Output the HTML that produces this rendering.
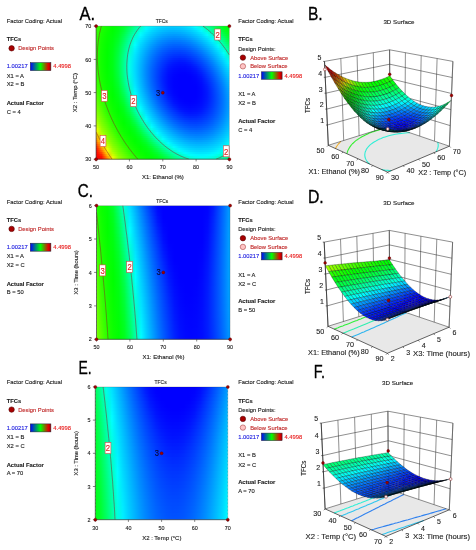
<!DOCTYPE html>
<html><head><meta charset="utf-8"><title>TFCs response surface</title>
<style>html,body{margin:0;padding:0;background:#fff}svg{display:block;font-family:"Liberation Sans", sans-serif}</style></head>
<body><svg width="476" height="550" viewBox="0 0 476 550">
<defs><linearGradient id="lg" x1="0" x2="1" y1="0" y2="0"><stop offset="0" stop-color="#0000ff"/><stop offset="0.5" stop-color="#00ff00"/><stop offset="0.88" stop-color="#e60000"/><stop offset="1" stop-color="#a80000"/></linearGradient><clipPath id="cp0"><rect x="96.1" y="26.1" width="133.3" height="133.1"/></clipPath><linearGradient id="g1"><stop offset="0" stop-color="#42ff00"/><stop offset="0.04167" stop-color="#1fff00"/><stop offset="0.08333" stop-color="#0dff00"/><stop offset="0.125" stop-color="#00ff00"/><stop offset="0.1667" stop-color="#00ff10"/><stop offset="0.2083" stop-color="#00ff2c"/><stop offset="0.25" stop-color="#00ff5b"/><stop offset="0.2917" stop-color="#00ff90"/><stop offset="0.3333" stop-color="#00ffc2"/><stop offset="0.375" stop-color="#00fff6"/><stop offset="0.4167" stop-color="#00ecff"/><stop offset="0.4583" stop-color="#00dbff"/><stop offset="0.5" stop-color="#00d0ff"/><stop offset="0.5417" stop-color="#00caff"/><stop offset="0.5833" stop-color="#00c9ff"/><stop offset="0.625" stop-color="#00cdff"/><stop offset="0.6667" stop-color="#00d6ff"/><stop offset="0.7083" stop-color="#00e5ff"/><stop offset="0.75" stop-color="#00fcff"/><stop offset="0.7917" stop-color="#00ffd7"/><stop offset="0.8333" stop-color="#00ffa2"/><stop offset="0.875" stop-color="#00ff6f"/><stop offset="0.9167" stop-color="#00ff3c"/><stop offset="0.9583" stop-color="#00ff18"/><stop offset="1" stop-color="#00ff05"/></linearGradient><linearGradient id="g2"><stop offset="0" stop-color="#3fff00"/><stop offset="0.04167" stop-color="#1dff00"/><stop offset="0.08333" stop-color="#0cff00"/><stop offset="0.125" stop-color="#00ff01"/><stop offset="0.1667" stop-color="#00ff13"/><stop offset="0.2083" stop-color="#00ff34"/><stop offset="0.25" stop-color="#00ff67"/><stop offset="0.2917" stop-color="#00ff9d"/><stop offset="0.3333" stop-color="#00ffd5"/><stop offset="0.375" stop-color="#00faff"/><stop offset="0.4167" stop-color="#00e1ff"/><stop offset="0.4583" stop-color="#00d0ff"/><stop offset="0.5" stop-color="#00c5ff"/><stop offset="0.5417" stop-color="#00bfff"/><stop offset="0.5833" stop-color="#00beff"/><stop offset="0.625" stop-color="#00c1ff"/><stop offset="0.6667" stop-color="#00caff"/><stop offset="0.7083" stop-color="#00d7ff"/><stop offset="0.75" stop-color="#00ebff"/><stop offset="0.7917" stop-color="#00fff2"/><stop offset="0.8333" stop-color="#00ffb9"/><stop offset="0.875" stop-color="#00ff84"/><stop offset="0.9167" stop-color="#00ff4e"/><stop offset="0.9583" stop-color="#00ff21"/><stop offset="1" stop-color="#00ff0a"/></linearGradient><linearGradient id="g3"><stop offset="0" stop-color="#3cff00"/><stop offset="0.04167" stop-color="#1bff00"/><stop offset="0.08333" stop-color="#0bff00"/><stop offset="0.125" stop-color="#00ff03"/><stop offset="0.1667" stop-color="#00ff17"/><stop offset="0.2083" stop-color="#00ff3c"/><stop offset="0.25" stop-color="#00ff72"/><stop offset="0.2917" stop-color="#00ffa9"/><stop offset="0.3333" stop-color="#00ffe7"/><stop offset="0.375" stop-color="#00efff"/><stop offset="0.4167" stop-color="#00d7ff"/><stop offset="0.4583" stop-color="#00c7ff"/><stop offset="0.5" stop-color="#00bbff"/><stop offset="0.5417" stop-color="#00b4ff"/><stop offset="0.5833" stop-color="#00b2ff"/><stop offset="0.625" stop-color="#00b5ff"/><stop offset="0.6667" stop-color="#00beff"/><stop offset="0.7083" stop-color="#00cbff"/><stop offset="0.75" stop-color="#00ddff"/><stop offset="0.7917" stop-color="#00f8ff"/><stop offset="0.8333" stop-color="#00ffd4"/><stop offset="0.875" stop-color="#00ff99"/><stop offset="0.9167" stop-color="#00ff61"/><stop offset="0.9583" stop-color="#00ff2e"/><stop offset="1" stop-color="#00ff10"/></linearGradient><linearGradient id="g4"><stop offset="0" stop-color="#39ff00"/><stop offset="0.04167" stop-color="#19ff00"/><stop offset="0.08333" stop-color="#09ff00"/><stop offset="0.125" stop-color="#00ff05"/><stop offset="0.1667" stop-color="#00ff1a"/><stop offset="0.2083" stop-color="#00ff44"/><stop offset="0.25" stop-color="#00ff7d"/><stop offset="0.2917" stop-color="#00ffb6"/><stop offset="0.3333" stop-color="#00fff6"/><stop offset="0.375" stop-color="#00e5ff"/><stop offset="0.4167" stop-color="#00ceff"/><stop offset="0.4583" stop-color="#00bdff"/><stop offset="0.5" stop-color="#00b0ff"/><stop offset="0.5417" stop-color="#00a8ff"/><stop offset="0.5833" stop-color="#00a6ff"/><stop offset="0.625" stop-color="#00a9ff"/><stop offset="0.6667" stop-color="#00b2ff"/><stop offset="0.7083" stop-color="#00bfff"/><stop offset="0.75" stop-color="#00d1ff"/><stop offset="0.7917" stop-color="#00e8ff"/><stop offset="0.8333" stop-color="#00ffef"/><stop offset="0.875" stop-color="#00ffae"/><stop offset="0.9167" stop-color="#00ff75"/><stop offset="0.9583" stop-color="#00ff3d"/><stop offset="1" stop-color="#00ff17"/></linearGradient><linearGradient id="g5"><stop offset="0" stop-color="#36ff00"/><stop offset="0.04167" stop-color="#18ff00"/><stop offset="0.08333" stop-color="#08ff00"/><stop offset="0.125" stop-color="#00ff07"/><stop offset="0.1667" stop-color="#00ff1e"/><stop offset="0.2083" stop-color="#00ff4c"/><stop offset="0.25" stop-color="#00ff88"/><stop offset="0.2917" stop-color="#00ffc5"/><stop offset="0.3333" stop-color="#00fcff"/><stop offset="0.375" stop-color="#00dcff"/><stop offset="0.4167" stop-color="#00c6ff"/><stop offset="0.4583" stop-color="#00b4ff"/><stop offset="0.5" stop-color="#00a5ff"/><stop offset="0.5417" stop-color="#009dff"/><stop offset="0.5833" stop-color="#009aff"/><stop offset="0.625" stop-color="#009dff"/><stop offset="0.6667" stop-color="#00a5ff"/><stop offset="0.7083" stop-color="#00b3ff"/><stop offset="0.75" stop-color="#00c5ff"/><stop offset="0.7917" stop-color="#00dbff"/><stop offset="0.8333" stop-color="#00fbff"/><stop offset="0.875" stop-color="#00ffc7"/><stop offset="0.9167" stop-color="#00ff89"/><stop offset="0.9583" stop-color="#00ff4d"/><stop offset="1" stop-color="#00ff1e"/></linearGradient><linearGradient id="g6"><stop offset="0" stop-color="#33ff00"/><stop offset="0.04167" stop-color="#16ff00"/><stop offset="0.08333" stop-color="#07ff00"/><stop offset="0.125" stop-color="#00ff09"/><stop offset="0.1667" stop-color="#00ff21"/><stop offset="0.2083" stop-color="#00ff54"/><stop offset="0.25" stop-color="#00ff91"/><stop offset="0.2917" stop-color="#00ffd3"/><stop offset="0.3333" stop-color="#00f3ff"/><stop offset="0.375" stop-color="#00d4ff"/><stop offset="0.4167" stop-color="#00bdff"/><stop offset="0.4583" stop-color="#00aaff"/><stop offset="0.5" stop-color="#009bff"/><stop offset="0.5417" stop-color="#0092ff"/><stop offset="0.5833" stop-color="#008eff"/><stop offset="0.625" stop-color="#0091ff"/><stop offset="0.6667" stop-color="#0099ff"/><stop offset="0.7083" stop-color="#00a7ff"/><stop offset="0.75" stop-color="#00b9ff"/><stop offset="0.7917" stop-color="#00cfff"/><stop offset="0.8333" stop-color="#00ebff"/><stop offset="0.875" stop-color="#00ffe1"/><stop offset="0.9167" stop-color="#00ff9d"/><stop offset="0.9583" stop-color="#00ff60"/><stop offset="1" stop-color="#00ff29"/></linearGradient><linearGradient id="g7"><stop offset="0" stop-color="#31ff00"/><stop offset="0.04167" stop-color="#15ff00"/><stop offset="0.08333" stop-color="#06ff00"/><stop offset="0.125" stop-color="#00ff0a"/><stop offset="0.1667" stop-color="#00ff26"/><stop offset="0.2083" stop-color="#00ff5b"/><stop offset="0.25" stop-color="#00ff9b"/><stop offset="0.2917" stop-color="#00ffe1"/><stop offset="0.3333" stop-color="#00eaff"/><stop offset="0.375" stop-color="#00cdff"/><stop offset="0.4167" stop-color="#00b5ff"/><stop offset="0.4583" stop-color="#00a0ff"/><stop offset="0.5" stop-color="#0091ff"/><stop offset="0.5417" stop-color="#0087ff"/><stop offset="0.5833" stop-color="#0083ff"/><stop offset="0.625" stop-color="#0085ff"/><stop offset="0.6667" stop-color="#008dff"/><stop offset="0.7083" stop-color="#009aff"/><stop offset="0.75" stop-color="#00adff"/><stop offset="0.7917" stop-color="#00c4ff"/><stop offset="0.8333" stop-color="#00deff"/><stop offset="0.875" stop-color="#00fff8"/><stop offset="0.9167" stop-color="#00ffb1"/><stop offset="0.9583" stop-color="#00ff72"/><stop offset="1" stop-color="#00ff36"/></linearGradient><linearGradient id="g8"><stop offset="0" stop-color="#30ff00"/><stop offset="0.04167" stop-color="#14ff00"/><stop offset="0.08333" stop-color="#05ff00"/><stop offset="0.125" stop-color="#00ff0c"/><stop offset="0.1667" stop-color="#00ff2a"/><stop offset="0.2083" stop-color="#00ff63"/><stop offset="0.25" stop-color="#00ffa4"/><stop offset="0.2917" stop-color="#00ffed"/><stop offset="0.3333" stop-color="#00e3ff"/><stop offset="0.375" stop-color="#00c6ff"/><stop offset="0.4167" stop-color="#00adff"/><stop offset="0.4583" stop-color="#0097ff"/><stop offset="0.5" stop-color="#0087ff"/><stop offset="0.5417" stop-color="#007dff"/><stop offset="0.5833" stop-color="#0078ff"/><stop offset="0.625" stop-color="#007aff"/><stop offset="0.6667" stop-color="#0081ff"/><stop offset="0.7083" stop-color="#008eff"/><stop offset="0.75" stop-color="#00a1ff"/><stop offset="0.7917" stop-color="#00b9ff"/><stop offset="0.8333" stop-color="#00d3ff"/><stop offset="0.875" stop-color="#00f5ff"/><stop offset="0.9167" stop-color="#00ffc9"/><stop offset="0.9583" stop-color="#00ff85"/><stop offset="1" stop-color="#00ff45"/></linearGradient><linearGradient id="g9"><stop offset="0" stop-color="#2eff00"/><stop offset="0.04167" stop-color="#13ff00"/><stop offset="0.08333" stop-color="#04ff00"/><stop offset="0.125" stop-color="#00ff0e"/><stop offset="0.1667" stop-color="#00ff2e"/><stop offset="0.2083" stop-color="#00ff6a"/><stop offset="0.25" stop-color="#00ffac"/><stop offset="0.2917" stop-color="#00fff7"/><stop offset="0.3333" stop-color="#00dcff"/><stop offset="0.375" stop-color="#00bfff"/><stop offset="0.4167" stop-color="#00a5ff"/><stop offset="0.4583" stop-color="#008fff"/><stop offset="0.5" stop-color="#007eff"/><stop offset="0.5417" stop-color="#0073ff"/><stop offset="0.5833" stop-color="#006eff"/><stop offset="0.625" stop-color="#006fff"/><stop offset="0.6667" stop-color="#0076ff"/><stop offset="0.7083" stop-color="#0082ff"/><stop offset="0.75" stop-color="#0095ff"/><stop offset="0.7917" stop-color="#00adff"/><stop offset="0.8333" stop-color="#00c8ff"/><stop offset="0.875" stop-color="#00e7ff"/><stop offset="0.9167" stop-color="#00ffe2"/><stop offset="0.9583" stop-color="#00ff98"/><stop offset="1" stop-color="#00ff56"/></linearGradient><linearGradient id="g10"><stop offset="0" stop-color="#2dff00"/><stop offset="0.04167" stop-color="#12ff00"/><stop offset="0.08333" stop-color="#03ff00"/><stop offset="0.125" stop-color="#00ff0f"/><stop offset="0.1667" stop-color="#00ff32"/><stop offset="0.2083" stop-color="#00ff70"/><stop offset="0.25" stop-color="#00ffb4"/><stop offset="0.2917" stop-color="#00ffff"/><stop offset="0.3333" stop-color="#00d6ff"/><stop offset="0.375" stop-color="#00b9ff"/><stop offset="0.4167" stop-color="#009dff"/><stop offset="0.4583" stop-color="#0087ff"/><stop offset="0.5" stop-color="#0075ff"/><stop offset="0.5417" stop-color="#0069ff"/><stop offset="0.5833" stop-color="#0063ff"/><stop offset="0.625" stop-color="#0064ff"/><stop offset="0.6667" stop-color="#006bff"/><stop offset="0.7083" stop-color="#0077ff"/><stop offset="0.75" stop-color="#0089ff"/><stop offset="0.7917" stop-color="#00a1ff"/><stop offset="0.8333" stop-color="#00bdff"/><stop offset="0.875" stop-color="#00dbff"/><stop offset="0.9167" stop-color="#00fff7"/><stop offset="0.9583" stop-color="#00ffaa"/><stop offset="1" stop-color="#00ff67"/></linearGradient><linearGradient id="g11"><stop offset="0" stop-color="#2cff00"/><stop offset="0.04167" stop-color="#12ff00"/><stop offset="0.08333" stop-color="#03ff00"/><stop offset="0.125" stop-color="#00ff10"/><stop offset="0.1667" stop-color="#00ff36"/><stop offset="0.2083" stop-color="#00ff76"/><stop offset="0.25" stop-color="#00ffbc"/><stop offset="0.2917" stop-color="#00f8ff"/><stop offset="0.3333" stop-color="#00d1ff"/><stop offset="0.375" stop-color="#00b3ff"/><stop offset="0.4167" stop-color="#0096ff"/><stop offset="0.4583" stop-color="#007fff"/><stop offset="0.5" stop-color="#006cff"/><stop offset="0.5417" stop-color="#0060ff"/><stop offset="0.5833" stop-color="#005aff"/><stop offset="0.625" stop-color="#005aff"/><stop offset="0.6667" stop-color="#0060ff"/><stop offset="0.7083" stop-color="#006cff"/><stop offset="0.75" stop-color="#007eff"/><stop offset="0.7917" stop-color="#0096ff"/><stop offset="0.8333" stop-color="#00b2ff"/><stop offset="0.875" stop-color="#00d0ff"/><stop offset="0.9167" stop-color="#00f7ff"/><stop offset="0.9583" stop-color="#00ffbe"/><stop offset="1" stop-color="#00ff78"/></linearGradient><linearGradient id="g12"><stop offset="0" stop-color="#2bff00"/><stop offset="0.04167" stop-color="#11ff00"/><stop offset="0.08333" stop-color="#02ff00"/><stop offset="0.125" stop-color="#00ff12"/><stop offset="0.1667" stop-color="#00ff39"/><stop offset="0.2083" stop-color="#00ff7b"/><stop offset="0.25" stop-color="#00ffc4"/><stop offset="0.2917" stop-color="#00f2ff"/><stop offset="0.3333" stop-color="#00ccff"/><stop offset="0.375" stop-color="#00adff"/><stop offset="0.4167" stop-color="#0090ff"/><stop offset="0.4583" stop-color="#0077ff"/><stop offset="0.5" stop-color="#0064ff"/><stop offset="0.5417" stop-color="#0057ff"/><stop offset="0.5833" stop-color="#0050ff"/><stop offset="0.625" stop-color="#0050ff"/><stop offset="0.6667" stop-color="#0055ff"/><stop offset="0.7083" stop-color="#0061ff"/><stop offset="0.75" stop-color="#0073ff"/><stop offset="0.7917" stop-color="#008bff"/><stop offset="0.8333" stop-color="#00a7ff"/><stop offset="0.875" stop-color="#00c6ff"/><stop offset="0.9167" stop-color="#00eaff"/><stop offset="0.9583" stop-color="#00ffd5"/><stop offset="1" stop-color="#00ff89"/></linearGradient><linearGradient id="g13"><stop offset="0" stop-color="#2aff00"/><stop offset="0.04167" stop-color="#11ff00"/><stop offset="0.08333" stop-color="#01ff00"/><stop offset="0.125" stop-color="#00ff13"/><stop offset="0.1667" stop-color="#00ff3c"/><stop offset="0.2083" stop-color="#00ff80"/><stop offset="0.25" stop-color="#00ffcc"/><stop offset="0.2917" stop-color="#00edff"/><stop offset="0.3333" stop-color="#00c8ff"/><stop offset="0.375" stop-color="#00a7ff"/><stop offset="0.4167" stop-color="#0089ff"/><stop offset="0.4583" stop-color="#0070ff"/><stop offset="0.5" stop-color="#005dff"/><stop offset="0.5417" stop-color="#004fff"/><stop offset="0.5833" stop-color="#0047ff"/><stop offset="0.625" stop-color="#0046ff"/><stop offset="0.6667" stop-color="#004bff"/><stop offset="0.7083" stop-color="#0057ff"/><stop offset="0.75" stop-color="#0069ff"/><stop offset="0.7917" stop-color="#0080ff"/><stop offset="0.8333" stop-color="#009cff"/><stop offset="0.875" stop-color="#00bcff"/><stop offset="0.9167" stop-color="#00deff"/><stop offset="0.9583" stop-color="#00ffeb"/><stop offset="1" stop-color="#00ff9a"/></linearGradient><linearGradient id="g14"><stop offset="0" stop-color="#2aff00"/><stop offset="0.04167" stop-color="#11ff00"/><stop offset="0.08333" stop-color="#01ff00"/><stop offset="0.125" stop-color="#00ff14"/><stop offset="0.1667" stop-color="#00ff3f"/><stop offset="0.2083" stop-color="#00ff84"/><stop offset="0.25" stop-color="#00ffd3"/><stop offset="0.2917" stop-color="#00e9ff"/><stop offset="0.3333" stop-color="#00c4ff"/><stop offset="0.375" stop-color="#00a2ff"/><stop offset="0.4167" stop-color="#0084ff"/><stop offset="0.4583" stop-color="#006aff"/><stop offset="0.5" stop-color="#0055ff"/><stop offset="0.5417" stop-color="#0047ff"/><stop offset="0.5833" stop-color="#003fff"/><stop offset="0.625" stop-color="#003dff"/><stop offset="0.6667" stop-color="#0042ff"/><stop offset="0.7083" stop-color="#004dff"/><stop offset="0.75" stop-color="#005fff"/><stop offset="0.7917" stop-color="#0076ff"/><stop offset="0.8333" stop-color="#0092ff"/><stop offset="0.875" stop-color="#00b3ff"/><stop offset="0.9167" stop-color="#00d4ff"/><stop offset="0.9583" stop-color="#00fffd"/><stop offset="1" stop-color="#00ffaa"/></linearGradient><linearGradient id="g15"><stop offset="0" stop-color="#2aff00"/><stop offset="0.04167" stop-color="#10ff00"/><stop offset="0.08333" stop-color="#01ff00"/><stop offset="0.125" stop-color="#00ff14"/><stop offset="0.1667" stop-color="#00ff41"/><stop offset="0.2083" stop-color="#00ff88"/><stop offset="0.25" stop-color="#00ffd9"/><stop offset="0.2917" stop-color="#00e5ff"/><stop offset="0.3333" stop-color="#00c0ff"/><stop offset="0.375" stop-color="#009eff"/><stop offset="0.4167" stop-color="#007eff"/><stop offset="0.4583" stop-color="#0064ff"/><stop offset="0.5" stop-color="#004fff"/><stop offset="0.5417" stop-color="#003fff"/><stop offset="0.5833" stop-color="#0036ff"/><stop offset="0.625" stop-color="#0034ff"/><stop offset="0.6667" stop-color="#0038ff"/><stop offset="0.7083" stop-color="#0044ff"/><stop offset="0.75" stop-color="#0055ff"/><stop offset="0.7917" stop-color="#006bff"/><stop offset="0.8333" stop-color="#0088ff"/><stop offset="0.875" stop-color="#00a8ff"/><stop offset="0.9167" stop-color="#00cbff"/><stop offset="0.9583" stop-color="#00f4ff"/><stop offset="1" stop-color="#00ffbc"/></linearGradient><linearGradient id="g16"><stop offset="0" stop-color="#2aff00"/><stop offset="0.04167" stop-color="#10ff00"/><stop offset="0.08333" stop-color="#01ff00"/><stop offset="0.125" stop-color="#00ff15"/><stop offset="0.1667" stop-color="#00ff43"/><stop offset="0.2083" stop-color="#00ff8b"/><stop offset="0.25" stop-color="#00ffde"/><stop offset="0.2917" stop-color="#00e2ff"/><stop offset="0.3333" stop-color="#00bdff"/><stop offset="0.375" stop-color="#0099ff"/><stop offset="0.4167" stop-color="#0079ff"/><stop offset="0.4583" stop-color="#005eff"/><stop offset="0.5" stop-color="#0048ff"/><stop offset="0.5417" stop-color="#0038ff"/><stop offset="0.5833" stop-color="#002eff"/><stop offset="0.625" stop-color="#002bff"/><stop offset="0.6667" stop-color="#002fff"/><stop offset="0.7083" stop-color="#003aff"/><stop offset="0.75" stop-color="#004bff"/><stop offset="0.7917" stop-color="#0062ff"/><stop offset="0.8333" stop-color="#007eff"/><stop offset="0.875" stop-color="#009eff"/><stop offset="0.9167" stop-color="#00c2ff"/><stop offset="0.9583" stop-color="#00e9ff"/><stop offset="1" stop-color="#00ffd0"/></linearGradient><linearGradient id="g17"><stop offset="0" stop-color="#2aff00"/><stop offset="0.04167" stop-color="#10ff00"/><stop offset="0.08333" stop-color="#01ff00"/><stop offset="0.125" stop-color="#00ff15"/><stop offset="0.1667" stop-color="#00ff44"/><stop offset="0.2083" stop-color="#00ff8d"/><stop offset="0.25" stop-color="#00ffe2"/><stop offset="0.2917" stop-color="#00e0ff"/><stop offset="0.3333" stop-color="#00baff"/><stop offset="0.375" stop-color="#0096ff"/><stop offset="0.4167" stop-color="#0075ff"/><stop offset="0.4583" stop-color="#0059ff"/><stop offset="0.5" stop-color="#0043ff"/><stop offset="0.5417" stop-color="#0031ff"/><stop offset="0.5833" stop-color="#0025ff"/><stop offset="0.625" stop-color="#0021ff"/><stop offset="0.6667" stop-color="#0025ff"/><stop offset="0.7083" stop-color="#0031ff"/><stop offset="0.75" stop-color="#0042ff"/><stop offset="0.7917" stop-color="#0059ff"/><stop offset="0.8333" stop-color="#0074ff"/><stop offset="0.875" stop-color="#0095ff"/><stop offset="0.9167" stop-color="#00baff"/><stop offset="0.9583" stop-color="#00dfff"/><stop offset="1" stop-color="#00ffe3"/></linearGradient><linearGradient id="g18"><stop offset="0" stop-color="#2aff00"/><stop offset="0.04167" stop-color="#11ff00"/><stop offset="0.08333" stop-color="#01ff00"/><stop offset="0.125" stop-color="#00ff15"/><stop offset="0.1667" stop-color="#00ff45"/><stop offset="0.2083" stop-color="#00ff8f"/><stop offset="0.25" stop-color="#00ffe5"/><stop offset="0.2917" stop-color="#00deff"/><stop offset="0.3333" stop-color="#00b8ff"/><stop offset="0.375" stop-color="#0092ff"/><stop offset="0.4167" stop-color="#0071ff"/><stop offset="0.4583" stop-color="#0055ff"/><stop offset="0.5" stop-color="#003dff"/><stop offset="0.5417" stop-color="#002aff"/><stop offset="0.5833" stop-color="#001eff"/><stop offset="0.625" stop-color="#0019ff"/><stop offset="0.6667" stop-color="#001cff"/><stop offset="0.7083" stop-color="#0027ff"/><stop offset="0.75" stop-color="#0039ff"/><stop offset="0.7917" stop-color="#0050ff"/><stop offset="0.8333" stop-color="#006bff"/><stop offset="0.875" stop-color="#008cff"/><stop offset="0.9167" stop-color="#00b1ff"/><stop offset="0.9583" stop-color="#00d6ff"/><stop offset="1" stop-color="#00fff4"/></linearGradient><linearGradient id="g19"><stop offset="0" stop-color="#2bff00"/><stop offset="0.04167" stop-color="#11ff00"/><stop offset="0.08333" stop-color="#01ff00"/><stop offset="0.125" stop-color="#00ff15"/><stop offset="0.1667" stop-color="#00ff46"/><stop offset="0.2083" stop-color="#00ff90"/><stop offset="0.25" stop-color="#00ffe7"/><stop offset="0.2917" stop-color="#00dcff"/><stop offset="0.3333" stop-color="#00b6ff"/><stop offset="0.375" stop-color="#0090ff"/><stop offset="0.4167" stop-color="#006eff"/><stop offset="0.4583" stop-color="#0050ff"/><stop offset="0.5" stop-color="#0038ff"/><stop offset="0.5417" stop-color="#0024ff"/><stop offset="0.5833" stop-color="#0017ff"/><stop offset="0.625" stop-color="#0012ff"/><stop offset="0.6667" stop-color="#0014ff"/><stop offset="0.7083" stop-color="#001eff"/><stop offset="0.75" stop-color="#0031ff"/><stop offset="0.7917" stop-color="#0047ff"/><stop offset="0.8333" stop-color="#0063ff"/><stop offset="0.875" stop-color="#0083ff"/><stop offset="0.9167" stop-color="#00a8ff"/><stop offset="0.9583" stop-color="#00ceff"/><stop offset="1" stop-color="#00fcff"/></linearGradient><linearGradient id="g20"><stop offset="0" stop-color="#2cff00"/><stop offset="0.04167" stop-color="#11ff00"/><stop offset="0.08333" stop-color="#01ff00"/><stop offset="0.125" stop-color="#00ff15"/><stop offset="0.1667" stop-color="#00ff46"/><stop offset="0.2083" stop-color="#00ff91"/><stop offset="0.25" stop-color="#00ffe8"/><stop offset="0.2917" stop-color="#00dbff"/><stop offset="0.3333" stop-color="#00b4ff"/><stop offset="0.375" stop-color="#008dff"/><stop offset="0.4167" stop-color="#006bff"/><stop offset="0.4583" stop-color="#004dff"/><stop offset="0.5" stop-color="#0034ff"/><stop offset="0.5417" stop-color="#001eff"/><stop offset="0.5833" stop-color="#0012ff"/><stop offset="0.625" stop-color="#000eff"/><stop offset="0.6667" stop-color="#000fff"/><stop offset="0.7083" stop-color="#0016ff"/><stop offset="0.75" stop-color="#0028ff"/><stop offset="0.7917" stop-color="#003fff"/><stop offset="0.8333" stop-color="#005bff"/><stop offset="0.875" stop-color="#007bff"/><stop offset="0.9167" stop-color="#00a0ff"/><stop offset="0.9583" stop-color="#00c6ff"/><stop offset="1" stop-color="#00f2ff"/></linearGradient><linearGradient id="g21"><stop offset="0" stop-color="#2dff00"/><stop offset="0.04167" stop-color="#12ff00"/><stop offset="0.08333" stop-color="#01ff00"/><stop offset="0.125" stop-color="#00ff15"/><stop offset="0.1667" stop-color="#00ff45"/><stop offset="0.2083" stop-color="#00ff91"/><stop offset="0.25" stop-color="#00ffe9"/><stop offset="0.2917" stop-color="#00daff"/><stop offset="0.3333" stop-color="#00b3ff"/><stop offset="0.375" stop-color="#008bff"/><stop offset="0.4167" stop-color="#0068ff"/><stop offset="0.4583" stop-color="#004aff"/><stop offset="0.5" stop-color="#0030ff"/><stop offset="0.5417" stop-color="#0019ff"/><stop offset="0.5833" stop-color="#000eff"/><stop offset="0.625" stop-color="#000aff"/><stop offset="0.6667" stop-color="#000aff"/><stop offset="0.7083" stop-color="#0010ff"/><stop offset="0.75" stop-color="#001fff"/><stop offset="0.7917" stop-color="#0038ff"/><stop offset="0.8333" stop-color="#0053ff"/><stop offset="0.875" stop-color="#0073ff"/><stop offset="0.9167" stop-color="#0097ff"/><stop offset="0.9583" stop-color="#00bfff"/><stop offset="1" stop-color="#00e9ff"/></linearGradient><linearGradient id="g22"><stop offset="0" stop-color="#2fff00"/><stop offset="0.04167" stop-color="#12ff00"/><stop offset="0.08333" stop-color="#02ff00"/><stop offset="0.125" stop-color="#00ff14"/><stop offset="0.1667" stop-color="#00ff44"/><stop offset="0.2083" stop-color="#00ff90"/><stop offset="0.25" stop-color="#00ffe9"/><stop offset="0.2917" stop-color="#00daff"/><stop offset="0.3333" stop-color="#00b2ff"/><stop offset="0.375" stop-color="#008aff"/><stop offset="0.4167" stop-color="#0066ff"/><stop offset="0.4583" stop-color="#0047ff"/><stop offset="0.5" stop-color="#002cff"/><stop offset="0.5417" stop-color="#0015ff"/><stop offset="0.5833" stop-color="#000bff"/><stop offset="0.625" stop-color="#0006ff"/><stop offset="0.6667" stop-color="#0007ff"/><stop offset="0.7083" stop-color="#000cff"/><stop offset="0.75" stop-color="#0018ff"/><stop offset="0.7917" stop-color="#0030ff"/><stop offset="0.8333" stop-color="#004cff"/><stop offset="0.875" stop-color="#006cff"/><stop offset="0.9167" stop-color="#0090ff"/><stop offset="0.9583" stop-color="#00b8ff"/><stop offset="1" stop-color="#00e0ff"/></linearGradient><linearGradient id="g23"><stop offset="0" stop-color="#30ff00"/><stop offset="0.04167" stop-color="#13ff00"/><stop offset="0.08333" stop-color="#02ff00"/><stop offset="0.125" stop-color="#00ff13"/><stop offset="0.1667" stop-color="#00ff42"/><stop offset="0.2083" stop-color="#00ff8e"/><stop offset="0.25" stop-color="#00ffe8"/><stop offset="0.2917" stop-color="#00daff"/><stop offset="0.3333" stop-color="#00b2ff"/><stop offset="0.375" stop-color="#0089ff"/><stop offset="0.4167" stop-color="#0065ff"/><stop offset="0.4583" stop-color="#0045ff"/><stop offset="0.5" stop-color="#0029ff"/><stop offset="0.5417" stop-color="#0012ff"/><stop offset="0.5833" stop-color="#0008ff"/><stop offset="0.625" stop-color="#0004ff"/><stop offset="0.6667" stop-color="#0004ff"/><stop offset="0.7083" stop-color="#0008ff"/><stop offset="0.75" stop-color="#0012ff"/><stop offset="0.7917" stop-color="#0028ff"/><stop offset="0.8333" stop-color="#0045ff"/><stop offset="0.875" stop-color="#0065ff"/><stop offset="0.9167" stop-color="#0089ff"/><stop offset="0.9583" stop-color="#00b1ff"/><stop offset="1" stop-color="#00d9ff"/></linearGradient><linearGradient id="g24"><stop offset="0" stop-color="#32ff00"/><stop offset="0.04167" stop-color="#14ff00"/><stop offset="0.08333" stop-color="#03ff00"/><stop offset="0.125" stop-color="#00ff12"/><stop offset="0.1667" stop-color="#00ff40"/><stop offset="0.2083" stop-color="#00ff8c"/><stop offset="0.25" stop-color="#00ffe6"/><stop offset="0.2917" stop-color="#00dbff"/><stop offset="0.3333" stop-color="#00b2ff"/><stop offset="0.375" stop-color="#0089ff"/><stop offset="0.4167" stop-color="#0064ff"/><stop offset="0.4583" stop-color="#0044ff"/><stop offset="0.5" stop-color="#0026ff"/><stop offset="0.5417" stop-color="#0010ff"/><stop offset="0.5833" stop-color="#0006ff"/><stop offset="0.625" stop-color="#0002ff"/><stop offset="0.6667" stop-color="#0001ff"/><stop offset="0.7083" stop-color="#0005ff"/><stop offset="0.75" stop-color="#000eff"/><stop offset="0.7917" stop-color="#0021ff"/><stop offset="0.8333" stop-color="#003eff"/><stop offset="0.875" stop-color="#005eff"/><stop offset="0.9167" stop-color="#0082ff"/><stop offset="0.9583" stop-color="#00aaff"/><stop offset="1" stop-color="#00d3ff"/></linearGradient><linearGradient id="g25"><stop offset="0" stop-color="#34ff00"/><stop offset="0.04167" stop-color="#15ff00"/><stop offset="0.08333" stop-color="#04ff00"/><stop offset="0.125" stop-color="#00ff11"/><stop offset="0.1667" stop-color="#00ff3e"/><stop offset="0.2083" stop-color="#00ff8a"/><stop offset="0.25" stop-color="#00ffe3"/><stop offset="0.2917" stop-color="#00dcff"/><stop offset="0.3333" stop-color="#00b2ff"/><stop offset="0.375" stop-color="#0089ff"/><stop offset="0.4167" stop-color="#0064ff"/><stop offset="0.4583" stop-color="#0043ff"/><stop offset="0.5" stop-color="#0025ff"/><stop offset="0.5417" stop-color="#000eff"/><stop offset="0.5833" stop-color="#0004ff"/><stop offset="0.625" stop-color="#0000ff"/><stop offset="0.6667" stop-color="#0000ff"/><stop offset="0.7083" stop-color="#0002ff"/><stop offset="0.75" stop-color="#000aff"/><stop offset="0.7917" stop-color="#001bff"/><stop offset="0.8333" stop-color="#0038ff"/><stop offset="0.875" stop-color="#0058ff"/><stop offset="0.9167" stop-color="#007cff"/><stop offset="0.9583" stop-color="#00a4ff"/><stop offset="1" stop-color="#00cdff"/></linearGradient><linearGradient id="g26"><stop offset="0" stop-color="#37ff00"/><stop offset="0.04167" stop-color="#16ff00"/><stop offset="0.08333" stop-color="#04ff00"/><stop offset="0.125" stop-color="#00ff10"/><stop offset="0.1667" stop-color="#00ff3b"/><stop offset="0.2083" stop-color="#00ff86"/><stop offset="0.25" stop-color="#00ffdf"/><stop offset="0.2917" stop-color="#00ddff"/><stop offset="0.3333" stop-color="#00b3ff"/><stop offset="0.375" stop-color="#008aff"/><stop offset="0.4167" stop-color="#0064ff"/><stop offset="0.4583" stop-color="#0042ff"/><stop offset="0.5" stop-color="#0023ff"/><stop offset="0.5417" stop-color="#000dff"/><stop offset="0.5833" stop-color="#0003ff"/><stop offset="0.625" stop-color="#0000ff"/><stop offset="0.6667" stop-color="#0000ff"/><stop offset="0.7083" stop-color="#0000ff"/><stop offset="0.75" stop-color="#0007ff"/><stop offset="0.7917" stop-color="#0016ff"/><stop offset="0.8333" stop-color="#0033ff"/><stop offset="0.875" stop-color="#0052ff"/><stop offset="0.9167" stop-color="#0076ff"/><stop offset="0.9583" stop-color="#009eff"/><stop offset="1" stop-color="#00c7ff"/></linearGradient><linearGradient id="g27"><stop offset="0" stop-color="#3aff00"/><stop offset="0.04167" stop-color="#17ff00"/><stop offset="0.08333" stop-color="#05ff00"/><stop offset="0.125" stop-color="#00ff0e"/><stop offset="0.1667" stop-color="#00ff37"/><stop offset="0.2083" stop-color="#00ff82"/><stop offset="0.25" stop-color="#00ffdb"/><stop offset="0.2917" stop-color="#00dfff"/><stop offset="0.3333" stop-color="#00b5ff"/><stop offset="0.375" stop-color="#008bff"/><stop offset="0.4167" stop-color="#0065ff"/><stop offset="0.4583" stop-color="#0043ff"/><stop offset="0.5" stop-color="#0023ff"/><stop offset="0.5417" stop-color="#000dff"/><stop offset="0.5833" stop-color="#0002ff"/><stop offset="0.625" stop-color="#0000ff"/><stop offset="0.6667" stop-color="#0000ff"/><stop offset="0.7083" stop-color="#0000ff"/><stop offset="0.75" stop-color="#0005ff"/><stop offset="0.7917" stop-color="#0012ff"/><stop offset="0.8333" stop-color="#002dff"/><stop offset="0.875" stop-color="#004dff"/><stop offset="0.9167" stop-color="#0071ff"/><stop offset="0.9583" stop-color="#0098ff"/><stop offset="1" stop-color="#00c2ff"/></linearGradient><linearGradient id="g28"><stop offset="0" stop-color="#3dff00"/><stop offset="0.04167" stop-color="#18ff00"/><stop offset="0.08333" stop-color="#06ff00"/><stop offset="0.125" stop-color="#00ff0d"/><stop offset="0.1667" stop-color="#00ff34"/><stop offset="0.2083" stop-color="#00ff7e"/><stop offset="0.25" stop-color="#00ffd5"/><stop offset="0.2917" stop-color="#00e1ff"/><stop offset="0.3333" stop-color="#00b7ff"/><stop offset="0.375" stop-color="#008dff"/><stop offset="0.4167" stop-color="#0066ff"/><stop offset="0.4583" stop-color="#0043ff"/><stop offset="0.5" stop-color="#0023ff"/><stop offset="0.5417" stop-color="#000cff"/><stop offset="0.5833" stop-color="#0002ff"/><stop offset="0.625" stop-color="#0000ff"/><stop offset="0.6667" stop-color="#0000ff"/><stop offset="0.7083" stop-color="#0000ff"/><stop offset="0.75" stop-color="#0003ff"/><stop offset="0.7917" stop-color="#000fff"/><stop offset="0.8333" stop-color="#0028ff"/><stop offset="0.875" stop-color="#0049ff"/><stop offset="0.9167" stop-color="#006cff"/><stop offset="0.9583" stop-color="#0093ff"/><stop offset="1" stop-color="#00bdff"/></linearGradient><linearGradient id="g29"><stop offset="0" stop-color="#40ff00"/><stop offset="0.04167" stop-color="#1aff00"/><stop offset="0.08333" stop-color="#07ff00"/><stop offset="0.125" stop-color="#00ff0b"/><stop offset="0.1667" stop-color="#00ff30"/><stop offset="0.2083" stop-color="#00ff79"/><stop offset="0.25" stop-color="#00ffcf"/><stop offset="0.2917" stop-color="#00e4ff"/><stop offset="0.3333" stop-color="#00b9ff"/><stop offset="0.375" stop-color="#008fff"/><stop offset="0.4167" stop-color="#0068ff"/><stop offset="0.4583" stop-color="#0045ff"/><stop offset="0.5" stop-color="#0024ff"/><stop offset="0.5417" stop-color="#000cff"/><stop offset="0.5833" stop-color="#0002ff"/><stop offset="0.625" stop-color="#0000ff"/><stop offset="0.6667" stop-color="#0000ff"/><stop offset="0.7083" stop-color="#0000ff"/><stop offset="0.75" stop-color="#0002ff"/><stop offset="0.7917" stop-color="#000cff"/><stop offset="0.8333" stop-color="#0024ff"/><stop offset="0.875" stop-color="#0044ff"/><stop offset="0.9167" stop-color="#0067ff"/><stop offset="0.9583" stop-color="#008eff"/><stop offset="1" stop-color="#00b9ff"/></linearGradient><linearGradient id="g30"><stop offset="0" stop-color="#44ff00"/><stop offset="0.04167" stop-color="#1cff00"/><stop offset="0.08333" stop-color="#09ff00"/><stop offset="0.125" stop-color="#00ff0a"/><stop offset="0.1667" stop-color="#00ff2c"/><stop offset="0.2083" stop-color="#00ff73"/><stop offset="0.25" stop-color="#00ffc8"/><stop offset="0.2917" stop-color="#00e7ff"/><stop offset="0.3333" stop-color="#00bcff"/><stop offset="0.375" stop-color="#0091ff"/><stop offset="0.4167" stop-color="#006aff"/><stop offset="0.4583" stop-color="#0047ff"/><stop offset="0.5" stop-color="#0026ff"/><stop offset="0.5417" stop-color="#000dff"/><stop offset="0.5833" stop-color="#0002ff"/><stop offset="0.625" stop-color="#0000ff"/><stop offset="0.6667" stop-color="#0000ff"/><stop offset="0.7083" stop-color="#0000ff"/><stop offset="0.75" stop-color="#0001ff"/><stop offset="0.7917" stop-color="#000aff"/><stop offset="0.8333" stop-color="#0020ff"/><stop offset="0.875" stop-color="#0041ff"/><stop offset="0.9167" stop-color="#0063ff"/><stop offset="0.9583" stop-color="#008aff"/><stop offset="1" stop-color="#00b5ff"/></linearGradient><linearGradient id="g31"><stop offset="0" stop-color="#48ff00"/><stop offset="0.04167" stop-color="#1eff00"/><stop offset="0.08333" stop-color="#0aff00"/><stop offset="0.125" stop-color="#00ff08"/><stop offset="0.1667" stop-color="#00ff28"/><stop offset="0.2083" stop-color="#00ff6d"/><stop offset="0.25" stop-color="#00ffc0"/><stop offset="0.2917" stop-color="#00ebff"/><stop offset="0.3333" stop-color="#00bfff"/><stop offset="0.375" stop-color="#0094ff"/><stop offset="0.4167" stop-color="#006dff"/><stop offset="0.4583" stop-color="#0049ff"/><stop offset="0.5" stop-color="#0028ff"/><stop offset="0.5417" stop-color="#000eff"/><stop offset="0.5833" stop-color="#0002ff"/><stop offset="0.625" stop-color="#0000ff"/><stop offset="0.6667" stop-color="#0000ff"/><stop offset="0.7083" stop-color="#0000ff"/><stop offset="0.75" stop-color="#0000ff"/><stop offset="0.7917" stop-color="#0009ff"/><stop offset="0.8333" stop-color="#001dff"/><stop offset="0.875" stop-color="#003eff"/><stop offset="0.9167" stop-color="#0060ff"/><stop offset="0.9583" stop-color="#0086ff"/><stop offset="1" stop-color="#00b1ff"/></linearGradient><linearGradient id="g32"><stop offset="0" stop-color="#4cff00"/><stop offset="0.04167" stop-color="#21ff00"/><stop offset="0.08333" stop-color="#0bff00"/><stop offset="0.125" stop-color="#00ff06"/><stop offset="0.1667" stop-color="#00ff23"/><stop offset="0.2083" stop-color="#00ff66"/><stop offset="0.25" stop-color="#00ffb8"/><stop offset="0.2917" stop-color="#00f0ff"/><stop offset="0.3333" stop-color="#00c3ff"/><stop offset="0.375" stop-color="#0098ff"/><stop offset="0.4167" stop-color="#0070ff"/><stop offset="0.4583" stop-color="#004cff"/><stop offset="0.5" stop-color="#002bff"/><stop offset="0.5417" stop-color="#0010ff"/><stop offset="0.5833" stop-color="#0003ff"/><stop offset="0.625" stop-color="#0000ff"/><stop offset="0.6667" stop-color="#0000ff"/><stop offset="0.7083" stop-color="#0000ff"/><stop offset="0.75" stop-color="#0000ff"/><stop offset="0.7917" stop-color="#0008ff"/><stop offset="0.8333" stop-color="#001bff"/><stop offset="0.875" stop-color="#003bff"/><stop offset="0.9167" stop-color="#005dff"/><stop offset="0.9583" stop-color="#0083ff"/><stop offset="1" stop-color="#00adff"/></linearGradient><linearGradient id="g33"><stop offset="0" stop-color="#51ff00"/><stop offset="0.04167" stop-color="#23ff00"/><stop offset="0.08333" stop-color="#0dff00"/><stop offset="0.125" stop-color="#00ff04"/><stop offset="0.1667" stop-color="#00ff1f"/><stop offset="0.2083" stop-color="#00ff5f"/><stop offset="0.25" stop-color="#00ffaf"/><stop offset="0.2917" stop-color="#00f5ff"/><stop offset="0.3333" stop-color="#00c6ff"/><stop offset="0.375" stop-color="#009cff"/><stop offset="0.4167" stop-color="#0074ff"/><stop offset="0.4583" stop-color="#004fff"/><stop offset="0.5" stop-color="#002fff"/><stop offset="0.5417" stop-color="#0012ff"/><stop offset="0.5833" stop-color="#0004ff"/><stop offset="0.625" stop-color="#0000ff"/><stop offset="0.6667" stop-color="#0000ff"/><stop offset="0.7083" stop-color="#0000ff"/><stop offset="0.75" stop-color="#0000ff"/><stop offset="0.7917" stop-color="#0007ff"/><stop offset="0.8333" stop-color="#0019ff"/><stop offset="0.875" stop-color="#0039ff"/><stop offset="0.9167" stop-color="#005bff"/><stop offset="0.9583" stop-color="#0080ff"/><stop offset="1" stop-color="#00aaff"/></linearGradient><linearGradient id="g34"><stop offset="0" stop-color="#55ff00"/><stop offset="0.04167" stop-color="#27ff00"/><stop offset="0.08333" stop-color="#0eff00"/><stop offset="0.125" stop-color="#00ff02"/><stop offset="0.1667" stop-color="#00ff1c"/><stop offset="0.2083" stop-color="#00ff57"/><stop offset="0.25" stop-color="#00ffa7"/><stop offset="0.2917" stop-color="#00fcff"/><stop offset="0.3333" stop-color="#00cbff"/><stop offset="0.375" stop-color="#00a1ff"/><stop offset="0.4167" stop-color="#0078ff"/><stop offset="0.4583" stop-color="#0053ff"/><stop offset="0.5" stop-color="#0033ff"/><stop offset="0.5417" stop-color="#0014ff"/><stop offset="0.5833" stop-color="#0005ff"/><stop offset="0.625" stop-color="#0000ff"/><stop offset="0.6667" stop-color="#0000ff"/><stop offset="0.7083" stop-color="#0000ff"/><stop offset="0.75" stop-color="#0000ff"/><stop offset="0.7917" stop-color="#0007ff"/><stop offset="0.8333" stop-color="#0018ff"/><stop offset="0.875" stop-color="#0038ff"/><stop offset="0.9167" stop-color="#0059ff"/><stop offset="0.9583" stop-color="#007eff"/><stop offset="1" stop-color="#00a7ff"/></linearGradient><linearGradient id="g35"><stop offset="0" stop-color="#5aff00"/><stop offset="0.04167" stop-color="#2aff00"/><stop offset="0.08333" stop-color="#10ff00"/><stop offset="0.125" stop-color="#00ff01"/><stop offset="0.1667" stop-color="#00ff18"/><stop offset="0.2083" stop-color="#00ff4f"/><stop offset="0.25" stop-color="#00ff9f"/><stop offset="0.2917" stop-color="#00fffb"/><stop offset="0.3333" stop-color="#00cfff"/><stop offset="0.375" stop-color="#00a6ff"/><stop offset="0.4167" stop-color="#007dff"/><stop offset="0.4583" stop-color="#0058ff"/><stop offset="0.5" stop-color="#0037ff"/><stop offset="0.5417" stop-color="#0018ff"/><stop offset="0.5833" stop-color="#0007ff"/><stop offset="0.625" stop-color="#0000ff"/><stop offset="0.6667" stop-color="#0000ff"/><stop offset="0.7083" stop-color="#0000ff"/><stop offset="0.75" stop-color="#0000ff"/><stop offset="0.7917" stop-color="#0007ff"/><stop offset="0.8333" stop-color="#0018ff"/><stop offset="0.875" stop-color="#0037ff"/><stop offset="0.9167" stop-color="#0057ff"/><stop offset="0.9583" stop-color="#007cff"/><stop offset="1" stop-color="#00a5ff"/></linearGradient><linearGradient id="g36"><stop offset="0" stop-color="#5eff00"/><stop offset="0.04167" stop-color="#2fff00"/><stop offset="0.08333" stop-color="#12ff00"/><stop offset="0.125" stop-color="#01ff00"/><stop offset="0.1667" stop-color="#00ff15"/><stop offset="0.2083" stop-color="#00ff47"/><stop offset="0.25" stop-color="#00ff96"/><stop offset="0.2917" stop-color="#00fff1"/><stop offset="0.3333" stop-color="#00d4ff"/><stop offset="0.375" stop-color="#00abff"/><stop offset="0.4167" stop-color="#0082ff"/><stop offset="0.4583" stop-color="#005dff"/><stop offset="0.5" stop-color="#003cff"/><stop offset="0.5417" stop-color="#001dff"/><stop offset="0.5833" stop-color="#000aff"/><stop offset="0.625" stop-color="#0001ff"/><stop offset="0.6667" stop-color="#0000ff"/><stop offset="0.7083" stop-color="#0000ff"/><stop offset="0.75" stop-color="#0000ff"/><stop offset="0.7917" stop-color="#0008ff"/><stop offset="0.8333" stop-color="#0018ff"/><stop offset="0.875" stop-color="#0036ff"/><stop offset="0.9167" stop-color="#0057ff"/><stop offset="0.9583" stop-color="#007bff"/><stop offset="1" stop-color="#00a4ff"/></linearGradient><linearGradient id="g37"><stop offset="0" stop-color="#63ff00"/><stop offset="0.04167" stop-color="#34ff00"/><stop offset="0.08333" stop-color="#14ff00"/><stop offset="0.125" stop-color="#03ff00"/><stop offset="0.1667" stop-color="#00ff12"/><stop offset="0.2083" stop-color="#00ff3f"/><stop offset="0.25" stop-color="#00ff8c"/><stop offset="0.2917" stop-color="#00ffe6"/><stop offset="0.3333" stop-color="#00daff"/><stop offset="0.375" stop-color="#00b1ff"/><stop offset="0.4167" stop-color="#0087ff"/><stop offset="0.4583" stop-color="#0062ff"/><stop offset="0.5" stop-color="#0041ff"/><stop offset="0.5417" stop-color="#0022ff"/><stop offset="0.5833" stop-color="#000dff"/><stop offset="0.625" stop-color="#0003ff"/><stop offset="0.6667" stop-color="#0000ff"/><stop offset="0.7083" stop-color="#0000ff"/><stop offset="0.75" stop-color="#0001ff"/><stop offset="0.7917" stop-color="#0009ff"/><stop offset="0.8333" stop-color="#0019ff"/><stop offset="0.875" stop-color="#0037ff"/><stop offset="0.9167" stop-color="#0056ff"/><stop offset="0.9583" stop-color="#007aff"/><stop offset="1" stop-color="#00a2ff"/></linearGradient><linearGradient id="g38"><stop offset="0" stop-color="#68ff00"/><stop offset="0.04167" stop-color="#39ff00"/><stop offset="0.08333" stop-color="#17ff00"/><stop offset="0.125" stop-color="#05ff00"/><stop offset="0.1667" stop-color="#00ff0f"/><stop offset="0.2083" stop-color="#00ff37"/><stop offset="0.25" stop-color="#00ff82"/><stop offset="0.2917" stop-color="#00ffd9"/><stop offset="0.3333" stop-color="#00e0ff"/><stop offset="0.375" stop-color="#00b7ff"/><stop offset="0.4167" stop-color="#008eff"/><stop offset="0.4583" stop-color="#0068ff"/><stop offset="0.5" stop-color="#0047ff"/><stop offset="0.5417" stop-color="#0029ff"/><stop offset="0.5833" stop-color="#0011ff"/><stop offset="0.625" stop-color="#0006ff"/><stop offset="0.6667" stop-color="#0001ff"/><stop offset="0.7083" stop-color="#0000ff"/><stop offset="0.75" stop-color="#0003ff"/><stop offset="0.7917" stop-color="#000aff"/><stop offset="0.8333" stop-color="#001bff"/><stop offset="0.875" stop-color="#0037ff"/><stop offset="0.9167" stop-color="#0057ff"/><stop offset="0.9583" stop-color="#007aff"/><stop offset="1" stop-color="#00a2ff"/></linearGradient><linearGradient id="g39"><stop offset="0" stop-color="#6dff00"/><stop offset="0.04167" stop-color="#3eff00"/><stop offset="0.08333" stop-color="#19ff00"/><stop offset="0.125" stop-color="#07ff00"/><stop offset="0.1667" stop-color="#00ff0b"/><stop offset="0.2083" stop-color="#00ff30"/><stop offset="0.25" stop-color="#00ff77"/><stop offset="0.2917" stop-color="#00ffcb"/><stop offset="0.3333" stop-color="#00e7ff"/><stop offset="0.375" stop-color="#00bdff"/><stop offset="0.4167" stop-color="#0094ff"/><stop offset="0.4583" stop-color="#006eff"/><stop offset="0.5" stop-color="#004dff"/><stop offset="0.5417" stop-color="#0030ff"/><stop offset="0.5833" stop-color="#0015ff"/><stop offset="0.625" stop-color="#0009ff"/><stop offset="0.6667" stop-color="#0003ff"/><stop offset="0.7083" stop-color="#0002ff"/><stop offset="0.75" stop-color="#0004ff"/><stop offset="0.7917" stop-color="#000cff"/><stop offset="0.8333" stop-color="#001dff"/><stop offset="0.875" stop-color="#0039ff"/><stop offset="0.9167" stop-color="#0057ff"/><stop offset="0.9583" stop-color="#007aff"/><stop offset="1" stop-color="#00a1ff"/></linearGradient><linearGradient id="g40"><stop offset="0" stop-color="#72ff00"/><stop offset="0.04167" stop-color="#44ff00"/><stop offset="0.08333" stop-color="#1cff00"/><stop offset="0.125" stop-color="#09ff00"/><stop offset="0.1667" stop-color="#00ff08"/><stop offset="0.2083" stop-color="#00ff28"/><stop offset="0.25" stop-color="#00ff6c"/><stop offset="0.2917" stop-color="#00ffbc"/><stop offset="0.3333" stop-color="#00efff"/><stop offset="0.375" stop-color="#00c3ff"/><stop offset="0.4167" stop-color="#009bff"/><stop offset="0.4583" stop-color="#0075ff"/><stop offset="0.5" stop-color="#0054ff"/><stop offset="0.5417" stop-color="#0036ff"/><stop offset="0.5833" stop-color="#001cff"/><stop offset="0.625" stop-color="#000dff"/><stop offset="0.6667" stop-color="#0006ff"/><stop offset="0.7083" stop-color="#0004ff"/><stop offset="0.75" stop-color="#0007ff"/><stop offset="0.7917" stop-color="#000eff"/><stop offset="0.8333" stop-color="#0020ff"/><stop offset="0.875" stop-color="#003bff"/><stop offset="0.9167" stop-color="#0059ff"/><stop offset="0.9583" stop-color="#007bff"/><stop offset="1" stop-color="#00a2ff"/></linearGradient><linearGradient id="g41"><stop offset="0" stop-color="#77ff00"/><stop offset="0.04167" stop-color="#4bff00"/><stop offset="0.08333" stop-color="#20ff00"/><stop offset="0.125" stop-color="#0bff00"/><stop offset="0.1667" stop-color="#00ff06"/><stop offset="0.2083" stop-color="#00ff21"/><stop offset="0.25" stop-color="#00ff60"/><stop offset="0.2917" stop-color="#00ffae"/><stop offset="0.3333" stop-color="#00f8ff"/><stop offset="0.375" stop-color="#00caff"/><stop offset="0.4167" stop-color="#00a2ff"/><stop offset="0.4583" stop-color="#007cff"/><stop offset="0.5" stop-color="#005bff"/><stop offset="0.5417" stop-color="#003dff"/><stop offset="0.5833" stop-color="#0023ff"/><stop offset="0.625" stop-color="#0011ff"/><stop offset="0.6667" stop-color="#000aff"/><stop offset="0.7083" stop-color="#0007ff"/><stop offset="0.75" stop-color="#000aff"/><stop offset="0.7917" stop-color="#0011ff"/><stop offset="0.8333" stop-color="#0023ff"/><stop offset="0.875" stop-color="#003dff"/><stop offset="0.9167" stop-color="#005bff"/><stop offset="0.9583" stop-color="#007cff"/><stop offset="1" stop-color="#00a2ff"/></linearGradient><linearGradient id="g42"><stop offset="0" stop-color="#7cff00"/><stop offset="0.04167" stop-color="#51ff00"/><stop offset="0.08333" stop-color="#24ff00"/><stop offset="0.125" stop-color="#0dff00"/><stop offset="0.1667" stop-color="#00ff03"/><stop offset="0.2083" stop-color="#00ff1c"/><stop offset="0.25" stop-color="#00ff55"/><stop offset="0.2917" stop-color="#00ffa2"/><stop offset="0.3333" stop-color="#00fffb"/><stop offset="0.375" stop-color="#00d1ff"/><stop offset="0.4167" stop-color="#00aaff"/><stop offset="0.4583" stop-color="#0084ff"/><stop offset="0.5" stop-color="#0062ff"/><stop offset="0.5417" stop-color="#0045ff"/><stop offset="0.5833" stop-color="#002cff"/><stop offset="0.625" stop-color="#0017ff"/><stop offset="0.6667" stop-color="#000eff"/><stop offset="0.7083" stop-color="#000bff"/><stop offset="0.75" stop-color="#000dff"/><stop offset="0.7917" stop-color="#0015ff"/><stop offset="0.8333" stop-color="#0028ff"/><stop offset="0.875" stop-color="#0041ff"/><stop offset="0.9167" stop-color="#005dff"/><stop offset="0.9583" stop-color="#007eff"/><stop offset="1" stop-color="#00a4ff"/></linearGradient><linearGradient id="g43"><stop offset="0" stop-color="#82ff00"/><stop offset="0.04167" stop-color="#58ff00"/><stop offset="0.08333" stop-color="#29ff00"/><stop offset="0.125" stop-color="#10ff00"/><stop offset="0.1667" stop-color="#00ff00"/><stop offset="0.2083" stop-color="#00ff17"/><stop offset="0.25" stop-color="#00ff4a"/><stop offset="0.2917" stop-color="#00ff95"/><stop offset="0.3333" stop-color="#00ffed"/><stop offset="0.375" stop-color="#00d9ff"/><stop offset="0.4167" stop-color="#00b2ff"/><stop offset="0.4583" stop-color="#008cff"/><stop offset="0.5" stop-color="#006aff"/><stop offset="0.5417" stop-color="#004dff"/><stop offset="0.5833" stop-color="#0034ff"/><stop offset="0.625" stop-color="#001fff"/><stop offset="0.6667" stop-color="#0013ff"/><stop offset="0.7083" stop-color="#000fff"/><stop offset="0.75" stop-color="#0011ff"/><stop offset="0.7917" stop-color="#001aff"/><stop offset="0.8333" stop-color="#002dff"/><stop offset="0.875" stop-color="#0044ff"/><stop offset="0.9167" stop-color="#0060ff"/><stop offset="0.9583" stop-color="#0080ff"/><stop offset="1" stop-color="#00a5ff"/></linearGradient><linearGradient id="g44"><stop offset="0" stop-color="#89ff00"/><stop offset="0.04167" stop-color="#5eff00"/><stop offset="0.08333" stop-color="#2fff00"/><stop offset="0.125" stop-color="#13ff00"/><stop offset="0.1667" stop-color="#02ff00"/><stop offset="0.2083" stop-color="#00ff12"/><stop offset="0.25" stop-color="#00ff3e"/><stop offset="0.2917" stop-color="#00ff87"/><stop offset="0.3333" stop-color="#00ffdc"/><stop offset="0.375" stop-color="#00e1ff"/><stop offset="0.4167" stop-color="#00bbff"/><stop offset="0.4583" stop-color="#0095ff"/><stop offset="0.5" stop-color="#0073ff"/><stop offset="0.5417" stop-color="#0055ff"/><stop offset="0.5833" stop-color="#003dff"/><stop offset="0.625" stop-color="#0029ff"/><stop offset="0.6667" stop-color="#001bff"/><stop offset="0.7083" stop-color="#0015ff"/><stop offset="0.75" stop-color="#0017ff"/><stop offset="0.7917" stop-color="#0020ff"/><stop offset="0.8333" stop-color="#0032ff"/><stop offset="0.875" stop-color="#0048ff"/><stop offset="0.9167" stop-color="#0063ff"/><stop offset="0.9583" stop-color="#0083ff"/><stop offset="1" stop-color="#00a7ff"/></linearGradient><linearGradient id="g45"><stop offset="0" stop-color="#90ff00"/><stop offset="0.04167" stop-color="#64ff00"/><stop offset="0.08333" stop-color="#36ff00"/><stop offset="0.125" stop-color="#16ff00"/><stop offset="0.1667" stop-color="#05ff00"/><stop offset="0.2083" stop-color="#00ff0e"/><stop offset="0.25" stop-color="#00ff34"/><stop offset="0.2917" stop-color="#00ff79"/><stop offset="0.3333" stop-color="#00ffc9"/><stop offset="0.375" stop-color="#00ebff"/><stop offset="0.4167" stop-color="#00c3ff"/><stop offset="0.4583" stop-color="#009eff"/><stop offset="0.5" stop-color="#007bff"/><stop offset="0.5417" stop-color="#005eff"/><stop offset="0.5833" stop-color="#0045ff"/><stop offset="0.625" stop-color="#0032ff"/><stop offset="0.6667" stop-color="#0023ff"/><stop offset="0.7083" stop-color="#001dff"/><stop offset="0.75" stop-color="#001eff"/><stop offset="0.7917" stop-color="#0028ff"/><stop offset="0.8333" stop-color="#0038ff"/><stop offset="0.875" stop-color="#004dff"/><stop offset="0.9167" stop-color="#0067ff"/><stop offset="0.9583" stop-color="#0086ff"/><stop offset="1" stop-color="#00aaff"/></linearGradient><linearGradient id="g46"><stop offset="0" stop-color="#99ff00"/><stop offset="0.04167" stop-color="#6aff00"/><stop offset="0.08333" stop-color="#3dff00"/><stop offset="0.125" stop-color="#19ff00"/><stop offset="0.1667" stop-color="#07ff00"/><stop offset="0.2083" stop-color="#00ff0a"/><stop offset="0.25" stop-color="#00ff2a"/><stop offset="0.2917" stop-color="#00ff6b"/><stop offset="0.3333" stop-color="#00ffb7"/><stop offset="0.375" stop-color="#00f6ff"/><stop offset="0.4167" stop-color="#00cbff"/><stop offset="0.4583" stop-color="#00a7ff"/><stop offset="0.5" stop-color="#0085ff"/><stop offset="0.5417" stop-color="#0067ff"/><stop offset="0.5833" stop-color="#004eff"/><stop offset="0.625" stop-color="#003bff"/><stop offset="0.6667" stop-color="#002dff"/><stop offset="0.7083" stop-color="#0026ff"/><stop offset="0.75" stop-color="#0027ff"/><stop offset="0.7917" stop-color="#002fff"/><stop offset="0.8333" stop-color="#003eff"/><stop offset="0.875" stop-color="#0052ff"/><stop offset="0.9167" stop-color="#006bff"/><stop offset="0.9583" stop-color="#008aff"/><stop offset="1" stop-color="#00adff"/></linearGradient><linearGradient id="g47"><stop offset="0" stop-color="#a2ff00"/><stop offset="0.04167" stop-color="#71ff00"/><stop offset="0.08333" stop-color="#44ff00"/><stop offset="0.125" stop-color="#1dff00"/><stop offset="0.1667" stop-color="#0aff00"/><stop offset="0.2083" stop-color="#00ff06"/><stop offset="0.25" stop-color="#00ff21"/><stop offset="0.2917" stop-color="#00ff5d"/><stop offset="0.3333" stop-color="#00ffa7"/><stop offset="0.375" stop-color="#00fffb"/><stop offset="0.4167" stop-color="#00d4ff"/><stop offset="0.4583" stop-color="#00b1ff"/><stop offset="0.5" stop-color="#008eff"/><stop offset="0.5417" stop-color="#0070ff"/><stop offset="0.5833" stop-color="#0057ff"/><stop offset="0.625" stop-color="#0044ff"/><stop offset="0.6667" stop-color="#0037ff"/><stop offset="0.7083" stop-color="#0030ff"/><stop offset="0.75" stop-color="#0030ff"/><stop offset="0.7917" stop-color="#0037ff"/><stop offset="0.8333" stop-color="#0044ff"/><stop offset="0.875" stop-color="#0058ff"/><stop offset="0.9167" stop-color="#0070ff"/><stop offset="0.9583" stop-color="#008eff"/><stop offset="1" stop-color="#00b1ff"/></linearGradient><linearGradient id="g48"><stop offset="0" stop-color="#aeff00"/><stop offset="0.04167" stop-color="#77ff00"/><stop offset="0.08333" stop-color="#4cff00"/><stop offset="0.125" stop-color="#22ff00"/><stop offset="0.1667" stop-color="#0dff00"/><stop offset="0.2083" stop-color="#00ff03"/><stop offset="0.25" stop-color="#00ff1a"/><stop offset="0.2917" stop-color="#00ff4f"/><stop offset="0.3333" stop-color="#00ff97"/><stop offset="0.375" stop-color="#00ffea"/><stop offset="0.4167" stop-color="#00ddff"/><stop offset="0.4583" stop-color="#00baff"/><stop offset="0.5" stop-color="#0098ff"/><stop offset="0.5417" stop-color="#007aff"/><stop offset="0.5833" stop-color="#0061ff"/><stop offset="0.625" stop-color="#004eff"/><stop offset="0.6667" stop-color="#0040ff"/><stop offset="0.7083" stop-color="#0039ff"/><stop offset="0.75" stop-color="#0038ff"/><stop offset="0.7917" stop-color="#003eff"/><stop offset="0.8333" stop-color="#004bff"/><stop offset="0.875" stop-color="#005eff"/><stop offset="0.9167" stop-color="#0076ff"/><stop offset="0.9583" stop-color="#0093ff"/><stop offset="1" stop-color="#00b5ff"/></linearGradient><linearGradient id="g49"><stop offset="0" stop-color="#bcff00"/><stop offset="0.04167" stop-color="#7eff00"/><stop offset="0.08333" stop-color="#54ff00"/><stop offset="0.125" stop-color="#28ff00"/><stop offset="0.1667" stop-color="#10ff00"/><stop offset="0.2083" stop-color="#00ff00"/><stop offset="0.25" stop-color="#00ff15"/><stop offset="0.2917" stop-color="#00ff42"/><stop offset="0.3333" stop-color="#00ff87"/><stop offset="0.375" stop-color="#00ffd5"/><stop offset="0.4167" stop-color="#00e8ff"/><stop offset="0.4583" stop-color="#00c4ff"/><stop offset="0.5" stop-color="#00a2ff"/><stop offset="0.5417" stop-color="#0084ff"/><stop offset="0.5833" stop-color="#006bff"/><stop offset="0.625" stop-color="#0058ff"/><stop offset="0.6667" stop-color="#004aff"/><stop offset="0.7083" stop-color="#0042ff"/><stop offset="0.75" stop-color="#0041ff"/><stop offset="0.7917" stop-color="#0046ff"/><stop offset="0.8333" stop-color="#0052ff"/><stop offset="0.875" stop-color="#0064ff"/><stop offset="0.9167" stop-color="#007cff"/><stop offset="0.9583" stop-color="#0098ff"/><stop offset="1" stop-color="#00b9ff"/></linearGradient><linearGradient id="g50"><stop offset="0" stop-color="#ccff00"/><stop offset="0.04167" stop-color="#85ff00"/><stop offset="0.08333" stop-color="#5cff00"/><stop offset="0.125" stop-color="#2fff00"/><stop offset="0.1667" stop-color="#13ff00"/><stop offset="0.2083" stop-color="#03ff00"/><stop offset="0.25" stop-color="#00ff10"/><stop offset="0.2917" stop-color="#00ff35"/><stop offset="0.3333" stop-color="#00ff77"/><stop offset="0.375" stop-color="#00ffc0"/><stop offset="0.4167" stop-color="#00f4ff"/><stop offset="0.4583" stop-color="#00cdff"/><stop offset="0.5" stop-color="#00adff"/><stop offset="0.5417" stop-color="#008fff"/><stop offset="0.5833" stop-color="#0076ff"/><stop offset="0.625" stop-color="#0062ff"/><stop offset="0.6667" stop-color="#0054ff"/><stop offset="0.7083" stop-color="#004cff"/><stop offset="0.75" stop-color="#004aff"/><stop offset="0.7917" stop-color="#004fff"/><stop offset="0.8333" stop-color="#005aff"/><stop offset="0.875" stop-color="#006bff"/><stop offset="0.9167" stop-color="#0082ff"/><stop offset="0.9583" stop-color="#009eff"/><stop offset="1" stop-color="#00bdff"/></linearGradient><linearGradient id="g51"><stop offset="0" stop-color="#deff00"/><stop offset="0.04167" stop-color="#8eff00"/><stop offset="0.08333" stop-color="#63ff00"/><stop offset="0.125" stop-color="#36ff00"/><stop offset="0.1667" stop-color="#17ff00"/><stop offset="0.2083" stop-color="#06ff00"/><stop offset="0.25" stop-color="#00ff0b"/><stop offset="0.2917" stop-color="#00ff29"/><stop offset="0.3333" stop-color="#00ff66"/><stop offset="0.375" stop-color="#00ffac"/><stop offset="0.4167" stop-color="#00fffb"/><stop offset="0.4583" stop-color="#00d7ff"/><stop offset="0.5" stop-color="#00b8ff"/><stop offset="0.5417" stop-color="#009aff"/><stop offset="0.5833" stop-color="#0080ff"/><stop offset="0.625" stop-color="#006cff"/><stop offset="0.6667" stop-color="#005eff"/><stop offset="0.7083" stop-color="#0055ff"/><stop offset="0.75" stop-color="#0053ff"/><stop offset="0.7917" stop-color="#0058ff"/><stop offset="0.8333" stop-color="#0062ff"/><stop offset="0.875" stop-color="#0073ff"/><stop offset="0.9167" stop-color="#0088ff"/><stop offset="0.9583" stop-color="#00a4ff"/><stop offset="1" stop-color="#00c2ff"/></linearGradient><linearGradient id="g52"><stop offset="0" stop-color="#f3ff00"/><stop offset="0.04167" stop-color="#97ff00"/><stop offset="0.08333" stop-color="#6bff00"/><stop offset="0.125" stop-color="#3fff00"/><stop offset="0.1667" stop-color="#1bff00"/><stop offset="0.2083" stop-color="#09ff00"/><stop offset="0.25" stop-color="#00ff07"/><stop offset="0.2917" stop-color="#00ff20"/><stop offset="0.3333" stop-color="#00ff56"/><stop offset="0.375" stop-color="#00ff9a"/><stop offset="0.4167" stop-color="#00ffe8"/><stop offset="0.4583" stop-color="#00e2ff"/><stop offset="0.5" stop-color="#00c2ff"/><stop offset="0.5417" stop-color="#00a5ff"/><stop offset="0.5833" stop-color="#008cff"/><stop offset="0.625" stop-color="#0077ff"/><stop offset="0.6667" stop-color="#0069ff"/><stop offset="0.7083" stop-color="#0060ff"/><stop offset="0.75" stop-color="#005dff"/><stop offset="0.7917" stop-color="#0061ff"/><stop offset="0.8333" stop-color="#006bff"/><stop offset="0.875" stop-color="#007aff"/><stop offset="0.9167" stop-color="#0090ff"/><stop offset="0.9583" stop-color="#00aaff"/><stop offset="1" stop-color="#00c7ff"/></linearGradient><linearGradient id="g53"><stop offset="0" stop-color="#fff600"/><stop offset="0.04167" stop-color="#a2ff00"/><stop offset="0.08333" stop-color="#72ff00"/><stop offset="0.125" stop-color="#48ff00"/><stop offset="0.1667" stop-color="#20ff00"/><stop offset="0.2083" stop-color="#0cff00"/><stop offset="0.25" stop-color="#00ff03"/><stop offset="0.2917" stop-color="#00ff18"/><stop offset="0.3333" stop-color="#00ff46"/><stop offset="0.375" stop-color="#00ff88"/><stop offset="0.4167" stop-color="#00ffd0"/><stop offset="0.4583" stop-color="#00efff"/><stop offset="0.5" stop-color="#00cdff"/><stop offset="0.5417" stop-color="#00b1ff"/><stop offset="0.5833" stop-color="#0097ff"/><stop offset="0.625" stop-color="#0083ff"/><stop offset="0.6667" stop-color="#0074ff"/><stop offset="0.7083" stop-color="#006aff"/><stop offset="0.75" stop-color="#0067ff"/><stop offset="0.7917" stop-color="#006aff"/><stop offset="0.8333" stop-color="#0074ff"/><stop offset="0.875" stop-color="#0083ff"/><stop offset="0.9167" stop-color="#0097ff"/><stop offset="0.9583" stop-color="#00b1ff"/><stop offset="1" stop-color="#00cdff"/></linearGradient><linearGradient id="g54"><stop offset="0" stop-color="#ffdf00"/><stop offset="0.04167" stop-color="#b0ff00"/><stop offset="0.08333" stop-color="#79ff00"/><stop offset="0.125" stop-color="#51ff00"/><stop offset="0.1667" stop-color="#26ff00"/><stop offset="0.2083" stop-color="#10ff00"/><stop offset="0.25" stop-color="#01ff00"/><stop offset="0.2917" stop-color="#00ff12"/><stop offset="0.3333" stop-color="#00ff38"/><stop offset="0.375" stop-color="#00ff76"/><stop offset="0.4167" stop-color="#00ffb8"/><stop offset="0.4583" stop-color="#00feff"/><stop offset="0.5" stop-color="#00d8ff"/><stop offset="0.5417" stop-color="#00bcff"/><stop offset="0.5833" stop-color="#00a3ff"/><stop offset="0.625" stop-color="#008eff"/><stop offset="0.6667" stop-color="#007fff"/><stop offset="0.7083" stop-color="#0075ff"/><stop offset="0.75" stop-color="#0072ff"/><stop offset="0.7917" stop-color="#0074ff"/><stop offset="0.8333" stop-color="#007dff"/><stop offset="0.875" stop-color="#008bff"/><stop offset="0.9167" stop-color="#009fff"/><stop offset="0.9583" stop-color="#00b8ff"/><stop offset="1" stop-color="#00d3ff"/></linearGradient><linearGradient id="g55"><stop offset="0" stop-color="#ffc500"/><stop offset="0.04167" stop-color="#c0ff00"/><stop offset="0.08333" stop-color="#81ff00"/><stop offset="0.125" stop-color="#5aff00"/><stop offset="0.1667" stop-color="#2eff00"/><stop offset="0.2083" stop-color="#13ff00"/><stop offset="0.25" stop-color="#04ff00"/><stop offset="0.2917" stop-color="#00ff0d"/><stop offset="0.3333" stop-color="#00ff2b"/><stop offset="0.375" stop-color="#00ff64"/><stop offset="0.4167" stop-color="#00ffa4"/><stop offset="0.4583" stop-color="#00ffed"/><stop offset="0.5" stop-color="#00e4ff"/><stop offset="0.5417" stop-color="#00c7ff"/><stop offset="0.5833" stop-color="#00afff"/><stop offset="0.625" stop-color="#009aff"/><stop offset="0.6667" stop-color="#008bff"/><stop offset="0.7083" stop-color="#0081ff"/><stop offset="0.75" stop-color="#007dff"/><stop offset="0.7917" stop-color="#007fff"/><stop offset="0.8333" stop-color="#0087ff"/><stop offset="0.875" stop-color="#0094ff"/><stop offset="0.9167" stop-color="#00a8ff"/><stop offset="0.9583" stop-color="#00bfff"/><stop offset="1" stop-color="#00d9ff"/></linearGradient><linearGradient id="g56"><stop offset="0" stop-color="#ffa900"/><stop offset="0.04167" stop-color="#d4ff00"/><stop offset="0.08333" stop-color="#8aff00"/><stop offset="0.125" stop-color="#62ff00"/><stop offset="0.1667" stop-color="#36ff00"/><stop offset="0.2083" stop-color="#18ff00"/><stop offset="0.25" stop-color="#08ff00"/><stop offset="0.2917" stop-color="#00ff08"/><stop offset="0.3333" stop-color="#00ff20"/><stop offset="0.375" stop-color="#00ff52"/><stop offset="0.4167" stop-color="#00ff91"/><stop offset="0.4583" stop-color="#00ffd4"/><stop offset="0.5" stop-color="#00f1ff"/><stop offset="0.5417" stop-color="#00d2ff"/><stop offset="0.5833" stop-color="#00bbff"/><stop offset="0.625" stop-color="#00a6ff"/><stop offset="0.6667" stop-color="#0096ff"/><stop offset="0.7083" stop-color="#008cff"/><stop offset="0.75" stop-color="#0088ff"/><stop offset="0.7917" stop-color="#0089ff"/><stop offset="0.8333" stop-color="#0091ff"/><stop offset="0.875" stop-color="#009eff"/><stop offset="0.9167" stop-color="#00b0ff"/><stop offset="0.9583" stop-color="#00c6ff"/><stop offset="1" stop-color="#00e1ff"/></linearGradient><linearGradient id="g57"><stop offset="0" stop-color="#ff8b00"/><stop offset="0.04167" stop-color="#e9ff00"/><stop offset="0.08333" stop-color="#94ff00"/><stop offset="0.125" stop-color="#6aff00"/><stop offset="0.1667" stop-color="#40ff00"/><stop offset="0.2083" stop-color="#1dff00"/><stop offset="0.25" stop-color="#0bff00"/><stop offset="0.2917" stop-color="#00ff03"/><stop offset="0.3333" stop-color="#00ff18"/><stop offset="0.375" stop-color="#00ff41"/><stop offset="0.4167" stop-color="#00ff7d"/><stop offset="0.4583" stop-color="#00ffba"/><stop offset="0.5" stop-color="#00fffc"/><stop offset="0.5417" stop-color="#00deff"/><stop offset="0.5833" stop-color="#00c6ff"/><stop offset="0.625" stop-color="#00b3ff"/><stop offset="0.6667" stop-color="#00a3ff"/><stop offset="0.7083" stop-color="#0098ff"/><stop offset="0.75" stop-color="#0093ff"/><stop offset="0.7917" stop-color="#0094ff"/><stop offset="0.8333" stop-color="#009bff"/><stop offset="0.875" stop-color="#00a8ff"/><stop offset="0.9167" stop-color="#00b9ff"/><stop offset="0.9583" stop-color="#00ceff"/><stop offset="1" stop-color="#00e9ff"/></linearGradient><linearGradient id="g58"><stop offset="0" stop-color="#ff6e00"/><stop offset="0.04167" stop-color="#fffd00"/><stop offset="0.08333" stop-color="#a0ff00"/><stop offset="0.125" stop-color="#72ff00"/><stop offset="0.1667" stop-color="#4aff00"/><stop offset="0.2083" stop-color="#23ff00"/><stop offset="0.25" stop-color="#0fff00"/><stop offset="0.2917" stop-color="#01ff00"/><stop offset="0.3333" stop-color="#00ff11"/><stop offset="0.375" stop-color="#00ff32"/><stop offset="0.4167" stop-color="#00ff69"/><stop offset="0.4583" stop-color="#00ffa4"/><stop offset="0.5" stop-color="#00ffe5"/><stop offset="0.5417" stop-color="#00ecff"/><stop offset="0.5833" stop-color="#00d2ff"/><stop offset="0.625" stop-color="#00bfff"/><stop offset="0.6667" stop-color="#00afff"/><stop offset="0.7083" stop-color="#00a5ff"/><stop offset="0.75" stop-color="#009fff"/><stop offset="0.7917" stop-color="#00a0ff"/><stop offset="0.8333" stop-color="#00a6ff"/><stop offset="0.875" stop-color="#00b2ff"/><stop offset="0.9167" stop-color="#00c2ff"/><stop offset="0.9583" stop-color="#00d6ff"/><stop offset="1" stop-color="#00f2ff"/></linearGradient><linearGradient id="g59"><stop offset="0" stop-color="#ff4e00"/><stop offset="0.04167" stop-color="#ffe500"/><stop offset="0.08333" stop-color="#afff00"/><stop offset="0.125" stop-color="#7aff00"/><stop offset="0.1667" stop-color="#54ff00"/><stop offset="0.2083" stop-color="#2aff00"/><stop offset="0.25" stop-color="#13ff00"/><stop offset="0.2917" stop-color="#04ff00"/><stop offset="0.3333" stop-color="#00ff0b"/><stop offset="0.375" stop-color="#00ff25"/><stop offset="0.4167" stop-color="#00ff56"/><stop offset="0.4583" stop-color="#00ff8f"/><stop offset="0.5" stop-color="#00ffca"/><stop offset="0.5417" stop-color="#00fcff"/><stop offset="0.5833" stop-color="#00deff"/><stop offset="0.625" stop-color="#00cbff"/><stop offset="0.6667" stop-color="#00bcff"/><stop offset="0.7083" stop-color="#00b1ff"/><stop offset="0.75" stop-color="#00acff"/><stop offset="0.7917" stop-color="#00acff"/><stop offset="0.8333" stop-color="#00b1ff"/><stop offset="0.875" stop-color="#00bcff"/><stop offset="0.9167" stop-color="#00cbff"/><stop offset="0.9583" stop-color="#00dfff"/><stop offset="1" stop-color="#00fdff"/></linearGradient><linearGradient id="g60"><stop offset="0" stop-color="#ff3000"/><stop offset="0.04167" stop-color="#ffc800"/><stop offset="0.08333" stop-color="#c2ff00"/><stop offset="0.125" stop-color="#83ff00"/><stop offset="0.1667" stop-color="#5dff00"/><stop offset="0.2083" stop-color="#33ff00"/><stop offset="0.25" stop-color="#17ff00"/><stop offset="0.2917" stop-color="#08ff00"/><stop offset="0.3333" stop-color="#00ff06"/><stop offset="0.375" stop-color="#00ff1b"/><stop offset="0.4167" stop-color="#00ff44"/><stop offset="0.4583" stop-color="#00ff7b"/><stop offset="0.5" stop-color="#00ffb0"/><stop offset="0.5417" stop-color="#00ffec"/><stop offset="0.5833" stop-color="#00edff"/><stop offset="0.625" stop-color="#00d7ff"/><stop offset="0.6667" stop-color="#00c8ff"/><stop offset="0.7083" stop-color="#00bdff"/><stop offset="0.75" stop-color="#00b8ff"/><stop offset="0.7917" stop-color="#00b7ff"/><stop offset="0.8333" stop-color="#00bcff"/><stop offset="0.875" stop-color="#00c6ff"/><stop offset="0.9167" stop-color="#00d4ff"/><stop offset="0.9583" stop-color="#00e9ff"/><stop offset="1" stop-color="#00fff4"/></linearGradient><linearGradient id="g61"><stop offset="0" stop-color="#ff1800"/><stop offset="0.04167" stop-color="#ffa900"/><stop offset="0.08333" stop-color="#d7ff00"/><stop offset="0.125" stop-color="#8eff00"/><stop offset="0.1667" stop-color="#66ff00"/><stop offset="0.2083" stop-color="#3dff00"/><stop offset="0.25" stop-color="#1cff00"/><stop offset="0.2917" stop-color="#0cff00"/><stop offset="0.3333" stop-color="#00ff02"/><stop offset="0.375" stop-color="#00ff13"/><stop offset="0.4167" stop-color="#00ff33"/><stop offset="0.4583" stop-color="#00ff66"/><stop offset="0.5" stop-color="#00ff9b"/><stop offset="0.5417" stop-color="#00ffd1"/><stop offset="0.5833" stop-color="#00fdff"/><stop offset="0.625" stop-color="#00e4ff"/><stop offset="0.6667" stop-color="#00d4ff"/><stop offset="0.7083" stop-color="#00c9ff"/><stop offset="0.75" stop-color="#00c3ff"/><stop offset="0.7917" stop-color="#00c3ff"/><stop offset="0.8333" stop-color="#00c7ff"/><stop offset="0.875" stop-color="#00d0ff"/><stop offset="0.9167" stop-color="#00deff"/><stop offset="0.9583" stop-color="#00f4ff"/><stop offset="1" stop-color="#00ffe3"/></linearGradient><linearGradient id="g62"><stop offset="0" stop-color="#ff0700"/><stop offset="0.04167" stop-color="#ff8800"/><stop offset="0.08333" stop-color="#efff00"/><stop offset="0.125" stop-color="#9aff00"/><stop offset="0.1667" stop-color="#6fff00"/><stop offset="0.2083" stop-color="#48ff00"/><stop offset="0.25" stop-color="#23ff00"/><stop offset="0.2917" stop-color="#10ff00"/><stop offset="0.3333" stop-color="#03ff00"/><stop offset="0.375" stop-color="#00ff0d"/><stop offset="0.4167" stop-color="#00ff25"/><stop offset="0.4583" stop-color="#00ff52"/><stop offset="0.5" stop-color="#00ff85"/><stop offset="0.5417" stop-color="#00ffb5"/><stop offset="0.5833" stop-color="#00ffea"/><stop offset="0.625" stop-color="#00f3ff"/><stop offset="0.6667" stop-color="#00e1ff"/><stop offset="0.7083" stop-color="#00d5ff"/><stop offset="0.75" stop-color="#00cfff"/><stop offset="0.7917" stop-color="#00ceff"/><stop offset="0.8333" stop-color="#00d2ff"/><stop offset="0.875" stop-color="#00daff"/><stop offset="0.9167" stop-color="#00e9ff"/><stop offset="0.9583" stop-color="#00fffd"/><stop offset="1" stop-color="#00ffd0"/></linearGradient><linearGradient id="g63"><stop offset="0" stop-color="#ff0000"/><stop offset="0.04167" stop-color="#ff6800"/><stop offset="0.08333" stop-color="#fff500"/><stop offset="0.125" stop-color="#a8ff00"/><stop offset="0.1667" stop-color="#78ff00"/><stop offset="0.2083" stop-color="#53ff00"/><stop offset="0.25" stop-color="#2bff00"/><stop offset="0.2917" stop-color="#14ff00"/><stop offset="0.3333" stop-color="#06ff00"/><stop offset="0.375" stop-color="#00ff07"/><stop offset="0.4167" stop-color="#00ff1b"/><stop offset="0.4583" stop-color="#00ff3f"/><stop offset="0.5" stop-color="#00ff6f"/><stop offset="0.5417" stop-color="#00ff9e"/><stop offset="0.5833" stop-color="#00ffcd"/><stop offset="0.625" stop-color="#00fff8"/><stop offset="0.6667" stop-color="#00f0ff"/><stop offset="0.7083" stop-color="#00e2ff"/><stop offset="0.75" stop-color="#00dbff"/><stop offset="0.7917" stop-color="#00daff"/><stop offset="0.8333" stop-color="#00ddff"/><stop offset="0.875" stop-color="#00e6ff"/><stop offset="0.9167" stop-color="#00f6ff"/><stop offset="0.9583" stop-color="#00ffeb"/><stop offset="1" stop-color="#00ffbc"/></linearGradient><linearGradient id="g64"><stop offset="0" stop-color="#ff0000"/><stop offset="0.04167" stop-color="#ff4500"/><stop offset="0.08333" stop-color="#ffd900"/><stop offset="0.125" stop-color="#baff00"/><stop offset="0.1667" stop-color="#82ff00"/><stop offset="0.2083" stop-color="#5dff00"/><stop offset="0.25" stop-color="#35ff00"/><stop offset="0.2917" stop-color="#19ff00"/><stop offset="0.3333" stop-color="#0aff00"/><stop offset="0.375" stop-color="#00ff02"/><stop offset="0.4167" stop-color="#00ff13"/><stop offset="0.4583" stop-color="#00ff2e"/><stop offset="0.5" stop-color="#00ff5a"/><stop offset="0.5417" stop-color="#00ff88"/><stop offset="0.5833" stop-color="#00ffb1"/><stop offset="0.625" stop-color="#00ffdd"/><stop offset="0.6667" stop-color="#00fffc"/><stop offset="0.7083" stop-color="#00f2ff"/><stop offset="0.75" stop-color="#00e9ff"/><stop offset="0.7917" stop-color="#00e7ff"/><stop offset="0.8333" stop-color="#00eaff"/><stop offset="0.875" stop-color="#00f4ff"/><stop offset="0.9167" stop-color="#00fff8"/><stop offset="0.9583" stop-color="#00ffd5"/><stop offset="1" stop-color="#00ffaa"/></linearGradient><linearGradient id="g65"><stop offset="0" stop-color="#ff0000"/><stop offset="0.04167" stop-color="#ff2600"/><stop offset="0.08333" stop-color="#ffb800"/><stop offset="0.125" stop-color="#d0ff00"/><stop offset="0.1667" stop-color="#8cff00"/><stop offset="0.2083" stop-color="#67ff00"/><stop offset="0.25" stop-color="#40ff00"/><stop offset="0.2917" stop-color="#1fff00"/><stop offset="0.3333" stop-color="#0eff00"/><stop offset="0.375" stop-color="#02ff00"/><stop offset="0.4167" stop-color="#00ff0c"/><stop offset="0.4583" stop-color="#00ff21"/><stop offset="0.5" stop-color="#00ff46"/><stop offset="0.5417" stop-color="#00ff71"/><stop offset="0.5833" stop-color="#00ff9a"/><stop offset="0.625" stop-color="#00ffbf"/><stop offset="0.6667" stop-color="#00ffe3"/><stop offset="0.7083" stop-color="#00fffa"/><stop offset="0.75" stop-color="#00f9ff"/><stop offset="0.7917" stop-color="#00f6ff"/><stop offset="0.8333" stop-color="#00faff"/><stop offset="0.875" stop-color="#00fffa"/><stop offset="0.9167" stop-color="#00ffe3"/><stop offset="0.9583" stop-color="#00ffbf"/><stop offset="1" stop-color="#00ff9a"/></linearGradient><linearGradient id="g66"><stop offset="0" stop-color="#ff0000"/><stop offset="0.04167" stop-color="#ff1000"/><stop offset="0.08333" stop-color="#ff9500"/><stop offset="0.125" stop-color="#eaff00"/><stop offset="0.1667" stop-color="#99ff00"/><stop offset="0.2083" stop-color="#70ff00"/><stop offset="0.25" stop-color="#4cff00"/><stop offset="0.2917" stop-color="#27ff00"/><stop offset="0.3333" stop-color="#13ff00"/><stop offset="0.375" stop-color="#06ff00"/><stop offset="0.4167" stop-color="#00ff06"/><stop offset="0.4583" stop-color="#00ff17"/><stop offset="0.5" stop-color="#00ff34"/><stop offset="0.5417" stop-color="#00ff5b"/><stop offset="0.5833" stop-color="#00ff83"/><stop offset="0.625" stop-color="#00ffa6"/><stop offset="0.6667" stop-color="#00ffc5"/><stop offset="0.7083" stop-color="#00ffe0"/><stop offset="0.75" stop-color="#00ffef"/><stop offset="0.7917" stop-color="#00fff4"/><stop offset="0.8333" stop-color="#00fff1"/><stop offset="0.875" stop-color="#00ffe3"/><stop offset="0.9167" stop-color="#00ffca"/><stop offset="0.9583" stop-color="#00ffaa"/><stop offset="1" stop-color="#00ff89"/></linearGradient><linearGradient id="g67"><stop offset="0" stop-color="#ff0000"/><stop offset="0.04167" stop-color="#ff0100"/><stop offset="0.08333" stop-color="#ff7300"/><stop offset="0.125" stop-color="#fff900"/><stop offset="0.1667" stop-color="#a8ff00"/><stop offset="0.2083" stop-color="#7aff00"/><stop offset="0.25" stop-color="#57ff00"/><stop offset="0.2917" stop-color="#31ff00"/><stop offset="0.3333" stop-color="#18ff00"/><stop offset="0.375" stop-color="#0aff00"/><stop offset="0.4167" stop-color="#00ff01"/><stop offset="0.4583" stop-color="#00ff10"/><stop offset="0.5" stop-color="#00ff25"/><stop offset="0.5417" stop-color="#00ff46"/><stop offset="0.5833" stop-color="#00ff6c"/><stop offset="0.625" stop-color="#00ff8f"/><stop offset="0.6667" stop-color="#00ffaa"/><stop offset="0.7083" stop-color="#00ffc2"/><stop offset="0.75" stop-color="#00ffd3"/><stop offset="0.7917" stop-color="#00ffda"/><stop offset="0.8333" stop-color="#00ffd6"/><stop offset="0.875" stop-color="#00ffc9"/><stop offset="0.9167" stop-color="#00ffb2"/><stop offset="0.9583" stop-color="#00ff98"/><stop offset="1" stop-color="#00ff78"/></linearGradient><clipPath id="cp1"><rect x="96.5" y="205.6" width="133.6" height="133.70000000000002"/></clipPath><linearGradient id="g68"><stop offset="0" stop-color="#1fff00"/><stop offset="0.04167" stop-color="#0aff00"/><stop offset="0.08333" stop-color="#00ff09"/><stop offset="0.125" stop-color="#00ff2c"/><stop offset="0.1667" stop-color="#00ff77"/><stop offset="0.2083" stop-color="#00ffd4"/><stop offset="0.25" stop-color="#00deff"/><stop offset="0.2917" stop-color="#00b0ff"/><stop offset="0.3333" stop-color="#0080ff"/><stop offset="0.375" stop-color="#0054ff"/><stop offset="0.4167" stop-color="#002bff"/><stop offset="0.4583" stop-color="#0008ff"/><stop offset="0.5" stop-color="#0000ff"/><stop offset="0.5417" stop-color="#0000ff"/><stop offset="0.5833" stop-color="#0000ff"/><stop offset="0.625" stop-color="#0000ff"/><stop offset="0.6667" stop-color="#0000ff"/><stop offset="0.7083" stop-color="#0000ff"/><stop offset="0.75" stop-color="#0000ff"/><stop offset="0.7917" stop-color="#0000ff"/><stop offset="0.8333" stop-color="#0003ff"/><stop offset="0.875" stop-color="#001dff"/><stop offset="0.9167" stop-color="#0048ff"/><stop offset="0.9583" stop-color="#0073ff"/><stop offset="1" stop-color="#00a1ff"/></linearGradient><linearGradient id="g69"><stop offset="0" stop-color="#21ff00"/><stop offset="0.04167" stop-color="#0bff00"/><stop offset="0.08333" stop-color="#00ff07"/><stop offset="0.125" stop-color="#00ff28"/><stop offset="0.1667" stop-color="#00ff70"/><stop offset="0.2083" stop-color="#00ffca"/><stop offset="0.25" stop-color="#00e3ff"/><stop offset="0.2917" stop-color="#00b4ff"/><stop offset="0.3333" stop-color="#0085ff"/><stop offset="0.375" stop-color="#0059ff"/><stop offset="0.4167" stop-color="#0030ff"/><stop offset="0.4583" stop-color="#000cff"/><stop offset="0.5" stop-color="#0000ff"/><stop offset="0.5417" stop-color="#0000ff"/><stop offset="0.5833" stop-color="#0000ff"/><stop offset="0.625" stop-color="#0000ff"/><stop offset="0.6667" stop-color="#0000ff"/><stop offset="0.7083" stop-color="#0000ff"/><stop offset="0.75" stop-color="#0000ff"/><stop offset="0.7917" stop-color="#0000ff"/><stop offset="0.8333" stop-color="#0004ff"/><stop offset="0.875" stop-color="#001fff"/><stop offset="0.9167" stop-color="#0049ff"/><stop offset="0.9583" stop-color="#0074ff"/><stop offset="1" stop-color="#00a2ff"/></linearGradient><linearGradient id="g70"><stop offset="0" stop-color="#23ff00"/><stop offset="0.04167" stop-color="#0cff00"/><stop offset="0.08333" stop-color="#00ff05"/><stop offset="0.125" stop-color="#00ff23"/><stop offset="0.1667" stop-color="#00ff69"/><stop offset="0.2083" stop-color="#00ffc1"/><stop offset="0.25" stop-color="#00e8ff"/><stop offset="0.2917" stop-color="#00b9ff"/><stop offset="0.3333" stop-color="#008aff"/><stop offset="0.375" stop-color="#005eff"/><stop offset="0.4167" stop-color="#0035ff"/><stop offset="0.4583" stop-color="#000fff"/><stop offset="0.5" stop-color="#0000ff"/><stop offset="0.5417" stop-color="#0000ff"/><stop offset="0.5833" stop-color="#0000ff"/><stop offset="0.625" stop-color="#0000ff"/><stop offset="0.6667" stop-color="#0000ff"/><stop offset="0.7083" stop-color="#0000ff"/><stop offset="0.75" stop-color="#0000ff"/><stop offset="0.7917" stop-color="#0000ff"/><stop offset="0.8333" stop-color="#0005ff"/><stop offset="0.875" stop-color="#0021ff"/><stop offset="0.9167" stop-color="#004bff"/><stop offset="0.9583" stop-color="#0075ff"/><stop offset="1" stop-color="#00a3ff"/></linearGradient><linearGradient id="g71"><stop offset="0" stop-color="#26ff00"/><stop offset="0.04167" stop-color="#0eff00"/><stop offset="0.08333" stop-color="#00ff04"/><stop offset="0.125" stop-color="#00ff20"/><stop offset="0.1667" stop-color="#00ff63"/><stop offset="0.2083" stop-color="#00ffb8"/><stop offset="0.25" stop-color="#00edff"/><stop offset="0.2917" stop-color="#00bdff"/><stop offset="0.3333" stop-color="#008eff"/><stop offset="0.375" stop-color="#0063ff"/><stop offset="0.4167" stop-color="#003aff"/><stop offset="0.4583" stop-color="#0013ff"/><stop offset="0.5" stop-color="#0000ff"/><stop offset="0.5417" stop-color="#0000ff"/><stop offset="0.5833" stop-color="#0000ff"/><stop offset="0.625" stop-color="#0000ff"/><stop offset="0.6667" stop-color="#0000ff"/><stop offset="0.7083" stop-color="#0000ff"/><stop offset="0.75" stop-color="#0000ff"/><stop offset="0.7917" stop-color="#0000ff"/><stop offset="0.8333" stop-color="#0006ff"/><stop offset="0.875" stop-color="#0024ff"/><stop offset="0.9167" stop-color="#004cff"/><stop offset="0.9583" stop-color="#0076ff"/><stop offset="1" stop-color="#00a4ff"/></linearGradient><linearGradient id="g72"><stop offset="0" stop-color="#29ff00"/><stop offset="0.04167" stop-color="#0fff00"/><stop offset="0.08333" stop-color="#00ff02"/><stop offset="0.125" stop-color="#00ff1d"/><stop offset="0.1667" stop-color="#00ff5c"/><stop offset="0.2083" stop-color="#00ffb0"/><stop offset="0.25" stop-color="#00f2ff"/><stop offset="0.2917" stop-color="#00c1ff"/><stop offset="0.3333" stop-color="#0093ff"/><stop offset="0.375" stop-color="#0067ff"/><stop offset="0.4167" stop-color="#003fff"/><stop offset="0.4583" stop-color="#0017ff"/><stop offset="0.5" stop-color="#0002ff"/><stop offset="0.5417" stop-color="#0000ff"/><stop offset="0.5833" stop-color="#0000ff"/><stop offset="0.625" stop-color="#0000ff"/><stop offset="0.6667" stop-color="#0000ff"/><stop offset="0.7083" stop-color="#0000ff"/><stop offset="0.75" stop-color="#0000ff"/><stop offset="0.7917" stop-color="#0000ff"/><stop offset="0.8333" stop-color="#0008ff"/><stop offset="0.875" stop-color="#0026ff"/><stop offset="0.9167" stop-color="#004eff"/><stop offset="0.9583" stop-color="#0077ff"/><stop offset="1" stop-color="#00a4ff"/></linearGradient><linearGradient id="g73"><stop offset="0" stop-color="#2bff00"/><stop offset="0.04167" stop-color="#10ff00"/><stop offset="0.08333" stop-color="#00ff01"/><stop offset="0.125" stop-color="#00ff1a"/><stop offset="0.1667" stop-color="#00ff56"/><stop offset="0.2083" stop-color="#00ffa9"/><stop offset="0.25" stop-color="#00f7ff"/><stop offset="0.2917" stop-color="#00c5ff"/><stop offset="0.3333" stop-color="#0097ff"/><stop offset="0.375" stop-color="#006cff"/><stop offset="0.4167" stop-color="#0043ff"/><stop offset="0.4583" stop-color="#001cff"/><stop offset="0.5" stop-color="#0004ff"/><stop offset="0.5417" stop-color="#0000ff"/><stop offset="0.5833" stop-color="#0000ff"/><stop offset="0.625" stop-color="#0000ff"/><stop offset="0.6667" stop-color="#0000ff"/><stop offset="0.7083" stop-color="#0000ff"/><stop offset="0.75" stop-color="#0000ff"/><stop offset="0.7917" stop-color="#0000ff"/><stop offset="0.8333" stop-color="#0009ff"/><stop offset="0.875" stop-color="#0028ff"/><stop offset="0.9167" stop-color="#004fff"/><stop offset="0.9583" stop-color="#0078ff"/><stop offset="1" stop-color="#00a5ff"/></linearGradient><linearGradient id="g74"><stop offset="0" stop-color="#2eff00"/><stop offset="0.04167" stop-color="#11ff00"/><stop offset="0.08333" stop-color="#00ff00"/><stop offset="0.125" stop-color="#00ff18"/><stop offset="0.1667" stop-color="#00ff50"/><stop offset="0.2083" stop-color="#00ffa3"/><stop offset="0.25" stop-color="#00fdff"/><stop offset="0.2917" stop-color="#00c9ff"/><stop offset="0.3333" stop-color="#009cff"/><stop offset="0.375" stop-color="#0070ff"/><stop offset="0.4167" stop-color="#0048ff"/><stop offset="0.4583" stop-color="#0021ff"/><stop offset="0.5" stop-color="#0006ff"/><stop offset="0.5417" stop-color="#0000ff"/><stop offset="0.5833" stop-color="#0000ff"/><stop offset="0.625" stop-color="#0000ff"/><stop offset="0.6667" stop-color="#0000ff"/><stop offset="0.7083" stop-color="#0000ff"/><stop offset="0.75" stop-color="#0000ff"/><stop offset="0.7917" stop-color="#0000ff"/><stop offset="0.8333" stop-color="#000aff"/><stop offset="0.875" stop-color="#0029ff"/><stop offset="0.9167" stop-color="#0050ff"/><stop offset="0.9583" stop-color="#0079ff"/><stop offset="1" stop-color="#00a6ff"/></linearGradient><linearGradient id="g75"><stop offset="0" stop-color="#31ff00"/><stop offset="0.04167" stop-color="#13ff00"/><stop offset="0.08333" stop-color="#02ff00"/><stop offset="0.125" stop-color="#00ff15"/><stop offset="0.1667" stop-color="#00ff4b"/><stop offset="0.2083" stop-color="#00ff9c"/><stop offset="0.25" stop-color="#00fffc"/><stop offset="0.2917" stop-color="#00cdff"/><stop offset="0.3333" stop-color="#00a0ff"/><stop offset="0.375" stop-color="#0074ff"/><stop offset="0.4167" stop-color="#004cff"/><stop offset="0.4583" stop-color="#0026ff"/><stop offset="0.5" stop-color="#0009ff"/><stop offset="0.5417" stop-color="#0000ff"/><stop offset="0.5833" stop-color="#0000ff"/><stop offset="0.625" stop-color="#0000ff"/><stop offset="0.6667" stop-color="#0000ff"/><stop offset="0.7083" stop-color="#0000ff"/><stop offset="0.75" stop-color="#0000ff"/><stop offset="0.7917" stop-color="#0000ff"/><stop offset="0.8333" stop-color="#000bff"/><stop offset="0.875" stop-color="#002bff"/><stop offset="0.9167" stop-color="#0051ff"/><stop offset="0.9583" stop-color="#007aff"/><stop offset="1" stop-color="#00a6ff"/></linearGradient><linearGradient id="g76"><stop offset="0" stop-color="#34ff00"/><stop offset="0.04167" stop-color="#14ff00"/><stop offset="0.08333" stop-color="#03ff00"/><stop offset="0.125" stop-color="#00ff13"/><stop offset="0.1667" stop-color="#00ff45"/><stop offset="0.2083" stop-color="#00ff96"/><stop offset="0.25" stop-color="#00fff5"/><stop offset="0.2917" stop-color="#00d0ff"/><stop offset="0.3333" stop-color="#00a4ff"/><stop offset="0.375" stop-color="#0078ff"/><stop offset="0.4167" stop-color="#0050ff"/><stop offset="0.4583" stop-color="#002bff"/><stop offset="0.5" stop-color="#000cff"/><stop offset="0.5417" stop-color="#0000ff"/><stop offset="0.5833" stop-color="#0000ff"/><stop offset="0.625" stop-color="#0000ff"/><stop offset="0.6667" stop-color="#0000ff"/><stop offset="0.7083" stop-color="#0000ff"/><stop offset="0.75" stop-color="#0000ff"/><stop offset="0.7917" stop-color="#0000ff"/><stop offset="0.8333" stop-color="#000dff"/><stop offset="0.875" stop-color="#002dff"/><stop offset="0.9167" stop-color="#0052ff"/><stop offset="0.9583" stop-color="#007bff"/><stop offset="1" stop-color="#00a7ff"/></linearGradient><linearGradient id="g77"><stop offset="0" stop-color="#37ff00"/><stop offset="0.04167" stop-color="#15ff00"/><stop offset="0.08333" stop-color="#04ff00"/><stop offset="0.125" stop-color="#00ff11"/><stop offset="0.1667" stop-color="#00ff40"/><stop offset="0.2083" stop-color="#00ff8f"/><stop offset="0.25" stop-color="#00ffee"/><stop offset="0.2917" stop-color="#00d4ff"/><stop offset="0.3333" stop-color="#00a8ff"/><stop offset="0.375" stop-color="#007cff"/><stop offset="0.4167" stop-color="#0054ff"/><stop offset="0.4583" stop-color="#002fff"/><stop offset="0.5" stop-color="#000eff"/><stop offset="0.5417" stop-color="#0000ff"/><stop offset="0.5833" stop-color="#0000ff"/><stop offset="0.625" stop-color="#0000ff"/><stop offset="0.6667" stop-color="#0000ff"/><stop offset="0.7083" stop-color="#0000ff"/><stop offset="0.75" stop-color="#0000ff"/><stop offset="0.7917" stop-color="#0000ff"/><stop offset="0.8333" stop-color="#000eff"/><stop offset="0.875" stop-color="#002eff"/><stop offset="0.9167" stop-color="#0053ff"/><stop offset="0.9583" stop-color="#007bff"/><stop offset="1" stop-color="#00a7ff"/></linearGradient><linearGradient id="g78"><stop offset="0" stop-color="#3aff00"/><stop offset="0.04167" stop-color="#17ff00"/><stop offset="0.08333" stop-color="#05ff00"/><stop offset="0.125" stop-color="#00ff0f"/><stop offset="0.1667" stop-color="#00ff3b"/><stop offset="0.2083" stop-color="#00ff89"/><stop offset="0.25" stop-color="#00ffe6"/><stop offset="0.2917" stop-color="#00d8ff"/><stop offset="0.3333" stop-color="#00acff"/><stop offset="0.375" stop-color="#0080ff"/><stop offset="0.4167" stop-color="#0058ff"/><stop offset="0.4583" stop-color="#0034ff"/><stop offset="0.5" stop-color="#0011ff"/><stop offset="0.5417" stop-color="#0001ff"/><stop offset="0.5833" stop-color="#0000ff"/><stop offset="0.625" stop-color="#0000ff"/><stop offset="0.6667" stop-color="#0000ff"/><stop offset="0.7083" stop-color="#0000ff"/><stop offset="0.75" stop-color="#0000ff"/><stop offset="0.7917" stop-color="#0000ff"/><stop offset="0.8333" stop-color="#000fff"/><stop offset="0.875" stop-color="#0030ff"/><stop offset="0.9167" stop-color="#0054ff"/><stop offset="0.9583" stop-color="#007cff"/><stop offset="1" stop-color="#00a7ff"/></linearGradient><linearGradient id="g79"><stop offset="0" stop-color="#3dff00"/><stop offset="0.04167" stop-color="#18ff00"/><stop offset="0.08333" stop-color="#06ff00"/><stop offset="0.125" stop-color="#00ff0e"/><stop offset="0.1667" stop-color="#00ff36"/><stop offset="0.2083" stop-color="#00ff83"/><stop offset="0.25" stop-color="#00ffde"/><stop offset="0.2917" stop-color="#00dcff"/><stop offset="0.3333" stop-color="#00b0ff"/><stop offset="0.375" stop-color="#0084ff"/><stop offset="0.4167" stop-color="#005cff"/><stop offset="0.4583" stop-color="#0038ff"/><stop offset="0.5" stop-color="#0015ff"/><stop offset="0.5417" stop-color="#0003ff"/><stop offset="0.5833" stop-color="#0000ff"/><stop offset="0.625" stop-color="#0000ff"/><stop offset="0.6667" stop-color="#0000ff"/><stop offset="0.7083" stop-color="#0000ff"/><stop offset="0.75" stop-color="#0000ff"/><stop offset="0.7917" stop-color="#0001ff"/><stop offset="0.8333" stop-color="#0010ff"/><stop offset="0.875" stop-color="#0031ff"/><stop offset="0.9167" stop-color="#0055ff"/><stop offset="0.9583" stop-color="#007cff"/><stop offset="1" stop-color="#00a8ff"/></linearGradient><linearGradient id="g80"><stop offset="0" stop-color="#41ff00"/><stop offset="0.04167" stop-color="#1aff00"/><stop offset="0.08333" stop-color="#07ff00"/><stop offset="0.125" stop-color="#00ff0c"/><stop offset="0.1667" stop-color="#00ff32"/><stop offset="0.2083" stop-color="#00ff7d"/><stop offset="0.25" stop-color="#00ffd6"/><stop offset="0.2917" stop-color="#00dfff"/><stop offset="0.3333" stop-color="#00b4ff"/><stop offset="0.375" stop-color="#0088ff"/><stop offset="0.4167" stop-color="#0060ff"/><stop offset="0.4583" stop-color="#003cff"/><stop offset="0.5" stop-color="#0018ff"/><stop offset="0.5417" stop-color="#0005ff"/><stop offset="0.5833" stop-color="#0000ff"/><stop offset="0.625" stop-color="#0000ff"/><stop offset="0.6667" stop-color="#0000ff"/><stop offset="0.7083" stop-color="#0000ff"/><stop offset="0.75" stop-color="#0000ff"/><stop offset="0.7917" stop-color="#0002ff"/><stop offset="0.8333" stop-color="#0011ff"/><stop offset="0.875" stop-color="#0032ff"/><stop offset="0.9167" stop-color="#0056ff"/><stop offset="0.9583" stop-color="#007dff"/><stop offset="1" stop-color="#00a8ff"/></linearGradient><linearGradient id="g81"><stop offset="0" stop-color="#44ff00"/><stop offset="0.04167" stop-color="#1cff00"/><stop offset="0.08333" stop-color="#08ff00"/><stop offset="0.125" stop-color="#00ff0a"/><stop offset="0.1667" stop-color="#00ff2e"/><stop offset="0.2083" stop-color="#00ff77"/><stop offset="0.25" stop-color="#00ffcf"/><stop offset="0.2917" stop-color="#00e3ff"/><stop offset="0.3333" stop-color="#00b8ff"/><stop offset="0.375" stop-color="#008cff"/><stop offset="0.4167" stop-color="#0064ff"/><stop offset="0.4583" stop-color="#003fff"/><stop offset="0.5" stop-color="#001cff"/><stop offset="0.5417" stop-color="#0007ff"/><stop offset="0.5833" stop-color="#0000ff"/><stop offset="0.625" stop-color="#0000ff"/><stop offset="0.6667" stop-color="#0000ff"/><stop offset="0.7083" stop-color="#0000ff"/><stop offset="0.75" stop-color="#0000ff"/><stop offset="0.7917" stop-color="#0003ff"/><stop offset="0.8333" stop-color="#0012ff"/><stop offset="0.875" stop-color="#0033ff"/><stop offset="0.9167" stop-color="#0056ff"/><stop offset="0.9583" stop-color="#007dff"/><stop offset="1" stop-color="#00a8ff"/></linearGradient><linearGradient id="g82"><stop offset="0" stop-color="#47ff00"/><stop offset="0.04167" stop-color="#1dff00"/><stop offset="0.08333" stop-color="#09ff00"/><stop offset="0.125" stop-color="#00ff09"/><stop offset="0.1667" stop-color="#00ff2a"/><stop offset="0.2083" stop-color="#00ff71"/><stop offset="0.25" stop-color="#00ffc7"/><stop offset="0.2917" stop-color="#00e7ff"/><stop offset="0.3333" stop-color="#00bbff"/><stop offset="0.375" stop-color="#0090ff"/><stop offset="0.4167" stop-color="#0067ff"/><stop offset="0.4583" stop-color="#0043ff"/><stop offset="0.5" stop-color="#0020ff"/><stop offset="0.5417" stop-color="#0009ff"/><stop offset="0.5833" stop-color="#0000ff"/><stop offset="0.625" stop-color="#0000ff"/><stop offset="0.6667" stop-color="#0000ff"/><stop offset="0.7083" stop-color="#0000ff"/><stop offset="0.75" stop-color="#0000ff"/><stop offset="0.7917" stop-color="#0003ff"/><stop offset="0.8333" stop-color="#0014ff"/><stop offset="0.875" stop-color="#0034ff"/><stop offset="0.9167" stop-color="#0057ff"/><stop offset="0.9583" stop-color="#007eff"/><stop offset="1" stop-color="#00a8ff"/></linearGradient><linearGradient id="g83"><stop offset="0" stop-color="#4aff00"/><stop offset="0.04167" stop-color="#1fff00"/><stop offset="0.08333" stop-color="#0aff00"/><stop offset="0.125" stop-color="#00ff07"/><stop offset="0.1667" stop-color="#00ff27"/><stop offset="0.2083" stop-color="#00ff6c"/><stop offset="0.25" stop-color="#00ffbf"/><stop offset="0.2917" stop-color="#00ebff"/><stop offset="0.3333" stop-color="#00beff"/><stop offset="0.375" stop-color="#0093ff"/><stop offset="0.4167" stop-color="#006bff"/><stop offset="0.4583" stop-color="#0046ff"/><stop offset="0.5" stop-color="#0024ff"/><stop offset="0.5417" stop-color="#000bff"/><stop offset="0.5833" stop-color="#0000ff"/><stop offset="0.625" stop-color="#0000ff"/><stop offset="0.6667" stop-color="#0000ff"/><stop offset="0.7083" stop-color="#0000ff"/><stop offset="0.75" stop-color="#0000ff"/><stop offset="0.7917" stop-color="#0004ff"/><stop offset="0.8333" stop-color="#0015ff"/><stop offset="0.875" stop-color="#0035ff"/><stop offset="0.9167" stop-color="#0058ff"/><stop offset="0.9583" stop-color="#007eff"/><stop offset="1" stop-color="#00a8ff"/></linearGradient><linearGradient id="g84"><stop offset="0" stop-color="#4dff00"/><stop offset="0.04167" stop-color="#21ff00"/><stop offset="0.08333" stop-color="#0bff00"/><stop offset="0.125" stop-color="#00ff06"/><stop offset="0.1667" stop-color="#00ff23"/><stop offset="0.2083" stop-color="#00ff66"/><stop offset="0.25" stop-color="#00ffb9"/><stop offset="0.2917" stop-color="#00efff"/><stop offset="0.3333" stop-color="#00c2ff"/><stop offset="0.375" stop-color="#0097ff"/><stop offset="0.4167" stop-color="#006eff"/><stop offset="0.4583" stop-color="#004aff"/><stop offset="0.5" stop-color="#0028ff"/><stop offset="0.5417" stop-color="#000dff"/><stop offset="0.5833" stop-color="#0001ff"/><stop offset="0.625" stop-color="#0000ff"/><stop offset="0.6667" stop-color="#0000ff"/><stop offset="0.7083" stop-color="#0000ff"/><stop offset="0.75" stop-color="#0000ff"/><stop offset="0.7917" stop-color="#0005ff"/><stop offset="0.8333" stop-color="#0016ff"/><stop offset="0.875" stop-color="#0036ff"/><stop offset="0.9167" stop-color="#0058ff"/><stop offset="0.9583" stop-color="#007eff"/><stop offset="1" stop-color="#00a8ff"/></linearGradient><linearGradient id="g85"><stop offset="0" stop-color="#50ff00"/><stop offset="0.04167" stop-color="#23ff00"/><stop offset="0.08333" stop-color="#0cff00"/><stop offset="0.125" stop-color="#00ff05"/><stop offset="0.1667" stop-color="#00ff21"/><stop offset="0.2083" stop-color="#00ff61"/><stop offset="0.25" stop-color="#00ffb2"/><stop offset="0.2917" stop-color="#00f3ff"/><stop offset="0.3333" stop-color="#00c5ff"/><stop offset="0.375" stop-color="#009aff"/><stop offset="0.4167" stop-color="#0072ff"/><stop offset="0.4583" stop-color="#004dff"/><stop offset="0.5" stop-color="#002cff"/><stop offset="0.5417" stop-color="#0010ff"/><stop offset="0.5833" stop-color="#0003ff"/><stop offset="0.625" stop-color="#0000ff"/><stop offset="0.6667" stop-color="#0000ff"/><stop offset="0.7083" stop-color="#0000ff"/><stop offset="0.75" stop-color="#0000ff"/><stop offset="0.7917" stop-color="#0006ff"/><stop offset="0.8333" stop-color="#0017ff"/><stop offset="0.875" stop-color="#0037ff"/><stop offset="0.9167" stop-color="#0059ff"/><stop offset="0.9583" stop-color="#007eff"/><stop offset="1" stop-color="#00a8ff"/></linearGradient><linearGradient id="g86"><stop offset="0" stop-color="#52ff00"/><stop offset="0.04167" stop-color="#25ff00"/><stop offset="0.08333" stop-color="#0dff00"/><stop offset="0.125" stop-color="#00ff03"/><stop offset="0.1667" stop-color="#00ff1e"/><stop offset="0.2083" stop-color="#00ff5c"/><stop offset="0.25" stop-color="#00ffac"/><stop offset="0.2917" stop-color="#00f8ff"/><stop offset="0.3333" stop-color="#00c8ff"/><stop offset="0.375" stop-color="#009eff"/><stop offset="0.4167" stop-color="#0075ff"/><stop offset="0.4583" stop-color="#0050ff"/><stop offset="0.5" stop-color="#0030ff"/><stop offset="0.5417" stop-color="#0012ff"/><stop offset="0.5833" stop-color="#0004ff"/><stop offset="0.625" stop-color="#0000ff"/><stop offset="0.6667" stop-color="#0000ff"/><stop offset="0.7083" stop-color="#0000ff"/><stop offset="0.75" stop-color="#0000ff"/><stop offset="0.7917" stop-color="#0007ff"/><stop offset="0.8333" stop-color="#0018ff"/><stop offset="0.875" stop-color="#0037ff"/><stop offset="0.9167" stop-color="#0059ff"/><stop offset="0.9583" stop-color="#007fff"/><stop offset="1" stop-color="#00a8ff"/></linearGradient><linearGradient id="g87"><stop offset="0" stop-color="#55ff00"/><stop offset="0.04167" stop-color="#27ff00"/><stop offset="0.08333" stop-color="#0eff00"/><stop offset="0.125" stop-color="#00ff02"/><stop offset="0.1667" stop-color="#00ff1c"/><stop offset="0.2083" stop-color="#00ff57"/><stop offset="0.25" stop-color="#00ffa7"/><stop offset="0.2917" stop-color="#00fcff"/><stop offset="0.3333" stop-color="#00cbff"/><stop offset="0.375" stop-color="#00a1ff"/><stop offset="0.4167" stop-color="#0078ff"/><stop offset="0.4583" stop-color="#0054ff"/><stop offset="0.5" stop-color="#0033ff"/><stop offset="0.5417" stop-color="#0015ff"/><stop offset="0.5833" stop-color="#0006ff"/><stop offset="0.625" stop-color="#0000ff"/><stop offset="0.6667" stop-color="#0000ff"/><stop offset="0.7083" stop-color="#0000ff"/><stop offset="0.75" stop-color="#0000ff"/><stop offset="0.7917" stop-color="#0007ff"/><stop offset="0.8333" stop-color="#0019ff"/><stop offset="0.875" stop-color="#0038ff"/><stop offset="0.9167" stop-color="#0059ff"/><stop offset="0.9583" stop-color="#007fff"/><stop offset="1" stop-color="#00a8ff"/></linearGradient><linearGradient id="g88"><stop offset="0" stop-color="#58ff00"/><stop offset="0.04167" stop-color="#29ff00"/><stop offset="0.08333" stop-color="#0fff00"/><stop offset="0.125" stop-color="#00ff01"/><stop offset="0.1667" stop-color="#00ff19"/><stop offset="0.2083" stop-color="#00ff52"/><stop offset="0.25" stop-color="#00ffa2"/><stop offset="0.2917" stop-color="#00fffd"/><stop offset="0.3333" stop-color="#00ceff"/><stop offset="0.375" stop-color="#00a4ff"/><stop offset="0.4167" stop-color="#007bff"/><stop offset="0.4583" stop-color="#0057ff"/><stop offset="0.5" stop-color="#0036ff"/><stop offset="0.5417" stop-color="#0017ff"/><stop offset="0.5833" stop-color="#0007ff"/><stop offset="0.625" stop-color="#0000ff"/><stop offset="0.6667" stop-color="#0000ff"/><stop offset="0.7083" stop-color="#0000ff"/><stop offset="0.75" stop-color="#0000ff"/><stop offset="0.7917" stop-color="#0008ff"/><stop offset="0.8333" stop-color="#001aff"/><stop offset="0.875" stop-color="#0039ff"/><stop offset="0.9167" stop-color="#005aff"/><stop offset="0.9583" stop-color="#007fff"/><stop offset="1" stop-color="#00a8ff"/></linearGradient><linearGradient id="g89"><stop offset="0" stop-color="#5aff00"/><stop offset="0.04167" stop-color="#2bff00"/><stop offset="0.08333" stop-color="#10ff00"/><stop offset="0.125" stop-color="#00ff00"/><stop offset="0.1667" stop-color="#00ff18"/><stop offset="0.2083" stop-color="#00ff4e"/><stop offset="0.25" stop-color="#00ff9d"/><stop offset="0.2917" stop-color="#00fff9"/><stop offset="0.3333" stop-color="#00d1ff"/><stop offset="0.375" stop-color="#00a7ff"/><stop offset="0.4167" stop-color="#007eff"/><stop offset="0.4583" stop-color="#005aff"/><stop offset="0.5" stop-color="#0039ff"/><stop offset="0.5417" stop-color="#001aff"/><stop offset="0.5833" stop-color="#0009ff"/><stop offset="0.625" stop-color="#0001ff"/><stop offset="0.6667" stop-color="#0000ff"/><stop offset="0.7083" stop-color="#0000ff"/><stop offset="0.75" stop-color="#0001ff"/><stop offset="0.7917" stop-color="#0009ff"/><stop offset="0.8333" stop-color="#001aff"/><stop offset="0.875" stop-color="#0039ff"/><stop offset="0.9167" stop-color="#005aff"/><stop offset="0.9583" stop-color="#007eff"/><stop offset="1" stop-color="#00a7ff"/></linearGradient><linearGradient id="g90"><stop offset="0" stop-color="#5dff00"/><stop offset="0.04167" stop-color="#2dff00"/><stop offset="0.08333" stop-color="#11ff00"/><stop offset="0.125" stop-color="#01ff00"/><stop offset="0.1667" stop-color="#00ff16"/><stop offset="0.2083" stop-color="#00ff49"/><stop offset="0.25" stop-color="#00ff98"/><stop offset="0.2917" stop-color="#00fff3"/><stop offset="0.3333" stop-color="#00d4ff"/><stop offset="0.375" stop-color="#00aaff"/><stop offset="0.4167" stop-color="#0081ff"/><stop offset="0.4583" stop-color="#005cff"/><stop offset="0.5" stop-color="#003cff"/><stop offset="0.5417" stop-color="#001dff"/><stop offset="0.5833" stop-color="#000aff"/><stop offset="0.625" stop-color="#0002ff"/><stop offset="0.6667" stop-color="#0000ff"/><stop offset="0.7083" stop-color="#0000ff"/><stop offset="0.75" stop-color="#0001ff"/><stop offset="0.7917" stop-color="#000aff"/><stop offset="0.8333" stop-color="#001bff"/><stop offset="0.875" stop-color="#0039ff"/><stop offset="0.9167" stop-color="#005aff"/><stop offset="0.9583" stop-color="#007eff"/><stop offset="1" stop-color="#00a7ff"/></linearGradient><linearGradient id="g91"><stop offset="0" stop-color="#5fff00"/><stop offset="0.04167" stop-color="#30ff00"/><stop offset="0.08333" stop-color="#12ff00"/><stop offset="0.125" stop-color="#02ff00"/><stop offset="0.1667" stop-color="#00ff14"/><stop offset="0.2083" stop-color="#00ff45"/><stop offset="0.25" stop-color="#00ff93"/><stop offset="0.2917" stop-color="#00ffee"/><stop offset="0.3333" stop-color="#00d6ff"/><stop offset="0.375" stop-color="#00adff"/><stop offset="0.4167" stop-color="#0084ff"/><stop offset="0.4583" stop-color="#005fff"/><stop offset="0.5" stop-color="#003fff"/><stop offset="0.5417" stop-color="#0020ff"/><stop offset="0.5833" stop-color="#000cff"/><stop offset="0.625" stop-color="#0003ff"/><stop offset="0.6667" stop-color="#0000ff"/><stop offset="0.7083" stop-color="#0000ff"/><stop offset="0.75" stop-color="#0002ff"/><stop offset="0.7917" stop-color="#000aff"/><stop offset="0.8333" stop-color="#001cff"/><stop offset="0.875" stop-color="#003aff"/><stop offset="0.9167" stop-color="#005aff"/><stop offset="0.9583" stop-color="#007eff"/><stop offset="1" stop-color="#00a7ff"/></linearGradient><linearGradient id="g92"><stop offset="0" stop-color="#62ff00"/><stop offset="0.04167" stop-color="#32ff00"/><stop offset="0.08333" stop-color="#13ff00"/><stop offset="0.125" stop-color="#03ff00"/><stop offset="0.1667" stop-color="#00ff12"/><stop offset="0.2083" stop-color="#00ff41"/><stop offset="0.25" stop-color="#00ff8e"/><stop offset="0.2917" stop-color="#00ffe8"/><stop offset="0.3333" stop-color="#00d9ff"/><stop offset="0.375" stop-color="#00b0ff"/><stop offset="0.4167" stop-color="#0087ff"/><stop offset="0.4583" stop-color="#0062ff"/><stop offset="0.5" stop-color="#0041ff"/><stop offset="0.5417" stop-color="#0023ff"/><stop offset="0.5833" stop-color="#000eff"/><stop offset="0.625" stop-color="#0004ff"/><stop offset="0.6667" stop-color="#0000ff"/><stop offset="0.7083" stop-color="#0000ff"/><stop offset="0.75" stop-color="#0003ff"/><stop offset="0.7917" stop-color="#000bff"/><stop offset="0.8333" stop-color="#001cff"/><stop offset="0.875" stop-color="#003aff"/><stop offset="0.9167" stop-color="#005aff"/><stop offset="0.9583" stop-color="#007eff"/><stop offset="1" stop-color="#00a6ff"/></linearGradient><linearGradient id="g93"><stop offset="0" stop-color="#64ff00"/><stop offset="0.04167" stop-color="#34ff00"/><stop offset="0.08333" stop-color="#15ff00"/><stop offset="0.125" stop-color="#04ff00"/><stop offset="0.1667" stop-color="#00ff11"/><stop offset="0.2083" stop-color="#00ff3d"/><stop offset="0.25" stop-color="#00ff89"/><stop offset="0.2917" stop-color="#00ffe2"/><stop offset="0.3333" stop-color="#00dcff"/><stop offset="0.375" stop-color="#00b3ff"/><stop offset="0.4167" stop-color="#008aff"/><stop offset="0.4583" stop-color="#0065ff"/><stop offset="0.5" stop-color="#0044ff"/><stop offset="0.5417" stop-color="#0026ff"/><stop offset="0.5833" stop-color="#000fff"/><stop offset="0.625" stop-color="#0005ff"/><stop offset="0.6667" stop-color="#0001ff"/><stop offset="0.7083" stop-color="#0000ff"/><stop offset="0.75" stop-color="#0003ff"/><stop offset="0.7917" stop-color="#000bff"/><stop offset="0.8333" stop-color="#001dff"/><stop offset="0.875" stop-color="#003aff"/><stop offset="0.9167" stop-color="#005aff"/><stop offset="0.9583" stop-color="#007eff"/><stop offset="1" stop-color="#00a5ff"/></linearGradient><linearGradient id="g94"><stop offset="0" stop-color="#66ff00"/><stop offset="0.04167" stop-color="#37ff00"/><stop offset="0.08333" stop-color="#16ff00"/><stop offset="0.125" stop-color="#05ff00"/><stop offset="0.1667" stop-color="#00ff0f"/><stop offset="0.2083" stop-color="#00ff3a"/><stop offset="0.25" stop-color="#00ff84"/><stop offset="0.2917" stop-color="#00ffdc"/><stop offset="0.3333" stop-color="#00dfff"/><stop offset="0.375" stop-color="#00b6ff"/><stop offset="0.4167" stop-color="#008dff"/><stop offset="0.4583" stop-color="#0067ff"/><stop offset="0.5" stop-color="#0046ff"/><stop offset="0.5417" stop-color="#0029ff"/><stop offset="0.5833" stop-color="#0011ff"/><stop offset="0.625" stop-color="#0006ff"/><stop offset="0.6667" stop-color="#0001ff"/><stop offset="0.7083" stop-color="#0001ff"/><stop offset="0.75" stop-color="#0004ff"/><stop offset="0.7917" stop-color="#000cff"/><stop offset="0.8333" stop-color="#001dff"/><stop offset="0.875" stop-color="#003aff"/><stop offset="0.9167" stop-color="#005aff"/><stop offset="0.9583" stop-color="#007dff"/><stop offset="1" stop-color="#00a5ff"/></linearGradient><linearGradient id="g95"><stop offset="0" stop-color="#68ff00"/><stop offset="0.04167" stop-color="#39ff00"/><stop offset="0.08333" stop-color="#17ff00"/><stop offset="0.125" stop-color="#05ff00"/><stop offset="0.1667" stop-color="#00ff0e"/><stop offset="0.2083" stop-color="#00ff36"/><stop offset="0.25" stop-color="#00ff80"/><stop offset="0.2917" stop-color="#00ffd7"/><stop offset="0.3333" stop-color="#00e2ff"/><stop offset="0.375" stop-color="#00b8ff"/><stop offset="0.4167" stop-color="#008fff"/><stop offset="0.4583" stop-color="#006aff"/><stop offset="0.5" stop-color="#0049ff"/><stop offset="0.5417" stop-color="#002bff"/><stop offset="0.5833" stop-color="#0013ff"/><stop offset="0.625" stop-color="#0007ff"/><stop offset="0.6667" stop-color="#0002ff"/><stop offset="0.7083" stop-color="#0001ff"/><stop offset="0.75" stop-color="#0004ff"/><stop offset="0.7917" stop-color="#000cff"/><stop offset="0.8333" stop-color="#001eff"/><stop offset="0.875" stop-color="#003aff"/><stop offset="0.9167" stop-color="#0059ff"/><stop offset="0.9583" stop-color="#007dff"/><stop offset="1" stop-color="#00a4ff"/></linearGradient><linearGradient id="g96"><stop offset="0" stop-color="#6aff00"/><stop offset="0.04167" stop-color="#3cff00"/><stop offset="0.08333" stop-color="#18ff00"/><stop offset="0.125" stop-color="#06ff00"/><stop offset="0.1667" stop-color="#00ff0d"/><stop offset="0.2083" stop-color="#00ff33"/><stop offset="0.25" stop-color="#00ff7b"/><stop offset="0.2917" stop-color="#00ffd1"/><stop offset="0.3333" stop-color="#00e4ff"/><stop offset="0.375" stop-color="#00bbff"/><stop offset="0.4167" stop-color="#0092ff"/><stop offset="0.4583" stop-color="#006cff"/><stop offset="0.5" stop-color="#004bff"/><stop offset="0.5417" stop-color="#002eff"/><stop offset="0.5833" stop-color="#0014ff"/><stop offset="0.625" stop-color="#0008ff"/><stop offset="0.6667" stop-color="#0003ff"/><stop offset="0.7083" stop-color="#0002ff"/><stop offset="0.75" stop-color="#0005ff"/><stop offset="0.7917" stop-color="#000cff"/><stop offset="0.8333" stop-color="#001eff"/><stop offset="0.875" stop-color="#003aff"/><stop offset="0.9167" stop-color="#0059ff"/><stop offset="0.9583" stop-color="#007cff"/><stop offset="1" stop-color="#00a3ff"/></linearGradient><linearGradient id="g97"><stop offset="0" stop-color="#6cff00"/><stop offset="0.04167" stop-color="#3eff00"/><stop offset="0.08333" stop-color="#19ff00"/><stop offset="0.125" stop-color="#07ff00"/><stop offset="0.1667" stop-color="#00ff0c"/><stop offset="0.2083" stop-color="#00ff30"/><stop offset="0.25" stop-color="#00ff77"/><stop offset="0.2917" stop-color="#00ffcb"/><stop offset="0.3333" stop-color="#00e7ff"/><stop offset="0.375" stop-color="#00bdff"/><stop offset="0.4167" stop-color="#0094ff"/><stop offset="0.4583" stop-color="#006eff"/><stop offset="0.5" stop-color="#004dff"/><stop offset="0.5417" stop-color="#0030ff"/><stop offset="0.5833" stop-color="#0016ff"/><stop offset="0.625" stop-color="#0009ff"/><stop offset="0.6667" stop-color="#0004ff"/><stop offset="0.7083" stop-color="#0002ff"/><stop offset="0.75" stop-color="#0005ff"/><stop offset="0.7917" stop-color="#000dff"/><stop offset="0.8333" stop-color="#001eff"/><stop offset="0.875" stop-color="#003aff"/><stop offset="0.9167" stop-color="#0059ff"/><stop offset="0.9583" stop-color="#007cff"/><stop offset="1" stop-color="#00a3ff"/></linearGradient><linearGradient id="g98"><stop offset="0" stop-color="#6eff00"/><stop offset="0.04167" stop-color="#40ff00"/><stop offset="0.08333" stop-color="#1aff00"/><stop offset="0.125" stop-color="#08ff00"/><stop offset="0.1667" stop-color="#00ff0a"/><stop offset="0.2083" stop-color="#00ff2d"/><stop offset="0.25" stop-color="#00ff73"/><stop offset="0.2917" stop-color="#00ffc6"/><stop offset="0.3333" stop-color="#00eaff"/><stop offset="0.375" stop-color="#00bfff"/><stop offset="0.4167" stop-color="#0097ff"/><stop offset="0.4583" stop-color="#0071ff"/><stop offset="0.5" stop-color="#004fff"/><stop offset="0.5417" stop-color="#0032ff"/><stop offset="0.5833" stop-color="#0018ff"/><stop offset="0.625" stop-color="#000aff"/><stop offset="0.6667" stop-color="#0004ff"/><stop offset="0.7083" stop-color="#0003ff"/><stop offset="0.75" stop-color="#0005ff"/><stop offset="0.7917" stop-color="#000dff"/><stop offset="0.8333" stop-color="#001eff"/><stop offset="0.875" stop-color="#003aff"/><stop offset="0.9167" stop-color="#0058ff"/><stop offset="0.9583" stop-color="#007bff"/><stop offset="1" stop-color="#00a2ff"/></linearGradient><linearGradient id="g99"><stop offset="0" stop-color="#70ff00"/><stop offset="0.04167" stop-color="#43ff00"/><stop offset="0.08333" stop-color="#1cff00"/><stop offset="0.125" stop-color="#09ff00"/><stop offset="0.1667" stop-color="#00ff09"/><stop offset="0.2083" stop-color="#00ff2a"/><stop offset="0.25" stop-color="#00ff6f"/><stop offset="0.2917" stop-color="#00ffc0"/><stop offset="0.3333" stop-color="#00edff"/><stop offset="0.375" stop-color="#00c2ff"/><stop offset="0.4167" stop-color="#0099ff"/><stop offset="0.4583" stop-color="#0073ff"/><stop offset="0.5" stop-color="#0051ff"/><stop offset="0.5417" stop-color="#0034ff"/><stop offset="0.5833" stop-color="#001aff"/><stop offset="0.625" stop-color="#000bff"/><stop offset="0.6667" stop-color="#0005ff"/><stop offset="0.7083" stop-color="#0003ff"/><stop offset="0.75" stop-color="#0006ff"/><stop offset="0.7917" stop-color="#000dff"/><stop offset="0.8333" stop-color="#001eff"/><stop offset="0.875" stop-color="#003aff"/><stop offset="0.9167" stop-color="#0058ff"/><stop offset="0.9583" stop-color="#007aff"/><stop offset="1" stop-color="#00a1ff"/></linearGradient><linearGradient id="g100"><stop offset="0" stop-color="#72ff00"/><stop offset="0.04167" stop-color="#45ff00"/><stop offset="0.08333" stop-color="#1dff00"/><stop offset="0.125" stop-color="#09ff00"/><stop offset="0.1667" stop-color="#00ff08"/><stop offset="0.2083" stop-color="#00ff28"/><stop offset="0.25" stop-color="#00ff6b"/><stop offset="0.2917" stop-color="#00ffbb"/><stop offset="0.3333" stop-color="#00f0ff"/><stop offset="0.375" stop-color="#00c4ff"/><stop offset="0.4167" stop-color="#009bff"/><stop offset="0.4583" stop-color="#0075ff"/><stop offset="0.5" stop-color="#0053ff"/><stop offset="0.5417" stop-color="#0036ff"/><stop offset="0.5833" stop-color="#001bff"/><stop offset="0.625" stop-color="#000cff"/><stop offset="0.6667" stop-color="#0006ff"/><stop offset="0.7083" stop-color="#0004ff"/><stop offset="0.75" stop-color="#0006ff"/><stop offset="0.7917" stop-color="#000dff"/><stop offset="0.8333" stop-color="#001eff"/><stop offset="0.875" stop-color="#0039ff"/><stop offset="0.9167" stop-color="#0057ff"/><stop offset="0.9583" stop-color="#0079ff"/><stop offset="1" stop-color="#00a0ff"/></linearGradient><linearGradient id="g101"><stop offset="0" stop-color="#74ff00"/><stop offset="0.04167" stop-color="#47ff00"/><stop offset="0.08333" stop-color="#1eff00"/><stop offset="0.125" stop-color="#0aff00"/><stop offset="0.1667" stop-color="#00ff07"/><stop offset="0.2083" stop-color="#00ff25"/><stop offset="0.25" stop-color="#00ff67"/><stop offset="0.2917" stop-color="#00ffb7"/><stop offset="0.3333" stop-color="#00f2ff"/><stop offset="0.375" stop-color="#00c6ff"/><stop offset="0.4167" stop-color="#009dff"/><stop offset="0.4583" stop-color="#0077ff"/><stop offset="0.5" stop-color="#0055ff"/><stop offset="0.5417" stop-color="#0038ff"/><stop offset="0.5833" stop-color="#001dff"/><stop offset="0.625" stop-color="#000dff"/><stop offset="0.6667" stop-color="#0006ff"/><stop offset="0.7083" stop-color="#0004ff"/><stop offset="0.75" stop-color="#0006ff"/><stop offset="0.7917" stop-color="#000eff"/><stop offset="0.8333" stop-color="#001eff"/><stop offset="0.875" stop-color="#0039ff"/><stop offset="0.9167" stop-color="#0056ff"/><stop offset="0.9583" stop-color="#0079ff"/><stop offset="1" stop-color="#009fff"/></linearGradient><linearGradient id="g102"><stop offset="0" stop-color="#76ff00"/><stop offset="0.04167" stop-color="#4aff00"/><stop offset="0.08333" stop-color="#1fff00"/><stop offset="0.125" stop-color="#0bff00"/><stop offset="0.1667" stop-color="#00ff06"/><stop offset="0.2083" stop-color="#00ff23"/><stop offset="0.25" stop-color="#00ff63"/><stop offset="0.2917" stop-color="#00ffb2"/><stop offset="0.3333" stop-color="#00f5ff"/><stop offset="0.375" stop-color="#00c8ff"/><stop offset="0.4167" stop-color="#00a0ff"/><stop offset="0.4583" stop-color="#0079ff"/><stop offset="0.5" stop-color="#0057ff"/><stop offset="0.5417" stop-color="#003aff"/><stop offset="0.5833" stop-color="#001fff"/><stop offset="0.625" stop-color="#000eff"/><stop offset="0.6667" stop-color="#0007ff"/><stop offset="0.7083" stop-color="#0004ff"/><stop offset="0.75" stop-color="#0006ff"/><stop offset="0.7917" stop-color="#000eff"/><stop offset="0.8333" stop-color="#001eff"/><stop offset="0.875" stop-color="#0038ff"/><stop offset="0.9167" stop-color="#0056ff"/><stop offset="0.9583" stop-color="#0078ff"/><stop offset="1" stop-color="#009eff"/></linearGradient><linearGradient id="g103"><stop offset="0" stop-color="#78ff00"/><stop offset="0.04167" stop-color="#4cff00"/><stop offset="0.08333" stop-color="#21ff00"/><stop offset="0.125" stop-color="#0cff00"/><stop offset="0.1667" stop-color="#00ff05"/><stop offset="0.2083" stop-color="#00ff21"/><stop offset="0.25" stop-color="#00ff60"/><stop offset="0.2917" stop-color="#00ffae"/><stop offset="0.3333" stop-color="#00f8ff"/><stop offset="0.375" stop-color="#00caff"/><stop offset="0.4167" stop-color="#00a2ff"/><stop offset="0.4583" stop-color="#007bff"/><stop offset="0.5" stop-color="#0059ff"/><stop offset="0.5417" stop-color="#003bff"/><stop offset="0.5833" stop-color="#0020ff"/><stop offset="0.625" stop-color="#000fff"/><stop offset="0.6667" stop-color="#0007ff"/><stop offset="0.7083" stop-color="#0005ff"/><stop offset="0.75" stop-color="#0007ff"/><stop offset="0.7917" stop-color="#000eff"/><stop offset="0.8333" stop-color="#001dff"/><stop offset="0.875" stop-color="#0038ff"/><stop offset="0.9167" stop-color="#0055ff"/><stop offset="0.9583" stop-color="#0077ff"/><stop offset="1" stop-color="#009dff"/></linearGradient><linearGradient id="g104"><stop offset="0" stop-color="#7aff00"/><stop offset="0.04167" stop-color="#4eff00"/><stop offset="0.08333" stop-color="#22ff00"/><stop offset="0.125" stop-color="#0cff00"/><stop offset="0.1667" stop-color="#00ff04"/><stop offset="0.2083" stop-color="#00ff1f"/><stop offset="0.25" stop-color="#00ff5c"/><stop offset="0.2917" stop-color="#00ffaa"/><stop offset="0.3333" stop-color="#00fbff"/><stop offset="0.375" stop-color="#00ccff"/><stop offset="0.4167" stop-color="#00a4ff"/><stop offset="0.4583" stop-color="#007dff"/><stop offset="0.5" stop-color="#005bff"/><stop offset="0.5417" stop-color="#003dff"/><stop offset="0.5833" stop-color="#0022ff"/><stop offset="0.625" stop-color="#0010ff"/><stop offset="0.6667" stop-color="#0008ff"/><stop offset="0.7083" stop-color="#0005ff"/><stop offset="0.75" stop-color="#0007ff"/><stop offset="0.7917" stop-color="#000dff"/><stop offset="0.8333" stop-color="#001dff"/><stop offset="0.875" stop-color="#0037ff"/><stop offset="0.9167" stop-color="#0054ff"/><stop offset="0.9583" stop-color="#0076ff"/><stop offset="1" stop-color="#009bff"/></linearGradient><linearGradient id="g105"><stop offset="0" stop-color="#7cff00"/><stop offset="0.04167" stop-color="#50ff00"/><stop offset="0.08333" stop-color="#24ff00"/><stop offset="0.125" stop-color="#0dff00"/><stop offset="0.1667" stop-color="#00ff03"/><stop offset="0.2083" stop-color="#00ff1d"/><stop offset="0.25" stop-color="#00ff59"/><stop offset="0.2917" stop-color="#00ffa7"/><stop offset="0.3333" stop-color="#00feff"/><stop offset="0.375" stop-color="#00ceff"/><stop offset="0.4167" stop-color="#00a6ff"/><stop offset="0.4583" stop-color="#007fff"/><stop offset="0.5" stop-color="#005cff"/><stop offset="0.5417" stop-color="#003eff"/><stop offset="0.5833" stop-color="#0023ff"/><stop offset="0.625" stop-color="#0010ff"/><stop offset="0.6667" stop-color="#0008ff"/><stop offset="0.7083" stop-color="#0005ff"/><stop offset="0.75" stop-color="#0007ff"/><stop offset="0.7917" stop-color="#000dff"/><stop offset="0.8333" stop-color="#001cff"/><stop offset="0.875" stop-color="#0036ff"/><stop offset="0.9167" stop-color="#0053ff"/><stop offset="0.9583" stop-color="#0074ff"/><stop offset="1" stop-color="#009aff"/></linearGradient><linearGradient id="g106"><stop offset="0" stop-color="#7dff00"/><stop offset="0.04167" stop-color="#52ff00"/><stop offset="0.08333" stop-color="#25ff00"/><stop offset="0.125" stop-color="#0eff00"/><stop offset="0.1667" stop-color="#00ff03"/><stop offset="0.2083" stop-color="#00ff1c"/><stop offset="0.25" stop-color="#00ff56"/><stop offset="0.2917" stop-color="#00ffa3"/><stop offset="0.3333" stop-color="#00fffd"/><stop offset="0.375" stop-color="#00cfff"/><stop offset="0.4167" stop-color="#00a7ff"/><stop offset="0.4583" stop-color="#0081ff"/><stop offset="0.5" stop-color="#005eff"/><stop offset="0.5417" stop-color="#0040ff"/><stop offset="0.5833" stop-color="#0025ff"/><stop offset="0.625" stop-color="#0011ff"/><stop offset="0.6667" stop-color="#0009ff"/><stop offset="0.7083" stop-color="#0006ff"/><stop offset="0.75" stop-color="#0007ff"/><stop offset="0.7917" stop-color="#000dff"/><stop offset="0.8333" stop-color="#001cff"/><stop offset="0.875" stop-color="#0036ff"/><stop offset="0.9167" stop-color="#0052ff"/><stop offset="0.9583" stop-color="#0073ff"/><stop offset="1" stop-color="#0099ff"/></linearGradient><clipPath id="cp2"><rect x="95.3" y="386.9" width="132.5" height="132.80000000000007"/></clipPath><linearGradient id="g107"><stop offset="0" stop-color="#00ff5a"/><stop offset="0.04167" stop-color="#00ff9b"/><stop offset="0.08333" stop-color="#00ffe8"/><stop offset="0.125" stop-color="#00e0ff"/><stop offset="0.1667" stop-color="#00bdff"/><stop offset="0.2083" stop-color="#0099ff"/><stop offset="0.25" stop-color="#0077ff"/><stop offset="0.2917" stop-color="#0058ff"/><stop offset="0.3333" stop-color="#003aff"/><stop offset="0.375" stop-color="#001dff"/><stop offset="0.4167" stop-color="#000aff"/><stop offset="0.4583" stop-color="#0000ff"/><stop offset="0.5" stop-color="#0000ff"/><stop offset="0.5417" stop-color="#0000ff"/><stop offset="0.5833" stop-color="#0000ff"/><stop offset="0.625" stop-color="#0000ff"/><stop offset="0.6667" stop-color="#0000ff"/><stop offset="0.7083" stop-color="#0000ff"/><stop offset="0.75" stop-color="#0001ff"/><stop offset="0.7917" stop-color="#000bff"/><stop offset="0.8333" stop-color="#0020ff"/><stop offset="0.875" stop-color="#003eff"/><stop offset="0.9167" stop-color="#005bff"/><stop offset="0.9583" stop-color="#007bff"/><stop offset="1" stop-color="#009dff"/></linearGradient><linearGradient id="g108"><stop offset="0" stop-color="#00ff55"/><stop offset="0.04167" stop-color="#00ff97"/><stop offset="0.08333" stop-color="#00ffe2"/><stop offset="0.125" stop-color="#00e4ff"/><stop offset="0.1667" stop-color="#00c0ff"/><stop offset="0.2083" stop-color="#009dff"/><stop offset="0.25" stop-color="#007bff"/><stop offset="0.2917" stop-color="#005cff"/><stop offset="0.3333" stop-color="#003fff"/><stop offset="0.375" stop-color="#0022ff"/><stop offset="0.4167" stop-color="#000dff"/><stop offset="0.4583" stop-color="#0002ff"/><stop offset="0.5" stop-color="#0000ff"/><stop offset="0.5417" stop-color="#0000ff"/><stop offset="0.5833" stop-color="#0000ff"/><stop offset="0.625" stop-color="#0000ff"/><stop offset="0.6667" stop-color="#0000ff"/><stop offset="0.7083" stop-color="#0000ff"/><stop offset="0.75" stop-color="#0003ff"/><stop offset="0.7917" stop-color="#000fff"/><stop offset="0.8333" stop-color="#0026ff"/><stop offset="0.875" stop-color="#0042ff"/><stop offset="0.9167" stop-color="#005fff"/><stop offset="0.9583" stop-color="#007fff"/><stop offset="1" stop-color="#00a1ff"/></linearGradient><linearGradient id="g109"><stop offset="0" stop-color="#00ff51"/><stop offset="0.04167" stop-color="#00ff92"/><stop offset="0.08333" stop-color="#00ffdc"/><stop offset="0.125" stop-color="#00e7ff"/><stop offset="0.1667" stop-color="#00c3ff"/><stop offset="0.2083" stop-color="#00a1ff"/><stop offset="0.25" stop-color="#007fff"/><stop offset="0.2917" stop-color="#0060ff"/><stop offset="0.3333" stop-color="#0043ff"/><stop offset="0.375" stop-color="#0027ff"/><stop offset="0.4167" stop-color="#0010ff"/><stop offset="0.4583" stop-color="#0004ff"/><stop offset="0.5" stop-color="#0000ff"/><stop offset="0.5417" stop-color="#0000ff"/><stop offset="0.5833" stop-color="#0000ff"/><stop offset="0.625" stop-color="#0000ff"/><stop offset="0.6667" stop-color="#0000ff"/><stop offset="0.7083" stop-color="#0000ff"/><stop offset="0.75" stop-color="#0005ff"/><stop offset="0.7917" stop-color="#0012ff"/><stop offset="0.8333" stop-color="#002bff"/><stop offset="0.875" stop-color="#0046ff"/><stop offset="0.9167" stop-color="#0063ff"/><stop offset="0.9583" stop-color="#0083ff"/><stop offset="1" stop-color="#00a5ff"/></linearGradient><linearGradient id="g110"><stop offset="0" stop-color="#00ff4e"/><stop offset="0.04167" stop-color="#00ff8d"/><stop offset="0.08333" stop-color="#00ffd5"/><stop offset="0.125" stop-color="#00ebff"/><stop offset="0.1667" stop-color="#00c6ff"/><stop offset="0.2083" stop-color="#00a4ff"/><stop offset="0.25" stop-color="#0083ff"/><stop offset="0.2917" stop-color="#0063ff"/><stop offset="0.3333" stop-color="#0047ff"/><stop offset="0.375" stop-color="#002cff"/><stop offset="0.4167" stop-color="#0014ff"/><stop offset="0.4583" stop-color="#0007ff"/><stop offset="0.5" stop-color="#0000ff"/><stop offset="0.5417" stop-color="#0000ff"/><stop offset="0.5833" stop-color="#0000ff"/><stop offset="0.625" stop-color="#0000ff"/><stop offset="0.6667" stop-color="#0000ff"/><stop offset="0.7083" stop-color="#0000ff"/><stop offset="0.75" stop-color="#0008ff"/><stop offset="0.7917" stop-color="#0016ff"/><stop offset="0.8333" stop-color="#0030ff"/><stop offset="0.875" stop-color="#004bff"/><stop offset="0.9167" stop-color="#0067ff"/><stop offset="0.9583" stop-color="#0087ff"/><stop offset="1" stop-color="#00a9ff"/></linearGradient><linearGradient id="g111"><stop offset="0" stop-color="#00ff4a"/><stop offset="0.04167" stop-color="#00ff89"/><stop offset="0.08333" stop-color="#00ffcf"/><stop offset="0.125" stop-color="#00eeff"/><stop offset="0.1667" stop-color="#00c9ff"/><stop offset="0.2083" stop-color="#00a8ff"/><stop offset="0.25" stop-color="#0086ff"/><stop offset="0.2917" stop-color="#0067ff"/><stop offset="0.3333" stop-color="#004bff"/><stop offset="0.375" stop-color="#0031ff"/><stop offset="0.4167" stop-color="#0018ff"/><stop offset="0.4583" stop-color="#000aff"/><stop offset="0.5" stop-color="#0002ff"/><stop offset="0.5417" stop-color="#0000ff"/><stop offset="0.5833" stop-color="#0000ff"/><stop offset="0.625" stop-color="#0000ff"/><stop offset="0.6667" stop-color="#0000ff"/><stop offset="0.7083" stop-color="#0002ff"/><stop offset="0.75" stop-color="#000bff"/><stop offset="0.7917" stop-color="#001bff"/><stop offset="0.8333" stop-color="#0035ff"/><stop offset="0.875" stop-color="#004fff"/><stop offset="0.9167" stop-color="#006bff"/><stop offset="0.9583" stop-color="#008bff"/><stop offset="1" stop-color="#00acff"/></linearGradient><linearGradient id="g112"><stop offset="0" stop-color="#00ff46"/><stop offset="0.04167" stop-color="#00ff84"/><stop offset="0.08333" stop-color="#00ffc9"/><stop offset="0.125" stop-color="#00f2ff"/><stop offset="0.1667" stop-color="#00ccff"/><stop offset="0.2083" stop-color="#00abff"/><stop offset="0.25" stop-color="#008aff"/><stop offset="0.2917" stop-color="#006bff"/><stop offset="0.3333" stop-color="#004fff"/><stop offset="0.375" stop-color="#0035ff"/><stop offset="0.4167" stop-color="#001cff"/><stop offset="0.4583" stop-color="#000dff"/><stop offset="0.5" stop-color="#0004ff"/><stop offset="0.5417" stop-color="#0000ff"/><stop offset="0.5833" stop-color="#0000ff"/><stop offset="0.625" stop-color="#0000ff"/><stop offset="0.6667" stop-color="#0000ff"/><stop offset="0.7083" stop-color="#0005ff"/><stop offset="0.75" stop-color="#000eff"/><stop offset="0.7917" stop-color="#0020ff"/><stop offset="0.8333" stop-color="#0039ff"/><stop offset="0.875" stop-color="#0053ff"/><stop offset="0.9167" stop-color="#006fff"/><stop offset="0.9583" stop-color="#008eff"/><stop offset="1" stop-color="#00b0ff"/></linearGradient><linearGradient id="g113"><stop offset="0" stop-color="#00ff43"/><stop offset="0.04167" stop-color="#00ff80"/><stop offset="0.08333" stop-color="#00ffc3"/><stop offset="0.125" stop-color="#00f5ff"/><stop offset="0.1667" stop-color="#00cfff"/><stop offset="0.2083" stop-color="#00aeff"/><stop offset="0.25" stop-color="#008dff"/><stop offset="0.2917" stop-color="#006eff"/><stop offset="0.3333" stop-color="#0053ff"/><stop offset="0.375" stop-color="#0039ff"/><stop offset="0.4167" stop-color="#0021ff"/><stop offset="0.4583" stop-color="#0010ff"/><stop offset="0.5" stop-color="#0006ff"/><stop offset="0.5417" stop-color="#0002ff"/><stop offset="0.5833" stop-color="#0000ff"/><stop offset="0.625" stop-color="#0000ff"/><stop offset="0.6667" stop-color="#0002ff"/><stop offset="0.7083" stop-color="#0007ff"/><stop offset="0.75" stop-color="#0011ff"/><stop offset="0.7917" stop-color="#0025ff"/><stop offset="0.8333" stop-color="#003dff"/><stop offset="0.875" stop-color="#0056ff"/><stop offset="0.9167" stop-color="#0073ff"/><stop offset="0.9583" stop-color="#0092ff"/><stop offset="1" stop-color="#00b3ff"/></linearGradient><linearGradient id="g114"><stop offset="0" stop-color="#00ff40"/><stop offset="0.04167" stop-color="#00ff7c"/><stop offset="0.08333" stop-color="#00ffbe"/><stop offset="0.125" stop-color="#00f9ff"/><stop offset="0.1667" stop-color="#00d2ff"/><stop offset="0.2083" stop-color="#00b1ff"/><stop offset="0.25" stop-color="#0090ff"/><stop offset="0.2917" stop-color="#0072ff"/><stop offset="0.3333" stop-color="#0056ff"/><stop offset="0.375" stop-color="#003dff"/><stop offset="0.4167" stop-color="#0026ff"/><stop offset="0.4583" stop-color="#0013ff"/><stop offset="0.5" stop-color="#0009ff"/><stop offset="0.5417" stop-color="#0004ff"/><stop offset="0.5833" stop-color="#0002ff"/><stop offset="0.625" stop-color="#0002ff"/><stop offset="0.6667" stop-color="#0004ff"/><stop offset="0.7083" stop-color="#000aff"/><stop offset="0.75" stop-color="#0015ff"/><stop offset="0.7917" stop-color="#002aff"/><stop offset="0.8333" stop-color="#0041ff"/><stop offset="0.875" stop-color="#005aff"/><stop offset="0.9167" stop-color="#0076ff"/><stop offset="0.9583" stop-color="#0095ff"/><stop offset="1" stop-color="#00b7ff"/></linearGradient><linearGradient id="g115"><stop offset="0" stop-color="#00ff3c"/><stop offset="0.04167" stop-color="#00ff78"/><stop offset="0.08333" stop-color="#00ffb8"/><stop offset="0.125" stop-color="#00fdff"/><stop offset="0.1667" stop-color="#00d5ff"/><stop offset="0.2083" stop-color="#00b5ff"/><stop offset="0.25" stop-color="#0094ff"/><stop offset="0.2917" stop-color="#0075ff"/><stop offset="0.3333" stop-color="#005aff"/><stop offset="0.375" stop-color="#0041ff"/><stop offset="0.4167" stop-color="#002bff"/><stop offset="0.4583" stop-color="#0017ff"/><stop offset="0.5" stop-color="#000cff"/><stop offset="0.5417" stop-color="#0006ff"/><stop offset="0.5833" stop-color="#0004ff"/><stop offset="0.625" stop-color="#0004ff"/><stop offset="0.6667" stop-color="#0007ff"/><stop offset="0.7083" stop-color="#000dff"/><stop offset="0.75" stop-color="#0019ff"/><stop offset="0.7917" stop-color="#002eff"/><stop offset="0.8333" stop-color="#0045ff"/><stop offset="0.875" stop-color="#005eff"/><stop offset="0.9167" stop-color="#007aff"/><stop offset="0.9583" stop-color="#0099ff"/><stop offset="1" stop-color="#00baff"/></linearGradient><linearGradient id="g116"><stop offset="0" stop-color="#00ff3a"/><stop offset="0.04167" stop-color="#00ff74"/><stop offset="0.08333" stop-color="#00ffb3"/><stop offset="0.125" stop-color="#00fffd"/><stop offset="0.1667" stop-color="#00d7ff"/><stop offset="0.2083" stop-color="#00b7ff"/><stop offset="0.25" stop-color="#0097ff"/><stop offset="0.2917" stop-color="#0079ff"/><stop offset="0.3333" stop-color="#005dff"/><stop offset="0.375" stop-color="#0045ff"/><stop offset="0.4167" stop-color="#002fff"/><stop offset="0.4583" stop-color="#001bff"/><stop offset="0.5" stop-color="#000fff"/><stop offset="0.5417" stop-color="#0008ff"/><stop offset="0.5833" stop-color="#0006ff"/><stop offset="0.625" stop-color="#0006ff"/><stop offset="0.6667" stop-color="#0009ff"/><stop offset="0.7083" stop-color="#0010ff"/><stop offset="0.75" stop-color="#001eff"/><stop offset="0.7917" stop-color="#0032ff"/><stop offset="0.8333" stop-color="#0049ff"/><stop offset="0.875" stop-color="#0062ff"/><stop offset="0.9167" stop-color="#007dff"/><stop offset="0.9583" stop-color="#009cff"/><stop offset="1" stop-color="#00bdff"/></linearGradient><linearGradient id="g117"><stop offset="0" stop-color="#00ff37"/><stop offset="0.04167" stop-color="#00ff70"/><stop offset="0.08333" stop-color="#00ffaf"/><stop offset="0.125" stop-color="#00fff9"/><stop offset="0.1667" stop-color="#00daff"/><stop offset="0.2083" stop-color="#00baff"/><stop offset="0.25" stop-color="#009aff"/><stop offset="0.2917" stop-color="#007cff"/><stop offset="0.3333" stop-color="#0061ff"/><stop offset="0.375" stop-color="#0048ff"/><stop offset="0.4167" stop-color="#0033ff"/><stop offset="0.4583" stop-color="#001fff"/><stop offset="0.5" stop-color="#0012ff"/><stop offset="0.5417" stop-color="#000bff"/><stop offset="0.5833" stop-color="#0008ff"/><stop offset="0.625" stop-color="#0009ff"/><stop offset="0.6667" stop-color="#000cff"/><stop offset="0.7083" stop-color="#0013ff"/><stop offset="0.75" stop-color="#0022ff"/><stop offset="0.7917" stop-color="#0036ff"/><stop offset="0.8333" stop-color="#004cff"/><stop offset="0.875" stop-color="#0065ff"/><stop offset="0.9167" stop-color="#0081ff"/><stop offset="0.9583" stop-color="#009fff"/><stop offset="1" stop-color="#00c0ff"/></linearGradient><linearGradient id="g118"><stop offset="0" stop-color="#00ff34"/><stop offset="0.04167" stop-color="#00ff6c"/><stop offset="0.08333" stop-color="#00ffab"/><stop offset="0.125" stop-color="#00fff5"/><stop offset="0.1667" stop-color="#00ddff"/><stop offset="0.2083" stop-color="#00bdff"/><stop offset="0.25" stop-color="#009dff"/><stop offset="0.2917" stop-color="#007fff"/><stop offset="0.3333" stop-color="#0064ff"/><stop offset="0.375" stop-color="#004cff"/><stop offset="0.4167" stop-color="#0037ff"/><stop offset="0.4583" stop-color="#0023ff"/><stop offset="0.5" stop-color="#0015ff"/><stop offset="0.5417" stop-color="#000eff"/><stop offset="0.5833" stop-color="#000bff"/><stop offset="0.625" stop-color="#000bff"/><stop offset="0.6667" stop-color="#000fff"/><stop offset="0.7083" stop-color="#0017ff"/><stop offset="0.75" stop-color="#0027ff"/><stop offset="0.7917" stop-color="#003aff"/><stop offset="0.8333" stop-color="#0050ff"/><stop offset="0.875" stop-color="#0068ff"/><stop offset="0.9167" stop-color="#0084ff"/><stop offset="0.9583" stop-color="#00a3ff"/><stop offset="1" stop-color="#00c2ff"/></linearGradient><linearGradient id="g119"><stop offset="0" stop-color="#00ff31"/><stop offset="0.04167" stop-color="#00ff69"/><stop offset="0.08333" stop-color="#00ffa7"/><stop offset="0.125" stop-color="#00fff0"/><stop offset="0.1667" stop-color="#00dfff"/><stop offset="0.2083" stop-color="#00c0ff"/><stop offset="0.25" stop-color="#00a0ff"/><stop offset="0.2917" stop-color="#0082ff"/><stop offset="0.3333" stop-color="#0067ff"/><stop offset="0.375" stop-color="#004fff"/><stop offset="0.4167" stop-color="#003aff"/><stop offset="0.4583" stop-color="#0028ff"/><stop offset="0.5" stop-color="#0019ff"/><stop offset="0.5417" stop-color="#0011ff"/><stop offset="0.5833" stop-color="#000eff"/><stop offset="0.625" stop-color="#000eff"/><stop offset="0.6667" stop-color="#0012ff"/><stop offset="0.7083" stop-color="#001bff"/><stop offset="0.75" stop-color="#002bff"/><stop offset="0.7917" stop-color="#003eff"/><stop offset="0.8333" stop-color="#0053ff"/><stop offset="0.875" stop-color="#006cff"/><stop offset="0.9167" stop-color="#0087ff"/><stop offset="0.9583" stop-color="#00a6ff"/><stop offset="1" stop-color="#00c5ff"/></linearGradient><linearGradient id="g120"><stop offset="0" stop-color="#00ff2f"/><stop offset="0.04167" stop-color="#00ff65"/><stop offset="0.08333" stop-color="#00ffa3"/><stop offset="0.125" stop-color="#00ffec"/><stop offset="0.1667" stop-color="#00e2ff"/><stop offset="0.2083" stop-color="#00c2ff"/><stop offset="0.25" stop-color="#00a3ff"/><stop offset="0.2917" stop-color="#0085ff"/><stop offset="0.3333" stop-color="#006aff"/><stop offset="0.375" stop-color="#0052ff"/><stop offset="0.4167" stop-color="#003eff"/><stop offset="0.4583" stop-color="#002cff"/><stop offset="0.5" stop-color="#001dff"/><stop offset="0.5417" stop-color="#0014ff"/><stop offset="0.5833" stop-color="#0010ff"/><stop offset="0.625" stop-color="#0011ff"/><stop offset="0.6667" stop-color="#0015ff"/><stop offset="0.7083" stop-color="#001fff"/><stop offset="0.75" stop-color="#002fff"/><stop offset="0.7917" stop-color="#0041ff"/><stop offset="0.8333" stop-color="#0057ff"/><stop offset="0.875" stop-color="#006fff"/><stop offset="0.9167" stop-color="#008bff"/><stop offset="0.9583" stop-color="#00a9ff"/><stop offset="1" stop-color="#00c8ff"/></linearGradient><linearGradient id="g121"><stop offset="0" stop-color="#00ff2d"/><stop offset="0.04167" stop-color="#00ff62"/><stop offset="0.08333" stop-color="#00ff9f"/><stop offset="0.125" stop-color="#00ffe7"/><stop offset="0.1667" stop-color="#00e5ff"/><stop offset="0.2083" stop-color="#00c5ff"/><stop offset="0.25" stop-color="#00a6ff"/><stop offset="0.2917" stop-color="#0088ff"/><stop offset="0.3333" stop-color="#006dff"/><stop offset="0.375" stop-color="#0056ff"/><stop offset="0.4167" stop-color="#0041ff"/><stop offset="0.4583" stop-color="#0030ff"/><stop offset="0.5" stop-color="#0021ff"/><stop offset="0.5417" stop-color="#0017ff"/><stop offset="0.5833" stop-color="#0013ff"/><stop offset="0.625" stop-color="#0014ff"/><stop offset="0.6667" stop-color="#0019ff"/><stop offset="0.7083" stop-color="#0023ff"/><stop offset="0.75" stop-color="#0033ff"/><stop offset="0.7917" stop-color="#0045ff"/><stop offset="0.8333" stop-color="#005aff"/><stop offset="0.875" stop-color="#0072ff"/><stop offset="0.9167" stop-color="#008eff"/><stop offset="0.9583" stop-color="#00acff"/><stop offset="1" stop-color="#00caff"/></linearGradient><linearGradient id="g122"><stop offset="0" stop-color="#00ff2b"/><stop offset="0.04167" stop-color="#00ff5f"/><stop offset="0.08333" stop-color="#00ff9c"/><stop offset="0.125" stop-color="#00ffe2"/><stop offset="0.1667" stop-color="#00e7ff"/><stop offset="0.2083" stop-color="#00c7ff"/><stop offset="0.25" stop-color="#00a9ff"/><stop offset="0.2917" stop-color="#008bff"/><stop offset="0.3333" stop-color="#0070ff"/><stop offset="0.375" stop-color="#0059ff"/><stop offset="0.4167" stop-color="#0044ff"/><stop offset="0.4583" stop-color="#0033ff"/><stop offset="0.5" stop-color="#0025ff"/><stop offset="0.5417" stop-color="#001bff"/><stop offset="0.5833" stop-color="#0017ff"/><stop offset="0.625" stop-color="#0017ff"/><stop offset="0.6667" stop-color="#001cff"/><stop offset="0.7083" stop-color="#0027ff"/><stop offset="0.75" stop-color="#0036ff"/><stop offset="0.7917" stop-color="#0048ff"/><stop offset="0.8333" stop-color="#005dff"/><stop offset="0.875" stop-color="#0075ff"/><stop offset="0.9167" stop-color="#0091ff"/><stop offset="0.9583" stop-color="#00afff"/><stop offset="1" stop-color="#00cdff"/></linearGradient><linearGradient id="g123"><stop offset="0" stop-color="#00ff28"/><stop offset="0.04167" stop-color="#00ff5b"/><stop offset="0.08333" stop-color="#00ff98"/><stop offset="0.125" stop-color="#00ffdd"/><stop offset="0.1667" stop-color="#00eaff"/><stop offset="0.2083" stop-color="#00c9ff"/><stop offset="0.25" stop-color="#00abff"/><stop offset="0.2917" stop-color="#008eff"/><stop offset="0.3333" stop-color="#0073ff"/><stop offset="0.375" stop-color="#005cff"/><stop offset="0.4167" stop-color="#0048ff"/><stop offset="0.4583" stop-color="#0037ff"/><stop offset="0.5" stop-color="#0029ff"/><stop offset="0.5417" stop-color="#001fff"/><stop offset="0.5833" stop-color="#001aff"/><stop offset="0.625" stop-color="#001bff"/><stop offset="0.6667" stop-color="#0020ff"/><stop offset="0.7083" stop-color="#002bff"/><stop offset="0.75" stop-color="#003aff"/><stop offset="0.7917" stop-color="#004bff"/><stop offset="0.8333" stop-color="#0060ff"/><stop offset="0.875" stop-color="#0078ff"/><stop offset="0.9167" stop-color="#0094ff"/><stop offset="0.9583" stop-color="#00b2ff"/><stop offset="1" stop-color="#00cfff"/></linearGradient><linearGradient id="g124"><stop offset="0" stop-color="#00ff27"/><stop offset="0.04167" stop-color="#00ff58"/><stop offset="0.08333" stop-color="#00ff95"/><stop offset="0.125" stop-color="#00ffd9"/><stop offset="0.1667" stop-color="#00edff"/><stop offset="0.2083" stop-color="#00cbff"/><stop offset="0.25" stop-color="#00aeff"/><stop offset="0.2917" stop-color="#0091ff"/><stop offset="0.3333" stop-color="#0076ff"/><stop offset="0.375" stop-color="#005fff"/><stop offset="0.4167" stop-color="#004bff"/><stop offset="0.4583" stop-color="#003aff"/><stop offset="0.5" stop-color="#002cff"/><stop offset="0.5417" stop-color="#0023ff"/><stop offset="0.5833" stop-color="#001eff"/><stop offset="0.625" stop-color="#001eff"/><stop offset="0.6667" stop-color="#0024ff"/><stop offset="0.7083" stop-color="#002fff"/><stop offset="0.75" stop-color="#003dff"/><stop offset="0.7917" stop-color="#004fff"/><stop offset="0.8333" stop-color="#0063ff"/><stop offset="0.875" stop-color="#007bff"/><stop offset="0.9167" stop-color="#0096ff"/><stop offset="0.9583" stop-color="#00b4ff"/><stop offset="1" stop-color="#00d2ff"/></linearGradient><linearGradient id="g125"><stop offset="0" stop-color="#00ff25"/><stop offset="0.04167" stop-color="#00ff55"/><stop offset="0.08333" stop-color="#00ff91"/><stop offset="0.125" stop-color="#00ffd4"/><stop offset="0.1667" stop-color="#00efff"/><stop offset="0.2083" stop-color="#00ceff"/><stop offset="0.25" stop-color="#00b0ff"/><stop offset="0.2917" stop-color="#0093ff"/><stop offset="0.3333" stop-color="#0079ff"/><stop offset="0.375" stop-color="#0062ff"/><stop offset="0.4167" stop-color="#004eff"/><stop offset="0.4583" stop-color="#003dff"/><stop offset="0.5" stop-color="#0030ff"/><stop offset="0.5417" stop-color="#0026ff"/><stop offset="0.5833" stop-color="#0022ff"/><stop offset="0.625" stop-color="#0022ff"/><stop offset="0.6667" stop-color="#0028ff"/><stop offset="0.7083" stop-color="#0033ff"/><stop offset="0.75" stop-color="#0040ff"/><stop offset="0.7917" stop-color="#0052ff"/><stop offset="0.8333" stop-color="#0066ff"/><stop offset="0.875" stop-color="#007eff"/><stop offset="0.9167" stop-color="#0099ff"/><stop offset="0.9583" stop-color="#00b7ff"/><stop offset="1" stop-color="#00d4ff"/></linearGradient><linearGradient id="g126"><stop offset="0" stop-color="#00ff23"/><stop offset="0.04167" stop-color="#00ff53"/><stop offset="0.08333" stop-color="#00ff8e"/><stop offset="0.125" stop-color="#00ffcf"/><stop offset="0.1667" stop-color="#00f2ff"/><stop offset="0.2083" stop-color="#00d0ff"/><stop offset="0.25" stop-color="#00b3ff"/><stop offset="0.2917" stop-color="#0096ff"/><stop offset="0.3333" stop-color="#007cff"/><stop offset="0.375" stop-color="#0064ff"/><stop offset="0.4167" stop-color="#0050ff"/><stop offset="0.4583" stop-color="#0040ff"/><stop offset="0.5" stop-color="#0033ff"/><stop offset="0.5417" stop-color="#002aff"/><stop offset="0.5833" stop-color="#0025ff"/><stop offset="0.625" stop-color="#0026ff"/><stop offset="0.6667" stop-color="#002cff"/><stop offset="0.7083" stop-color="#0036ff"/><stop offset="0.75" stop-color="#0043ff"/><stop offset="0.7917" stop-color="#0055ff"/><stop offset="0.8333" stop-color="#0069ff"/><stop offset="0.875" stop-color="#0081ff"/><stop offset="0.9167" stop-color="#009cff"/><stop offset="0.9583" stop-color="#00b9ff"/><stop offset="1" stop-color="#00d6ff"/></linearGradient><linearGradient id="g127"><stop offset="0" stop-color="#00ff22"/><stop offset="0.04167" stop-color="#00ff50"/><stop offset="0.08333" stop-color="#00ff8b"/><stop offset="0.125" stop-color="#00ffcb"/><stop offset="0.1667" stop-color="#00f5ff"/><stop offset="0.2083" stop-color="#00d2ff"/><stop offset="0.25" stop-color="#00b5ff"/><stop offset="0.2917" stop-color="#0098ff"/><stop offset="0.3333" stop-color="#007eff"/><stop offset="0.375" stop-color="#0067ff"/><stop offset="0.4167" stop-color="#0053ff"/><stop offset="0.4583" stop-color="#0043ff"/><stop offset="0.5" stop-color="#0036ff"/><stop offset="0.5417" stop-color="#002eff"/><stop offset="0.5833" stop-color="#0029ff"/><stop offset="0.625" stop-color="#002aff"/><stop offset="0.6667" stop-color="#002fff"/><stop offset="0.7083" stop-color="#0039ff"/><stop offset="0.75" stop-color="#0046ff"/><stop offset="0.7917" stop-color="#0057ff"/><stop offset="0.8333" stop-color="#006cff"/><stop offset="0.875" stop-color="#0084ff"/><stop offset="0.9167" stop-color="#009fff"/><stop offset="0.9583" stop-color="#00bcff"/><stop offset="1" stop-color="#00d9ff"/></linearGradient><linearGradient id="g128"><stop offset="0" stop-color="#00ff20"/><stop offset="0.04167" stop-color="#00ff4d"/><stop offset="0.08333" stop-color="#00ff88"/><stop offset="0.125" stop-color="#00ffc7"/><stop offset="0.1667" stop-color="#00f8ff"/><stop offset="0.2083" stop-color="#00d4ff"/><stop offset="0.25" stop-color="#00b7ff"/><stop offset="0.2917" stop-color="#009bff"/><stop offset="0.3333" stop-color="#0081ff"/><stop offset="0.375" stop-color="#006aff"/><stop offset="0.4167" stop-color="#0056ff"/><stop offset="0.4583" stop-color="#0046ff"/><stop offset="0.5" stop-color="#0039ff"/><stop offset="0.5417" stop-color="#0031ff"/><stop offset="0.5833" stop-color="#002cff"/><stop offset="0.625" stop-color="#002dff"/><stop offset="0.6667" stop-color="#0032ff"/><stop offset="0.7083" stop-color="#003cff"/><stop offset="0.75" stop-color="#0049ff"/><stop offset="0.7917" stop-color="#005aff"/><stop offset="0.8333" stop-color="#006fff"/><stop offset="0.875" stop-color="#0086ff"/><stop offset="0.9167" stop-color="#00a1ff"/><stop offset="0.9583" stop-color="#00beff"/><stop offset="1" stop-color="#00dbff"/></linearGradient><linearGradient id="g129"><stop offset="0" stop-color="#00ff1f"/><stop offset="0.04167" stop-color="#00ff4b"/><stop offset="0.08333" stop-color="#00ff85"/><stop offset="0.125" stop-color="#00ffc3"/><stop offset="0.1667" stop-color="#00faff"/><stop offset="0.2083" stop-color="#00d6ff"/><stop offset="0.25" stop-color="#00baff"/><stop offset="0.2917" stop-color="#009dff"/><stop offset="0.3333" stop-color="#0083ff"/><stop offset="0.375" stop-color="#006cff"/><stop offset="0.4167" stop-color="#0059ff"/><stop offset="0.4583" stop-color="#0049ff"/><stop offset="0.5" stop-color="#003cff"/><stop offset="0.5417" stop-color="#0034ff"/><stop offset="0.5833" stop-color="#0030ff"/><stop offset="0.625" stop-color="#0030ff"/><stop offset="0.6667" stop-color="#0035ff"/><stop offset="0.7083" stop-color="#003fff"/><stop offset="0.75" stop-color="#004cff"/><stop offset="0.7917" stop-color="#005dff"/><stop offset="0.8333" stop-color="#0071ff"/><stop offset="0.875" stop-color="#0089ff"/><stop offset="0.9167" stop-color="#00a4ff"/><stop offset="0.9583" stop-color="#00c0ff"/><stop offset="1" stop-color="#00ddff"/></linearGradient><linearGradient id="g130"><stop offset="0" stop-color="#00ff1d"/><stop offset="0.04167" stop-color="#00ff48"/><stop offset="0.08333" stop-color="#00ff82"/><stop offset="0.125" stop-color="#00ffbf"/><stop offset="0.1667" stop-color="#00fdff"/><stop offset="0.2083" stop-color="#00d8ff"/><stop offset="0.25" stop-color="#00bcff"/><stop offset="0.2917" stop-color="#009fff"/><stop offset="0.3333" stop-color="#0086ff"/><stop offset="0.375" stop-color="#006fff"/><stop offset="0.4167" stop-color="#005bff"/><stop offset="0.4583" stop-color="#004bff"/><stop offset="0.5" stop-color="#003fff"/><stop offset="0.5417" stop-color="#0037ff"/><stop offset="0.5833" stop-color="#0033ff"/><stop offset="0.625" stop-color="#0033ff"/><stop offset="0.6667" stop-color="#0038ff"/><stop offset="0.7083" stop-color="#0042ff"/><stop offset="0.75" stop-color="#004fff"/><stop offset="0.7917" stop-color="#0060ff"/><stop offset="0.8333" stop-color="#0074ff"/><stop offset="0.875" stop-color="#008bff"/><stop offset="0.9167" stop-color="#00a6ff"/><stop offset="0.9583" stop-color="#00c2ff"/><stop offset="1" stop-color="#00e0ff"/></linearGradient><linearGradient id="g131"><stop offset="0" stop-color="#00ff1c"/><stop offset="0.04167" stop-color="#00ff46"/><stop offset="0.08333" stop-color="#00ff7f"/><stop offset="0.125" stop-color="#00ffbb"/><stop offset="0.1667" stop-color="#00fffe"/><stop offset="0.2083" stop-color="#00daff"/><stop offset="0.25" stop-color="#00beff"/><stop offset="0.2917" stop-color="#00a2ff"/><stop offset="0.3333" stop-color="#0088ff"/><stop offset="0.375" stop-color="#0071ff"/><stop offset="0.4167" stop-color="#005eff"/><stop offset="0.4583" stop-color="#004eff"/><stop offset="0.5" stop-color="#0042ff"/><stop offset="0.5417" stop-color="#0039ff"/><stop offset="0.5833" stop-color="#0036ff"/><stop offset="0.625" stop-color="#0036ff"/><stop offset="0.6667" stop-color="#003bff"/><stop offset="0.7083" stop-color="#0044ff"/><stop offset="0.75" stop-color="#0051ff"/><stop offset="0.7917" stop-color="#0062ff"/><stop offset="0.8333" stop-color="#0076ff"/><stop offset="0.875" stop-color="#008eff"/><stop offset="0.9167" stop-color="#00a9ff"/><stop offset="0.9583" stop-color="#00c4ff"/><stop offset="1" stop-color="#00e2ff"/></linearGradient><linearGradient id="g132"><stop offset="0" stop-color="#00ff1b"/><stop offset="0.04167" stop-color="#00ff44"/><stop offset="0.08333" stop-color="#00ff7c"/><stop offset="0.125" stop-color="#00ffb8"/><stop offset="0.1667" stop-color="#00fffc"/><stop offset="0.2083" stop-color="#00dcff"/><stop offset="0.25" stop-color="#00c0ff"/><stop offset="0.2917" stop-color="#00a4ff"/><stop offset="0.3333" stop-color="#008aff"/><stop offset="0.375" stop-color="#0073ff"/><stop offset="0.4167" stop-color="#0060ff"/><stop offset="0.4583" stop-color="#0050ff"/><stop offset="0.5" stop-color="#0044ff"/><stop offset="0.5417" stop-color="#003cff"/><stop offset="0.5833" stop-color="#0038ff"/><stop offset="0.625" stop-color="#0039ff"/><stop offset="0.6667" stop-color="#003eff"/><stop offset="0.7083" stop-color="#0047ff"/><stop offset="0.75" stop-color="#0054ff"/><stop offset="0.7917" stop-color="#0065ff"/><stop offset="0.8333" stop-color="#0079ff"/><stop offset="0.875" stop-color="#0090ff"/><stop offset="0.9167" stop-color="#00abff"/><stop offset="0.9583" stop-color="#00c6ff"/><stop offset="1" stop-color="#00e4ff"/></linearGradient><linearGradient id="g133"><stop offset="0" stop-color="#00ff1a"/><stop offset="0.04167" stop-color="#00ff42"/><stop offset="0.08333" stop-color="#00ff79"/><stop offset="0.125" stop-color="#00ffb4"/><stop offset="0.1667" stop-color="#00fff9"/><stop offset="0.2083" stop-color="#00deff"/><stop offset="0.25" stop-color="#00c1ff"/><stop offset="0.2917" stop-color="#00a6ff"/><stop offset="0.3333" stop-color="#008cff"/><stop offset="0.375" stop-color="#0076ff"/><stop offset="0.4167" stop-color="#0062ff"/><stop offset="0.4583" stop-color="#0053ff"/><stop offset="0.5" stop-color="#0047ff"/><stop offset="0.5417" stop-color="#003fff"/><stop offset="0.5833" stop-color="#003bff"/><stop offset="0.625" stop-color="#003bff"/><stop offset="0.6667" stop-color="#0040ff"/><stop offset="0.7083" stop-color="#0049ff"/><stop offset="0.75" stop-color="#0056ff"/><stop offset="0.7917" stop-color="#0067ff"/><stop offset="0.8333" stop-color="#007bff"/><stop offset="0.875" stop-color="#0093ff"/><stop offset="0.9167" stop-color="#00adff"/><stop offset="0.9583" stop-color="#00c8ff"/><stop offset="1" stop-color="#00e6ff"/></linearGradient><linearGradient id="g134"><stop offset="0" stop-color="#00ff19"/><stop offset="0.04167" stop-color="#00ff40"/><stop offset="0.08333" stop-color="#00ff77"/><stop offset="0.125" stop-color="#00ffb1"/><stop offset="0.1667" stop-color="#00fff6"/><stop offset="0.2083" stop-color="#00e0ff"/><stop offset="0.25" stop-color="#00c3ff"/><stop offset="0.2917" stop-color="#00a8ff"/><stop offset="0.3333" stop-color="#008eff"/><stop offset="0.375" stop-color="#0078ff"/><stop offset="0.4167" stop-color="#0065ff"/><stop offset="0.4583" stop-color="#0055ff"/><stop offset="0.5" stop-color="#0049ff"/><stop offset="0.5417" stop-color="#0041ff"/><stop offset="0.5833" stop-color="#003dff"/><stop offset="0.625" stop-color="#003eff"/><stop offset="0.6667" stop-color="#0043ff"/><stop offset="0.7083" stop-color="#004cff"/><stop offset="0.75" stop-color="#0059ff"/><stop offset="0.7917" stop-color="#0069ff"/><stop offset="0.8333" stop-color="#007dff"/><stop offset="0.875" stop-color="#0095ff"/><stop offset="0.9167" stop-color="#00afff"/><stop offset="0.9583" stop-color="#00caff"/><stop offset="1" stop-color="#00e8ff"/></linearGradient><linearGradient id="g135"><stop offset="0" stop-color="#00ff18"/><stop offset="0.04167" stop-color="#00ff3e"/><stop offset="0.08333" stop-color="#00ff74"/><stop offset="0.125" stop-color="#00ffae"/><stop offset="0.1667" stop-color="#00fff3"/><stop offset="0.2083" stop-color="#00e1ff"/><stop offset="0.25" stop-color="#00c5ff"/><stop offset="0.2917" stop-color="#00aaff"/><stop offset="0.3333" stop-color="#0090ff"/><stop offset="0.375" stop-color="#007aff"/><stop offset="0.4167" stop-color="#0067ff"/><stop offset="0.4583" stop-color="#0057ff"/><stop offset="0.5" stop-color="#004bff"/><stop offset="0.5417" stop-color="#0044ff"/><stop offset="0.5833" stop-color="#0040ff"/><stop offset="0.625" stop-color="#0040ff"/><stop offset="0.6667" stop-color="#0045ff"/><stop offset="0.7083" stop-color="#004eff"/><stop offset="0.75" stop-color="#005bff"/><stop offset="0.7917" stop-color="#006cff"/><stop offset="0.8333" stop-color="#0080ff"/><stop offset="0.875" stop-color="#0097ff"/><stop offset="0.9167" stop-color="#00b1ff"/><stop offset="0.9583" stop-color="#00ccff"/><stop offset="1" stop-color="#00ebff"/></linearGradient><linearGradient id="g136"><stop offset="0" stop-color="#00ff18"/><stop offset="0.04167" stop-color="#00ff3c"/><stop offset="0.08333" stop-color="#00ff72"/><stop offset="0.125" stop-color="#00ffac"/><stop offset="0.1667" stop-color="#00fff0"/><stop offset="0.2083" stop-color="#00e3ff"/><stop offset="0.25" stop-color="#00c6ff"/><stop offset="0.2917" stop-color="#00acff"/><stop offset="0.3333" stop-color="#0092ff"/><stop offset="0.375" stop-color="#007cff"/><stop offset="0.4167" stop-color="#0069ff"/><stop offset="0.4583" stop-color="#0059ff"/><stop offset="0.5" stop-color="#004eff"/><stop offset="0.5417" stop-color="#0046ff"/><stop offset="0.5833" stop-color="#0042ff"/><stop offset="0.625" stop-color="#0043ff"/><stop offset="0.6667" stop-color="#0048ff"/><stop offset="0.7083" stop-color="#0050ff"/><stop offset="0.75" stop-color="#005dff"/><stop offset="0.7917" stop-color="#006eff"/><stop offset="0.8333" stop-color="#0082ff"/><stop offset="0.875" stop-color="#0099ff"/><stop offset="0.9167" stop-color="#00b3ff"/><stop offset="0.9583" stop-color="#00ceff"/><stop offset="1" stop-color="#00edff"/></linearGradient><linearGradient id="g137"><stop offset="0" stop-color="#00ff17"/><stop offset="0.04167" stop-color="#00ff3a"/><stop offset="0.08333" stop-color="#00ff70"/><stop offset="0.125" stop-color="#00ffa9"/><stop offset="0.1667" stop-color="#00ffed"/><stop offset="0.2083" stop-color="#00e5ff"/><stop offset="0.25" stop-color="#00c8ff"/><stop offset="0.2917" stop-color="#00aeff"/><stop offset="0.3333" stop-color="#0094ff"/><stop offset="0.375" stop-color="#007eff"/><stop offset="0.4167" stop-color="#006bff"/><stop offset="0.4583" stop-color="#005bff"/><stop offset="0.5" stop-color="#0050ff"/><stop offset="0.5417" stop-color="#0048ff"/><stop offset="0.5833" stop-color="#0044ff"/><stop offset="0.625" stop-color="#0045ff"/><stop offset="0.6667" stop-color="#004aff"/><stop offset="0.7083" stop-color="#0053ff"/><stop offset="0.75" stop-color="#005fff"/><stop offset="0.7917" stop-color="#0070ff"/><stop offset="0.8333" stop-color="#0084ff"/><stop offset="0.875" stop-color="#009bff"/><stop offset="0.9167" stop-color="#00b5ff"/><stop offset="0.9583" stop-color="#00cfff"/><stop offset="1" stop-color="#00efff"/></linearGradient><linearGradient id="g138"><stop offset="0" stop-color="#00ff16"/><stop offset="0.04167" stop-color="#00ff38"/><stop offset="0.08333" stop-color="#00ff6e"/><stop offset="0.125" stop-color="#00ffa7"/><stop offset="0.1667" stop-color="#00ffea"/><stop offset="0.2083" stop-color="#00e7ff"/><stop offset="0.25" stop-color="#00caff"/><stop offset="0.2917" stop-color="#00b0ff"/><stop offset="0.3333" stop-color="#0096ff"/><stop offset="0.375" stop-color="#0080ff"/><stop offset="0.4167" stop-color="#006dff"/><stop offset="0.4583" stop-color="#005dff"/><stop offset="0.5" stop-color="#0052ff"/><stop offset="0.5417" stop-color="#004aff"/><stop offset="0.5833" stop-color="#0047ff"/><stop offset="0.625" stop-color="#0047ff"/><stop offset="0.6667" stop-color="#004cff"/><stop offset="0.7083" stop-color="#0055ff"/><stop offset="0.75" stop-color="#0061ff"/><stop offset="0.7917" stop-color="#0072ff"/><stop offset="0.8333" stop-color="#0086ff"/><stop offset="0.875" stop-color="#009dff"/><stop offset="0.9167" stop-color="#00b7ff"/><stop offset="0.9583" stop-color="#00d1ff"/><stop offset="1" stop-color="#00f1ff"/></linearGradient><linearGradient id="g139"><stop offset="0" stop-color="#00ff15"/><stop offset="0.04167" stop-color="#00ff37"/><stop offset="0.08333" stop-color="#00ff6b"/><stop offset="0.125" stop-color="#00ffa5"/><stop offset="0.1667" stop-color="#00ffe7"/><stop offset="0.2083" stop-color="#00e8ff"/><stop offset="0.25" stop-color="#00cbff"/><stop offset="0.2917" stop-color="#00b1ff"/><stop offset="0.3333" stop-color="#0098ff"/><stop offset="0.375" stop-color="#0082ff"/><stop offset="0.4167" stop-color="#006fff"/><stop offset="0.4583" stop-color="#005fff"/><stop offset="0.5" stop-color="#0054ff"/><stop offset="0.5417" stop-color="#004cff"/><stop offset="0.5833" stop-color="#0049ff"/><stop offset="0.625" stop-color="#0049ff"/><stop offset="0.6667" stop-color="#004eff"/><stop offset="0.7083" stop-color="#0057ff"/><stop offset="0.75" stop-color="#0063ff"/><stop offset="0.7917" stop-color="#0074ff"/><stop offset="0.8333" stop-color="#0088ff"/><stop offset="0.875" stop-color="#009fff"/><stop offset="0.9167" stop-color="#00b9ff"/><stop offset="0.9583" stop-color="#00d3ff"/><stop offset="1" stop-color="#00f3ff"/></linearGradient><linearGradient id="g140"><stop offset="0" stop-color="#00ff15"/><stop offset="0.04167" stop-color="#00ff35"/><stop offset="0.08333" stop-color="#00ff69"/><stop offset="0.125" stop-color="#00ffa2"/><stop offset="0.1667" stop-color="#00ffe4"/><stop offset="0.2083" stop-color="#00eaff"/><stop offset="0.25" stop-color="#00ccff"/><stop offset="0.2917" stop-color="#00b3ff"/><stop offset="0.3333" stop-color="#009aff"/><stop offset="0.375" stop-color="#0083ff"/><stop offset="0.4167" stop-color="#0071ff"/><stop offset="0.4583" stop-color="#0061ff"/><stop offset="0.5" stop-color="#0056ff"/><stop offset="0.5417" stop-color="#004eff"/><stop offset="0.5833" stop-color="#004bff"/><stop offset="0.625" stop-color="#004bff"/><stop offset="0.6667" stop-color="#0050ff"/><stop offset="0.7083" stop-color="#0059ff"/><stop offset="0.75" stop-color="#0065ff"/><stop offset="0.7917" stop-color="#0076ff"/><stop offset="0.8333" stop-color="#008aff"/><stop offset="0.875" stop-color="#00a1ff"/><stop offset="0.9167" stop-color="#00baff"/><stop offset="0.9583" stop-color="#00d4ff"/><stop offset="1" stop-color="#00f5ff"/></linearGradient><linearGradient id="g141"><stop offset="0" stop-color="#00ff14"/><stop offset="0.04167" stop-color="#00ff34"/><stop offset="0.08333" stop-color="#00ff68"/><stop offset="0.125" stop-color="#00ffa0"/><stop offset="0.1667" stop-color="#00ffe1"/><stop offset="0.2083" stop-color="#00ecff"/><stop offset="0.25" stop-color="#00ceff"/><stop offset="0.2917" stop-color="#00b4ff"/><stop offset="0.3333" stop-color="#009bff"/><stop offset="0.375" stop-color="#0085ff"/><stop offset="0.4167" stop-color="#0072ff"/><stop offset="0.4583" stop-color="#0063ff"/><stop offset="0.5" stop-color="#0058ff"/><stop offset="0.5417" stop-color="#0050ff"/><stop offset="0.5833" stop-color="#004cff"/><stop offset="0.625" stop-color="#004dff"/><stop offset="0.6667" stop-color="#0052ff"/><stop offset="0.7083" stop-color="#005bff"/><stop offset="0.75" stop-color="#0067ff"/><stop offset="0.7917" stop-color="#0078ff"/><stop offset="0.8333" stop-color="#008bff"/><stop offset="0.875" stop-color="#00a3ff"/><stop offset="0.9167" stop-color="#00bcff"/><stop offset="0.9583" stop-color="#00d6ff"/><stop offset="1" stop-color="#00f7ff"/></linearGradient><linearGradient id="g142"><stop offset="0" stop-color="#00ff14"/><stop offset="0.04167" stop-color="#00ff33"/><stop offset="0.08333" stop-color="#00ff66"/><stop offset="0.125" stop-color="#00ff9e"/><stop offset="0.1667" stop-color="#00ffdf"/><stop offset="0.2083" stop-color="#00edff"/><stop offset="0.25" stop-color="#00cfff"/><stop offset="0.2917" stop-color="#00b6ff"/><stop offset="0.3333" stop-color="#009dff"/><stop offset="0.375" stop-color="#0087ff"/><stop offset="0.4167" stop-color="#0074ff"/><stop offset="0.4583" stop-color="#0065ff"/><stop offset="0.5" stop-color="#0059ff"/><stop offset="0.5417" stop-color="#0052ff"/><stop offset="0.5833" stop-color="#004eff"/><stop offset="0.625" stop-color="#004fff"/><stop offset="0.6667" stop-color="#0054ff"/><stop offset="0.7083" stop-color="#005cff"/><stop offset="0.75" stop-color="#0069ff"/><stop offset="0.7917" stop-color="#0079ff"/><stop offset="0.8333" stop-color="#008dff"/><stop offset="0.875" stop-color="#00a4ff"/><stop offset="0.9167" stop-color="#00bdff"/><stop offset="0.9583" stop-color="#00d7ff"/><stop offset="1" stop-color="#00f9ff"/></linearGradient><linearGradient id="g143"><stop offset="0" stop-color="#00ff13"/><stop offset="0.04167" stop-color="#00ff31"/><stop offset="0.08333" stop-color="#00ff64"/><stop offset="0.125" stop-color="#00ff9c"/><stop offset="0.1667" stop-color="#00ffdc"/><stop offset="0.2083" stop-color="#00efff"/><stop offset="0.25" stop-color="#00d0ff"/><stop offset="0.2917" stop-color="#00b7ff"/><stop offset="0.3333" stop-color="#009eff"/><stop offset="0.375" stop-color="#0088ff"/><stop offset="0.4167" stop-color="#0076ff"/><stop offset="0.4583" stop-color="#0066ff"/><stop offset="0.5" stop-color="#005bff"/><stop offset="0.5417" stop-color="#0053ff"/><stop offset="0.5833" stop-color="#0050ff"/><stop offset="0.625" stop-color="#0051ff"/><stop offset="0.6667" stop-color="#0055ff"/><stop offset="0.7083" stop-color="#005eff"/><stop offset="0.75" stop-color="#006bff"/><stop offset="0.7917" stop-color="#007bff"/><stop offset="0.8333" stop-color="#008fff"/><stop offset="0.875" stop-color="#00a6ff"/><stop offset="0.9167" stop-color="#00bfff"/><stop offset="0.9583" stop-color="#00d9ff"/><stop offset="1" stop-color="#00fbff"/></linearGradient><linearGradient id="g144"><stop offset="0" stop-color="#00ff13"/><stop offset="0.04167" stop-color="#00ff30"/><stop offset="0.08333" stop-color="#00ff62"/><stop offset="0.125" stop-color="#00ff9b"/><stop offset="0.1667" stop-color="#00ffda"/><stop offset="0.2083" stop-color="#00f0ff"/><stop offset="0.25" stop-color="#00d2ff"/><stop offset="0.2917" stop-color="#00b8ff"/><stop offset="0.3333" stop-color="#00a0ff"/><stop offset="0.375" stop-color="#008aff"/><stop offset="0.4167" stop-color="#0077ff"/><stop offset="0.4583" stop-color="#0068ff"/><stop offset="0.5" stop-color="#005dff"/><stop offset="0.5417" stop-color="#0055ff"/><stop offset="0.5833" stop-color="#0052ff"/><stop offset="0.625" stop-color="#0052ff"/><stop offset="0.6667" stop-color="#0057ff"/><stop offset="0.7083" stop-color="#0060ff"/><stop offset="0.75" stop-color="#006cff"/><stop offset="0.7917" stop-color="#007dff"/><stop offset="0.8333" stop-color="#0090ff"/><stop offset="0.875" stop-color="#00a7ff"/><stop offset="0.9167" stop-color="#00c0ff"/><stop offset="0.9583" stop-color="#00daff"/><stop offset="1" stop-color="#00fdff"/></linearGradient></defs>
<rect width="476" height="550" fill="#fff"/>
<text x="6.7" y="22.9" font-size="5.8" fill="#1c1c1c" stroke="#1c1c1c" stroke-width="0.12" text-anchor="start" font-weight="normal" >Factor Coding: Actual</text>
<text x="6.7" y="41.4" font-size="5.8" fill="#1c1c1c" stroke="#1c1c1c" stroke-width="0.12" text-anchor="start" font-weight="bold" >TFCs</text>
<circle cx="11.6" cy="48.3" r="2.7" fill="#a80000" stroke="#500" stroke-width="0.6"/>
<text x="18.2" y="50.3" font-size="5.8" fill="#c02828" stroke="#c02828" stroke-width="0.12" text-anchor="start" font-weight="normal" >Design Points</text>
<text x="6.7" y="68.4" font-size="5.8" fill="#2020e0" stroke="#2020e0" stroke-width="0.12" text-anchor="start" font-weight="normal" >1.00217</text>
<rect x="30.3" y="62.6" width="20.6" height="8" fill="url(#lg)" stroke="#223" stroke-width="0.5"/>
<text x="53.3" y="68.4" font-size="5.8" fill="#e82020" stroke="#e82020" stroke-width="0.12" text-anchor="start" font-weight="normal" >4.4998</text>
<text x="6.7" y="77.5" font-size="5.8" fill="#1c1c1c" stroke="#1c1c1c" stroke-width="0.12" text-anchor="start" font-weight="normal" >X1 = A</text>
<text x="6.7" y="86.4" font-size="5.8" fill="#1c1c1c" stroke="#1c1c1c" stroke-width="0.12" text-anchor="start" font-weight="normal" >X2 = B</text>
<text x="6.7" y="105.2" font-size="5.8" fill="#1c1c1c" stroke="#1c1c1c" stroke-width="0.12" text-anchor="start" font-weight="bold" >Actual Factor</text>
<text x="6.7" y="113.8" font-size="5.8" fill="#1c1c1c" stroke="#1c1c1c" stroke-width="0.12" text-anchor="start" font-weight="normal" >C = 4</text>
<g clip-path="url(#cp0)">
<rect x="96.1" y="26.10" width="133.3" height="3.6" fill="url(#g1)"/>
<rect x="96.1" y="28.10" width="133.3" height="3.6" fill="url(#g2)"/>
<rect x="96.1" y="30.10" width="133.3" height="3.6" fill="url(#g3)"/>
<rect x="96.1" y="32.10" width="133.3" height="3.6" fill="url(#g4)"/>
<rect x="96.1" y="34.10" width="133.3" height="3.6" fill="url(#g5)"/>
<rect x="96.1" y="36.10" width="133.3" height="3.6" fill="url(#g6)"/>
<rect x="96.1" y="38.10" width="133.3" height="3.6" fill="url(#g7)"/>
<rect x="96.1" y="40.10" width="133.3" height="3.6" fill="url(#g8)"/>
<rect x="96.1" y="42.10" width="133.3" height="3.6" fill="url(#g9)"/>
<rect x="96.1" y="44.10" width="133.3" height="3.6" fill="url(#g10)"/>
<rect x="96.1" y="46.10" width="133.3" height="3.6" fill="url(#g11)"/>
<rect x="96.1" y="48.10" width="133.3" height="3.6" fill="url(#g12)"/>
<rect x="96.1" y="50.10" width="133.3" height="3.6" fill="url(#g13)"/>
<rect x="96.1" y="52.10" width="133.3" height="3.6" fill="url(#g14)"/>
<rect x="96.1" y="54.10" width="133.3" height="3.6" fill="url(#g15)"/>
<rect x="96.1" y="56.10" width="133.3" height="3.6" fill="url(#g16)"/>
<rect x="96.1" y="58.10" width="133.3" height="3.6" fill="url(#g17)"/>
<rect x="96.1" y="60.10" width="133.3" height="3.6" fill="url(#g18)"/>
<rect x="96.1" y="62.10" width="133.3" height="3.6" fill="url(#g19)"/>
<rect x="96.1" y="64.10" width="133.3" height="3.6" fill="url(#g20)"/>
<rect x="96.1" y="66.10" width="133.3" height="3.6" fill="url(#g21)"/>
<rect x="96.1" y="68.10" width="133.3" height="3.6" fill="url(#g22)"/>
<rect x="96.1" y="70.10" width="133.3" height="3.6" fill="url(#g23)"/>
<rect x="96.1" y="72.10" width="133.3" height="3.6" fill="url(#g24)"/>
<rect x="96.1" y="74.10" width="133.3" height="3.6" fill="url(#g25)"/>
<rect x="96.1" y="76.10" width="133.3" height="3.6" fill="url(#g26)"/>
<rect x="96.1" y="78.10" width="133.3" height="3.6" fill="url(#g27)"/>
<rect x="96.1" y="80.10" width="133.3" height="3.6" fill="url(#g28)"/>
<rect x="96.1" y="82.10" width="133.3" height="3.6" fill="url(#g29)"/>
<rect x="96.1" y="84.10" width="133.3" height="3.6" fill="url(#g30)"/>
<rect x="96.1" y="86.10" width="133.3" height="3.6" fill="url(#g31)"/>
<rect x="96.1" y="88.10" width="133.3" height="3.6" fill="url(#g32)"/>
<rect x="96.1" y="90.10" width="133.3" height="3.6" fill="url(#g33)"/>
<rect x="96.1" y="92.10" width="133.3" height="3.6" fill="url(#g34)"/>
<rect x="96.1" y="94.10" width="133.3" height="3.6" fill="url(#g35)"/>
<rect x="96.1" y="96.10" width="133.3" height="3.6" fill="url(#g36)"/>
<rect x="96.1" y="98.10" width="133.3" height="3.6" fill="url(#g37)"/>
<rect x="96.1" y="100.10" width="133.3" height="3.6" fill="url(#g38)"/>
<rect x="96.1" y="102.10" width="133.3" height="3.6" fill="url(#g39)"/>
<rect x="96.1" y="104.10" width="133.3" height="3.6" fill="url(#g40)"/>
<rect x="96.1" y="106.10" width="133.3" height="3.6" fill="url(#g41)"/>
<rect x="96.1" y="108.10" width="133.3" height="3.6" fill="url(#g42)"/>
<rect x="96.1" y="110.10" width="133.3" height="3.6" fill="url(#g43)"/>
<rect x="96.1" y="112.10" width="133.3" height="3.6" fill="url(#g44)"/>
<rect x="96.1" y="114.10" width="133.3" height="3.6" fill="url(#g45)"/>
<rect x="96.1" y="116.10" width="133.3" height="3.6" fill="url(#g46)"/>
<rect x="96.1" y="118.10" width="133.3" height="3.6" fill="url(#g47)"/>
<rect x="96.1" y="120.10" width="133.3" height="3.6" fill="url(#g48)"/>
<rect x="96.1" y="122.10" width="133.3" height="3.6" fill="url(#g49)"/>
<rect x="96.1" y="124.10" width="133.3" height="3.6" fill="url(#g50)"/>
<rect x="96.1" y="126.10" width="133.3" height="3.6" fill="url(#g51)"/>
<rect x="96.1" y="128.10" width="133.3" height="3.6" fill="url(#g52)"/>
<rect x="96.1" y="130.10" width="133.3" height="3.6" fill="url(#g53)"/>
<rect x="96.1" y="132.10" width="133.3" height="3.6" fill="url(#g54)"/>
<rect x="96.1" y="134.10" width="133.3" height="3.6" fill="url(#g55)"/>
<rect x="96.1" y="136.10" width="133.3" height="3.6" fill="url(#g56)"/>
<rect x="96.1" y="138.10" width="133.3" height="3.6" fill="url(#g57)"/>
<rect x="96.1" y="140.10" width="133.3" height="3.6" fill="url(#g58)"/>
<rect x="96.1" y="142.10" width="133.3" height="3.6" fill="url(#g59)"/>
<rect x="96.1" y="144.10" width="133.3" height="3.6" fill="url(#g60)"/>
<rect x="96.1" y="146.10" width="133.3" height="3.6" fill="url(#g61)"/>
<rect x="96.1" y="148.10" width="133.3" height="3.6" fill="url(#g62)"/>
<rect x="96.1" y="150.10" width="133.3" height="3.6" fill="url(#g63)"/>
<rect x="96.1" y="152.10" width="133.3" height="3.6" fill="url(#g64)"/>
<rect x="96.1" y="154.10" width="133.3" height="3.6" fill="url(#g65)"/>
<rect x="96.1" y="156.10" width="133.3" height="3.6" fill="url(#g66)"/>
<rect x="96.1" y="158.10" width="133.3" height="3.6" fill="url(#g67)"/>
</g>
<g clip-path="url(#cp0)" fill="none" stroke="#8a2626" stroke-opacity="0.72" stroke-width="0.7">
<polyline points="189.1,159.2 186.1,158.2 184.2,157.5 181.1,156.2 179.4,155.4 177.1,154.2 174.4,152.7 172.7,151.7 171.1,150.6 169.1,149.2 166.8,147.6 164.7,145.9 162.8,144.3 161.1,142.8 159.4,141.2 157.8,139.6 156.1,137.9 154.4,136.1 152.8,134.2 151.4,132.6 150.1,130.9 148.8,129.3 147.5,127.6 146.1,125.5 144.4,123.1 143.1,120.9 142.1,119.3 141.1,117.6 139.4,114.6 138.4,112.6 137.5,111.0 136.1,107.8 135.3,106.0 134.4,103.9 133.3,101.0 132.7,99.3 131.6,96.0 131.0,94.3 130.1,91.0 129.4,88.3 128.9,86.0 128.3,82.7 127.8,79.6 127.5,77.7 127.1,74.3 126.9,71.0 126.8,67.7 126.8,64.4 127.0,61.0 127.3,57.7 127.7,54.4 128.0,52.7 128.7,49.4 129.4,46.7 130.1,44.4 131.1,41.7 132.1,39.4 132.8,37.7 134.4,34.7 135.6,32.8 136.7,31.1 137.9,29.4 139.4,27.5 140.7,26.1"/>
<polyline points="229.4,151.2 227.7,152.6 225.7,154.2 223.1,155.9 221.1,157.0 219.4,157.8 216.1,159.2 216.0,159.2"/>
<polyline points="203.0,26.1 205.3,27.8 207.4,29.4 209.4,31.1 211.1,32.6 212.7,34.2 214.4,35.8 216.1,37.5 217.7,39.3 219.3,41.1 220.7,42.7 222.0,44.4 223.3,46.1 224.5,47.7 226.1,49.9 227.7,52.4 229.0,54.4 229.4,55.0"/>
<polyline points="137.9,159.2 136.4,157.5 135.0,155.9 133.6,154.2 132.3,152.5 131.0,150.9 129.4,148.8 127.8,146.5 126.1,144.2 125.0,142.6 123.9,140.9 122.8,139.1 121.1,136.5 119.8,134.2 118.8,132.6 117.8,130.8 116.1,127.7 115.2,125.9 114.3,124.3 112.8,121.1 111.9,119.3 111.1,117.5 109.7,114.3 109.0,112.6 107.8,109.5 107.1,107.6 106.1,105.0 105.3,102.6 104.4,100.0 103.7,97.6 102.8,94.4 102.3,92.7 101.5,89.3 101.1,87.7 100.3,84.3 99.7,81.0 99.4,79.3 98.9,76.0 98.4,72.7 98.0,69.4 97.8,66.5 97.6,64.4 97.4,61.0 97.4,57.7 97.4,54.4 97.5,51.1 97.6,47.7 97.8,46.0 98.1,42.7 98.5,39.4 99.1,36.1 99.4,34.1 100.1,31.1 100.9,27.8 101.4,26.1 101.4,26.1"/>
<polyline points="112.1,159.2 110.9,157.5 109.4,155.3 107.8,152.8 106.6,150.9 105.5,149.2 104.4,147.4 102.8,144.6 101.6,142.6 100.7,140.9 99.4,138.7 98.0,135.9 97.1,134.2 96.1,132.2 96.1,132.2"/>
</g>
<rect x="101.4" y="90.4" width="5.8" height="11" fill="#fff" stroke="#e03a3a" stroke-width="0.55"/>
<text x="104.3" y="99.3" font-size="9.6" fill="#e02020" stroke="#e02020" stroke-width="0.12" text-anchor="middle" font-weight="normal" textLength="4.3" lengthAdjust="spacingAndGlyphs">3</text>
<rect x="130.5" y="95.5" width="5.8" height="11" fill="#fff" stroke="#e03a3a" stroke-width="0.55"/>
<text x="133.4" y="104.4" font-size="9.6" fill="#e02020" stroke="#e02020" stroke-width="0.12" text-anchor="middle" font-weight="normal" textLength="4.3" lengthAdjust="spacingAndGlyphs">2</text>
<rect x="100.1" y="135.5" width="5.8" height="11" fill="#fff" stroke="#e03a3a" stroke-width="0.55"/>
<text x="103.0" y="144.4" font-size="9.6" fill="#e02020" stroke="#e02020" stroke-width="0.12" text-anchor="middle" font-weight="normal" textLength="4.3" lengthAdjust="spacingAndGlyphs">4</text>
<rect x="214.8" y="29.0" width="5.8" height="11" fill="#fff" stroke="#e03a3a" stroke-width="0.55"/>
<text x="217.7" y="37.9" font-size="9.6" fill="#e02020" stroke="#e02020" stroke-width="0.12" text-anchor="middle" font-weight="normal" textLength="4.3" lengthAdjust="spacingAndGlyphs">2</text>
<rect x="223.3" y="145.8" width="5.8" height="11" fill="#fff" stroke="#e03a3a" stroke-width="0.55"/>
<text x="226.2" y="154.7" font-size="9.6" fill="#e02020" stroke="#e02020" stroke-width="0.12" text-anchor="middle" font-weight="normal" textLength="4.3" lengthAdjust="spacingAndGlyphs">2</text>
<path d="M96.1,26.1H229.4V159.2" fill="none" stroke="#000" stroke-opacity="0.35" stroke-width="0.5"/>
<path d="M96.1,26.1V159.2H229.4" fill="none" stroke="#333" stroke-width="0.7"/>
<path d="M96.1,159.2v2.2" stroke="#333" stroke-width="0.6"/>
<text x="96.1" y="169.2" font-size="6.1" fill="#1c1c1c" stroke="#1c1c1c" stroke-width="0.12" text-anchor="middle" font-weight="normal" textLength="6.0" lengthAdjust="spacingAndGlyphs">50</text>
<path d="M129.4,159.2v2.2" stroke="#333" stroke-width="0.6"/>
<text x="129.4" y="169.2" font-size="6.1" fill="#1c1c1c" stroke="#1c1c1c" stroke-width="0.12" text-anchor="middle" font-weight="normal" textLength="6.0" lengthAdjust="spacingAndGlyphs">60</text>
<path d="M162.8,159.2v2.2" stroke="#333" stroke-width="0.6"/>
<text x="162.8" y="169.2" font-size="6.1" fill="#1c1c1c" stroke="#1c1c1c" stroke-width="0.12" text-anchor="middle" font-weight="normal" textLength="6.0" lengthAdjust="spacingAndGlyphs">70</text>
<path d="M196.1,159.2v2.2" stroke="#333" stroke-width="0.6"/>
<text x="196.1" y="169.2" font-size="6.1" fill="#1c1c1c" stroke="#1c1c1c" stroke-width="0.12" text-anchor="middle" font-weight="normal" textLength="6.0" lengthAdjust="spacingAndGlyphs">80</text>
<path d="M229.4,159.2v2.2" stroke="#333" stroke-width="0.6"/>
<text x="229.4" y="169.2" font-size="6.1" fill="#1c1c1c" stroke="#1c1c1c" stroke-width="0.12" text-anchor="middle" font-weight="normal" textLength="6.0" lengthAdjust="spacingAndGlyphs">90</text>
<path d="M96.1,159.2h-2.4" stroke="#333" stroke-width="0.6"/>
<text x="91.3" y="161.3" font-size="6.1" fill="#1c1c1c" stroke="#1c1c1c" stroke-width="0.12" text-anchor="end" font-weight="normal" textLength="6.0" lengthAdjust="spacingAndGlyphs">30</text>
<path d="M96.1,125.9h-2.4" stroke="#333" stroke-width="0.6"/>
<text x="91.3" y="128.1" font-size="6.1" fill="#1c1c1c" stroke="#1c1c1c" stroke-width="0.12" text-anchor="end" font-weight="normal" textLength="6.0" lengthAdjust="spacingAndGlyphs">40</text>
<path d="M96.1,92.6h-2.4" stroke="#333" stroke-width="0.6"/>
<text x="91.3" y="94.8" font-size="6.1" fill="#1c1c1c" stroke="#1c1c1c" stroke-width="0.12" text-anchor="end" font-weight="normal" textLength="6.0" lengthAdjust="spacingAndGlyphs">50</text>
<path d="M96.1,59.4h-2.4" stroke="#333" stroke-width="0.6"/>
<text x="91.3" y="61.5" font-size="6.1" fill="#1c1c1c" stroke="#1c1c1c" stroke-width="0.12" text-anchor="end" font-weight="normal" textLength="6.0" lengthAdjust="spacingAndGlyphs">60</text>
<path d="M96.1,26.1h-2.4" stroke="#333" stroke-width="0.6"/>
<text x="91.3" y="28.2" font-size="6.1" fill="#1c1c1c" stroke="#1c1c1c" stroke-width="0.12" text-anchor="end" font-weight="normal" textLength="6.0" lengthAdjust="spacingAndGlyphs">70</text>
<text x="161.8" y="23.3" font-size="5.7" fill="#1c1c1c" stroke="#1c1c1c" stroke-width="0.12" text-anchor="middle" font-weight="normal" textLength="12.1" lengthAdjust="spacingAndGlyphs">TFCs</text>
<text x="162.9" y="179.0" font-size="5.7" fill="#1c1c1c" stroke="#1c1c1c" stroke-width="0.12" text-anchor="middle" font-weight="normal" textLength="41.9" lengthAdjust="spacingAndGlyphs">X1: Ethanol (%)</text>
<text transform="translate(77.3,92.7) rotate(-90)" font-size="5.7" fill="#222" stroke="#222" stroke-width="0.12" text-anchor="middle" textLength="39.3" lengthAdjust="spacingAndGlyphs">X2 : Temp (°C)</text>
<circle cx="96.1" cy="26.1" r="1.5" fill="#a00000" stroke="#500" stroke-width="0.4"/>
<circle cx="229.4" cy="26.1" r="1.5" fill="#a00000" stroke="#500" stroke-width="0.4"/>
<circle cx="96.1" cy="159.2" r="1.5" fill="#a00000" stroke="#500" stroke-width="0.4"/>
<circle cx="229.4" cy="159.2" r="1.5" fill="#a00000" stroke="#500" stroke-width="0.4"/>
<circle cx="162.8" cy="92.7" r="1.5" fill="#a00000" stroke="#500" stroke-width="0.4"/>
<text x="160.2" y="95.7" font-size="8.8" fill="#0a0a30" stroke="#0a0a30" stroke-width="0.12" text-anchor="end" font-weight="normal" textLength="4.2" lengthAdjust="spacingAndGlyphs">3</text>
<text x="238.2" y="22.9" font-size="5.8" fill="#1c1c1c" stroke="#1c1c1c" stroke-width="0.12" text-anchor="start" font-weight="normal" >Factor Coding: Actual</text>
<text x="238.2" y="41.4" font-size="5.8" fill="#1c1c1c" stroke="#1c1c1c" stroke-width="0.12" text-anchor="start" font-weight="bold" >TFCs</text>
<text x="238.2" y="50.7" font-size="5.8" fill="#1c1c1c" stroke="#1c1c1c" stroke-width="0.12" text-anchor="start" font-weight="normal" >Design Points:</text>
<circle cx="242.9" cy="57.6" r="2.7" fill="#a80000" stroke="#500" stroke-width="0.6"/>
<text x="250.2" y="59.6" font-size="5.8" fill="#c02828" stroke="#c02828" stroke-width="0.12" text-anchor="start" font-weight="normal" >Above Surface</text>
<circle cx="242.9" cy="66.3" r="2.7" fill="#ffc4c4" stroke="#a44" stroke-width="0.6"/>
<text x="250.2" y="68.3" font-size="5.8" fill="#c02828" stroke="#c02828" stroke-width="0.12" text-anchor="start" font-weight="normal" >Below Surface</text>
<text x="238.2" y="77.6" font-size="5.8" fill="#2020e0" stroke="#2020e0" stroke-width="0.12" text-anchor="start" font-weight="normal" >1.00217</text>
<rect x="261.4" y="71.8" width="20.7" height="7.5" fill="url(#lg)" stroke="#223" stroke-width="0.5"/>
<text x="284.4" y="77.6" font-size="5.8" fill="#e82020" stroke="#e82020" stroke-width="0.12" text-anchor="start" font-weight="normal" >4.4998</text>
<text x="238.2" y="96.1" font-size="5.8" fill="#1c1c1c" stroke="#1c1c1c" stroke-width="0.12" text-anchor="start" font-weight="normal" >X1 = A</text>
<text x="238.2" y="105.2" font-size="5.8" fill="#1c1c1c" stroke="#1c1c1c" stroke-width="0.12" text-anchor="start" font-weight="normal" >X2 = B</text>
<text x="238.2" y="122.8" font-size="5.8" fill="#1c1c1c" stroke="#1c1c1c" stroke-width="0.12" text-anchor="start" font-weight="bold" >Actual Factor</text>
<text x="238.2" y="131.6" font-size="5.8" fill="#1c1c1c" stroke="#1c1c1c" stroke-width="0.12" text-anchor="start" font-weight="normal" >C = 4</text>
<polygon points="328.3,145.3 387.6,172.2 449.4,146.2 390.0,126.0" fill="#e8e8e8"/>
<polyline points="369.7,164.1 368.5,163.0 367.9,162.4 366.9,161.1 366.5,160.5 366.1,159.8 365.6,158.8 365.2,157.8 365.0,157.0 364.9,156.2 364.8,155.4 364.8,154.6 364.9,153.8 365.0,153.0 365.2,152.1 365.5,151.3 365.8,150.7 366.1,150.0 366.4,149.3 367.0,148.4 367.7,147.5 368.2,146.9 368.7,146.3 369.8,145.2 370.4,144.7 371.4,143.9 372.3,143.2 373.3,142.5 374.5,141.7 376.0,140.9 376.8,140.4 378.5,139.6 380.3,138.7 381.2,138.4 383.1,137.6 385.2,136.9 387.3,136.2 388.8,135.8 390.7,135.3 393.1,134.7 395.3,134.3 397.0,134.0 399.2,133.6 401.3,133.4 402.9,133.2 405.1,133.0 407.5,132.8 409.7,132.8 409.9,132.8" fill="none" stroke="#2fefd6" stroke-width="1.1"/>
<polyline points="391.3,170.6 389.5,170.6 387.7,170.4 385.0,170.1 383.1,169.8 381.6,169.5 381.6,169.5" fill="none" stroke="#2fefd6" stroke-width="1.1"/>
<polyline points="437.6,142.2 437.9,143.1 438.1,143.9 438.2,144.7 438.2,145.5 438.2,146.2 438.1,147.0 437.9,147.7 437.7,148.4 437.4,149.1 437.1,149.8 436.6,150.8 436.0,151.8 436.0,151.8" fill="none" stroke="#2fefd6" stroke-width="1.1"/>
<polyline points="346.9,153.7 347.1,153.0 347.3,152.2 347.6,151.3 347.9,150.4 348.4,149.5 348.7,148.9 349.1,148.2 349.5,147.6 350.1,146.6 350.7,145.8 351.2,145.2 351.8,144.5 352.7,143.5 353.3,143.0 354.0,142.3 355.0,141.4 355.6,140.9 356.9,139.9 357.6,139.5 358.9,138.6 359.7,138.1 361.1,137.2 361.9,136.7 363.5,135.9 364.5,135.4 365.9,134.7 367.7,133.9 369.4,133.1 370.3,132.8 372.2,132.1 374.2,131.4 376.2,130.7 378.2,130.1 380.4,129.5 382.6,128.9 384.1,128.5 386.1,128.0 388.5,127.5 390.6,127.1 392.4,126.8 392.4,126.8" fill="none" stroke="#33ef2f" stroke-width="1.1"/>
<polyline points="335.4,148.5 335.8,147.9 336.1,147.3 336.6,146.5 337.3,145.5 337.8,144.8 338.2,144.2 338.9,143.5 339.7,142.6 340.2,142.0 340.8,141.4 340.8,141.4" fill="none" stroke="#efaf2f" stroke-width="1.1"/>
<path d="M328.3,145.3L324.5,61.4 M390.0,126.0L389.6,49.8 M343.7,140.5L340.8,58.5 M404.9,131.1L405.4,52.7 M359.1,135.7L357.1,55.6 M419.7,136.1L421.2,55.6 M374.6,130.8L373.3,52.7 M434.5,141.1L437.1,58.5 M390.0,126.0L389.6,49.8 M449.4,146.2L452.9,61.4 M327.4,125.0L389.9,107.5L450.2,125.6 M326.7,109.1L389.8,93.1L450.9,109.6 M325.9,93.2L389.8,78.6L451.6,93.5 M325.2,77.3L389.7,64.2L452.2,77.5 M324.5,61.4L389.6,49.8L452.9,61.4 M328.3,145.3L390.0,126.0L449.4,146.2" fill="none" stroke="#333" stroke-width="0.55"/>
<g stroke="#000" stroke-opacity="0.6" stroke-width="0.45" stroke-linejoin="round">
<polygon points="386.5,77.4 389.7,81.7 392.8,80.1 389.7,75.8" fill="#24ff00"/>
<polygon points="389.7,81.7 392.8,85.8 395.9,84.0 392.8,80.1" fill="#00ff10"/>
<polygon points="383.4,78.7 386.5,83.2 389.7,81.7 386.5,77.4" fill="#15ff00"/>
<polygon points="392.8,85.8 395.8,89.6 399.0,87.7 395.9,84.0" fill="#00ff35"/>
<polygon points="386.5,83.2 389.6,87.3 392.8,85.8 389.7,81.7" fill="#00ff1a"/>
<polygon points="380.2,79.8 383.3,84.4 386.5,83.2 383.4,78.7" fill="#0bff00"/>
<polygon points="395.8,89.6 398.9,93.0 402.1,91.1 399.0,87.7" fill="#00ff61"/>
<polygon points="389.6,87.3 392.7,91.2 395.8,89.6 392.8,85.8" fill="#00ff40"/>
<polygon points="383.3,84.4 386.4,88.7 389.6,87.3 386.5,83.2" fill="#00ff22"/>
<polygon points="398.9,93.0 401.9,96.2 405.1,94.1 402.1,91.1" fill="#00ff8e"/>
<polygon points="377.0,80.8 380.1,85.4 383.3,84.4 380.2,79.8" fill="#04ff00"/>
<polygon points="392.7,91.2 395.7,94.8 398.9,93.0 395.8,89.6" fill="#00ff73"/>
<polygon points="386.4,88.7 389.5,92.7 392.7,91.2 389.6,87.3" fill="#00ff4d"/>
<polygon points="380.1,85.4 383.2,89.8 386.4,88.7 383.3,84.4" fill="#00ff27"/>
<polygon points="401.9,96.2 405.0,99.1 408.2,96.9 405.1,94.1" fill="#00ffb5"/>
<polygon points="395.7,94.8 398.8,98.1 401.9,96.2 398.9,93.0" fill="#00ffa1"/>
<polygon points="373.8,81.5 376.9,86.3 380.1,85.4 377.0,80.8" fill="#02ff00"/>
<polygon points="389.5,92.7 392.6,96.4 395.7,94.8 392.7,91.2" fill="#00ff82"/>
<polygon points="383.2,89.8 386.3,93.9 389.5,92.7 386.4,88.7" fill="#00ff56"/>
<polygon points="376.9,86.3 380.1,90.7 383.2,89.8 380.1,85.4" fill="#00ff2a"/>
<polygon points="405.0,99.1 408.0,101.6 411.2,99.3 408.2,96.9" fill="#00ffd6"/>
<polygon points="398.8,98.1 401.8,101.0 405.0,99.1 401.9,96.2" fill="#00ffca"/>
<polygon points="392.6,96.4 395.6,99.7 398.8,98.1 395.7,94.8" fill="#00ffb1"/>
<polygon points="386.3,93.9 389.4,97.7 392.6,96.4 389.5,92.7" fill="#00ff8d"/>
<polygon points="370.6,82.0 373.7,86.9 376.9,86.3 373.8,81.5" fill="#04ff00"/>
<polygon points="380.1,90.7 383.2,94.9 386.3,93.9 383.2,89.8" fill="#00ff5c"/>
<polygon points="401.8,101.0 404.9,103.7 408.0,101.6 405.0,99.1" fill="#00fff2"/>
<polygon points="408.0,101.6 411.1,103.8 414.2,101.4 411.2,99.3" fill="#00fff8"/>
<polygon points="395.6,99.7 398.7,102.8 401.8,101.0 398.8,98.1" fill="#00ffdb"/>
<polygon points="373.7,86.9 376.9,91.5 380.1,90.7 376.9,86.3" fill="#00ff29"/>
<polygon points="389.4,97.7 392.5,101.2 395.6,99.7 392.6,96.4" fill="#00ffbd"/>
<polygon points="383.2,94.9 386.2,98.9 389.4,97.7 386.3,93.9" fill="#00ff93"/>
<polygon points="367.4,82.3 370.6,87.3 373.7,86.9 370.6,82.0" fill="#0aff00"/>
<polygon points="376.9,91.5 380.0,95.8 383.2,94.9 380.1,90.7" fill="#00ff5d"/>
<polygon points="404.9,103.7 407.9,106.0 411.1,103.8 408.0,101.6" fill="#00e5ff"/>
<polygon points="398.7,102.8 401.7,105.6 404.9,103.7 401.8,101.0" fill="#00f3ff"/>
<polygon points="411.1,103.8 414.1,105.7 417.3,103.2 414.2,101.4" fill="#00e8ff"/>
<polygon points="392.5,101.2 395.5,104.4 398.7,102.8 395.6,99.7" fill="#00ffec"/>
<polygon points="370.6,87.3 373.7,92.0 376.9,91.5 373.7,86.9" fill="#00ff26"/>
<polygon points="386.2,98.9 389.3,102.4 392.5,101.2 389.4,97.7" fill="#00ffc6"/>
<polygon points="380.0,95.8 383.1,99.8 386.2,98.9 383.2,94.9" fill="#00ff97"/>
<polygon points="364.2,82.3 367.4,87.4 370.6,87.3 367.4,82.3" fill="#15ff00"/>
<polygon points="401.7,105.6 404.7,108.0 407.9,106.0 404.9,103.7" fill="#00caff"/>
<polygon points="407.9,106.0 410.9,108.0 414.1,105.7 411.1,103.8" fill="#00c6ff"/>
<polygon points="373.7,92.0 376.8,96.4 380.0,95.8 376.9,91.5" fill="#00ff59"/>
<polygon points="395.5,104.4 398.6,107.3 401.7,105.6 398.7,102.8" fill="#00dfff"/>
<polygon points="414.1,105.7 417.1,107.3 420.3,104.7 417.3,103.2" fill="#00d3ff"/>
<polygon points="389.3,102.4 392.4,105.7 395.5,104.4 392.5,101.2" fill="#00fffa"/>
<polygon points="383.1,99.8 386.1,103.5 389.3,102.4 386.2,98.9" fill="#00ffca"/>
<polygon points="367.4,87.4 370.5,92.2 373.7,92.0 370.6,87.3" fill="#00ff20"/>
<polygon points="376.8,96.4 379.9,100.5 383.1,99.8 380.0,95.8" fill="#00ff94"/>
<polygon points="404.7,108.0 407.8,110.1 410.9,108.0 407.9,106.0" fill="#00a9ff"/>
<polygon points="398.6,107.3 401.6,109.8 404.7,108.0 401.7,105.6" fill="#00b4ff"/>
<polygon points="361.0,82.2 364.2,87.4 367.4,87.4 364.2,82.3" fill="#23ff00"/>
<polygon points="410.9,108.0 414.0,109.7 417.1,107.3 414.1,105.7" fill="#00aeff"/>
<polygon points="392.4,105.7 395.4,108.7 398.6,107.3 395.5,104.4" fill="#00cfff"/>
<polygon points="370.5,92.2 373.6,96.7 376.8,96.4 373.7,92.0" fill="#00ff52"/>
<polygon points="417.1,107.3 420.2,108.6 423.3,105.8 420.3,104.7" fill="#00c5ff"/>
<polygon points="386.1,103.5 389.2,106.9 392.4,105.7 389.3,102.4" fill="#00fcff"/>
<polygon points="379.9,100.5 383.0,104.3 386.1,103.5 383.1,99.8" fill="#00ffca"/>
<polygon points="364.2,87.4 367.3,92.3 370.5,92.2 367.4,87.4" fill="#00ff18"/>
<polygon points="373.6,96.7 376.7,101.0 379.9,100.5 376.8,96.4" fill="#00ff8e"/>
<polygon points="401.6,109.8 404.6,112.0 407.8,110.1 404.7,108.0" fill="#0091ff"/>
<polygon points="407.8,110.1 410.8,111.9 414.0,109.7 410.9,108.0" fill="#008fff"/>
<polygon points="395.4,108.7 398.4,111.4 401.6,109.8 398.6,107.3" fill="#00a3ff"/>
<polygon points="414.0,109.7 417.0,111.1 420.2,108.6 417.1,107.3" fill="#009fff"/>
<polygon points="389.2,106.9 392.3,110.0 395.4,108.7 392.4,105.7" fill="#00c6ff"/>
<polygon points="357.7,81.8 360.9,87.1 364.2,87.4 361.0,82.2" fill="#35ff00"/>
<polygon points="420.2,108.6 423.2,109.5 426.4,106.6 423.3,105.8" fill="#00c0ff"/>
<polygon points="367.3,92.3 370.5,96.9 373.6,96.7 370.5,92.2" fill="#00ff46"/>
<polygon points="383.0,104.3 386.1,107.8 389.2,106.9 386.1,103.5" fill="#00faff"/>
<polygon points="376.7,101.0 379.8,104.9 383.0,104.3 379.9,100.5" fill="#00ffc5"/>
<polygon points="360.9,87.1 364.1,92.1 367.3,92.3 364.2,87.4" fill="#00ff0d"/>
<polygon points="404.6,112.0 407.6,113.9 410.8,111.9 407.8,110.1" fill="#0076ff"/>
<polygon points="398.4,111.4 401.5,113.7 404.6,112.0 401.6,109.8" fill="#007eff"/>
<polygon points="410.8,111.9 413.8,113.4 417.0,111.1 414.0,109.7" fill="#007eff"/>
<polygon points="392.3,110.0 395.3,112.7 398.4,111.4 395.4,108.7" fill="#0097ff"/>
<polygon points="370.5,96.9 373.6,101.2 376.7,101.0 373.6,96.7" fill="#00ff84"/>
<polygon points="417.0,111.1 420.0,112.1 423.2,109.5 420.2,108.6" fill="#0098ff"/>
<polygon points="386.1,107.8 389.1,111.0 392.3,110.0 389.2,106.9" fill="#00c1ff"/>
<polygon points="423.2,109.5 426.2,110.0 429.4,107.1 426.4,106.6" fill="#00c7ff"/>
<polygon points="354.5,81.2 357.7,86.6 360.9,87.1 357.7,81.8" fill="#4afb00"/>
<polygon points="379.8,104.9 382.9,108.5 386.1,107.8 383.0,104.3" fill="#00ffff"/>
<polygon points="364.1,92.1 367.3,96.8 370.5,96.9 367.3,92.3" fill="#00ff3a"/>
<polygon points="373.6,101.2 376.7,105.3 379.8,104.9 376.7,101.0" fill="#00ffbc"/>
<polygon points="401.5,113.7 404.5,115.7 407.6,113.9 404.6,112.0" fill="#0061ff"/>
<polygon points="395.3,112.7 398.3,115.1 401.5,113.7 398.4,111.4" fill="#0070ff"/>
<polygon points="407.6,113.9 410.7,115.5 413.8,113.4 410.8,111.9" fill="#0063ff"/>
<polygon points="357.7,86.6 360.9,91.7 364.1,92.1 360.9,87.1" fill="#00fe00"/>
<polygon points="389.1,111.0 392.1,113.8 395.3,112.7 392.3,110.0" fill="#0090ff"/>
<polygon points="413.8,113.4 416.8,114.5 420.0,112.1 417.0,111.1" fill="#0075ff"/>
<polygon points="367.3,96.8 370.4,101.3 373.6,101.2 370.5,96.9" fill="#00ff76"/>
<polygon points="382.9,108.5 386.0,111.8 389.1,111.0 386.1,107.8" fill="#00c4ff"/>
<polygon points="420.0,112.1 423.1,112.7 426.2,110.0 423.2,109.5" fill="#009cff"/>
<polygon points="376.7,105.3 379.7,109.0 382.9,108.5 379.8,104.9" fill="#00fff5"/>
<polygon points="426.2,110.0 429.3,110.2 432.5,107.2 429.4,107.1" fill="#00d6ff"/>
<polygon points="351.3,80.3 354.5,85.8 357.7,86.6 354.5,81.2" fill="#6ef100"/>
<polygon points="360.9,91.7 364.1,96.5 367.3,96.8 364.1,92.1" fill="#00ff2e"/>
<polygon points="398.3,115.1 401.3,117.2 404.5,115.7 401.5,113.7" fill="#0051ff"/>
<polygon points="404.5,115.7 407.5,117.3 410.7,115.5 407.6,113.9" fill="#004cff"/>
<polygon points="370.4,101.3 373.5,105.4 376.7,105.3 373.6,101.2" fill="#00ffb0"/>
<polygon points="392.1,113.8 395.2,116.4 398.3,115.1 395.3,112.7" fill="#0068ff"/>
<polygon points="410.7,115.5 413.7,116.7 416.8,114.5 413.8,113.4" fill="#0058ff"/>
<polygon points="386.0,111.8 389.0,114.7 392.1,113.8 389.1,111.0" fill="#0090ff"/>
<polygon points="416.8,114.5 419.9,115.2 423.1,112.7 420.0,112.1" fill="#0077ff"/>
<polygon points="354.5,85.8 357.7,91.1 360.9,91.7 357.7,86.6" fill="#15f400"/>
<polygon points="364.1,96.5 367.2,101.1 370.4,101.3 367.3,96.8" fill="#00ff65"/>
<polygon points="379.7,109.0 382.8,112.4 386.0,111.8 382.9,108.5" fill="#00ccff"/>
<polygon points="423.1,112.7 426.1,113.0 429.3,110.2 426.2,110.0" fill="#00a9ff"/>
<polygon points="373.5,105.4 376.6,109.2 379.7,109.0 376.7,105.3" fill="#00ffe6"/>
<polygon points="429.3,110.2 432.4,110.1 435.6,107.0 432.5,107.2" fill="#00ecff"/>
<polygon points="357.7,91.1 360.9,96.0 364.1,96.5 360.9,91.7" fill="#00f71e"/>
<polygon points="401.3,117.2 404.4,119.0 407.5,117.3 404.5,115.7" fill="#003bff"/>
<polygon points="348.0,79.2 351.2,84.8 354.5,85.8 351.3,80.3" fill="#a0e700"/>
<polygon points="395.2,116.4 398.2,118.6 401.3,117.2 398.3,115.1" fill="#0047ff"/>
<polygon points="407.5,117.3 410.5,118.6 413.7,116.7 410.7,115.5" fill="#003fff"/>
<polygon points="389.0,114.7 392.0,117.4 395.2,116.4 392.1,113.8" fill="#0065ff"/>
<polygon points="367.2,101.1 370.3,105.3 373.5,105.4 370.4,101.3" fill="#00ffa0"/>
<polygon points="413.7,116.7 416.7,117.5 419.9,115.2 416.8,114.5" fill="#0056ff"/>
<polygon points="382.8,112.4 385.9,115.4 389.0,114.7 386.0,111.8" fill="#0097ff"/>
<polygon points="419.9,115.2 422.9,115.6 426.1,113.0 423.1,112.7" fill="#0082ff"/>
<polygon points="376.6,109.2 379.7,112.7 382.8,112.4 379.7,109.0" fill="#00d9ff"/>
<polygon points="351.2,84.8 354.5,90.2 357.7,91.1 354.5,85.8" fill="#2ee900"/>
<polygon points="360.9,96.0 364.0,100.6 367.2,101.1 364.1,96.5" fill="#00f94e"/>
<polygon points="426.1,113.0 429.2,113.0 432.4,110.1 429.3,110.2" fill="#00beff"/>
<polygon points="370.3,105.3 373.4,109.2 376.6,109.2 373.5,105.4" fill="#00ffd5"/>
<polygon points="398.2,118.6 401.2,120.4 404.4,119.0 401.3,117.2" fill="#002fff"/>
<polygon points="404.4,119.0 407.4,120.4 410.5,118.6 407.5,117.3" fill="#002cff"/>
<polygon points="392.0,117.4 395.1,119.7 398.2,118.6 395.2,116.4" fill="#0042ff"/>
<polygon points="432.4,110.1 435.5,109.6 438.7,106.3 435.6,107.0" fill="#00fff3"/>
<polygon points="410.5,118.6 413.6,119.6 416.7,117.5 413.7,116.7" fill="#003bff"/>
<polygon points="385.9,115.4 388.9,118.2 392.0,117.4 389.0,114.7" fill="#0069ff"/>
<polygon points="354.5,90.2 357.7,95.2 360.9,96.0 357.7,91.1" fill="#00eb0d"/>
<polygon points="344.7,77.9 348.0,83.6 351.2,84.8 348.0,79.2" fill="#d3dd00"/>
<polygon points="416.7,117.5 419.8,118.0 422.9,115.6 419.9,115.2" fill="#0060ff"/>
<polygon points="364.0,100.6 367.1,105.0 370.3,105.3 367.2,101.1" fill="#00fc8a"/>
<polygon points="379.7,112.7 382.7,115.9 385.9,115.4 382.8,112.4" fill="#00a2ff"/>
<polygon points="422.9,115.6 426.0,115.7 429.2,113.0 426.1,113.0" fill="#0095ff"/>
<polygon points="373.4,109.2 376.5,112.8 379.7,112.7 376.6,109.2" fill="#00ecff"/>
<polygon points="348.0,83.6 351.2,89.1 354.5,90.2 351.2,84.8" fill="#48df00"/>
<polygon points="357.7,95.2 360.8,99.9 364.0,100.6 360.9,96.0" fill="#00ee36"/>
<polygon points="429.2,113.0 432.3,112.6 435.5,109.6 432.4,110.1" fill="#00dbff"/>
<polygon points="401.2,120.4 404.2,122.0 407.4,120.4 404.4,119.0" fill="#001eff"/>
<polygon points="395.1,119.7 398.1,121.7 401.2,120.4 398.2,118.6" fill="#0028ff"/>
<polygon points="407.4,120.4 410.4,121.5 413.6,119.6 410.5,118.6" fill="#0025ff"/>
<polygon points="367.1,105.0 370.2,109.0 373.4,109.2 370.3,105.3" fill="#00fec1"/>
<polygon points="388.9,118.2 391.9,120.6 395.1,119.7 392.0,117.4" fill="#0044ff"/>
<polygon points="413.6,119.6 416.6,120.2 419.8,118.0 416.7,117.5" fill="#0043ff"/>
<polygon points="382.7,115.9 385.8,118.7 388.9,118.2 385.9,115.4" fill="#0073ff"/>
<polygon points="435.5,109.6 438.6,108.7 441.8,105.4 438.7,106.3" fill="#00ffd1"/>
<polygon points="351.2,89.1 354.4,94.2 357.7,95.2 354.5,90.2" fill="#05e100"/>
<polygon points="419.8,118.0 422.8,118.2 426.0,115.7 422.9,115.6" fill="#0071ff"/>
<polygon points="376.5,112.8 379.6,116.1 382.7,115.9 379.7,112.7" fill="#00b3ff"/>
<polygon points="360.8,99.9 364.0,104.4 367.1,105.0 364.0,100.6" fill="#00f06d"/>
<polygon points="341.4,76.3 344.7,82.2 348.0,83.6 344.7,77.9" fill="#d3b200"/>
<polygon points="426.0,115.7 429.1,115.4 432.3,112.6 429.2,113.0" fill="#00b0ff"/>
<polygon points="370.2,109.0 373.3,112.7 376.5,112.8 373.4,109.2" fill="#00fffb"/>
<polygon points="398.1,121.7 401.1,123.3 404.2,122.0 401.2,120.4" fill="#0015ff"/>
<polygon points="404.2,122.0 407.3,123.1 410.4,121.5 407.4,120.4" fill="#0016ff"/>
<polygon points="391.9,120.6 395.0,122.6 398.1,121.7 395.1,119.7" fill="#0027ff"/>
<polygon points="354.4,94.2 357.6,99.0 360.8,99.9 357.7,95.2" fill="#00e223"/>
<polygon points="344.7,82.2 348.0,87.7 351.2,89.1 348.0,83.6" fill="#7fd400"/>
<polygon points="432.3,112.6 435.3,111.8 438.6,108.7 435.5,109.6" fill="#00fffe"/>
<polygon points="410.4,121.5 413.4,122.2 416.6,120.2 413.6,119.6" fill="#002bff"/>
<polygon points="385.8,118.7 388.8,121.2 391.9,120.6 388.9,118.2" fill="#004cff"/>
<polygon points="364.0,104.4 367.1,108.5 370.2,109.0 367.1,105.0" fill="#00f1a3"/>
<polygon points="416.6,120.2 419.6,120.5 422.8,118.2 419.8,118.0" fill="#0052ff"/>
<polygon points="379.6,116.1 382.6,119.0 385.8,118.7 382.7,115.9" fill="#0082ff"/>
<polygon points="438.6,108.7 441.7,107.4 444.9,104.0 441.8,105.4" fill="#00fcad"/>
<polygon points="422.8,118.2 425.9,118.0 429.1,115.4 426.0,115.7" fill="#008aff"/>
<polygon points="373.3,112.7 376.4,116.1 379.6,116.1 376.5,112.8" fill="#00c9ff"/>
<polygon points="348.0,87.7 351.2,92.9 354.4,94.2 351.2,89.1" fill="#22d600"/>
<polygon points="357.6,99.0 360.7,103.6 364.0,104.4 360.8,99.9" fill="#00e450"/>
<polygon points="338.1,74.5 341.4,80.4 344.7,82.2 341.4,76.3" fill="#c97d00"/>
<polygon points="429.1,115.4 432.1,114.7 435.3,111.8 432.3,112.6" fill="#00d3ff"/>
<polygon points="367.1,108.5 370.2,112.3 373.3,112.7 370.2,109.0" fill="#00f3d3"/>
<polygon points="395.0,122.6 398.0,124.4 401.1,123.3 398.1,121.7" fill="#0012ff"/>
<polygon points="401.1,123.3 404.1,124.5 407.3,123.1 404.2,122.0" fill="#000bff"/>
<polygon points="388.8,121.2 391.8,123.4 395.0,122.6 391.9,120.6" fill="#002dff"/>
<polygon points="407.3,123.1 410.3,123.9 413.4,122.2 410.4,121.5" fill="#0018ff"/>
<polygon points="382.6,119.0 385.6,121.6 388.8,121.2 385.8,118.7" fill="#0059ff"/>
<polygon points="413.4,122.2 416.5,122.5 419.6,120.5 416.6,120.2" fill="#0038ff"/>
<polygon points="351.2,92.9 354.4,97.9 357.6,99.0 354.4,94.2" fill="#00d70f"/>
<polygon points="341.4,80.4 344.7,86.1 348.0,87.7 344.7,82.2" fill="#b8ca00"/>
<polygon points="435.3,111.8 438.5,110.6 441.7,107.4 438.6,108.7" fill="#00fad1"/>
<polygon points="360.7,103.6 363.9,107.8 367.1,108.5 364.0,104.4" fill="#00e583"/>
<polygon points="376.4,116.1 379.5,119.1 382.6,119.0 379.6,116.1" fill="#0096ff"/>
<polygon points="419.6,120.5 422.7,120.3 425.9,118.0 422.8,118.2" fill="#0069ff"/>
<polygon points="370.2,112.3 373.2,115.8 376.4,116.1 373.3,112.7" fill="#00d9f3"/>
<polygon points="425.9,118.0 428.9,117.4 432.1,114.7 429.1,115.4" fill="#00abff"/>
<polygon points="441.7,107.4 444.8,105.8 448.1,102.3 444.9,104.0" fill="#00ed7d"/>
<polygon points="344.7,86.1 347.9,91.4 351.2,92.9 348.0,87.7" fill="#3fcb00"/>
<polygon points="354.4,97.9 357.5,102.5 360.7,103.6 357.6,99.0" fill="#00d933"/>
<polygon points="398.0,124.4 401.0,125.7 404.1,124.5 401.1,123.3" fill="#0005ff"/>
<polygon points="391.8,123.4 394.8,125.2 398.0,124.4 395.0,122.6" fill="#0016ff"/>
<polygon points="404.1,124.5 407.2,125.4 410.3,123.9 407.3,123.1" fill="#000bff"/>
<polygon points="334.8,72.5 338.1,78.5 341.4,80.4 338.1,74.5" fill="#c04e00"/>
<polygon points="385.6,121.6 388.7,123.9 391.8,123.4 388.8,121.2" fill="#0038ff"/>
<polygon points="363.9,107.8 367.0,111.7 370.2,112.3 367.1,108.5" fill="#00e6b2"/>
<polygon points="410.3,123.9 413.3,124.4 416.5,122.5 413.4,122.2" fill="#0024ff"/>
<polygon points="432.1,114.7 435.2,113.6 438.5,110.6 435.3,111.8" fill="#00f6f7"/>
<polygon points="379.5,119.1 382.5,121.8 385.6,121.6 382.6,119.0" fill="#006bfe"/>
<polygon points="416.5,122.5 419.5,122.5 422.7,120.3 419.6,120.5" fill="#004eff"/>
<polygon points="347.9,91.4 351.1,96.5 354.4,97.9 351.2,92.9" fill="#05cc00"/>
<polygon points="373.2,115.8 376.3,118.9 379.5,119.1 376.4,116.1" fill="#00a7f3"/>
<polygon points="357.5,102.5 360.7,106.8 363.9,107.8 360.7,103.6" fill="#00d963"/>
<polygon points="338.1,78.5 341.4,84.2 344.7,86.1 341.4,80.4" fill="#c1a200"/>
<polygon points="438.5,110.6 441.6,109.1 444.8,105.8 441.7,107.4" fill="#00eaa0"/>
<polygon points="422.7,120.3 425.8,119.8 428.9,117.4 425.9,118.0" fill="#0089fe"/>
<polygon points="367.0,111.7 370.1,115.3 373.2,115.8 370.2,112.3" fill="#00e6e2"/>
<polygon points="394.8,125.2 397.9,126.7 401.0,125.7 398.0,124.4" fill="#0007ff"/>
<polygon points="428.9,117.4 432.0,116.4 435.2,113.6 432.1,114.7" fill="#00caf3"/>
<polygon points="401.0,125.7 404.0,126.7 407.2,125.4 404.1,124.5" fill="#0002ff"/>
<polygon points="388.7,123.9 391.7,125.8 394.8,125.2 391.8,123.4" fill="#001fff"/>
<polygon points="407.2,125.4 410.2,126.0 413.3,124.4 410.3,123.9" fill="#0014ff"/>
<polygon points="351.1,96.5 354.3,101.2 357.5,102.5 354.4,97.9" fill="#00cd1e"/>
<polygon points="341.4,84.2 344.6,89.7 347.9,91.4 344.7,86.1" fill="#78c100"/>
<polygon points="444.8,105.8 448.0,103.8 451.3,100.2 448.1,102.3" fill="#00de4e"/>
<polygon points="382.5,121.8 385.5,124.2 388.7,123.9 385.6,121.6" fill="#0048fc"/>
<polygon points="413.3,124.4 416.4,124.4 419.5,122.5 416.5,122.5" fill="#0037ff"/>
<polygon points="360.7,106.8 363.8,110.8 367.0,111.7 363.9,107.8" fill="#00da90"/>
<polygon points="331.4,70.2 334.8,76.3 338.1,78.5 334.8,72.5" fill="#b62800"/>
<polygon points="376.3,118.9 379.4,121.7 382.5,121.8 379.5,119.1" fill="#007cf1"/>
<polygon points="435.2,113.6 438.4,112.2 441.6,109.1 438.5,110.6" fill="#00e7be"/>
<polygon points="419.5,122.5 422.6,122.1 425.8,119.8 422.7,120.3" fill="#0069f9"/>
<polygon points="370.1,115.3 373.1,118.5 376.3,118.9 373.2,115.8" fill="#00bae6"/>
<polygon points="344.6,89.7 347.9,94.8 351.1,96.5 347.9,91.4" fill="#24c200"/>
<polygon points="354.3,101.2 357.5,105.6 360.7,106.8 357.5,102.5" fill="#00ce42"/>
<polygon points="425.8,119.8 428.8,119.0 432.0,116.4 428.9,117.4" fill="#00a5ef"/>
<polygon points="334.8,76.3 338.1,82.1 341.4,84.2 338.1,78.5" fill="#b76c00"/>
<polygon points="441.6,109.1 444.8,107.1 448.0,103.8 444.8,105.8" fill="#00db70"/>
<polygon points="397.9,126.7 400.9,127.8 404.0,126.7 401.0,125.7" fill="#0000ff"/>
<polygon points="391.7,125.8 394.7,127.4 397.9,126.7 394.8,125.2" fill="#000ffe"/>
<polygon points="404.0,126.7 407.0,127.3 410.2,126.0 407.2,125.4" fill="#000aff"/>
<polygon points="363.8,110.8 366.9,114.5 370.1,115.3 367.0,111.7" fill="#00dab8"/>
<polygon points="385.5,124.2 388.6,126.2 391.7,125.8 388.7,123.9" fill="#002df7"/>
<polygon points="410.2,126.0 413.2,126.1 416.4,124.4 413.3,124.4" fill="#0025fb"/>
<polygon points="432.0,116.4 435.2,115.0 438.4,112.2 435.2,113.6" fill="#00e3de"/>
<polygon points="379.4,121.7 382.4,124.2 385.5,124.2 382.5,121.8" fill="#0058ef"/>
<polygon points="347.9,94.8 351.1,99.6 354.3,101.2 351.1,96.5" fill="#00c209"/>
<polygon points="416.4,124.4 419.4,124.1 422.6,122.1 419.5,122.5" fill="#004ff3"/>
<polygon points="338.1,82.1 341.4,87.6 344.6,89.7 341.4,84.2" fill="#b4b700"/>
<polygon points="357.5,105.6 360.6,109.7 363.8,110.8 360.7,106.8" fill="#00ce6e"/>
<polygon points="373.1,118.5 376.2,121.4 379.4,121.7 376.3,118.9" fill="#008ee4"/>
<polygon points="328.1,67.6 331.4,73.8 334.8,76.3 331.4,70.2" fill="#ae0300"/>
<polygon points="422.6,122.1 425.7,121.3 428.8,119.0 425.8,119.8" fill="#0085ea"/>
<polygon points="438.4,112.2 441.5,110.3 444.8,107.1 441.6,109.1" fill="#00d88d"/>
<polygon points="366.9,114.5 370.0,117.9 373.1,118.5 370.1,115.3" fill="#00cdd9"/>
<polygon points="341.4,87.6 344.6,92.9 347.9,94.8 344.6,89.7" fill="#47b800"/>
<polygon points="394.7,127.4 397.7,128.6 400.9,127.8 397.9,126.7" fill="#0006f5"/>
<polygon points="351.1,99.6 354.2,104.1 357.5,105.6 354.3,101.2" fill="#00c227"/>
<polygon points="400.9,127.8 403.9,128.5 407.0,127.3 404.0,126.7" fill="#0005f6"/>
<polygon points="388.6,126.2 391.6,127.8 394.7,127.4 391.7,125.8" fill="#001af2"/>
<polygon points="428.8,119.0 431.9,117.7 435.2,115.0 432.0,116.4" fill="#00c3df"/>
<polygon points="407.0,127.3 410.1,127.6 413.2,126.1 410.2,126.0" fill="#0019f3"/>
<polygon points="382.4,124.2 385.4,126.3 388.6,126.2 385.5,124.2" fill="#003deb"/>
<polygon points="331.4,73.8 334.7,79.7 338.1,82.1 334.8,76.3" fill="#ae3e00"/>
<polygon points="360.6,109.7 363.7,113.5 366.9,114.5 363.8,110.8" fill="#00cd94"/>
<polygon points="413.2,126.1 416.3,125.9 419.4,124.1 416.4,124.4" fill="#003bed"/>
<polygon points="376.2,121.4 379.2,124.0 382.4,124.2 379.4,121.7" fill="#006be2"/>
<polygon points="435.2,115.0 438.3,113.3 441.5,110.3 438.4,112.2" fill="#00d4a6"/>
<polygon points="419.4,124.1 422.5,123.4 425.7,121.3 422.6,122.1" fill="#006be4"/>
<polygon points="344.6,92.9 347.8,97.8 351.1,99.6 347.9,94.8" fill="#10b800"/>
<polygon points="370.0,117.9 373.0,120.9 376.2,121.4 373.1,118.5" fill="#00a3d7"/>
<polygon points="354.2,104.1 357.4,108.3 360.6,109.7 357.5,105.6" fill="#00c24c"/>
<polygon points="334.7,79.7 338.0,85.4 341.4,87.6 338.1,82.1" fill="#ae8400"/>
<polygon points="425.7,121.3 428.8,120.1 431.9,117.7 428.8,119.0" fill="#00a3da"/>
<polygon points="363.7,113.5 366.8,116.9 370.0,117.9 366.9,114.5" fill="#00ccb7"/>
<polygon points="324.7,64.8 328.0,71.1 331.4,73.8 328.1,67.6" fill="#a50000"/>
<polygon points="397.7,128.6 400.8,129.4 403.9,128.5 400.9,127.8" fill="#0007ec"/>
<polygon points="391.6,127.8 394.6,129.1 397.7,128.6 394.7,127.4" fill="#0010ea"/>
<polygon points="403.9,128.5 406.9,128.9 410.1,127.6 407.0,127.3" fill="#0012ea"/>
<polygon points="385.4,126.3 388.5,128.1 391.6,127.8 388.6,126.2" fill="#0028e5"/>
<polygon points="347.8,97.8 351.0,102.4 354.2,104.1 351.1,99.6" fill="#00b712"/>
<polygon points="410.1,127.6 413.1,127.5 416.3,125.9 413.2,126.1" fill="#002de5"/>
<polygon points="379.2,124.0 382.3,126.2 385.4,126.3 382.4,124.2" fill="#004ede"/>
<polygon points="338.0,85.4 341.3,90.7 344.6,92.9 341.4,87.6" fill="#86ae00"/>
<polygon points="431.9,117.7 435.1,116.0 438.3,113.3 435.2,115.0" fill="#00d0bc"/>
<polygon points="357.4,108.3 360.5,112.2 363.7,113.5 360.6,109.7" fill="#00c171"/>
<polygon points="416.3,125.9 419.3,125.3 422.5,123.4 419.4,124.1" fill="#0055de"/>
<polygon points="328.0,71.1 331.4,77.1 334.7,79.7 331.4,73.8" fill="#a51800"/>
<polygon points="373.0,120.9 376.1,123.5 379.2,124.0 376.2,121.4" fill="#0080d5"/>
<polygon points="422.5,123.4 425.6,122.4 428.8,120.1 425.7,121.3" fill="#0087d5"/>
<polygon points="366.8,116.9 369.9,120.0 373.0,120.9 370.0,117.9" fill="#00b8ca"/>
<polygon points="341.3,90.7 344.5,95.7 347.8,97.8 344.6,92.9" fill="#30ad00"/>
<polygon points="351.0,102.4 354.1,106.7 357.4,108.3 354.2,104.1" fill="#00b72c"/>
<polygon points="331.4,77.1 334.7,82.8 338.0,85.4 334.7,79.7" fill="#a54d00"/>
<polygon points="394.6,129.1 397.6,130.1 400.8,129.4 397.7,128.6" fill="#000ee1"/>
<polygon points="388.5,128.1 391.5,129.5 394.6,129.1 391.6,127.8" fill="#001dde"/>
<polygon points="400.8,129.4 403.8,129.9 406.9,128.9 403.9,128.5" fill="#0011e0"/>
<polygon points="428.8,120.1 431.9,118.6 435.1,116.0 431.9,117.7" fill="#00c3cb"/>
<polygon points="360.5,112.2 363.6,115.8 366.8,116.9 363.7,113.5" fill="#00c091"/>
<polygon points="382.3,126.2 385.3,128.1 388.5,128.1 385.4,126.3" fill="#003ad9"/>
<polygon points="406.9,128.9 410.0,128.8 413.1,127.5 410.1,127.6" fill="#0024dd"/>
<polygon points="376.1,123.5 379.1,125.8 382.3,126.2 379.2,124.0" fill="#0063d1"/>
<polygon points="413.1,127.5 416.2,127.0 419.3,125.3 416.3,125.9" fill="#0045d7"/>
<polygon points="344.5,95.7 347.7,100.4 351.0,102.4 347.8,97.8" fill="#03ad00"/>
<polygon points="334.7,82.8 338.0,88.3 341.3,90.7 338.0,85.4" fill="#a49100"/>
<polygon points="354.1,106.7 357.3,110.7 360.5,112.2 357.4,108.3" fill="#00b64f"/>
<polygon points="369.9,120.0 372.9,122.8 376.1,123.5 373.0,120.9" fill="#0095c8"/>
<polygon points="419.3,125.3 422.4,124.3 425.6,122.4 422.5,123.4" fill="#0072cf"/>
<polygon points="363.6,115.8 366.7,119.0 369.9,120.0 366.8,116.9" fill="#00beae"/>
<polygon points="425.6,122.4 428.7,120.9 431.9,118.6 428.8,120.1" fill="#00a6c6"/>
<polygon points="391.5,129.5 394.5,130.5 397.6,130.1 394.6,129.1" fill="#0018d6"/>
<polygon points="397.6,130.1 400.7,130.6 403.8,129.9 400.8,129.4" fill="#0015d6"/>
<polygon points="338.0,88.3 341.2,93.4 344.5,95.7 341.3,90.7" fill="#65a300"/>
<polygon points="385.3,128.1 388.3,129.5 391.5,129.5 388.5,128.1" fill="#002cd2"/>
<polygon points="347.7,100.4 350.9,104.8 354.1,106.7 351.0,102.4" fill="#00ac16"/>
<polygon points="403.8,129.9 406.8,129.9 410.0,128.8 406.9,128.9" fill="#0020d4"/>
<polygon points="379.1,125.8 382.2,127.8 385.3,128.1 382.3,126.2" fill="#004dcc"/>
<polygon points="410.0,128.8 413.0,128.4 416.2,127.0 413.1,127.5" fill="#003bcf"/>
<polygon points="357.3,110.7 360.4,114.3 363.6,115.8 360.5,112.2" fill="#00b46e"/>
<polygon points="372.9,122.8 376.0,125.2 379.1,125.8 376.1,123.5" fill="#0078c4"/>
<polygon points="416.2,127.0 419.2,126.1 422.4,124.3 419.3,125.3" fill="#0060c8"/>
<polygon points="341.2,93.4 344.4,98.2 347.7,100.4 344.5,95.7" fill="#22a200"/>
<polygon points="366.7,119.0 369.7,121.8 372.9,122.8 369.9,120.0" fill="#00aabb"/>
<polygon points="350.9,104.8 354.0,108.9 357.3,110.7 354.1,106.7" fill="#00aa2e"/>
<polygon points="422.4,124.3 425.5,123.0 428.7,120.9 425.6,122.4" fill="#008fc0"/>
<polygon points="394.5,130.5 397.5,131.1 400.7,130.6 397.6,130.1" fill="#001dcc"/>
<polygon points="388.3,129.5 391.4,130.7 394.5,130.5 391.5,129.5" fill="#0026ca"/>
<polygon points="360.4,114.3 363.5,117.6 366.7,119.0 363.6,115.8" fill="#00b288"/>
<polygon points="400.7,130.6 403.7,130.8 406.8,129.9 403.8,129.9" fill="#0022cb"/>
<polygon points="382.2,127.8 385.2,129.4 388.3,129.5 385.3,128.1" fill="#003ec5"/>
<polygon points="406.8,129.9 409.9,129.6 413.0,128.4 410.0,128.8" fill="#0034c7"/>
<polygon points="376.0,125.2 379.0,127.2 382.2,127.8 379.1,125.8" fill="#0061bf"/>
<polygon points="344.4,98.2 347.6,102.7 350.9,104.8 347.7,100.4" fill="#00a102"/>
<polygon points="413.0,128.4 416.1,127.6 419.2,126.1 416.2,127.0" fill="#0053c1"/>
<polygon points="354.0,108.9 357.2,112.6 360.4,114.3 357.3,110.7" fill="#00a84c"/>
<polygon points="369.7,121.8 372.8,124.3 376.0,125.2 372.9,122.8" fill="#008db7"/>
<polygon points="419.2,126.1 422.3,124.8 425.5,123.0 422.4,124.3" fill="#007cba"/>
<polygon points="363.5,117.6 366.6,120.6 369.7,121.8 366.7,119.0" fill="#00af9e"/>
<polygon points="347.6,102.7 350.8,106.8 354.0,108.9 350.9,104.8" fill="#009f17"/>
<polygon points="391.4,130.7 394.4,131.4 397.5,131.1 394.5,130.5" fill="#0028c0"/>
<polygon points="397.5,131.1 400.6,131.4 403.7,130.8 400.7,130.6" fill="#0027c0"/>
<polygon points="385.2,129.4 388.2,130.6 391.4,130.7 388.3,129.5" fill="#0036be"/>
<polygon points="403.7,130.8 406.7,130.6 409.9,129.6 406.8,129.9" fill="#0033be"/>
<polygon points="379.0,127.2 382.1,128.9 385.2,129.4 382.2,127.8" fill="#0051b9"/>
<polygon points="357.2,112.6 360.3,116.0 363.5,117.6 360.4,114.3" fill="#00a665"/>
<polygon points="409.9,129.6 412.9,128.9 416.1,127.6 413.0,128.4" fill="#004bb9"/>
<polygon points="372.8,124.3 375.9,126.5 379.0,127.2 376.0,125.2" fill="#0075b2"/>
<polygon points="416.1,127.6 419.2,126.4 422.3,124.8 419.2,126.1" fill="#006eb3"/>
<polygon points="366.6,120.6 369.6,123.2 372.8,124.3 369.7,121.8" fill="#00a2ab"/>
<polygon points="350.8,106.8 353.9,110.7 357.2,112.6 354.0,108.9" fill="#009d2b"/>
<polygon points="360.3,116.0 363.4,119.1 366.6,120.6 363.5,117.6" fill="#00a279"/>
<polygon points="394.4,131.4 397.4,131.7 400.6,131.4 397.5,131.1" fill="#0030b6"/>
<polygon points="388.2,130.6 391.3,131.4 394.4,131.4 391.4,130.7" fill="#0035b5"/>
<polygon points="400.6,131.4 403.6,131.3 406.7,130.6 403.7,130.8" fill="#0036b4"/>
<polygon points="382.1,128.9 385.1,130.2 388.2,130.6 385.2,129.4" fill="#0047b2"/>
<polygon points="406.7,130.6 409.8,129.9 412.9,128.9 409.9,129.6" fill="#0047b1"/>
<polygon points="375.9,126.5 378.9,128.2 382.1,128.9 379.0,127.2" fill="#0064ac"/>
<polygon points="353.9,110.7 357.1,114.1 360.3,116.0 357.2,112.6" fill="#009a44"/>
<polygon points="412.9,128.9 416.0,127.8 419.2,126.4 416.1,127.6" fill="#0063ac"/>
<polygon points="369.6,123.2 372.7,125.4 375.9,126.5 372.8,124.3" fill="#008aa6"/>
<polygon points="363.4,119.1 366.4,121.7 369.6,123.2 366.6,120.6" fill="#009e87"/>
<polygon points="391.3,131.4 394.3,131.8 397.4,131.7 394.4,131.4" fill="#003aab"/>
<polygon points="397.4,131.7 400.5,131.7 403.6,131.3 400.6,131.4" fill="#003baa"/>
<polygon points="385.1,130.2 388.1,131.2 391.3,131.4 388.2,130.6" fill="#0044a9"/>
<polygon points="357.1,114.1 360.2,117.3 363.4,119.1 360.3,116.0" fill="#009758"/>
<polygon points="403.6,131.3 406.7,130.7 409.8,129.9 406.7,130.6" fill="#0046a8"/>
<polygon points="378.9,128.2 381.9,129.6 385.1,130.2 382.1,128.9" fill="#0059a5"/>
<polygon points="409.8,129.9 412.9,128.9 416.0,127.8 412.9,128.9" fill="#005ca4"/>
<polygon points="372.7,125.4 375.7,127.3 378.9,128.2 375.9,126.5" fill="#0077a0"/>
<polygon points="366.4,121.7 369.5,124.1 372.7,125.4 369.6,123.2" fill="#009a96"/>
<polygon points="360.2,117.3 363.2,120.1 366.4,121.7 363.4,119.1" fill="#009366"/>
<polygon points="388.1,131.2 391.2,131.7 394.3,131.8 391.3,131.4" fill="#0046a0"/>
<polygon points="394.3,131.8 397.3,131.9 400.5,131.7 397.4,131.7" fill="#0043a0"/>
<polygon points="381.9,129.6 385.0,130.6 388.1,131.2 385.1,130.2" fill="#00539d"/>
<polygon points="400.5,131.7 403.5,131.3 406.7,130.7 403.6,131.3" fill="#00499e"/>
<polygon points="375.7,127.3 378.8,128.8 381.9,129.6 378.9,128.2" fill="#006a99"/>
<polygon points="406.7,130.7 409.7,129.8 412.9,128.9 409.8,129.9" fill="#00599b"/>
<polygon points="369.5,124.1 372.6,126.0 375.7,127.3 372.7,125.4" fill="#008994"/>
<polygon points="363.2,120.1 366.3,122.5 369.5,124.1 366.4,121.7" fill="#008e70"/>
<polygon points="391.2,131.7 394.2,131.8 397.3,131.9 394.3,131.8" fill="#004c95"/>
<polygon points="385.0,130.6 388.0,131.3 391.2,131.7 388.1,131.2" fill="#005394"/>
<polygon points="397.3,131.9 400.4,131.6 403.5,131.3 400.5,131.7" fill="#004f94"/>
<polygon points="378.8,128.8 381.8,129.9 385.0,130.6 381.9,129.6" fill="#006291"/>
<polygon points="403.5,131.3 406.6,130.4 409.7,129.8 406.7,130.7" fill="#005992"/>
<polygon points="372.6,126.0 375.6,127.6 378.8,128.8 375.7,127.3" fill="#007b8d"/>
<polygon points="366.3,122.5 369.4,124.5 372.6,126.0 369.5,124.1" fill="#008875"/>
<polygon points="388.0,131.3 391.0,131.5 394.2,131.8 391.2,131.7" fill="#00568a"/>
<polygon points="394.2,131.8 397.2,131.6 400.4,131.6 397.3,131.9" fill="#00558a"/>
<polygon points="381.8,129.9 384.9,130.6 388.0,131.3 385.0,130.6" fill="#005f89"/>
<polygon points="400.4,131.6 403.4,130.8 406.6,130.4 403.5,131.3" fill="#005c89"/>
<polygon points="375.6,127.6 378.7,128.8 381.8,129.9 378.8,128.8" fill="#007186"/>
<polygon points="369.4,124.5 372.4,126.2 375.6,127.6 372.6,126.0" fill="#008279"/>
<polygon points="391.0,131.5 394.1,131.3 397.2,131.6 394.2,131.8" fill="#005c80"/>
<polygon points="384.9,130.6 387.9,130.9 391.0,131.5 388.0,131.3" fill="#00607f"/>
<polygon points="397.2,131.6 400.3,130.9 403.4,130.8 400.4,131.6" fill="#005f7f"/>
<polygon points="378.7,128.8 381.7,129.6 384.9,130.6 381.8,129.9" fill="#006b7e"/>
<polygon points="372.4,126.2 375.5,127.5 378.7,128.8 375.6,127.6" fill="#007a77"/>
<polygon points="387.9,130.9 390.9,130.8 394.1,131.3 391.0,131.5" fill="#006376"/>
<polygon points="394.1,131.3 397.1,130.8 400.3,130.9 397.2,131.6" fill="#006375"/>
<polygon points="381.7,129.6 384.7,130.0 387.9,130.9 384.9,130.6" fill="#006a75"/>
<polygon points="375.5,127.5 378.5,128.4 381.7,129.6 378.7,128.8" fill="#00726e"/>
<polygon points="390.9,130.8 394.0,130.3 397.1,130.8 394.1,131.3" fill="#00676b"/>
<polygon points="384.7,130.0 387.8,130.0 390.9,130.8 387.9,130.9" fill="#00696b"/>
<polygon points="378.5,128.4 381.6,128.9 384.7,130.0 381.7,129.6" fill="#006a62"/>
<polygon points="387.8,130.0 390.8,129.6 394.0,130.3 390.9,130.8" fill="#00665c"/>
<polygon points="381.6,128.9 384.6,129.0 387.8,130.0 384.7,130.0" fill="#006657"/>
<polygon points="384.6,129.0 387.7,128.7 390.8,129.6 387.8,130.0" fill="#00664f"/>
</g>
<path d="M324.5,61.4L328.3,145.3L387.6,172.2L449.4,146.2" fill="none" stroke="#222" stroke-width="0.7"/>
<path d="M449.4,146.2L452.9,61.4" fill="none" stroke="#555" stroke-width="0.6"/>
<path d="M328.3,145.3l-1.3,1.3" stroke="#222" stroke-width="0.6"/>
<text x="320.5" y="152.6" font-size="7.6" fill="#1c1c1c" stroke="#1c1c1c" stroke-width="0.12" text-anchor="middle" font-weight="normal" textLength="8" lengthAdjust="spacingAndGlyphs">50</text>
<path d="M387.6,172.2l1.3,1.3" stroke="#222" stroke-width="0.6"/>
<text x="395.0" y="179.9" font-size="7.6" fill="#1c1c1c" stroke="#1c1c1c" stroke-width="0.12" text-anchor="middle" font-weight="normal" textLength="8" lengthAdjust="spacingAndGlyphs">30</text>
<path d="M343.1,152.0l-1.3,1.3" stroke="#222" stroke-width="0.6"/>
<text x="335.3" y="159.3" font-size="7.6" fill="#1c1c1c" stroke="#1c1c1c" stroke-width="0.12" text-anchor="middle" font-weight="normal" textLength="8" lengthAdjust="spacingAndGlyphs">60</text>
<path d="M403.1,165.7l1.3,1.3" stroke="#222" stroke-width="0.6"/>
<text x="410.5" y="173.4" font-size="7.6" fill="#1c1c1c" stroke="#1c1c1c" stroke-width="0.12" text-anchor="middle" font-weight="normal" textLength="8" lengthAdjust="spacingAndGlyphs">40</text>
<path d="M358.0,158.8l-1.3,1.3" stroke="#222" stroke-width="0.6"/>
<text x="350.2" y="166.0" font-size="7.6" fill="#1c1c1c" stroke="#1c1c1c" stroke-width="0.12" text-anchor="middle" font-weight="normal" textLength="8" lengthAdjust="spacingAndGlyphs">70</text>
<path d="M418.5,159.2l1.3,1.3" stroke="#222" stroke-width="0.6"/>
<text x="425.9" y="166.9" font-size="7.6" fill="#1c1c1c" stroke="#1c1c1c" stroke-width="0.12" text-anchor="middle" font-weight="normal" textLength="8" lengthAdjust="spacingAndGlyphs">50</text>
<path d="M372.8,165.5l-1.3,1.3" stroke="#222" stroke-width="0.6"/>
<text x="365.0" y="172.8" font-size="7.6" fill="#1c1c1c" stroke="#1c1c1c" stroke-width="0.12" text-anchor="middle" font-weight="normal" textLength="8" lengthAdjust="spacingAndGlyphs">80</text>
<path d="M433.9,152.7l1.3,1.3" stroke="#222" stroke-width="0.6"/>
<text x="441.3" y="160.4" font-size="7.6" fill="#1c1c1c" stroke="#1c1c1c" stroke-width="0.12" text-anchor="middle" font-weight="normal" textLength="8" lengthAdjust="spacingAndGlyphs">60</text>
<path d="M387.6,172.2l-1.3,1.3" stroke="#222" stroke-width="0.6"/>
<text x="379.8" y="179.5" font-size="7.6" fill="#1c1c1c" stroke="#1c1c1c" stroke-width="0.12" text-anchor="middle" font-weight="normal" textLength="8" lengthAdjust="spacingAndGlyphs">90</text>
<path d="M449.4,146.2l1.3,1.3" stroke="#222" stroke-width="0.6"/>
<text x="456.8" y="153.9" font-size="7.6" fill="#1c1c1c" stroke="#1c1c1c" stroke-width="0.12" text-anchor="middle" font-weight="normal" textLength="8" lengthAdjust="spacingAndGlyphs">70</text>
<path d="M327.4,125.0h-1.4" stroke="#222" stroke-width="0.6"/>
<text x="322.3" y="123.3" font-size="7.6" fill="#1c1c1c" stroke="#1c1c1c" stroke-width="0.12" text-anchor="middle" font-weight="normal" textLength="3.9" lengthAdjust="spacingAndGlyphs">1</text>
<path d="M326.7,109.1h-1.4" stroke="#222" stroke-width="0.6"/>
<text x="321.6" y="107.4" font-size="7.6" fill="#1c1c1c" stroke="#1c1c1c" stroke-width="0.12" text-anchor="middle" font-weight="normal" textLength="3.9" lengthAdjust="spacingAndGlyphs">2</text>
<path d="M325.9,93.2h-1.4" stroke="#222" stroke-width="0.6"/>
<text x="320.8" y="91.5" font-size="7.6" fill="#1c1c1c" stroke="#1c1c1c" stroke-width="0.12" text-anchor="middle" font-weight="normal" textLength="3.9" lengthAdjust="spacingAndGlyphs">3</text>
<path d="M325.2,77.3h-1.4" stroke="#222" stroke-width="0.6"/>
<text x="320.1" y="75.6" font-size="7.6" fill="#1c1c1c" stroke="#1c1c1c" stroke-width="0.12" text-anchor="middle" font-weight="normal" textLength="3.9" lengthAdjust="spacingAndGlyphs">4</text>
<path d="M324.5,61.4h-1.4" stroke="#222" stroke-width="0.6"/>
<text x="319.4" y="59.7" font-size="7.6" fill="#1c1c1c" stroke="#1c1c1c" stroke-width="0.12" text-anchor="middle" font-weight="normal" textLength="3.9" lengthAdjust="spacingAndGlyphs">5</text>
<text x="399.0" y="24.2" font-size="6.1" fill="#1c1c1c" stroke="#1c1c1c" stroke-width="0.12" text-anchor="middle" font-weight="normal" textLength="31.2" lengthAdjust="spacingAndGlyphs">3D Surface</text>
<text transform="translate(309.8,105.5) rotate(-90)" font-size="8.1" fill="#1a1a1a" stroke="#1a1a1a" stroke-width="0.12" text-anchor="middle" textLength="15.2" lengthAdjust="spacingAndGlyphs">TFCs</text>
<text x="308.4" y="174.1" font-size="7.6" fill="#1c1c1c" stroke="#1c1c1c" stroke-width="0.12" text-anchor="start" font-weight="normal" textLength="51.5" lengthAdjust="spacingAndGlyphs">X1: Ethanol (%)</text>
<text x="418.3" y="174.9" font-size="7.6" fill="#1c1c1c" stroke="#1c1c1c" stroke-width="0.12" text-anchor="start" font-weight="normal" textLength="48" lengthAdjust="spacingAndGlyphs">X2 : Temp (°C)</text>
<circle cx="324.9" cy="69.4" r="1.45" fill="#fff2f2" stroke="#903030" stroke-width="0.55"/>
<circle cx="389.7" cy="74.3" r="1.4" fill="#a00000" stroke="#500" stroke-width="0.4"/>
<circle cx="451.5" cy="95.5" r="1.4" fill="#a00000" stroke="#500" stroke-width="0.4"/>
<circle cx="387.7" cy="129.0" r="1.45" fill="#fff2f2" stroke="#903030" stroke-width="0.55"/>
<circle cx="388.8" cy="119.6" r="1.4" fill="#a00000" stroke="#500" stroke-width="0.4"/>
<text x="79.4" y="19.9" font-size="18.4" fill="#000" stroke="#000" stroke-width="0.3" text-anchor="start" font-weight="normal" textLength="15.6" lengthAdjust="spacingAndGlyphs">A.</text>
<text x="307.9" y="19.9" font-size="18.4" fill="#000" stroke="#000" stroke-width="0.3" text-anchor="start" font-weight="normal" textLength="14.8" lengthAdjust="spacingAndGlyphs">B.</text>
<text x="6.7" y="203.5" font-size="5.8" fill="#1c1c1c" stroke="#1c1c1c" stroke-width="0.12" text-anchor="start" font-weight="normal" >Factor Coding: Actual</text>
<text x="6.7" y="222.0" font-size="5.8" fill="#1c1c1c" stroke="#1c1c1c" stroke-width="0.12" text-anchor="start" font-weight="bold" >TFCs</text>
<circle cx="11.6" cy="228.9" r="2.7" fill="#a80000" stroke="#500" stroke-width="0.6"/>
<text x="18.2" y="230.9" font-size="5.8" fill="#c02828" stroke="#c02828" stroke-width="0.12" text-anchor="start" font-weight="normal" >Design Points</text>
<text x="6.7" y="249.0" font-size="5.8" fill="#2020e0" stroke="#2020e0" stroke-width="0.12" text-anchor="start" font-weight="normal" >1.00217</text>
<rect x="30.3" y="243.2" width="20.6" height="8" fill="url(#lg)" stroke="#223" stroke-width="0.5"/>
<text x="53.3" y="249.0" font-size="5.8" fill="#e82020" stroke="#e82020" stroke-width="0.12" text-anchor="start" font-weight="normal" >4.4998</text>
<text x="6.7" y="258.1" font-size="5.8" fill="#1c1c1c" stroke="#1c1c1c" stroke-width="0.12" text-anchor="start" font-weight="normal" >X1 = A</text>
<text x="6.7" y="267.0" font-size="5.8" fill="#1c1c1c" stroke="#1c1c1c" stroke-width="0.12" text-anchor="start" font-weight="normal" >X2 = C</text>
<text x="6.7" y="285.8" font-size="5.8" fill="#1c1c1c" stroke="#1c1c1c" stroke-width="0.12" text-anchor="start" font-weight="bold" >Actual Factor</text>
<text x="6.7" y="294.4" font-size="5.8" fill="#1c1c1c" stroke="#1c1c1c" stroke-width="0.12" text-anchor="start" font-weight="normal" >B = 50</text>
<g clip-path="url(#cp1)">
<rect x="96.5" y="205.60" width="133.6" height="5.1" fill="url(#g68)"/>
<rect x="96.5" y="209.10" width="133.6" height="5.1" fill="url(#g69)"/>
<rect x="96.5" y="212.60" width="133.6" height="5.1" fill="url(#g70)"/>
<rect x="96.5" y="216.10" width="133.6" height="5.1" fill="url(#g71)"/>
<rect x="96.5" y="219.60" width="133.6" height="5.1" fill="url(#g72)"/>
<rect x="96.5" y="223.10" width="133.6" height="5.1" fill="url(#g73)"/>
<rect x="96.5" y="226.60" width="133.6" height="5.1" fill="url(#g74)"/>
<rect x="96.5" y="230.10" width="133.6" height="5.1" fill="url(#g75)"/>
<rect x="96.5" y="233.60" width="133.6" height="5.1" fill="url(#g76)"/>
<rect x="96.5" y="237.10" width="133.6" height="5.1" fill="url(#g77)"/>
<rect x="96.5" y="240.60" width="133.6" height="5.1" fill="url(#g78)"/>
<rect x="96.5" y="244.10" width="133.6" height="5.1" fill="url(#g79)"/>
<rect x="96.5" y="247.60" width="133.6" height="5.1" fill="url(#g80)"/>
<rect x="96.5" y="251.10" width="133.6" height="5.1" fill="url(#g81)"/>
<rect x="96.5" y="254.60" width="133.6" height="5.1" fill="url(#g82)"/>
<rect x="96.5" y="258.10" width="133.6" height="5.1" fill="url(#g83)"/>
<rect x="96.5" y="261.60" width="133.6" height="5.1" fill="url(#g84)"/>
<rect x="96.5" y="265.10" width="133.6" height="5.1" fill="url(#g85)"/>
<rect x="96.5" y="268.60" width="133.6" height="5.1" fill="url(#g86)"/>
<rect x="96.5" y="272.10" width="133.6" height="5.1" fill="url(#g87)"/>
<rect x="96.5" y="275.60" width="133.6" height="5.1" fill="url(#g88)"/>
<rect x="96.5" y="279.10" width="133.6" height="5.1" fill="url(#g89)"/>
<rect x="96.5" y="282.60" width="133.6" height="5.1" fill="url(#g90)"/>
<rect x="96.5" y="286.10" width="133.6" height="5.1" fill="url(#g91)"/>
<rect x="96.5" y="289.60" width="133.6" height="5.1" fill="url(#g92)"/>
<rect x="96.5" y="293.10" width="133.6" height="5.1" fill="url(#g93)"/>
<rect x="96.5" y="296.60" width="133.6" height="5.1" fill="url(#g94)"/>
<rect x="96.5" y="300.10" width="133.6" height="5.1" fill="url(#g95)"/>
<rect x="96.5" y="303.60" width="133.6" height="5.1" fill="url(#g96)"/>
<rect x="96.5" y="307.10" width="133.6" height="5.1" fill="url(#g97)"/>
<rect x="96.5" y="310.60" width="133.6" height="5.1" fill="url(#g98)"/>
<rect x="96.5" y="314.10" width="133.6" height="5.1" fill="url(#g99)"/>
<rect x="96.5" y="317.60" width="133.6" height="5.1" fill="url(#g100)"/>
<rect x="96.5" y="321.10" width="133.6" height="5.1" fill="url(#g101)"/>
<rect x="96.5" y="324.60" width="133.6" height="5.1" fill="url(#g102)"/>
<rect x="96.5" y="328.10" width="133.6" height="5.1" fill="url(#g103)"/>
<rect x="96.5" y="331.60" width="133.6" height="5.1" fill="url(#g104)"/>
<rect x="96.5" y="335.10" width="133.6" height="5.1" fill="url(#g105)"/>
<rect x="96.5" y="338.60" width="133.6" height="5.1" fill="url(#g106)"/>
</g>
<g clip-path="url(#cp1)" fill="none" stroke="#8a2626" stroke-opacity="0.72" stroke-width="0.7">
<polyline points="137.0,339.3 136.7,336.0 136.6,334.1 136.3,330.9 136.1,327.6 135.8,324.3 135.6,320.9 135.3,317.6 135.0,314.2 134.9,312.6 134.6,309.2 134.3,305.9 134.0,302.5 133.7,299.2 133.4,295.8 133.2,294.2 132.9,290.8 132.6,287.5 132.2,284.1 131.9,280.8 131.6,277.6 131.4,275.8 131.0,272.4 130.7,269.1 130.3,265.8 129.9,262.4 129.7,260.8 129.4,257.4 129.0,254.1 128.6,250.7 128.2,247.7 128.0,245.7 127.6,242.4 127.2,239.0 126.8,235.7 126.6,234.0 126.1,230.7 125.7,227.3 125.3,224.0 124.9,221.0 124.6,219.0 124.2,215.6 123.7,212.3 123.3,208.9 123.0,207.3 122.8,205.6"/>
<polyline points="108.1,339.3 107.8,336.0 107.6,332.6 107.4,329.3 107.1,325.9 106.9,322.6 106.6,319.2 106.5,317.6 106.3,314.2 106.0,310.9 105.7,307.5 105.5,304.2 105.2,300.9 104.9,297.5 104.8,295.8 104.5,292.5 104.2,289.2 103.9,285.8 103.6,282.5 103.3,279.1 103.2,277.5 102.9,274.1 102.6,270.8 102.2,267.4 101.9,264.1 101.6,260.8 101.4,259.1 101.1,255.7 100.8,252.4 100.5,249.1 100.1,245.7 99.8,243.1 99.6,240.7 99.2,237.4 98.9,234.0 98.5,230.7 98.2,227.3 98.0,225.7 97.6,222.3 97.3,219.0 96.9,215.6 96.5,212.3 96.5,212.1"/>
</g>
<rect x="99.7" y="264.9" width="5.8" height="11" fill="#fff" stroke="#e03a3a" stroke-width="0.55"/>
<text x="102.6" y="273.8" font-size="9.6" fill="#e02020" stroke="#e02020" stroke-width="0.12" text-anchor="middle" font-weight="normal" textLength="4.3" lengthAdjust="spacingAndGlyphs">3</text>
<rect x="126.7" y="261.4" width="5.8" height="11" fill="#fff" stroke="#e03a3a" stroke-width="0.55"/>
<text x="129.6" y="270.3" font-size="9.6" fill="#e02020" stroke="#e02020" stroke-width="0.12" text-anchor="middle" font-weight="normal" textLength="4.3" lengthAdjust="spacingAndGlyphs">2</text>
<path d="M96.5,205.6H230.1V339.3" fill="none" stroke="#000" stroke-opacity="0.35" stroke-width="0.5"/>
<path d="M96.5,205.6V339.3H230.1" fill="none" stroke="#333" stroke-width="0.7"/>
<path d="M96.5,339.3v2.2" stroke="#333" stroke-width="0.6"/>
<text x="96.5" y="349.3" font-size="6.1" fill="#1c1c1c" stroke="#1c1c1c" stroke-width="0.12" text-anchor="middle" font-weight="normal" textLength="6.0" lengthAdjust="spacingAndGlyphs">50</text>
<path d="M129.9,339.3v2.2" stroke="#333" stroke-width="0.6"/>
<text x="129.9" y="349.3" font-size="6.1" fill="#1c1c1c" stroke="#1c1c1c" stroke-width="0.12" text-anchor="middle" font-weight="normal" textLength="6.0" lengthAdjust="spacingAndGlyphs">60</text>
<path d="M163.3,339.3v2.2" stroke="#333" stroke-width="0.6"/>
<text x="163.3" y="349.3" font-size="6.1" fill="#1c1c1c" stroke="#1c1c1c" stroke-width="0.12" text-anchor="middle" font-weight="normal" textLength="6.0" lengthAdjust="spacingAndGlyphs">70</text>
<path d="M196.7,339.3v2.2" stroke="#333" stroke-width="0.6"/>
<text x="196.7" y="349.3" font-size="6.1" fill="#1c1c1c" stroke="#1c1c1c" stroke-width="0.12" text-anchor="middle" font-weight="normal" textLength="6.0" lengthAdjust="spacingAndGlyphs">80</text>
<path d="M230.1,339.3v2.2" stroke="#333" stroke-width="0.6"/>
<text x="230.1" y="349.3" font-size="6.1" fill="#1c1c1c" stroke="#1c1c1c" stroke-width="0.12" text-anchor="middle" font-weight="normal" textLength="6.0" lengthAdjust="spacingAndGlyphs">90</text>
<path d="M96.5,339.3h-2.4" stroke="#333" stroke-width="0.6"/>
<text x="91.7" y="341.4" font-size="6.1" fill="#1c1c1c" stroke="#1c1c1c" stroke-width="0.12" text-anchor="end" font-weight="normal" textLength="3.0" lengthAdjust="spacingAndGlyphs">2</text>
<path d="M96.5,305.9h-2.4" stroke="#333" stroke-width="0.6"/>
<text x="91.7" y="308.0" font-size="6.1" fill="#1c1c1c" stroke="#1c1c1c" stroke-width="0.12" text-anchor="end" font-weight="normal" textLength="3.0" lengthAdjust="spacingAndGlyphs">3</text>
<path d="M96.5,272.4h-2.4" stroke="#333" stroke-width="0.6"/>
<text x="91.7" y="274.6" font-size="6.1" fill="#1c1c1c" stroke="#1c1c1c" stroke-width="0.12" text-anchor="end" font-weight="normal" textLength="3.0" lengthAdjust="spacingAndGlyphs">4</text>
<path d="M96.5,239.0h-2.4" stroke="#333" stroke-width="0.6"/>
<text x="91.7" y="241.2" font-size="6.1" fill="#1c1c1c" stroke="#1c1c1c" stroke-width="0.12" text-anchor="end" font-weight="normal" textLength="3.0" lengthAdjust="spacingAndGlyphs">5</text>
<path d="M96.5,205.6h-2.4" stroke="#333" stroke-width="0.6"/>
<text x="91.7" y="207.8" font-size="6.1" fill="#1c1c1c" stroke="#1c1c1c" stroke-width="0.12" text-anchor="end" font-weight="normal" textLength="3.0" lengthAdjust="spacingAndGlyphs">6</text>
<text x="162.3" y="202.8" font-size="5.7" fill="#1c1c1c" stroke="#1c1c1c" stroke-width="0.12" text-anchor="middle" font-weight="normal" textLength="12.1" lengthAdjust="spacingAndGlyphs">TFCs</text>
<text x="163.5" y="359.1" font-size="5.7" fill="#1c1c1c" stroke="#1c1c1c" stroke-width="0.12" text-anchor="middle" font-weight="normal" textLength="41.9" lengthAdjust="spacingAndGlyphs">X1: Ethanol (%)</text>
<text transform="translate(77.6,272.4) rotate(-90)" font-size="5.7" fill="#222" stroke="#222" stroke-width="0.12" text-anchor="middle" textLength="44.2" lengthAdjust="spacingAndGlyphs">X3 : Time (hours)</text>
<circle cx="96.5" cy="205.6" r="1.5" fill="#a00000" stroke="#500" stroke-width="0.4"/>
<circle cx="230.1" cy="205.6" r="1.5" fill="#a00000" stroke="#500" stroke-width="0.4"/>
<circle cx="96.5" cy="339.3" r="1.5" fill="#a00000" stroke="#500" stroke-width="0.4"/>
<circle cx="230.1" cy="339.3" r="1.5" fill="#a00000" stroke="#500" stroke-width="0.4"/>
<circle cx="163.3" cy="272.4" r="1.5" fill="#a00000" stroke="#500" stroke-width="0.4"/>
<text x="160.7" y="275.4" font-size="8.8" fill="#0a0a30" stroke="#0a0a30" stroke-width="0.12" text-anchor="end" font-weight="normal" textLength="4.2" lengthAdjust="spacingAndGlyphs">3</text>
<text x="238.2" y="203.5" font-size="5.8" fill="#1c1c1c" stroke="#1c1c1c" stroke-width="0.12" text-anchor="start" font-weight="normal" >Factor Coding: Actual</text>
<text x="238.2" y="222.0" font-size="5.8" fill="#1c1c1c" stroke="#1c1c1c" stroke-width="0.12" text-anchor="start" font-weight="bold" >TFCs</text>
<text x="238.2" y="231.3" font-size="5.8" fill="#1c1c1c" stroke="#1c1c1c" stroke-width="0.12" text-anchor="start" font-weight="normal" >Design Points:</text>
<circle cx="242.9" cy="238.2" r="2.7" fill="#a80000" stroke="#500" stroke-width="0.6"/>
<text x="250.2" y="240.2" font-size="5.8" fill="#c02828" stroke="#c02828" stroke-width="0.12" text-anchor="start" font-weight="normal" >Above Surface</text>
<circle cx="242.9" cy="246.9" r="2.7" fill="#ffc4c4" stroke="#a44" stroke-width="0.6"/>
<text x="250.2" y="248.9" font-size="5.8" fill="#c02828" stroke="#c02828" stroke-width="0.12" text-anchor="start" font-weight="normal" >Below Surface</text>
<text x="238.2" y="258.2" font-size="5.8" fill="#2020e0" stroke="#2020e0" stroke-width="0.12" text-anchor="start" font-weight="normal" >1.00217</text>
<rect x="261.4" y="252.4" width="20.7" height="7.5" fill="url(#lg)" stroke="#223" stroke-width="0.5"/>
<text x="284.4" y="258.2" font-size="5.8" fill="#e82020" stroke="#e82020" stroke-width="0.12" text-anchor="start" font-weight="normal" >4.4998</text>
<text x="238.2" y="276.7" font-size="5.8" fill="#1c1c1c" stroke="#1c1c1c" stroke-width="0.12" text-anchor="start" font-weight="normal" >X1 = A</text>
<text x="238.2" y="285.8" font-size="5.8" fill="#1c1c1c" stroke="#1c1c1c" stroke-width="0.12" text-anchor="start" font-weight="normal" >X2 = C</text>
<text x="238.2" y="303.4" font-size="5.8" fill="#1c1c1c" stroke="#1c1c1c" stroke-width="0.12" text-anchor="start" font-weight="bold" >Actual Factor</text>
<text x="238.2" y="312.2" font-size="5.8" fill="#1c1c1c" stroke="#1c1c1c" stroke-width="0.12" text-anchor="start" font-weight="normal" >B = 50</text>
<polygon points="328.0,326.3 387.3,353.3 449.1,327.2 389.7,307.0" fill="#e8e8e8"/>
<polyline points="351.6,337.1 353.5,336.3 355.4,335.5 357.3,334.7 359.2,333.9 361.1,333.1 362.2,332.6 363.9,331.9 365.8,331.0 367.7,330.2 369.5,329.4 371.4,328.6 372.3,328.2 374.2,327.4 376.0,326.6 377.8,325.7 379.7,324.9 380.6,324.5 382.4,323.7 384.2,322.9 386.0,322.1 387.2,321.5 388.7,320.8 390.5,320.0 392.3,319.2 393.8,318.5 395.0,318.0 396.7,317.2 398.5,316.3 400.0,315.6 401.2,315.1 402.9,314.3 404.7,313.5 405.8,312.9 406.4,312.7" fill="none" stroke="#2fb5ef" stroke-width="1.1"/>
<polyline points="343.1,333.2 345.0,332.4 346.2,331.9 347.8,331.3 349.7,330.5 351.7,329.7 353.6,329.0 355.4,328.2 357.3,327.4 358.3,327.0 360.2,326.3 362.0,325.5 363.9,324.7 365.8,323.9 367.6,323.2 368.6,322.8 370.4,322.0 372.3,321.2 374.1,320.5 376.0,319.7 377.0,319.3 378.7,318.5 380.6,317.8 382.4,317.0 384.2,316.2 385.2,315.8 387.0,315.1 388.8,314.3 390.6,313.5 392.4,312.7 393.3,312.3 395.1,311.6 396.9,310.8 398.7,310.0 398.7,310.0" fill="none" stroke="#2fefb0" stroke-width="1.1"/>
<polyline points="334.2,329.2 336.1,328.4 338.1,327.7 339.0,327.3 340.9,326.6 342.8,325.9 344.7,325.1 346.6,324.4 348.5,323.7 350.4,322.9 351.4,322.6 353.3,321.8 355.2,321.1 357.0,320.4 358.9,319.6 360.8,318.9 361.7,318.5 363.6,317.8 365.5,317.1 367.3,316.3 369.2,315.6 371.0,314.9 372.0,314.5 373.8,313.8 375.7,313.0 377.5,312.3 379.4,311.6 380.3,311.2 382.2,310.5 384.0,309.7 385.8,309.0 387.7,308.3 388.6,307.9 390.4,307.2 390.4,307.2" fill="none" stroke="#2fef39" stroke-width="1.1"/>
<path d="M328.0,326.3L324.2,242.1 M389.7,307.0L389.3,230.4 M343.4,321.5L340.5,239.2 M404.6,312.0L405.1,233.3 M358.8,316.6L356.8,236.2 M419.4,317.1L420.9,236.2 M374.3,311.8L373.0,233.3 M434.2,322.2L436.8,239.2 M389.7,307.0L389.3,230.4 M449.1,327.2L452.6,242.1 M327.1,305.9L389.6,288.4L449.9,306.6 M326.4,290.0L389.5,273.9L450.6,290.5 M325.6,274.0L389.5,259.4L451.3,274.3 M324.9,258.0L389.4,244.9L451.9,258.2 M324.2,242.1L389.3,230.4L452.6,242.1 M328.0,326.3L389.7,307.0L449.1,327.2" fill="none" stroke="#333" stroke-width="0.55"/>
<g stroke="#000" stroke-opacity="0.6" stroke-width="0.45" stroke-linejoin="round">
<polygon points="386.3,260.1 389.4,265.0 392.6,264.7 389.5,259.9" fill="#00ff09"/>
<polygon points="389.4,265.0 392.5,269.6 395.6,269.2 392.6,264.7" fill="#00ff37"/>
<polygon points="383.1,260.4 386.2,265.3 389.4,265.0 386.3,260.1" fill="#00ff03"/>
<polygon points="392.5,269.6 395.5,273.8 398.7,273.4 395.6,269.2" fill="#00ff75"/>
<polygon points="386.2,265.3 389.3,269.9 392.5,269.6 389.4,265.0" fill="#00ff32"/>
<polygon points="395.5,273.8 398.6,277.8 401.7,277.4 398.7,273.4" fill="#00ffb1"/>
<polygon points="379.9,260.6 383.0,265.6 386.2,265.3 383.1,260.4" fill="#02ff00"/>
<polygon points="389.3,269.9 392.4,274.2 395.5,273.8 392.5,269.6" fill="#00ff6d"/>
<polygon points="398.6,277.8 401.6,281.5 404.8,281.0 401.7,277.4" fill="#00ffeb"/>
<polygon points="383.0,265.6 386.1,270.3 389.3,269.9 386.2,265.3" fill="#00ff2d"/>
<polygon points="392.4,274.2 395.4,278.3 398.6,277.8 395.5,273.8" fill="#00ffaa"/>
<polygon points="376.7,260.9 379.8,265.9 383.0,265.6 379.9,260.6" fill="#09ff00"/>
<polygon points="386.1,270.3 389.2,274.7 392.4,274.2 389.3,269.9" fill="#00ff66"/>
<polygon points="401.6,281.5 404.7,284.9 407.8,284.4 404.8,281.0" fill="#00d0ff"/>
<polygon points="395.4,278.3 398.5,282.0 401.6,281.5 398.6,277.8" fill="#00ffe2"/>
<polygon points="379.8,265.9 382.9,270.6 386.1,270.3 383.0,265.6" fill="#00ff28"/>
<polygon points="389.2,274.7 392.3,278.8 395.4,278.3 392.4,274.2" fill="#00ffa2"/>
<polygon points="404.7,284.9 407.7,288.0 410.8,287.4 407.8,284.4" fill="#0095ff"/>
<polygon points="373.5,261.2 376.6,266.2 379.8,265.9 376.7,260.9" fill="#11ff00"/>
<polygon points="398.5,282.0 401.5,285.5 404.7,284.9 401.6,281.5" fill="#00d9ff"/>
<polygon points="382.9,270.6 386.0,275.1 389.2,274.7 386.1,270.3" fill="#00ff5e"/>
<polygon points="392.3,278.8 395.3,282.6 398.5,282.0 395.4,278.3" fill="#00ffd9"/>
<polygon points="376.6,266.2 379.7,271.0 382.9,270.6 379.8,265.9" fill="#00ff23"/>
<polygon points="407.7,288.0 410.7,290.8 413.8,290.2 410.8,287.4" fill="#0062ff"/>
<polygon points="386.0,275.1 389.1,279.2 392.3,278.8 389.2,274.7" fill="#00ff9b"/>
<polygon points="401.5,285.5 404.5,288.6 407.7,288.0 404.7,284.9" fill="#009eff"/>
<polygon points="370.3,261.4 373.4,266.5 376.6,266.2 373.5,261.2" fill="#19ff00"/>
<polygon points="395.3,282.6 398.4,286.0 401.5,285.5 398.5,282.0" fill="#00e2ff"/>
<polygon points="379.7,271.0 382.9,275.5 386.0,275.1 382.9,270.6" fill="#00ff57"/>
<polygon points="389.1,279.2 392.2,283.1 395.3,282.6 392.3,278.8" fill="#00ffd3"/>
<polygon points="410.7,290.8 413.7,293.3 416.8,292.6 413.8,290.2" fill="#0038ff"/>
<polygon points="373.4,266.5 376.6,271.4 379.7,271.0 376.6,266.2" fill="#00ff1e"/>
<polygon points="404.5,288.6 407.5,291.4 410.7,290.8 407.7,288.0" fill="#006bff"/>
<polygon points="382.9,275.5 385.9,279.7 389.1,279.2 386.0,275.1" fill="#00ff94"/>
<polygon points="398.4,286.0 401.4,289.2 404.5,288.6 401.5,285.5" fill="#00a6ff"/>
<polygon points="367.1,261.7 370.2,266.9 373.4,266.5 370.3,261.4" fill="#21ff00"/>
<polygon points="392.2,283.1 395.2,286.6 398.4,286.0 395.3,282.6" fill="#00ebff"/>
<polygon points="376.6,271.4 379.7,275.9 382.9,275.5 379.7,271.0" fill="#00ff50"/>
<polygon points="413.7,293.3 416.7,295.4 419.8,294.7 416.8,292.6" fill="#0015ff"/>
<polygon points="385.9,279.7 389.0,283.6 392.2,283.1 389.1,279.2" fill="#00ffcc"/>
<polygon points="407.5,291.4 410.6,293.9 413.7,293.3 410.7,290.8" fill="#003fff"/>
<polygon points="370.2,266.9 373.4,271.8 376.6,271.4 373.4,266.5" fill="#00ff19"/>
<polygon points="401.4,289.2 404.4,292.1 407.5,291.4 404.5,288.6" fill="#0072ff"/>
<polygon points="379.7,275.9 382.8,280.2 385.9,279.7 382.9,275.5" fill="#00ff8e"/>
<polygon points="395.2,286.6 398.2,289.8 401.4,289.2 398.4,286.0" fill="#00aeff"/>
<polygon points="363.9,262.0 367.0,267.2 370.2,266.9 367.1,261.7" fill="#29ff00"/>
<polygon points="389.0,283.6 392.1,287.2 395.2,286.6 392.2,283.1" fill="#00f3ff"/>
<polygon points="373.4,271.8 376.5,276.3 379.7,275.9 376.6,271.4" fill="#00ff49"/>
<polygon points="416.7,295.4 419.7,297.2 422.8,296.4 419.8,294.7" fill="#0000ff"/>
<polygon points="410.6,293.9 413.6,296.1 416.7,295.4 413.7,293.3" fill="#001cff"/>
<polygon points="382.8,280.2 385.8,284.1 389.0,283.6 385.9,279.7" fill="#00ffc6"/>
<polygon points="404.4,292.1 407.4,294.6 410.6,293.9 407.5,291.4" fill="#0047ff"/>
<polygon points="367.0,267.2 370.2,272.1 373.4,271.8 370.2,266.9" fill="#00ff15"/>
<polygon points="398.2,289.8 401.3,292.7 404.4,292.1 401.4,289.2" fill="#007aff"/>
<polygon points="376.5,276.3 379.6,280.6 382.8,280.2 379.7,275.9" fill="#00ff87"/>
<polygon points="392.1,287.2 395.1,290.4 398.2,289.8 395.2,286.6" fill="#00b6ff"/>
<polygon points="360.6,262.3 363.8,267.5 367.0,267.2 363.9,262.0" fill="#31ff00"/>
<polygon points="419.7,297.2 422.7,298.7 425.8,297.9 422.8,296.4" fill="#0000ff"/>
<polygon points="385.8,284.1 388.9,287.7 392.1,287.2 389.0,283.6" fill="#00fcff"/>
<polygon points="370.2,272.1 373.3,276.8 376.5,276.3 373.4,271.8" fill="#00ff42"/>
<polygon points="413.6,296.1 416.6,298.0 419.7,297.2 416.7,295.4" fill="#0001ff"/>
<polygon points="407.4,294.6 410.4,296.8 413.6,296.1 410.6,293.9" fill="#0023ff"/>
<polygon points="379.6,280.6 382.7,284.6 385.8,284.1 382.8,280.2" fill="#00ffc0"/>
<polygon points="401.3,292.7 404.3,295.3 407.4,294.6 404.4,292.1" fill="#004eff"/>
<polygon points="363.8,267.5 367.0,272.5 370.2,272.1 367.0,267.2" fill="#00ff10"/>
<polygon points="395.1,290.4 398.1,293.4 401.3,292.7 398.2,289.8" fill="#0082ff"/>
<polygon points="373.3,276.8 376.4,281.1 379.6,280.6 376.5,276.3" fill="#00ff81"/>
<polygon points="388.9,287.7 392.0,291.1 395.1,290.4 392.1,287.2" fill="#00beff"/>
<polygon points="357.4,262.6 360.6,267.9 363.8,267.5 360.6,262.3" fill="#38ff00"/>
<polygon points="422.7,298.7 425.7,299.8 428.9,298.9 425.8,297.9" fill="#0000fc"/>
<polygon points="416.6,298.0 419.6,299.5 422.7,298.7 419.7,297.2" fill="#0000ff"/>
<polygon points="382.7,284.6 385.8,288.3 388.9,287.7 385.8,284.1" fill="#00fffa"/>
<polygon points="367.0,272.5 370.1,277.2 373.3,276.8 370.2,272.1" fill="#00ff3d"/>
<polygon points="410.4,296.8 413.5,298.7 416.6,298.0 413.6,296.1" fill="#0007ff"/>
<polygon points="404.3,295.3 407.3,297.6 410.4,296.8 407.4,294.6" fill="#002aff"/>
<polygon points="376.4,281.1 379.5,285.2 382.7,284.6 379.6,280.6" fill="#00ffba"/>
<polygon points="398.1,293.4 401.2,296.0 404.3,295.3 401.3,292.7" fill="#0055ff"/>
<polygon points="360.6,267.9 363.8,272.9 367.0,272.5 363.8,267.5" fill="#00ff0c"/>
<polygon points="392.0,291.1 395.0,294.1 398.1,293.4 395.1,290.4" fill="#0089ff"/>
<polygon points="370.1,277.2 373.3,281.6 376.4,281.1 373.3,276.8" fill="#00ff7a"/>
<polygon points="385.8,288.3 388.8,291.7 392.0,291.1 388.9,287.7" fill="#00c6ff"/>
<polygon points="354.2,262.8 357.4,268.2 360.6,267.9 357.4,262.6" fill="#3fff00"/>
<polygon points="419.6,299.5 422.6,300.6 425.7,299.8 422.7,298.7" fill="#0000fd"/>
<polygon points="425.7,299.8 428.8,300.5 431.9,299.7 428.9,298.9" fill="#0000ef"/>
<polygon points="413.5,298.7 416.5,300.3 419.6,299.5 416.6,298.0" fill="#0000ff"/>
<polygon points="379.5,285.2 382.6,288.9 385.8,288.3 382.7,284.6" fill="#00fff3"/>
<polygon points="363.8,272.9 367.0,277.7 370.1,277.2 367.0,272.5" fill="#00ff39"/>
<polygon points="407.3,297.6 410.3,299.5 413.5,298.7 410.4,296.8" fill="#000dff"/>
<polygon points="401.2,296.0 404.2,298.3 407.3,297.6 404.3,295.3" fill="#0030ff"/>
<polygon points="373.3,281.6 376.4,285.7 379.5,285.2 376.4,281.1" fill="#00ffb4"/>
<polygon points="395.0,294.1 398.0,296.7 401.2,296.0 398.1,293.4" fill="#005cff"/>
<polygon points="357.4,268.2 360.6,273.3 363.8,272.9 360.6,267.9" fill="#00ff07"/>
<polygon points="388.8,291.7 391.8,294.7 395.0,294.1 392.0,291.1" fill="#0090ff"/>
<polygon points="367.0,277.7 370.1,282.1 373.3,281.6 370.1,277.2" fill="#00ff74"/>
<polygon points="382.6,288.9 385.7,292.3 388.8,291.7 385.8,288.3" fill="#00cdff"/>
<polygon points="351.0,263.1 354.2,268.6 357.4,268.2 354.2,262.8" fill="#46ff00"/>
<polygon points="416.5,300.3 419.5,301.5 422.6,300.6 419.6,299.5" fill="#0000ff"/>
<polygon points="422.6,300.6 425.6,301.4 428.8,300.5 425.7,299.8" fill="#0000f0"/>
<polygon points="410.3,299.5 413.3,301.1 416.5,300.3 413.5,298.7" fill="#0000ff"/>
<polygon points="428.8,300.5 431.8,301.0 434.9,300.1 431.9,299.7" fill="#0000e0"/>
<polygon points="376.4,285.7 379.4,289.5 382.6,288.9 379.5,285.2" fill="#00ffeb"/>
<polygon points="360.6,273.3 363.8,278.1 367.0,277.7 363.8,272.9" fill="#00ff35"/>
<polygon points="404.2,298.3 407.2,300.3 410.3,299.5 407.3,297.6" fill="#0013ff"/>
<polygon points="398.0,296.7 401.0,299.1 404.2,298.3 401.2,296.0" fill="#0036ff"/>
<polygon points="391.8,294.7 394.9,297.5 398.0,296.7 395.0,294.1" fill="#0062ff"/>
<polygon points="370.1,282.1 373.2,286.3 376.4,285.7 373.3,281.6" fill="#00ffae"/>
<polygon points="354.2,268.6 357.4,273.7 360.6,273.3 357.4,268.2" fill="#00ff03"/>
<polygon points="385.7,292.3 388.7,295.4 391.8,294.7 388.8,291.7" fill="#0097ff"/>
<polygon points="363.8,278.1 366.9,282.6 370.1,282.1 367.0,277.7" fill="#00ff6e"/>
<polygon points="379.4,289.5 382.5,293.0 385.7,292.3 382.6,288.9" fill="#00d4ff"/>
<polygon points="413.3,301.1 416.4,302.3 419.5,301.5 416.5,300.3" fill="#0000ff"/>
<polygon points="419.5,301.5 422.5,302.3 425.6,301.4 422.6,300.6" fill="#0000f2"/>
<polygon points="347.8,263.4 351.0,268.9 354.2,268.6 351.0,263.1" fill="#4dff00"/>
<polygon points="407.2,300.3 410.2,301.9 413.3,301.1 410.3,299.5" fill="#0000ff"/>
<polygon points="425.6,301.4 428.7,301.9 431.8,301.0 428.8,300.5" fill="#0000e2"/>
<polygon points="373.2,286.3 376.3,290.1 379.4,289.5 376.4,285.7" fill="#00ffe4"/>
<polygon points="401.0,299.1 404.1,301.1 407.2,300.3 404.2,298.3" fill="#0019ff"/>
<polygon points="431.8,301.0 434.8,301.0 438.0,300.1 434.9,300.1" fill="#0000d1"/>
<polygon points="357.4,273.7 360.6,278.6 363.8,278.1 360.6,273.3" fill="#00ff31"/>
<polygon points="394.9,297.5 397.9,299.8 401.0,299.1 398.0,296.7" fill="#003cff"/>
<polygon points="388.7,295.4 391.7,298.2 394.9,297.5 391.8,294.7" fill="#0068ff"/>
<polygon points="366.9,282.6 370.0,286.8 373.2,286.3 370.1,282.1" fill="#00ffa8"/>
<polygon points="351.0,268.9 354.2,274.1 357.4,273.7 354.2,268.6" fill="#01ff00"/>
<polygon points="382.5,293.0 385.6,296.1 388.7,295.4 385.7,292.3" fill="#009dff"/>
<polygon points="360.6,278.6 363.7,283.1 366.9,282.6 363.8,278.1" fill="#00ff69"/>
<polygon points="376.3,290.1 379.4,293.6 382.5,293.0 379.4,289.5" fill="#00dbff"/>
<polygon points="416.4,302.3 419.4,303.2 422.5,302.3 419.5,301.5" fill="#0000f3"/>
<polygon points="410.2,301.9 413.2,303.2 416.4,302.3 413.3,301.1" fill="#0000ff"/>
<polygon points="344.6,263.8 347.8,269.3 351.0,268.9 347.8,263.4" fill="#54ff00"/>
<polygon points="422.5,302.3 425.5,302.8 428.7,301.9 425.6,301.4" fill="#0000e4"/>
<polygon points="404.1,301.1 407.1,302.7 410.2,301.9 407.2,300.3" fill="#0004ff"/>
<polygon points="370.0,286.8 373.1,290.7 376.3,290.1 373.2,286.3" fill="#00ffdd"/>
<polygon points="428.7,301.9 431.7,302.0 434.8,301.0 431.8,301.0" fill="#0000d3"/>
<polygon points="397.9,299.8 400.9,301.9 404.1,301.1 401.0,299.1" fill="#001eff"/>
<polygon points="354.2,274.1 357.4,279.0 360.6,278.6 357.4,273.7" fill="#00ff2d"/>
<polygon points="434.8,301.0 437.9,300.7 441.0,299.8 438.0,300.1" fill="#000cc1"/>
<polygon points="391.7,298.2 394.8,300.6 397.9,299.8 394.9,297.5" fill="#0042ff"/>
<polygon points="385.6,296.1 388.6,298.9 391.7,298.2 388.7,295.4" fill="#006eff"/>
<polygon points="363.7,283.1 366.9,287.4 370.0,286.8 366.9,282.6" fill="#00ffa3"/>
<polygon points="347.8,269.3 351.1,274.6 354.2,274.1 351.0,268.9" fill="#06ff00"/>
<polygon points="379.4,293.6 382.4,296.8 385.6,296.1 382.5,293.0" fill="#00a4ff"/>
<polygon points="357.4,279.0 360.6,283.6 363.7,283.1 360.6,278.6" fill="#00ff63"/>
<polygon points="373.1,290.7 376.2,294.2 379.4,293.6 376.3,290.1" fill="#00e2ff"/>
<polygon points="413.2,303.2 416.2,304.1 419.4,303.2 416.4,302.3" fill="#0000f5"/>
<polygon points="407.1,302.7 410.1,304.1 413.2,303.2 410.2,301.9" fill="#0000ff"/>
<polygon points="419.4,303.2 422.4,303.7 425.5,302.8 422.5,302.3" fill="#0000e5"/>
<polygon points="341.4,264.1 344.6,269.7 347.8,269.3 344.6,263.8" fill="#61ff00"/>
<polygon points="400.9,301.9 403.9,303.6 407.1,302.7 404.1,301.1" fill="#0009ff"/>
<polygon points="366.9,287.4 370.0,291.3 373.1,290.7 370.0,286.8" fill="#00ffd8"/>
<polygon points="425.5,302.8 428.6,302.9 431.7,302.0 428.7,301.9" fill="#0000d4"/>
<polygon points="394.8,300.6 397.8,302.7 400.9,301.9 397.9,299.8" fill="#0024ff"/>
<polygon points="351.1,274.6 354.2,279.5 357.4,279.0 354.2,274.1" fill="#00ff29"/>
<polygon points="431.7,302.0 434.8,301.7 437.9,300.7 434.8,301.0" fill="#000fc2"/>
<polygon points="388.6,298.9 391.6,301.4 394.8,300.6 391.7,298.2" fill="#0048ff"/>
<polygon points="437.9,300.7 441.0,300.1 444.1,299.1 441.0,299.8" fill="#0023b0"/>
<polygon points="382.4,296.8 385.5,299.6 388.6,298.9 385.6,296.1" fill="#0074ff"/>
<polygon points="360.6,283.6 363.7,287.9 366.9,287.4 363.7,283.1" fill="#00ff9e"/>
<polygon points="344.6,269.7 347.9,275.0 351.1,274.6 347.8,269.3" fill="#0cff00"/>
<polygon points="376.2,294.2 379.3,297.5 382.4,296.8 379.4,293.6" fill="#00aaff"/>
<polygon points="354.2,279.5 357.4,284.2 360.6,283.6 357.4,279.0" fill="#00ff5d"/>
<polygon points="370.0,291.3 373.0,294.9 376.2,294.2 373.1,290.7" fill="#00e8ff"/>
<polygon points="410.1,304.1 413.1,305.0 416.2,304.1 413.2,303.2" fill="#0000f7"/>
<polygon points="403.9,303.6 407.0,304.9 410.1,304.1 407.1,302.7" fill="#0000ff"/>
<polygon points="416.2,304.1 419.3,304.7 422.4,303.7 419.4,303.2" fill="#0000e7"/>
<polygon points="397.8,302.7 400.8,304.4 403.9,303.6 400.9,301.9" fill="#000dff"/>
<polygon points="338.1,264.4 341.4,270.0 344.6,269.7 341.4,264.1" fill="#6eff00"/>
<polygon points="422.4,303.7 425.4,303.9 428.6,302.9 425.5,302.8" fill="#0002d6"/>
<polygon points="363.7,287.9 366.8,291.9 370.0,291.3 366.9,287.4" fill="#00ffd3"/>
<polygon points="391.6,301.4 394.7,303.5 397.8,302.7 394.8,300.6" fill="#0029ff"/>
<polygon points="347.9,275.0 351.1,280.0 354.2,279.5 351.1,274.6" fill="#00ff25"/>
<polygon points="428.6,302.9 431.6,302.7 434.8,301.7 431.7,302.0" fill="#0012c4"/>
<polygon points="385.5,299.6 388.5,302.2 391.6,301.4 388.6,298.9" fill="#004dff"/>
<polygon points="434.8,301.7 437.9,301.1 441.0,300.1 437.9,300.7" fill="#0025b2"/>
<polygon points="379.3,297.5 382.3,300.4 385.5,299.6 382.4,296.8" fill="#007aff"/>
<polygon points="357.4,284.2 360.5,288.5 363.7,287.9 360.6,283.6" fill="#00ff99"/>
<polygon points="441.0,300.1 444.1,299.0 447.2,298.0 444.1,299.1" fill="#003aa0"/>
<polygon points="341.4,270.0 344.7,275.4 347.9,275.0 344.6,269.7" fill="#12ff00"/>
<polygon points="373.0,294.9 376.1,298.2 379.3,297.5 376.2,294.2" fill="#00b0ff"/>
<polygon points="351.1,280.0 354.2,284.7 357.4,284.2 354.2,279.5" fill="#00ff58"/>
<polygon points="366.8,291.9 369.9,295.6 373.0,294.9 370.0,291.3" fill="#00eeff"/>
<polygon points="407.0,304.9 410.0,305.9 413.1,305.0 410.1,304.1" fill="#0000f8"/>
<polygon points="400.8,304.4 403.8,305.8 407.0,304.9 403.9,303.6" fill="#0000ff"/>
<polygon points="413.1,305.0 416.1,305.6 419.3,304.7 416.2,304.1" fill="#0000e8"/>
<polygon points="394.7,303.5 397.7,305.3 400.8,304.4 397.8,302.7" fill="#0012ff"/>
<polygon points="334.9,264.7 338.2,270.4 341.4,270.0 338.1,264.4" fill="#7aff00"/>
<polygon points="419.3,304.7 422.3,304.9 425.4,303.9 422.4,303.7" fill="#0004d8"/>
<polygon points="360.5,288.5 363.6,292.5 366.8,291.9 363.7,287.9" fill="#00ffce"/>
<polygon points="388.5,302.2 391.5,304.3 394.7,303.5 391.6,301.4" fill="#002eff"/>
<polygon points="344.7,275.4 347.9,280.5 351.1,280.0 347.9,275.0" fill="#00ff22"/>
<polygon points="425.4,303.9 428.5,303.7 431.6,302.7 428.6,302.9" fill="#0013c6"/>
<polygon points="382.3,300.4 385.3,302.9 388.5,302.2 385.5,299.6" fill="#0052ff"/>
<polygon points="431.6,302.7 434.7,302.1 437.9,301.1 434.8,301.7" fill="#0027b4"/>
<polygon points="376.1,298.2 379.2,301.1 382.3,300.4 379.3,297.5" fill="#007fff"/>
<polygon points="354.2,284.7 357.4,289.1 360.5,288.5 357.4,284.2" fill="#00ff94"/>
<polygon points="437.9,301.1 440.9,300.0 444.1,299.0 441.0,300.1" fill="#003ca1"/>
<polygon points="369.9,295.6 373.0,298.9 376.1,298.2 373.0,294.9" fill="#00b5ff"/>
<polygon points="338.2,270.4 341.5,275.8 344.7,275.4 341.4,270.0" fill="#18ff00"/>
<polygon points="444.1,299.0 447.2,297.6 450.4,296.6 447.2,298.0" fill="#004f90"/>
<polygon points="347.9,280.5 351.0,285.2 354.2,284.7 351.1,280.0" fill="#00ff53"/>
<polygon points="363.6,292.5 366.7,296.2 369.9,295.6 366.8,291.9" fill="#00f4ff"/>
<polygon points="403.8,305.8 406.8,306.9 410.0,305.9 407.0,304.9" fill="#0000fa"/>
<polygon points="397.7,305.3 400.7,306.7 403.8,305.8 400.8,304.4" fill="#0003ff"/>
<polygon points="410.0,305.9 413.0,306.6 416.1,305.6 413.1,305.0" fill="#0000ea"/>
<polygon points="391.5,304.3 394.5,306.2 397.7,305.3 394.7,303.5" fill="#0016ff"/>
<polygon points="331.7,265.1 335.0,270.8 338.2,270.4 334.9,264.7" fill="#86ff00"/>
<polygon points="416.1,305.6 419.2,305.8 422.3,304.9 419.3,304.7" fill="#0006d9"/>
<polygon points="385.3,302.9 388.4,305.2 391.5,304.3 388.5,302.2" fill="#0032ff"/>
<polygon points="357.4,289.1 360.5,293.2 363.6,292.5 360.5,288.5" fill="#00ffc9"/>
<polygon points="341.5,275.8 344.7,281.0 347.9,280.5 344.7,275.4" fill="#00ff1e"/>
<polygon points="422.3,304.9 425.4,304.7 428.5,303.7 425.4,303.9" fill="#0016c7"/>
<polygon points="379.2,301.1 382.2,303.7 385.3,302.9 382.3,300.4" fill="#0057ff"/>
<polygon points="428.5,303.7 431.6,303.1 434.7,302.1 431.6,302.7" fill="#0029b5"/>
<polygon points="373.0,298.9 376.0,301.9 379.2,301.1 376.1,298.2" fill="#0084ff"/>
<polygon points="351.0,285.2 354.2,289.7 357.4,289.1 354.2,284.7" fill="#00ff8f"/>
<polygon points="434.7,302.1 437.8,301.1 440.9,300.0 437.9,301.1" fill="#003da3"/>
<polygon points="366.7,296.2 369.8,299.6 373.0,298.9 369.9,295.6" fill="#00bbff"/>
<polygon points="335.0,270.8 338.3,276.3 341.5,275.8 338.2,270.4" fill="#1dff00"/>
<polygon points="440.9,300.0 444.1,298.6 447.2,297.6 444.1,299.0" fill="#005191"/>
<polygon points="344.7,281.0 347.9,285.8 351.0,285.2 347.9,280.5" fill="#00ff4e"/>
<polygon points="360.5,293.2 363.6,296.9 366.7,296.2 363.6,292.5" fill="#00faff"/>
<polygon points="400.7,306.7 403.7,307.8 406.8,306.9 403.8,305.8" fill="#0000fb"/>
<polygon points="394.5,306.2 397.6,307.6 400.7,306.7 397.7,305.3" fill="#0007ff"/>
<polygon points="406.8,306.9 409.9,307.5 413.0,306.6 410.0,305.9" fill="#0000ec"/>
<polygon points="388.4,305.2 391.4,307.0 394.5,306.2 391.5,304.3" fill="#001aff"/>
<polygon points="413.0,306.6 416.0,306.8 419.2,305.8 416.1,305.6" fill="#0009db"/>
<polygon points="328.5,265.4 331.8,271.2 335.0,270.8 331.7,265.1" fill="#92ff00"/>
<polygon points="382.2,303.7 385.2,306.0 388.4,305.2 385.3,302.9" fill="#0037ff"/>
<polygon points="354.2,289.7 357.3,293.8 360.5,293.2 357.4,289.1" fill="#00ffc5"/>
<polygon points="419.2,305.8 422.2,305.7 425.4,304.7 422.3,304.9" fill="#0018c9"/>
<polygon points="338.3,276.3 341.5,281.5 344.7,281.0 341.5,275.8" fill="#00ff1b"/>
<polygon points="376.0,301.9 379.1,304.5 382.2,303.7 379.2,301.1" fill="#005cff"/>
<polygon points="425.4,304.7 428.4,304.1 431.6,303.1 428.5,303.7" fill="#002ab7"/>
<polygon points="369.8,299.6 372.9,302.7 376.0,301.9 373.0,298.9" fill="#0089ff"/>
<polygon points="347.9,285.8 351.0,290.3 354.2,289.7 351.0,285.2" fill="#00ff8a"/>
<polygon points="431.6,303.1 434.7,302.1 437.8,301.1 434.7,302.1" fill="#003fa5"/>
<polygon points="363.6,296.9 366.7,300.3 369.8,299.6 366.7,296.2" fill="#00c0ff"/>
<polygon points="331.8,271.2 335.1,276.7 338.3,276.3 335.0,270.8" fill="#23ff00"/>
<polygon points="437.8,301.1 440.9,299.7 444.1,298.6 440.9,300.0" fill="#005393"/>
<polygon points="341.5,281.5 344.7,286.3 347.9,285.8 344.7,281.0" fill="#00ff49"/>
<polygon points="357.3,293.8 360.4,297.6 363.6,296.9 360.5,293.2" fill="#00fffe"/>
<polygon points="397.6,307.6 400.6,308.7 403.7,307.8 400.7,306.7" fill="#0000fd"/>
<polygon points="391.4,307.0 394.4,308.5 397.6,307.6 394.5,306.2" fill="#000bff"/>
<polygon points="403.7,307.8 406.7,308.5 409.9,307.5 406.8,306.9" fill="#0001ed"/>
<polygon points="385.2,306.0 388.3,307.9 391.4,307.0 388.4,305.2" fill="#001eff"/>
<polygon points="409.9,307.5 412.9,307.8 416.0,306.8 413.0,306.6" fill="#000bdd"/>
<polygon points="325.3,265.7 328.6,271.6 331.8,271.2 328.5,265.4" fill="#9eff00"/>
<polygon points="379.1,304.5 382.1,306.8 385.2,306.0 382.2,303.7" fill="#003bff"/>
<polygon points="351.0,290.3 354.2,294.4 357.3,293.8 354.2,289.7" fill="#00ffc1"/>
<polygon points="416.0,306.8 419.1,306.7 422.2,305.7 419.2,305.8" fill="#001acb"/>
<polygon points="335.1,276.7 338.3,282.0 341.5,281.5 338.3,276.3" fill="#00ff17"/>
<polygon points="372.9,302.7 375.9,305.3 379.1,304.5 376.0,301.9" fill="#0060ff"/>
<polygon points="422.2,305.7 425.3,305.2 428.4,304.1 425.4,304.7" fill="#002cb9"/>
<polygon points="366.7,300.3 369.7,303.4 372.9,302.7 369.8,299.6" fill="#008eff"/>
<polygon points="344.7,286.3 347.9,290.9 351.0,290.3 347.9,285.8" fill="#00ff86"/>
<polygon points="428.4,304.1 431.5,303.2 434.7,302.1 431.6,303.1" fill="#0041a6"/>
<polygon points="360.4,297.6 363.5,301.1 366.7,300.3 363.6,296.9" fill="#00c5ff"/>
<polygon points="328.6,271.6 331.9,277.2 335.1,276.7 331.8,271.2" fill="#29ff00"/>
<polygon points="434.7,302.1 437.8,300.8 440.9,299.7 437.8,301.1" fill="#005495"/>
<polygon points="338.3,282.0 341.5,286.9 344.7,286.3 341.5,281.5" fill="#00ff44"/>
<polygon points="354.2,294.4 357.3,298.3 360.4,297.6 357.3,293.8" fill="#00fff9"/>
<polygon points="394.4,308.5 397.4,309.7 400.6,308.7 397.6,307.6" fill="#0003fe"/>
<polygon points="388.3,307.9 391.3,309.4 394.4,308.5 391.4,307.0" fill="#000eff"/>
<polygon points="400.6,308.7 403.6,309.5 406.7,308.5 403.7,307.8" fill="#0004ef"/>
<polygon points="382.1,306.8 385.1,308.8 388.3,307.9 385.2,306.0" fill="#0022ff"/>
<polygon points="406.7,308.5 409.8,308.8 412.9,307.8 409.9,307.5" fill="#000dde"/>
<polygon points="375.9,305.3 379.0,307.7 382.1,306.8 379.1,304.5" fill="#003fff"/>
<polygon points="347.9,290.9 351.0,295.1 354.2,294.4 351.0,290.3" fill="#00ffbd"/>
<polygon points="412.9,307.8 416.0,307.7 419.1,306.7 416.0,306.8" fill="#001bcc"/>
<polygon points="331.9,277.2 335.1,282.5 338.3,282.0 335.1,276.7" fill="#00ff14"/>
<polygon points="369.7,303.4 372.8,306.2 375.9,305.3 372.9,302.7" fill="#0064ff"/>
<polygon points="419.1,306.7 422.2,306.2 425.3,305.2 422.2,305.7" fill="#002eba"/>
<polygon points="363.5,301.1 366.6,304.2 369.7,303.4 366.7,300.3" fill="#0093ff"/>
<polygon points="341.5,286.9 344.7,291.5 347.9,290.9 344.7,286.3" fill="#00ff81"/>
<polygon points="425.3,305.2 428.4,304.2 431.5,303.2 428.4,304.1" fill="#0042a8"/>
<polygon points="357.3,298.3 360.4,301.8 363.5,301.1 360.4,297.6" fill="#00caff"/>
<polygon points="431.5,303.2 434.6,301.8 437.8,300.8 434.7,302.1" fill="#005696"/>
<polygon points="335.1,282.5 338.3,287.4 341.5,286.9 338.3,282.0" fill="#00ff40"/>
<polygon points="351.0,295.1 354.1,299.0 357.3,298.3 354.2,294.4" fill="#00fff4"/>
<polygon points="391.3,309.4 394.3,310.6 397.4,309.7 394.4,308.5" fill="#0006ff"/>
<polygon points="385.1,308.8 388.2,310.4 391.3,309.4 388.3,307.9" fill="#0011ff"/>
<polygon points="397.4,309.7 400.5,310.4 403.6,309.5 400.6,308.7" fill="#0006f0"/>
<polygon points="379.0,307.7 382.0,309.7 385.1,308.8 382.1,306.8" fill="#0025ff"/>
<polygon points="403.6,309.5 406.6,309.8 409.8,308.8 406.7,308.5" fill="#000fe0"/>
<polygon points="372.8,306.2 375.8,308.6 379.0,307.7 375.9,305.3" fill="#0042ff"/>
<polygon points="344.7,291.5 347.8,295.8 351.0,295.1 347.9,290.9" fill="#00ffb9"/>
<polygon points="409.8,308.8 412.8,308.8 416.0,307.7 412.9,307.8" fill="#001dce"/>
<polygon points="366.6,304.2 369.6,307.0 372.8,306.2 369.7,303.4" fill="#0068ff"/>
<polygon points="416.0,307.7 419.0,307.3 422.2,306.2 419.1,306.7" fill="#002fbc"/>
<polygon points="360.4,301.8 363.4,305.0 366.6,304.2 363.5,301.1" fill="#0097ff"/>
<polygon points="338.3,287.4 341.5,292.1 344.7,291.5 341.5,286.9" fill="#00ff7d"/>
<polygon points="422.2,306.2 425.2,305.3 428.4,304.2 425.3,305.2" fill="#0043aa"/>
<polygon points="354.1,299.0 357.2,302.6 360.4,301.8 357.3,298.3" fill="#00cfff"/>
<polygon points="428.4,304.2 431.5,302.9 434.6,301.8 431.5,303.2" fill="#005798"/>
<polygon points="347.8,295.8 351.0,299.7 354.1,299.0 351.0,295.1" fill="#00ffef"/>
<polygon points="388.2,310.4 391.2,311.6 394.3,310.6 391.3,309.4" fill="#0008ff"/>
<polygon points="382.0,309.7 385.0,311.3 388.2,310.4 385.1,308.8" fill="#0014ff"/>
<polygon points="394.3,310.6 397.3,311.4 400.5,310.4 397.4,309.7" fill="#0008f2"/>
<polygon points="375.8,308.6 378.9,310.6 382.0,309.7 379.0,307.7" fill="#0029ff"/>
<polygon points="400.5,310.4 403.5,310.8 406.6,309.8 403.6,309.5" fill="#0011e1"/>
<polygon points="369.6,307.0 372.7,309.4 375.8,308.6 372.8,306.2" fill="#0046ff"/>
<polygon points="406.6,309.8 409.7,309.8 412.8,308.8 409.8,308.8" fill="#001fd0"/>
<polygon points="341.5,292.1 344.7,296.4 347.8,295.8 344.7,291.5" fill="#00ffb5"/>
<polygon points="363.4,305.0 366.5,307.8 369.6,307.0 366.6,304.2" fill="#006cff"/>
<polygon points="412.8,308.8 415.9,308.3 419.0,307.3 416.0,307.7" fill="#0031be"/>
<polygon points="357.2,302.6 360.3,305.8 363.4,305.0 360.4,301.8" fill="#009bff"/>
<polygon points="419.0,307.3 422.1,306.4 425.2,305.3 422.2,306.2" fill="#0045ab"/>
<polygon points="351.0,299.7 354.1,303.3 357.2,302.6 354.1,299.0" fill="#00d3ff"/>
<polygon points="425.2,305.3 428.3,304.0 431.5,302.9 428.4,304.2" fill="#005999"/>
<polygon points="344.7,296.4 347.8,300.4 351.0,299.7 347.8,295.8" fill="#00ffea"/>
<polygon points="385.0,311.3 388.0,312.6 391.2,311.6 388.2,310.4" fill="#000bff"/>
<polygon points="378.9,310.6 381.9,312.3 385.0,311.3 382.0,309.7" fill="#0017ff"/>
<polygon points="391.2,311.6 394.2,312.4 397.3,311.4 394.3,310.6" fill="#000af4"/>
<polygon points="372.7,309.4 375.7,311.5 378.9,310.6 375.8,308.6" fill="#002cff"/>
<polygon points="397.3,311.4 400.4,311.9 403.5,310.8 400.5,310.4" fill="#0012e3"/>
<polygon points="366.5,307.8 369.5,310.3 372.7,309.4 369.6,307.0" fill="#0049ff"/>
<polygon points="403.5,310.8 406.5,310.8 409.7,309.8 406.6,309.8" fill="#0020d2"/>
<polygon points="360.3,305.8 363.3,308.7 366.5,307.8 363.4,305.0" fill="#0070ff"/>
<polygon points="409.7,309.8 412.7,309.4 415.9,308.3 412.8,308.8" fill="#0032bf"/>
<polygon points="354.1,303.3 357.1,306.6 360.3,305.8 357.2,302.6" fill="#009fff"/>
<polygon points="415.9,308.3 418.9,307.5 422.1,306.4 419.0,307.3" fill="#0046ad"/>
<polygon points="347.8,300.4 350.9,304.1 354.1,303.3 351.0,299.7" fill="#00d7ff"/>
<polygon points="422.1,306.4 425.2,305.1 428.3,304.0 425.2,305.3" fill="#005a9b"/>
<polygon points="381.9,312.3 384.9,313.6 388.0,312.6 385.0,311.3" fill="#000dff"/>
<polygon points="375.7,311.5 378.7,313.2 381.9,312.3 378.9,310.6" fill="#0019ff"/>
<polygon points="388.0,312.6 391.1,313.5 394.2,312.4 391.2,311.6" fill="#000cf5"/>
<polygon points="369.5,310.3 372.6,312.4 375.7,311.5 372.7,309.4" fill="#002eff"/>
<polygon points="394.2,312.4 397.2,312.9 400.4,311.9 397.3,311.4" fill="#0013e5"/>
<polygon points="363.3,308.7 366.4,311.2 369.5,310.3 366.5,307.8" fill="#004cff"/>
<polygon points="400.4,311.9 403.4,311.9 406.5,310.8 403.5,310.8" fill="#0021d3"/>
<polygon points="357.1,306.6 360.2,309.5 363.3,308.7 360.3,305.8" fill="#0073ff"/>
<polygon points="406.5,310.8 409.6,310.5 412.7,309.4 409.7,309.8" fill="#0033c1"/>
<polygon points="350.9,304.1 354.0,307.4 357.1,306.6 354.1,303.3" fill="#00a3ff"/>
<polygon points="412.7,309.4 415.8,308.6 418.9,307.5 415.9,308.3" fill="#0047af"/>
<polygon points="418.9,307.5 422.0,306.3 425.2,305.1 422.1,306.4" fill="#005b9d"/>
<polygon points="378.7,313.2 381.8,314.6 384.9,313.6 381.9,312.3" fill="#000fff"/>
<polygon points="372.6,312.4 375.6,314.2 378.7,313.2 375.7,311.5" fill="#001cff"/>
<polygon points="384.9,313.6 387.9,314.5 391.1,313.5 388.0,312.6" fill="#000df7"/>
<polygon points="366.4,311.2 369.4,313.4 372.6,312.4 369.5,310.3" fill="#0031ff"/>
<polygon points="391.1,313.5 394.1,314.0 397.2,312.9 394.2,312.4" fill="#0015e6"/>
<polygon points="360.2,309.5 363.3,312.1 366.4,311.2 363.3,308.7" fill="#004fff"/>
<polygon points="397.2,312.9 400.3,313.0 403.4,311.9 400.4,311.9" fill="#0022d5"/>
<polygon points="354.0,307.4 357.1,310.4 360.2,309.5 357.1,306.6" fill="#0076ff"/>
<polygon points="403.4,311.9 406.4,311.6 409.6,310.5 406.5,310.8" fill="#0034c3"/>
<polygon points="409.6,310.5 412.6,309.7 415.8,308.6 412.7,309.4" fill="#0048b0"/>
<polygon points="415.8,308.6 418.9,307.4 422.0,306.3 418.9,307.5" fill="#005c9e"/>
<polygon points="375.6,314.2 378.6,315.6 381.8,314.6 378.7,313.2" fill="#0011ff"/>
<polygon points="369.4,313.4 372.5,315.1 375.6,314.2 372.6,312.4" fill="#001eff"/>
<polygon points="381.8,314.6 384.8,315.5 387.9,314.5 384.9,313.6" fill="#000ef8"/>
<polygon points="363.3,312.1 366.3,314.3 369.4,313.4 366.4,311.2" fill="#0033ff"/>
<polygon points="387.9,314.5 391.0,315.0 394.1,314.0 391.1,313.5" fill="#0015e8"/>
<polygon points="357.1,310.4 360.1,313.0 363.3,312.1 360.2,309.5" fill="#0052ff"/>
<polygon points="394.1,314.0 397.1,314.1 400.3,313.0 397.2,312.9" fill="#0023d7"/>
<polygon points="400.3,313.0 403.3,312.7 406.4,311.6 403.4,311.9" fill="#0034c4"/>
<polygon points="406.4,311.6 409.5,310.8 412.6,309.7 409.6,310.5" fill="#0049b2"/>
<polygon points="412.6,309.7 415.7,308.5 418.9,307.4 415.8,308.6" fill="#005da0"/>
<polygon points="372.5,315.1 375.5,316.6 378.6,315.6 375.6,314.2" fill="#0012ff"/>
<polygon points="366.3,314.3 369.3,316.1 372.5,315.1 369.4,313.4" fill="#001fff"/>
<polygon points="378.6,315.6 381.7,316.5 384.8,315.5 381.8,314.6" fill="#000ffa"/>
<polygon points="360.1,313.0 363.2,315.2 366.3,314.3 363.3,312.1" fill="#0035ff"/>
<polygon points="384.8,315.5 387.8,316.1 391.0,315.0 387.9,314.5" fill="#0016ea"/>
<polygon points="391.0,315.0 394.0,315.2 397.1,314.1 394.1,314.0" fill="#0024d8"/>
<polygon points="397.1,314.1 400.2,313.8 403.3,312.7 400.3,313.0" fill="#0035c6"/>
<polygon points="403.3,312.7 406.4,311.9 409.5,310.8 406.4,311.6" fill="#0049b4"/>
<polygon points="409.5,310.8 412.6,309.7 415.7,308.5 412.6,309.7" fill="#005ea1"/>
<polygon points="369.3,316.1 372.4,317.6 375.5,316.6 372.5,315.1" fill="#0014ff"/>
<polygon points="375.5,316.6 378.5,317.6 381.7,316.5 378.6,315.6" fill="#0010fb"/>
<polygon points="363.2,315.2 366.2,317.1 369.3,316.1 366.3,314.3" fill="#0021ff"/>
<polygon points="381.7,316.5 384.7,317.2 387.8,316.1 384.8,315.5" fill="#0017eb"/>
<polygon points="387.8,316.1 390.8,316.3 394.0,315.2 391.0,315.0" fill="#0024da"/>
<polygon points="394.0,315.2 397.0,314.9 400.2,313.8 397.1,314.1" fill="#0035c8"/>
<polygon points="400.2,313.8 403.2,313.1 406.4,311.9 403.3,312.7" fill="#0049b5"/>
<polygon points="406.4,311.9 409.4,310.8 412.6,309.7 409.5,310.8" fill="#005ea3"/>
<polygon points="366.2,317.1 369.2,318.6 372.4,317.6 369.3,316.1" fill="#0015ff"/>
<polygon points="372.4,317.6 375.4,318.7 378.5,317.6 375.5,316.6" fill="#0011fd"/>
<polygon points="378.5,317.6 381.5,318.2 384.7,317.2 381.7,316.5" fill="#0017ed"/>
<polygon points="384.7,317.2 387.7,317.4 390.8,316.3 387.8,316.1" fill="#0024dc"/>
<polygon points="390.8,316.3 393.9,316.0 397.0,314.9 394.0,315.2" fill="#0036ca"/>
<polygon points="397.0,314.9 400.1,314.2 403.2,313.1 400.2,313.8" fill="#004ab7"/>
<polygon points="403.2,313.1 406.3,312.0 409.4,310.8 406.4,311.9" fill="#005ea5"/>
<polygon points="369.2,318.6 372.2,319.7 375.4,318.7 372.4,317.6" fill="#0011fe"/>
<polygon points="375.4,318.7 378.4,319.3 381.5,318.2 378.5,317.6" fill="#0017ef"/>
<polygon points="381.5,318.2 384.6,318.5 387.7,317.4 384.7,317.2" fill="#0024dd"/>
<polygon points="387.7,317.4 390.7,317.2 393.9,316.0 390.8,316.3" fill="#0036cb"/>
<polygon points="393.9,316.0 396.9,315.4 400.1,314.2 397.0,314.9" fill="#004ab9"/>
<polygon points="400.1,314.2 403.1,313.2 406.3,312.0 403.2,313.1" fill="#005fa6"/>
<polygon points="372.2,319.7 375.3,320.5 378.4,319.3 375.4,318.7" fill="#0018f0"/>
<polygon points="378.4,319.3 381.4,319.6 384.6,318.5 381.5,318.2" fill="#0024df"/>
<polygon points="384.6,318.5 387.6,318.3 390.7,317.2 387.7,317.4" fill="#0036cd"/>
<polygon points="390.7,317.2 393.8,316.6 396.9,315.4 393.9,316.0" fill="#004aba"/>
<polygon points="396.9,315.4 400.0,314.4 403.1,313.2 400.1,314.2" fill="#005fa8"/>
<polygon points="375.3,320.5 378.3,320.8 381.4,319.6 378.4,319.3" fill="#0024e1"/>
<polygon points="381.4,319.6 384.4,319.5 387.6,318.3 384.6,318.5" fill="#0035cf"/>
<polygon points="387.6,318.3 390.6,317.8 393.8,316.6 390.7,317.2" fill="#004abc"/>
<polygon points="393.8,316.6 396.8,315.6 400.0,314.4 396.9,315.4" fill="#005faa"/>
<polygon points="378.3,320.8 381.3,320.7 384.4,319.5 381.4,319.6" fill="#0035d0"/>
<polygon points="384.4,319.5 387.5,319.0 390.6,317.8 387.6,318.3" fill="#004abe"/>
<polygon points="390.6,317.8 393.7,316.8 396.8,315.6 393.8,316.6" fill="#005fab"/>
<polygon points="381.3,320.7 384.3,320.2 387.5,319.0 384.4,319.5" fill="#0049c0"/>
<polygon points="387.5,319.0 390.5,318.0 393.7,316.8 390.6,317.8" fill="#005ead"/>
<polygon points="384.3,320.2 387.4,319.3 390.5,318.0 387.5,319.0" fill="#005eaf"/>
</g>
<path d="M324.2,242.1L328.0,326.3L387.3,353.3L449.1,327.2" fill="none" stroke="#222" stroke-width="0.7"/>
<path d="M449.1,327.2L452.6,242.1" fill="none" stroke="#555" stroke-width="0.6"/>
<path d="M328.0,326.3l-1.3,1.3" stroke="#222" stroke-width="0.6"/>
<text x="320.2" y="333.6" font-size="7.6" fill="#1c1c1c" stroke="#1c1c1c" stroke-width="0.12" text-anchor="middle" font-weight="normal" textLength="8" lengthAdjust="spacingAndGlyphs">50</text>
<path d="M387.3,353.3l1.3,1.3" stroke="#222" stroke-width="0.6"/>
<text x="392.7" y="361.0" font-size="7.6" fill="#1c1c1c" stroke="#1c1c1c" stroke-width="0.12" text-anchor="middle" font-weight="normal" textLength="3.9" lengthAdjust="spacingAndGlyphs">2</text>
<path d="M342.8,333.1l-1.3,1.3" stroke="#222" stroke-width="0.6"/>
<text x="335.0" y="340.4" font-size="7.6" fill="#1c1c1c" stroke="#1c1c1c" stroke-width="0.12" text-anchor="middle" font-weight="normal" textLength="8" lengthAdjust="spacingAndGlyphs">60</text>
<path d="M402.8,346.8l1.3,1.3" stroke="#222" stroke-width="0.6"/>
<text x="408.2" y="354.5" font-size="7.6" fill="#1c1c1c" stroke="#1c1c1c" stroke-width="0.12" text-anchor="middle" font-weight="normal" textLength="3.9" lengthAdjust="spacingAndGlyphs">3</text>
<path d="M357.7,339.8l-1.3,1.3" stroke="#222" stroke-width="0.6"/>
<text x="349.9" y="347.1" font-size="7.6" fill="#1c1c1c" stroke="#1c1c1c" stroke-width="0.12" text-anchor="middle" font-weight="normal" textLength="8" lengthAdjust="spacingAndGlyphs">70</text>
<path d="M418.2,340.3l1.3,1.3" stroke="#222" stroke-width="0.6"/>
<text x="423.6" y="348.0" font-size="7.6" fill="#1c1c1c" stroke="#1c1c1c" stroke-width="0.12" text-anchor="middle" font-weight="normal" textLength="3.9" lengthAdjust="spacingAndGlyphs">4</text>
<path d="M372.5,346.6l-1.3,1.3" stroke="#222" stroke-width="0.6"/>
<text x="364.7" y="353.9" font-size="7.6" fill="#1c1c1c" stroke="#1c1c1c" stroke-width="0.12" text-anchor="middle" font-weight="normal" textLength="8" lengthAdjust="spacingAndGlyphs">80</text>
<path d="M433.6,333.8l1.3,1.3" stroke="#222" stroke-width="0.6"/>
<text x="439.0" y="341.5" font-size="7.6" fill="#1c1c1c" stroke="#1c1c1c" stroke-width="0.12" text-anchor="middle" font-weight="normal" textLength="3.9" lengthAdjust="spacingAndGlyphs">5</text>
<path d="M387.3,353.3l-1.3,1.3" stroke="#222" stroke-width="0.6"/>
<text x="379.5" y="360.6" font-size="7.6" fill="#1c1c1c" stroke="#1c1c1c" stroke-width="0.12" text-anchor="middle" font-weight="normal" textLength="8" lengthAdjust="spacingAndGlyphs">90</text>
<path d="M449.1,327.2l1.3,1.3" stroke="#222" stroke-width="0.6"/>
<text x="454.5" y="334.9" font-size="7.6" fill="#1c1c1c" stroke="#1c1c1c" stroke-width="0.12" text-anchor="middle" font-weight="normal" textLength="3.9" lengthAdjust="spacingAndGlyphs">6</text>
<path d="M327.1,305.9h-1.4" stroke="#222" stroke-width="0.6"/>
<text x="322.0" y="304.2" font-size="7.6" fill="#1c1c1c" stroke="#1c1c1c" stroke-width="0.12" text-anchor="middle" font-weight="normal" textLength="3.9" lengthAdjust="spacingAndGlyphs">1</text>
<path d="M326.4,290.0h-1.4" stroke="#222" stroke-width="0.6"/>
<text x="321.3" y="288.3" font-size="7.6" fill="#1c1c1c" stroke="#1c1c1c" stroke-width="0.12" text-anchor="middle" font-weight="normal" textLength="3.9" lengthAdjust="spacingAndGlyphs">2</text>
<path d="M325.6,274.0h-1.4" stroke="#222" stroke-width="0.6"/>
<text x="320.5" y="272.3" font-size="7.6" fill="#1c1c1c" stroke="#1c1c1c" stroke-width="0.12" text-anchor="middle" font-weight="normal" textLength="3.9" lengthAdjust="spacingAndGlyphs">3</text>
<path d="M324.9,258.0h-1.4" stroke="#222" stroke-width="0.6"/>
<text x="319.8" y="256.3" font-size="7.6" fill="#1c1c1c" stroke="#1c1c1c" stroke-width="0.12" text-anchor="middle" font-weight="normal" textLength="3.9" lengthAdjust="spacingAndGlyphs">4</text>
<path d="M324.2,242.1h-1.4" stroke="#222" stroke-width="0.6"/>
<text x="319.1" y="240.4" font-size="7.6" fill="#1c1c1c" stroke="#1c1c1c" stroke-width="0.12" text-anchor="middle" font-weight="normal" textLength="3.9" lengthAdjust="spacingAndGlyphs">5</text>
<text x="398.9" y="204.7" font-size="6.1" fill="#1c1c1c" stroke="#1c1c1c" stroke-width="0.12" text-anchor="middle" font-weight="normal" textLength="31.2" lengthAdjust="spacingAndGlyphs">3D Surface</text>
<text transform="translate(309.5,286.4) rotate(-90)" font-size="8.1" fill="#1a1a1a" stroke="#1a1a1a" stroke-width="0.12" text-anchor="middle" textLength="15.2" lengthAdjust="spacingAndGlyphs">TFCs</text>
<text x="308.1" y="355.2" font-size="7.6" fill="#1c1c1c" stroke="#1c1c1c" stroke-width="0.12" text-anchor="start" font-weight="normal" textLength="51.5" lengthAdjust="spacingAndGlyphs">X1: Ethanol (%)</text>
<text x="413.0" y="355.5" font-size="7.8" fill="#1c1c1c" stroke="#1c1c1c" stroke-width="0.12" text-anchor="start" font-weight="normal" textLength="57" lengthAdjust="spacingAndGlyphs">X3: Time (hours)</text>
<circle cx="325.1" cy="262.9" r="1.4" fill="#a00000" stroke="#500" stroke-width="0.4"/>
<circle cx="389.4" cy="258.1" r="1.4" fill="#a00000" stroke="#500" stroke-width="0.4"/>
<circle cx="450.3" cy="296.9" r="1.45" fill="#fff2f2" stroke="#903030" stroke-width="0.55"/>
<circle cx="387.4" cy="319.6" r="1.45" fill="#fff2f2" stroke="#903030" stroke-width="0.55"/>
<circle cx="388.5" cy="300.5" r="1.4" fill="#a00000" stroke="#500" stroke-width="0.4"/>
<text x="77.8" y="197.0" font-size="18.4" fill="#000" stroke="#000" stroke-width="0.3" text-anchor="start" font-weight="normal" textLength="15.2" lengthAdjust="spacingAndGlyphs">C.</text>
<text x="307.9" y="203.3" font-size="18.4" fill="#000" stroke="#000" stroke-width="0.3" text-anchor="start" font-weight="normal" textLength="15.8" lengthAdjust="spacingAndGlyphs">D.</text>
<text x="6.7" y="384.2" font-size="5.8" fill="#1c1c1c" stroke="#1c1c1c" stroke-width="0.12" text-anchor="start" font-weight="normal" >Factor Coding: Actual</text>
<text x="6.7" y="402.7" font-size="5.8" fill="#1c1c1c" stroke="#1c1c1c" stroke-width="0.12" text-anchor="start" font-weight="bold" >TFCs</text>
<circle cx="11.6" cy="409.6" r="2.7" fill="#a80000" stroke="#500" stroke-width="0.6"/>
<text x="18.2" y="411.6" font-size="5.8" fill="#c02828" stroke="#c02828" stroke-width="0.12" text-anchor="start" font-weight="normal" >Design Points</text>
<text x="6.7" y="429.7" font-size="5.8" fill="#2020e0" stroke="#2020e0" stroke-width="0.12" text-anchor="start" font-weight="normal" >1.00217</text>
<rect x="30.3" y="423.9" width="20.6" height="8" fill="url(#lg)" stroke="#223" stroke-width="0.5"/>
<text x="53.3" y="429.7" font-size="5.8" fill="#e82020" stroke="#e82020" stroke-width="0.12" text-anchor="start" font-weight="normal" >4.4998</text>
<text x="6.7" y="438.8" font-size="5.8" fill="#1c1c1c" stroke="#1c1c1c" stroke-width="0.12" text-anchor="start" font-weight="normal" >X1 = B</text>
<text x="6.7" y="447.7" font-size="5.8" fill="#1c1c1c" stroke="#1c1c1c" stroke-width="0.12" text-anchor="start" font-weight="normal" >X2 = C</text>
<text x="6.7" y="466.5" font-size="5.8" fill="#1c1c1c" stroke="#1c1c1c" stroke-width="0.12" text-anchor="start" font-weight="bold" >Actual Factor</text>
<text x="6.7" y="475.1" font-size="5.8" fill="#1c1c1c" stroke="#1c1c1c" stroke-width="0.12" text-anchor="start" font-weight="normal" >A = 70</text>
<g clip-path="url(#cp2)">
<rect x="95.3" y="386.90" width="132.5" height="5.1" fill="url(#g107)"/>
<rect x="95.3" y="390.40" width="132.5" height="5.1" fill="url(#g108)"/>
<rect x="95.3" y="393.90" width="132.5" height="5.1" fill="url(#g109)"/>
<rect x="95.3" y="397.40" width="132.5" height="5.1" fill="url(#g110)"/>
<rect x="95.3" y="400.90" width="132.5" height="5.1" fill="url(#g111)"/>
<rect x="95.3" y="404.40" width="132.5" height="5.1" fill="url(#g112)"/>
<rect x="95.3" y="407.90" width="132.5" height="5.1" fill="url(#g113)"/>
<rect x="95.3" y="411.40" width="132.5" height="5.1" fill="url(#g114)"/>
<rect x="95.3" y="414.90" width="132.5" height="5.1" fill="url(#g115)"/>
<rect x="95.3" y="418.40" width="132.5" height="5.1" fill="url(#g116)"/>
<rect x="95.3" y="421.90" width="132.5" height="5.1" fill="url(#g117)"/>
<rect x="95.3" y="425.40" width="132.5" height="5.1" fill="url(#g118)"/>
<rect x="95.3" y="428.90" width="132.5" height="5.1" fill="url(#g119)"/>
<rect x="95.3" y="432.40" width="132.5" height="5.1" fill="url(#g120)"/>
<rect x="95.3" y="435.90" width="132.5" height="5.1" fill="url(#g121)"/>
<rect x="95.3" y="439.40" width="132.5" height="5.1" fill="url(#g122)"/>
<rect x="95.3" y="442.90" width="132.5" height="5.1" fill="url(#g123)"/>
<rect x="95.3" y="446.40" width="132.5" height="5.1" fill="url(#g124)"/>
<rect x="95.3" y="449.90" width="132.5" height="5.1" fill="url(#g125)"/>
<rect x="95.3" y="453.40" width="132.5" height="5.1" fill="url(#g126)"/>
<rect x="95.3" y="456.90" width="132.5" height="5.1" fill="url(#g127)"/>
<rect x="95.3" y="460.40" width="132.5" height="5.1" fill="url(#g128)"/>
<rect x="95.3" y="463.90" width="132.5" height="5.1" fill="url(#g129)"/>
<rect x="95.3" y="467.40" width="132.5" height="5.1" fill="url(#g130)"/>
<rect x="95.3" y="470.90" width="132.5" height="5.1" fill="url(#g131)"/>
<rect x="95.3" y="474.40" width="132.5" height="5.1" fill="url(#g132)"/>
<rect x="95.3" y="477.90" width="132.5" height="5.1" fill="url(#g133)"/>
<rect x="95.3" y="481.40" width="132.5" height="5.1" fill="url(#g134)"/>
<rect x="95.3" y="484.90" width="132.5" height="5.1" fill="url(#g135)"/>
<rect x="95.3" y="488.40" width="132.5" height="5.1" fill="url(#g136)"/>
<rect x="95.3" y="491.90" width="132.5" height="5.1" fill="url(#g137)"/>
<rect x="95.3" y="495.40" width="132.5" height="5.1" fill="url(#g138)"/>
<rect x="95.3" y="498.90" width="132.5" height="5.1" fill="url(#g139)"/>
<rect x="95.3" y="502.40" width="132.5" height="5.1" fill="url(#g140)"/>
<rect x="95.3" y="505.90" width="132.5" height="5.1" fill="url(#g141)"/>
<rect x="95.3" y="509.40" width="132.5" height="5.1" fill="url(#g142)"/>
<rect x="95.3" y="512.90" width="132.5" height="5.1" fill="url(#g143)"/>
<rect x="95.3" y="516.40" width="132.5" height="5.1" fill="url(#g144)"/>
</g>
<g clip-path="url(#cp2)" fill="none" stroke="#8a2626" stroke-opacity="0.72" stroke-width="0.7">
<polyline points="115.0,519.7 114.8,516.4 114.7,513.1 114.5,509.7 114.3,506.4 114.1,503.1 113.8,499.8 113.6,496.5 113.5,494.8 113.3,491.5 113.0,488.2 112.8,484.8 112.6,481.5 112.3,478.2 112.0,474.9 111.9,472.8 111.6,469.9 111.4,466.6 111.1,463.3 110.8,459.9 110.5,456.6 110.2,453.6 110.0,451.6 109.7,448.3 109.4,445.0 109.1,441.7 108.8,438.4 108.5,436.2 108.3,433.4 107.9,430.1 107.6,426.7 107.2,423.4 106.9,420.1 106.7,418.4 106.4,415.1 106.0,411.8 105.6,408.5 105.2,405.2 105.1,403.5 104.7,400.2 104.3,396.9 103.9,393.5 103.6,390.7 103.3,388.6 103.1,386.9"/>
</g>
<rect x="105.1" y="442.5" width="5.8" height="11" fill="#fff" stroke="#e03a3a" stroke-width="0.55"/>
<text x="108.0" y="451.4" font-size="9.6" fill="#e02020" stroke="#e02020" stroke-width="0.12" text-anchor="middle" font-weight="normal" textLength="4.3" lengthAdjust="spacingAndGlyphs">2</text>
<path d="M95.3,386.9H227.8V519.7" fill="none" stroke="#000" stroke-opacity="0.35" stroke-width="0.5"/>
<path d="M95.3,386.9V519.7H227.8" fill="none" stroke="#333" stroke-width="0.7"/>
<path d="M95.3,519.7v2.2" stroke="#333" stroke-width="0.6"/>
<text x="95.3" y="529.7" font-size="6.1" fill="#1c1c1c" stroke="#1c1c1c" stroke-width="0.12" text-anchor="middle" font-weight="normal" textLength="6.0" lengthAdjust="spacingAndGlyphs">30</text>
<path d="M128.4,519.7v2.2" stroke="#333" stroke-width="0.6"/>
<text x="128.4" y="529.7" font-size="6.1" fill="#1c1c1c" stroke="#1c1c1c" stroke-width="0.12" text-anchor="middle" font-weight="normal" textLength="6.0" lengthAdjust="spacingAndGlyphs">40</text>
<path d="M161.6,519.7v2.2" stroke="#333" stroke-width="0.6"/>
<text x="161.6" y="529.7" font-size="6.1" fill="#1c1c1c" stroke="#1c1c1c" stroke-width="0.12" text-anchor="middle" font-weight="normal" textLength="6.0" lengthAdjust="spacingAndGlyphs">50</text>
<path d="M194.7,519.7v2.2" stroke="#333" stroke-width="0.6"/>
<text x="194.7" y="529.7" font-size="6.1" fill="#1c1c1c" stroke="#1c1c1c" stroke-width="0.12" text-anchor="middle" font-weight="normal" textLength="6.0" lengthAdjust="spacingAndGlyphs">60</text>
<path d="M227.8,519.7v2.2" stroke="#333" stroke-width="0.6"/>
<text x="227.8" y="529.7" font-size="6.1" fill="#1c1c1c" stroke="#1c1c1c" stroke-width="0.12" text-anchor="middle" font-weight="normal" textLength="6.0" lengthAdjust="spacingAndGlyphs">70</text>
<path d="M95.3,519.7h-2.4" stroke="#333" stroke-width="0.6"/>
<text x="90.5" y="521.9" font-size="6.1" fill="#1c1c1c" stroke="#1c1c1c" stroke-width="0.12" text-anchor="end" font-weight="normal" textLength="3.0" lengthAdjust="spacingAndGlyphs">2</text>
<path d="M95.3,486.5h-2.4" stroke="#333" stroke-width="0.6"/>
<text x="90.5" y="488.6" font-size="6.1" fill="#1c1c1c" stroke="#1c1c1c" stroke-width="0.12" text-anchor="end" font-weight="normal" textLength="3.0" lengthAdjust="spacingAndGlyphs">3</text>
<path d="M95.3,453.3h-2.4" stroke="#333" stroke-width="0.6"/>
<text x="90.5" y="455.4" font-size="6.1" fill="#1c1c1c" stroke="#1c1c1c" stroke-width="0.12" text-anchor="end" font-weight="normal" textLength="3.0" lengthAdjust="spacingAndGlyphs">4</text>
<path d="M95.3,420.1h-2.4" stroke="#333" stroke-width="0.6"/>
<text x="90.5" y="422.2" font-size="6.1" fill="#1c1c1c" stroke="#1c1c1c" stroke-width="0.12" text-anchor="end" font-weight="normal" textLength="3.0" lengthAdjust="spacingAndGlyphs">5</text>
<path d="M95.3,386.9h-2.4" stroke="#333" stroke-width="0.6"/>
<text x="90.5" y="389.0" font-size="6.1" fill="#1c1c1c" stroke="#1c1c1c" stroke-width="0.12" text-anchor="end" font-weight="normal" textLength="3.0" lengthAdjust="spacingAndGlyphs">6</text>
<text x="160.6" y="384.1" font-size="5.7" fill="#1c1c1c" stroke="#1c1c1c" stroke-width="0.12" text-anchor="middle" font-weight="normal" textLength="12.1" lengthAdjust="spacingAndGlyphs">TFCs</text>
<text x="161.8" y="539.5" font-size="5.7" fill="#1c1c1c" stroke="#1c1c1c" stroke-width="0.12" text-anchor="middle" font-weight="normal" textLength="39.3" lengthAdjust="spacingAndGlyphs">X2 : Temp (°C)</text>
<text transform="translate(77.6,453.3) rotate(-90)" font-size="5.7" fill="#222" stroke="#222" stroke-width="0.12" text-anchor="middle" textLength="44.2" lengthAdjust="spacingAndGlyphs">X3 : Time (hours)</text>
<circle cx="95.3" cy="386.9" r="1.5" fill="#a00000" stroke="#500" stroke-width="0.4"/>
<circle cx="227.8" cy="386.9" r="1.5" fill="#a00000" stroke="#500" stroke-width="0.4"/>
<circle cx="95.3" cy="519.7" r="1.5" fill="#a00000" stroke="#500" stroke-width="0.4"/>
<circle cx="227.8" cy="519.7" r="1.5" fill="#a00000" stroke="#500" stroke-width="0.4"/>
<circle cx="161.6" cy="453.3" r="1.5" fill="#a00000" stroke="#500" stroke-width="0.4"/>
<text x="159.0" y="456.3" font-size="8.8" fill="#0a0a30" stroke="#0a0a30" stroke-width="0.12" text-anchor="end" font-weight="normal" textLength="4.2" lengthAdjust="spacingAndGlyphs">3</text>
<text x="238.2" y="384.2" font-size="5.8" fill="#1c1c1c" stroke="#1c1c1c" stroke-width="0.12" text-anchor="start" font-weight="normal" >Factor Coding: Actual</text>
<text x="238.2" y="402.7" font-size="5.8" fill="#1c1c1c" stroke="#1c1c1c" stroke-width="0.12" text-anchor="start" font-weight="bold" >TFCs</text>
<text x="238.2" y="412.0" font-size="5.8" fill="#1c1c1c" stroke="#1c1c1c" stroke-width="0.12" text-anchor="start" font-weight="normal" >Design Points:</text>
<circle cx="242.9" cy="418.9" r="2.7" fill="#a80000" stroke="#500" stroke-width="0.6"/>
<text x="250.2" y="420.9" font-size="5.8" fill="#c02828" stroke="#c02828" stroke-width="0.12" text-anchor="start" font-weight="normal" >Above Surface</text>
<circle cx="242.9" cy="427.6" r="2.7" fill="#ffc4c4" stroke="#a44" stroke-width="0.6"/>
<text x="250.2" y="429.6" font-size="5.8" fill="#c02828" stroke="#c02828" stroke-width="0.12" text-anchor="start" font-weight="normal" >Below Surface</text>
<text x="238.2" y="438.9" font-size="5.8" fill="#2020e0" stroke="#2020e0" stroke-width="0.12" text-anchor="start" font-weight="normal" >1.00217</text>
<rect x="261.4" y="433.1" width="20.7" height="7.5" fill="url(#lg)" stroke="#223" stroke-width="0.5"/>
<text x="284.4" y="438.9" font-size="5.8" fill="#e82020" stroke="#e82020" stroke-width="0.12" text-anchor="start" font-weight="normal" >4.4998</text>
<text x="238.2" y="457.4" font-size="5.8" fill="#1c1c1c" stroke="#1c1c1c" stroke-width="0.12" text-anchor="start" font-weight="normal" >X1 = B</text>
<text x="238.2" y="466.5" font-size="5.8" fill="#1c1c1c" stroke="#1c1c1c" stroke-width="0.12" text-anchor="start" font-weight="normal" >X2 = C</text>
<text x="238.2" y="484.1" font-size="5.8" fill="#1c1c1c" stroke="#1c1c1c" stroke-width="0.12" text-anchor="start" font-weight="bold" >Actual Factor</text>
<text x="238.2" y="492.9" font-size="5.8" fill="#1c1c1c" stroke="#1c1c1c" stroke-width="0.12" text-anchor="start" font-weight="normal" >A = 70</text>
<polygon points="325.1,508.9 385.9,536.4 449.3,509.8 388.4,489.2" fill="#e8e8e8"/>
<polyline points="351.4,520.8 353.2,519.9 355.0,519.0 356.8,518.1 357.7,517.7 359.5,516.8 361.2,515.9 362.4,515.3 363.9,514.5 365.7,513.6 367.4,512.7 368.3,512.3 370.0,511.4 371.8,510.5 372.7,510.1 374.4,509.2 376.2,508.3 377.4,507.7 378.8,507.0 380.5,506.1 382.2,505.3 383.1,504.8 384.9,503.9 386.6,503.0 387.5,502.6 389.2,501.7 390.9,500.9 391.8,500.4 393.5,499.6 395.3,498.7 396.1,498.3 397.9,497.4 399.6,496.6 400.7,496.0 402.2,495.3 403.9,494.4 403.9,494.4" fill="none" stroke="#2f81ef" stroke-width="1.1"/>
<polyline points="446.2,508.8 443.7,509.5 441.1,510.2 439.9,510.6 437.4,511.3 434.9,512.0 433.6,512.4 431.1,513.1 428.6,513.9 427.3,514.2 424.8,514.9 422.3,515.6 421.1,516.0 418.5,516.7 416.0,517.4 414.6,517.8 412.3,518.5 409.8,519.2 408.1,519.7 406.0,520.2 403.5,520.9 401.4,521.5 399.8,522.0 397.3,522.7 394.8,523.3 393.6,523.7 391.1,524.4 388.6,525.1 387.4,525.4 384.9,526.1 382.5,526.8 380.8,527.2 378.8,527.8 376.3,528.5 373.9,529.2 372.6,529.5 371.4,529.9" fill="none" stroke="#2f81ef" stroke-width="1.1"/>
<polyline points="340.9,516.0 342.8,515.3 344.8,514.5 346.7,513.7 348.0,513.1 349.6,512.5 351.6,511.7 353.5,510.9 355.4,510.1 357.3,509.3 358.4,508.9 360.2,508.1 362.1,507.3 364.0,506.5 365.9,505.7 367.2,505.1 368.7,504.5 370.6,503.7 372.4,502.9 374.3,502.1 375.2,501.7 377.1,500.9 378.9,500.1 380.8,499.3 382.5,498.6 383.6,498.1 385.4,497.3 387.2,496.5 389.1,495.7 390.0,495.4 391.8,494.6 393.6,493.8 395.5,493.0 396.4,492.6 397.3,492.2" fill="none" stroke="#2fc5ef" stroke-width="1.1"/>
<polyline points="423.8,520.5 421.6,521.2 419.2,522.0 416.8,522.8 414.5,523.6 413.3,524.0 410.9,524.8 408.6,525.5 406.2,526.3 404.4,527.0 402.7,527.5 400.4,528.3 398.1,529.1 395.8,529.9 393.4,530.7 392.3,531.1 390.0,531.8 387.7,532.6 385.4,533.4 383.1,534.2 382.0,534.6" fill="none" stroke="#2fc5ef" stroke-width="1.1"/>
<polyline points="334.1,513.0 336.1,512.2 338.1,511.5 340.1,510.8 342.1,510.0 344.1,509.3 346.0,508.5 348.0,507.8 349.0,507.4 350.9,506.6 352.9,505.9 354.8,505.1 356.8,504.4 358.7,503.6 360.7,502.9 361.6,502.5 363.6,501.7 365.5,501.0 367.4,500.2 369.3,499.5 371.0,498.8 372.2,498.3 374.1,497.6 376.0,496.8 377.9,496.0 379.8,495.3 380.7,494.9 382.6,494.2 384.5,493.4 386.3,492.6 388.2,491.9 389.2,491.5 391.0,490.8 392.0,490.4" fill="none" stroke="#2fefd6" stroke-width="1.1"/>
<path d="M325.1,508.9L321.2,423.1 M388.4,489.2L387.9,411.2 M340.9,504.0L337.9,420.1 M403.6,494.3L404.2,414.2 M356.7,499.0L354.6,417.1 M418.8,499.5L420.4,417.1 M372.5,494.1L371.3,414.2 M434.1,504.6L436.7,420.1 M388.4,489.2L387.9,411.2 M449.3,509.8L452.9,423.1 M324.1,488.1L388.3,470.3L450.2,488.8 M323.4,471.8L388.2,455.5L450.9,472.4 M322.6,455.6L388.1,440.7L451.5,455.9 M321.9,439.3L388.0,426.0L452.2,439.5 M321.2,423.1L387.9,411.2L452.9,423.1 M325.1,508.9L388.4,489.2L449.3,509.8" fill="none" stroke="#333" stroke-width="0.55"/>
<g stroke="#000" stroke-opacity="0.6" stroke-width="0.45" stroke-linejoin="round">
<polygon points="384.9,453.2 388.1,456.5 391.3,455.9 388.2,452.6" fill="#00ffb1"/>
<polygon points="388.1,456.5 391.2,459.6 394.5,459.0 391.3,455.9" fill="#00ffdc"/>
<polygon points="381.7,453.7 384.8,457.0 388.1,456.5 384.9,453.2" fill="#00ffad"/>
<polygon points="391.2,459.6 394.3,462.5 397.6,461.9 394.5,459.0" fill="#00edff"/>
<polygon points="384.8,457.0 388.0,460.2 391.2,459.6 388.1,456.5" fill="#00ffd7"/>
<polygon points="378.4,454.2 381.6,457.6 384.8,457.0 381.7,453.7" fill="#00ffa8"/>
<polygon points="394.3,462.5 397.5,465.3 400.7,464.6 397.6,461.9" fill="#00bdff"/>
<polygon points="388.0,460.2 391.1,463.1 394.3,462.5 391.2,459.6" fill="#00f4ff"/>
<polygon points="381.6,457.6 384.7,460.8 388.0,460.2 384.8,457.0" fill="#00ffd3"/>
<polygon points="375.2,454.8 378.3,458.2 381.6,457.6 378.4,454.2" fill="#00ffa4"/>
<polygon points="397.5,465.3 400.6,467.8 403.8,467.1 400.7,464.6" fill="#0092ff"/>
<polygon points="391.1,463.1 394.2,465.9 397.5,465.3 394.3,462.5" fill="#00c4ff"/>
<polygon points="384.7,460.8 387.9,463.7 391.1,463.1 388.0,460.2" fill="#00faff"/>
<polygon points="378.3,458.2 381.5,461.4 384.7,460.8 381.6,457.6" fill="#00ffce"/>
<polygon points="400.6,467.8 403.7,470.1 406.9,469.5 403.8,467.1" fill="#006dff"/>
<polygon points="371.9,455.3 375.1,458.7 378.3,458.2 375.2,454.8" fill="#00ffa0"/>
<polygon points="394.2,465.9 397.3,468.4 400.6,467.8 397.5,465.3" fill="#0099ff"/>
<polygon points="387.9,463.7 391.0,466.5 394.2,465.9 391.1,463.1" fill="#00caff"/>
<polygon points="381.5,461.4 384.6,464.4 387.9,463.7 384.7,460.8" fill="#00fffe"/>
<polygon points="375.1,458.7 378.3,462.0 381.5,461.4 378.3,458.2" fill="#00ffca"/>
<polygon points="403.7,470.1 406.8,472.3 410.0,471.6 406.9,469.5" fill="#004cff"/>
<polygon points="397.3,468.4 400.5,470.8 403.7,470.1 400.6,467.8" fill="#0073ff"/>
<polygon points="368.7,455.9 371.8,459.3 375.1,458.7 371.9,455.3" fill="#00ff9c"/>
<polygon points="391.0,466.5 394.1,469.1 397.3,468.4 394.2,465.9" fill="#009fff"/>
<polygon points="384.6,464.4 387.8,467.2 391.0,466.5 387.9,463.7" fill="#00d0ff"/>
<polygon points="378.3,462.0 381.4,465.0 384.6,464.4 381.5,461.4" fill="#00fff8"/>
<polygon points="406.8,472.3 409.9,474.2 413.1,473.5 410.0,471.6" fill="#0031ff"/>
<polygon points="371.8,459.3 375.0,462.6 378.3,462.0 375.1,458.7" fill="#00ffc6"/>
<polygon points="400.5,470.8 403.6,472.9 406.8,472.3 403.7,470.1" fill="#0053ff"/>
<polygon points="394.1,469.1 397.2,471.5 400.5,470.8 397.3,468.4" fill="#0079ff"/>
<polygon points="365.4,456.5 368.6,459.9 371.8,459.3 368.7,455.9" fill="#00ff98"/>
<polygon points="387.8,467.2 390.9,469.8 394.1,469.1 391.0,466.5" fill="#00a5ff"/>
<polygon points="381.4,465.0 384.5,467.8 387.8,467.2 384.6,464.4" fill="#00d6ff"/>
<polygon points="375.0,462.6 378.2,465.6 381.4,465.0 378.3,462.0" fill="#00fff2"/>
<polygon points="409.9,474.2 413.0,475.9 416.2,475.2 413.1,473.5" fill="#001aff"/>
<polygon points="403.6,472.9 406.7,474.9 409.9,474.2 406.8,472.3" fill="#0037ff"/>
<polygon points="368.6,459.9 371.8,463.2 375.0,462.6 371.8,459.3" fill="#00ffc2"/>
<polygon points="397.2,471.5 400.3,473.6 403.6,472.9 400.5,470.8" fill="#0059ff"/>
<polygon points="390.9,469.8 394.0,472.2 397.2,471.5 394.1,469.1" fill="#0080ff"/>
<polygon points="362.1,457.1 365.3,460.5 368.6,459.9 365.4,456.5" fill="#00ff94"/>
<polygon points="384.5,467.8 387.7,470.4 390.9,469.8 387.8,467.2" fill="#00abff"/>
<polygon points="378.2,465.6 381.3,468.5 384.5,467.8 381.4,465.0" fill="#00dcff"/>
<polygon points="371.8,463.2 374.9,466.3 378.2,465.6 375.0,462.6" fill="#00ffed"/>
<polygon points="413.0,475.9 416.1,477.4 419.3,476.6 416.2,475.2" fill="#0009ff"/>
<polygon points="406.7,474.9 409.8,476.6 413.0,475.9 409.9,474.2" fill="#0021ff"/>
<polygon points="400.3,473.6 403.4,475.6 406.7,474.9 403.6,472.9" fill="#003eff"/>
<polygon points="365.3,460.5 368.5,463.8 371.8,463.2 368.6,459.9" fill="#00ffbe"/>
<polygon points="394.0,472.2 397.1,474.3 400.3,473.6 397.2,471.5" fill="#005fff"/>
<polygon points="387.7,470.4 390.8,472.8 394.0,472.2 390.9,469.8" fill="#0086ff"/>
<polygon points="358.9,457.6 362.1,461.1 365.3,460.5 362.1,457.1" fill="#00ff90"/>
<polygon points="381.3,468.5 384.4,471.1 387.7,470.4 384.5,467.8" fill="#00b1ff"/>
<polygon points="374.9,466.3 378.1,469.1 381.3,468.5 378.2,465.6" fill="#00e1ff"/>
<polygon points="368.5,463.8 371.7,466.9 374.9,466.3 371.8,463.2" fill="#00ffe8"/>
<polygon points="416.1,477.4 419.2,478.7 422.4,477.9 419.3,476.6" fill="#0000fe"/>
<polygon points="409.8,476.6 412.9,478.1 416.1,477.4 413.0,475.9" fill="#0010ff"/>
<polygon points="403.4,475.6 406.5,477.3 409.8,476.6 406.7,474.9" fill="#0027ff"/>
<polygon points="397.1,474.3 400.2,476.3 403.4,475.6 400.3,473.6" fill="#0044ff"/>
<polygon points="362.1,461.1 365.3,464.4 368.5,463.8 365.3,460.5" fill="#00ffbb"/>
<polygon points="390.8,472.8 393.9,475.1 397.1,474.3 394.0,472.2" fill="#0065ff"/>
<polygon points="384.4,471.1 387.6,473.5 390.8,472.8 387.7,470.4" fill="#008bff"/>
<polygon points="355.6,458.2 358.8,461.8 362.1,461.1 358.9,457.6" fill="#00ff8d"/>
<polygon points="378.1,469.1 381.2,471.8 384.4,471.1 381.3,468.5" fill="#00b6ff"/>
<polygon points="371.7,466.9 374.8,469.8 378.1,469.1 374.9,466.3" fill="#00e6ff"/>
<polygon points="419.2,478.7 422.3,479.7 425.5,478.9 422.4,477.9" fill="#0000f5"/>
<polygon points="365.3,464.4 368.4,467.6 371.7,466.9 368.5,463.8" fill="#00ffe3"/>
<polygon points="412.9,478.1 415.9,479.4 419.2,478.7 416.1,477.4" fill="#0004fe"/>
<polygon points="406.5,477.3 409.6,478.9 412.9,478.1 409.8,476.6" fill="#0016ff"/>
<polygon points="400.2,476.3 403.3,478.1 406.5,477.3 403.4,475.6" fill="#002eff"/>
<polygon points="358.8,461.8 362.0,465.1 365.3,464.4 362.1,461.1" fill="#00ffb7"/>
<polygon points="393.9,475.1 397.0,477.0 400.2,476.3 397.1,474.3" fill="#004aff"/>
<polygon points="387.6,473.5 390.7,475.8 393.9,475.1 390.8,472.8" fill="#006bff"/>
<polygon points="352.4,458.8 355.6,462.4 358.8,461.8 355.6,458.2" fill="#00ff8a"/>
<polygon points="381.2,471.8 384.3,474.2 387.6,473.5 384.4,471.1" fill="#0091ff"/>
<polygon points="374.8,469.8 378.0,472.5 381.2,471.8 378.1,469.1" fill="#00bcff"/>
<polygon points="368.4,467.6 371.6,470.5 374.8,469.8 371.7,466.9" fill="#00ebff"/>
<polygon points="362.0,465.1 365.2,468.2 368.4,467.6 365.3,464.4" fill="#00ffde"/>
<polygon points="422.3,479.7 425.4,480.5 428.6,479.7 425.5,478.9" fill="#0000ec"/>
<polygon points="415.9,479.4 419.0,480.5 422.3,479.7 419.2,478.7" fill="#0000f6"/>
<polygon points="409.6,478.9 412.7,480.2 415.9,479.4 412.9,478.1" fill="#000bff"/>
<polygon points="403.3,478.1 406.4,479.6 409.6,478.9 406.5,477.3" fill="#001dff"/>
<polygon points="397.0,477.0 400.1,478.8 403.3,478.1 400.2,476.3" fill="#0034ff"/>
<polygon points="355.6,462.4 358.8,465.7 362.0,465.1 358.8,461.8" fill="#00ffb4"/>
<polygon points="390.7,475.8 393.8,477.8 397.0,477.0 393.9,475.1" fill="#0050ff"/>
<polygon points="384.3,474.2 387.4,476.5 390.7,475.8 387.6,473.5" fill="#0070ff"/>
<polygon points="349.1,459.4 352.3,463.0 355.6,462.4 352.4,458.8" fill="#00ff86"/>
<polygon points="378.0,472.5 381.1,475.0 384.3,474.2 381.2,471.8" fill="#0096ff"/>
<polygon points="371.6,470.5 374.7,473.2 378.0,472.5 374.8,469.8" fill="#00c1ff"/>
<polygon points="365.2,468.2 368.4,471.2 371.6,470.5 368.4,467.6" fill="#00f0ff"/>
<polygon points="358.8,465.7 362.0,468.9 365.2,468.2 362.0,465.1" fill="#00ffda"/>
<polygon points="419.0,480.5 422.2,481.3 425.4,480.5 422.3,479.7" fill="#0000ec"/>
<polygon points="412.7,480.2 415.8,481.2 419.0,480.5 415.9,479.4" fill="#0004f6"/>
<polygon points="425.4,480.5 428.5,481.1 431.7,480.3 428.6,479.7" fill="#0000e2"/>
<polygon points="406.4,479.6 409.5,480.9 412.7,480.2 409.6,478.9" fill="#0011ff"/>
<polygon points="400.1,478.8 403.2,480.4 406.4,479.6 403.3,478.1" fill="#0023ff"/>
<polygon points="393.8,477.8 396.9,479.6 400.1,478.8 397.0,477.0" fill="#0039ff"/>
<polygon points="352.3,463.0 355.5,466.4 358.8,465.7 355.6,462.4" fill="#00ffb1"/>
<polygon points="387.4,476.5 390.6,478.5 393.8,477.8 390.7,475.8" fill="#0055ff"/>
<polygon points="381.1,475.0 384.2,477.2 387.4,476.5 384.3,474.2" fill="#0076ff"/>
<polygon points="345.9,460.1 349.1,463.7 352.3,463.0 349.1,459.4" fill="#00ff83"/>
<polygon points="374.7,473.2 377.9,475.7 381.1,475.0 378.0,472.5" fill="#009bff"/>
<polygon points="368.4,471.2 371.5,473.9 374.7,473.2 371.6,470.5" fill="#00c5ff"/>
<polygon points="362.0,468.9 365.1,471.8 368.4,471.2 365.2,468.2" fill="#00f5ff"/>
<polygon points="355.5,466.4 358.7,469.6 362.0,468.9 358.8,465.7" fill="#00ffd7"/>
<polygon points="409.5,480.9 412.6,482.0 415.8,481.2 412.7,480.2" fill="#000af7"/>
<polygon points="415.8,481.2 418.9,482.1 422.2,481.3 419.0,480.5" fill="#0004ed"/>
<polygon points="403.2,480.4 406.3,481.7 409.5,480.9 406.4,479.6" fill="#0017ff"/>
<polygon points="422.2,481.3 425.3,481.9 428.5,481.1 425.4,480.5" fill="#0004e2"/>
<polygon points="396.9,479.6 400.0,481.1 403.2,480.4 400.1,478.8" fill="#0029ff"/>
<polygon points="428.5,481.1 431.6,481.5 434.8,480.7 431.7,480.3" fill="#0007d7"/>
<polygon points="390.6,478.5 393.7,480.3 396.9,479.6 393.8,477.8" fill="#003fff"/>
<polygon points="349.1,463.7 352.3,467.1 355.5,466.4 352.3,463.0" fill="#00ffae"/>
<polygon points="384.2,477.2 387.3,479.3 390.6,478.5 387.4,476.5" fill="#005aff"/>
<polygon points="377.9,475.7 381.0,478.0 384.2,477.2 381.1,475.0" fill="#007bff"/>
<polygon points="342.6,460.7 345.8,464.3 349.1,463.7 345.9,460.1" fill="#00ff81"/>
<polygon points="371.5,473.9 374.6,476.4 377.9,475.7 374.7,473.2" fill="#00a0ff"/>
<polygon points="365.1,471.8 368.3,474.6 371.5,473.9 368.4,471.2" fill="#00caff"/>
<polygon points="358.7,469.6 361.9,472.5 365.1,471.8 362.0,468.9" fill="#00f9ff"/>
<polygon points="352.3,467.1 355.5,470.3 358.7,469.6 355.5,466.4" fill="#00ffd4"/>
<polygon points="406.3,481.7 409.4,482.8 412.6,482.0 409.5,480.9" fill="#0010f7"/>
<polygon points="412.6,482.0 415.7,482.9 418.9,482.1 415.8,481.2" fill="#0009ed"/>
<polygon points="400.0,481.1 403.1,482.5 406.3,481.7 403.2,480.4" fill="#001dff"/>
<polygon points="418.9,482.1 422.1,482.7 425.3,481.9 422.2,481.3" fill="#0009e3"/>
<polygon points="393.7,480.3 396.8,481.9 400.0,481.1 396.9,479.6" fill="#002eff"/>
<polygon points="425.3,481.9 428.4,482.3 431.6,481.5 428.5,481.1" fill="#000dd8"/>
<polygon points="387.3,479.3 390.4,481.1 393.7,480.3 390.6,478.5" fill="#0044ff"/>
<polygon points="431.6,481.5 434.7,481.6 437.9,480.8 434.8,480.7" fill="#0014cc"/>
<polygon points="345.8,464.3 349.0,467.7 352.3,467.1 349.1,463.7" fill="#00ffab"/>
<polygon points="381.0,478.0 384.1,480.0 387.3,479.3 384.2,477.2" fill="#005fff"/>
<polygon points="374.6,476.4 377.8,478.7 381.0,478.0 377.9,475.7" fill="#0080ff"/>
<polygon points="339.3,461.3 342.6,465.0 345.8,464.3 342.6,460.7" fill="#00ff7e"/>
<polygon points="368.3,474.6 371.4,477.1 374.6,476.4 371.5,473.9" fill="#00a5ff"/>
<polygon points="361.9,472.5 365.0,475.3 368.3,474.6 365.1,471.8" fill="#00ceff"/>
<polygon points="355.5,470.3 358.6,473.2 361.9,472.5 358.7,469.6" fill="#00fdff"/>
<polygon points="349.0,467.7 352.2,470.9 355.5,470.3 352.3,467.1" fill="#00ffd1"/>
<polygon points="403.1,482.5 406.2,483.6 409.4,482.8 406.3,481.7" fill="#0015f8"/>
<polygon points="409.4,482.8 412.5,483.7 415.7,482.9 412.6,482.0" fill="#000fee"/>
<polygon points="396.8,481.9 399.9,483.3 403.1,482.5 400.0,481.1" fill="#0022ff"/>
<polygon points="415.7,482.9 418.8,483.5 422.1,482.7 418.9,482.1" fill="#000fe3"/>
<polygon points="390.4,481.1 393.6,482.7 396.8,481.9 393.7,480.3" fill="#0033ff"/>
<polygon points="422.1,482.7 425.2,483.1 428.4,482.3 425.3,481.9" fill="#0013d8"/>
<polygon points="384.1,480.0 387.2,481.9 390.4,481.1 387.3,479.3" fill="#0049ff"/>
<polygon points="428.4,482.3 431.5,482.4 434.7,481.6 431.6,481.5" fill="#001acd"/>
<polygon points="342.6,465.0 345.8,468.4 349.0,467.7 345.8,464.3" fill="#00ffa8"/>
<polygon points="377.8,478.7 380.9,480.8 384.1,480.0 381.0,478.0" fill="#0064ff"/>
<polygon points="434.7,481.6 437.9,481.5 441.1,480.7 437.9,480.8" fill="#0024c1"/>
<polygon points="371.4,477.1 374.5,479.4 377.8,478.7 374.6,476.4" fill="#0084ff"/>
<polygon points="336.1,461.9 339.3,465.6 342.6,465.0 339.3,461.3" fill="#00ff7c"/>
<polygon points="365.0,475.3 368.2,477.9 371.4,477.1 368.3,474.6" fill="#00a9ff"/>
<polygon points="358.6,473.2 361.8,476.0 365.0,475.3 361.9,472.5" fill="#00d3ff"/>
<polygon points="352.2,470.9 355.4,474.0 358.6,473.2 355.5,470.3" fill="#00fffd"/>
<polygon points="345.8,468.4 349.0,471.6 352.2,470.9 349.0,467.7" fill="#00ffcf"/>
<polygon points="399.9,483.3 403.0,484.4 406.2,483.6 403.1,482.5" fill="#001bf9"/>
<polygon points="406.2,483.6 409.3,484.5 412.5,483.7 409.4,482.8" fill="#0015ef"/>
<polygon points="393.6,482.7 396.7,484.1 399.9,483.3 396.8,481.9" fill="#0028ff"/>
<polygon points="412.5,483.7 415.6,484.3 418.8,483.5 415.7,482.9" fill="#0015e4"/>
<polygon points="387.2,481.9 390.3,483.5 393.6,482.7 390.4,481.1" fill="#0039ff"/>
<polygon points="418.8,483.5 422.0,483.9 425.2,483.1 422.1,482.7" fill="#0018d9"/>
<polygon points="380.9,480.8 384.0,482.6 387.2,481.9 384.1,480.0" fill="#004eff"/>
<polygon points="425.2,483.1 428.3,483.2 431.5,482.4 428.4,482.3" fill="#001fce"/>
<polygon points="339.3,465.6 342.5,469.1 345.8,468.4 342.6,465.0" fill="#00ffa6"/>
<polygon points="374.5,479.4 377.7,481.5 380.9,480.8 377.8,478.7" fill="#0069ff"/>
<polygon points="431.5,482.4 434.7,482.3 437.9,481.5 434.7,481.6" fill="#0029c2"/>
<polygon points="368.2,477.9 371.3,480.2 374.5,479.4 371.4,477.1" fill="#0089ff"/>
<polygon points="437.9,481.5 441.0,481.1 444.2,480.3 441.1,480.7" fill="#0035b6"/>
<polygon points="332.8,462.6 336.1,466.3 339.3,465.6 336.1,461.9" fill="#00ff79"/>
<polygon points="361.8,476.0 365.0,478.6 368.2,477.9 365.0,475.3" fill="#00adff"/>
<polygon points="355.4,474.0 358.6,476.8 361.8,476.0 358.6,473.2" fill="#00d7ff"/>
<polygon points="349.0,471.6 352.2,474.7 355.4,474.0 352.2,470.9" fill="#00fff9"/>
<polygon points="342.5,469.1 345.7,472.4 349.0,471.6 345.8,468.4" fill="#00ffcc"/>
<polygon points="396.7,484.1 399.8,485.2 403.0,484.4 399.9,483.3" fill="#0020f9"/>
<polygon points="403.0,484.4 406.1,485.3 409.3,484.5 406.2,483.6" fill="#001aef"/>
<polygon points="390.3,483.5 393.4,484.9 396.7,484.1 393.6,482.7" fill="#002dff"/>
<polygon points="409.3,484.5 412.4,485.1 415.6,484.3 412.5,483.7" fill="#001ae5"/>
<polygon points="384.0,482.6 387.1,484.3 390.3,483.5 387.2,481.9" fill="#003eff"/>
<polygon points="415.6,484.3 418.7,484.7 422.0,483.9 418.8,483.5" fill="#001dd9"/>
<polygon points="377.7,481.5 380.8,483.4 384.0,482.6 380.9,480.8" fill="#0053ff"/>
<polygon points="422.0,483.9 425.1,484.0 428.3,483.2 425.2,483.1" fill="#0024ce"/>
<polygon points="336.1,466.3 339.3,469.8 342.5,469.1 339.3,465.6" fill="#00ffa3"/>
<polygon points="371.3,480.2 374.4,482.3 377.7,481.5 374.5,479.4" fill="#006eff"/>
<polygon points="428.3,483.2 431.4,483.1 434.7,482.3 431.5,482.4" fill="#002ec2"/>
<polygon points="365.0,478.6 368.1,481.0 371.3,480.2 368.2,477.9" fill="#008dff"/>
<polygon points="434.7,482.3 437.8,481.9 441.0,481.1 437.9,481.5" fill="#003ab7"/>
<polygon points="329.6,463.3 332.8,467.0 336.1,466.3 332.8,462.6" fill="#00ff77"/>
<polygon points="358.6,476.8 361.7,479.4 365.0,478.6 361.8,476.0" fill="#00b1ff"/>
<polygon points="441.0,481.1 444.2,480.5 447.4,479.7 444.2,480.3" fill="#0047ab"/>
<polygon points="352.2,474.7 355.3,477.5 358.6,476.8 355.4,474.0" fill="#00daff"/>
<polygon points="345.7,472.4 348.9,475.4 352.2,474.7 349.0,471.6" fill="#00fff6"/>
<polygon points="339.3,469.8 342.5,473.1 345.7,472.4 342.5,469.1" fill="#00ffca"/>
<polygon points="393.4,484.9 396.5,486.0 399.8,485.2 396.7,484.1" fill="#0026fa"/>
<polygon points="399.8,485.2 402.9,486.1 406.1,485.3 403.0,484.4" fill="#001ff0"/>
<polygon points="387.1,484.3 390.2,485.7 393.4,484.9 390.3,483.5" fill="#0032ff"/>
<polygon points="406.1,485.3 409.2,485.9 412.4,485.1 409.3,484.5" fill="#001fe5"/>
<polygon points="380.8,483.4 383.9,485.1 387.1,484.3 384.0,482.6" fill="#0042ff"/>
<polygon points="412.4,485.1 415.5,485.5 418.7,484.7 415.6,484.3" fill="#0022da"/>
<polygon points="374.4,482.3 377.6,484.2 380.8,483.4 377.7,481.5" fill="#0058ff"/>
<polygon points="332.8,467.0 336.0,470.5 339.3,469.8 336.1,466.3" fill="#00ffa1"/>
<polygon points="418.7,484.7 421.9,484.8 425.1,484.0 422.0,483.9" fill="#0029cf"/>
<polygon points="368.1,481.0 371.2,483.1 374.4,482.3 371.3,480.2" fill="#0072ff"/>
<polygon points="425.1,484.0 428.2,483.9 431.4,483.1 428.3,483.2" fill="#0033c3"/>
<polygon points="361.7,479.4 364.9,481.7 368.1,481.0 365.0,478.6" fill="#0091ff"/>
<polygon points="431.4,483.1 434.6,482.7 437.8,481.9 434.7,482.3" fill="#003eb7"/>
<polygon points="326.3,463.9 329.6,467.7 332.8,467.0 329.6,463.3" fill="#00ff75"/>
<polygon points="355.3,477.5 358.5,480.1 361.7,479.4 358.6,476.8" fill="#00b5ff"/>
<polygon points="437.8,481.9 441.0,481.3 444.2,480.5 441.0,481.1" fill="#004cab"/>
<polygon points="348.9,475.4 352.1,478.3 355.3,477.5 352.2,474.7" fill="#00deff"/>
<polygon points="444.2,480.5 447.4,479.6 450.6,478.8 447.4,479.7" fill="#005a9f"/>
<polygon points="342.5,473.1 345.7,476.2 348.9,475.4 345.7,472.4" fill="#00fff2"/>
<polygon points="336.0,470.5 339.3,473.8 342.5,473.1 339.3,469.8" fill="#00ffc8"/>
<polygon points="390.2,485.7 393.3,486.8 396.5,486.0 393.4,484.9" fill="#002afa"/>
<polygon points="396.5,486.0 399.7,486.9 402.9,486.1 399.8,485.2" fill="#0025f0"/>
<polygon points="383.9,485.1 387.0,486.5 390.2,485.7 387.1,484.3" fill="#0037ff"/>
<polygon points="402.9,486.1 406.0,486.8 409.2,485.9 406.1,485.3" fill="#0024e6"/>
<polygon points="377.6,484.2 380.7,485.9 383.9,485.1 380.8,483.4" fill="#0047ff"/>
<polygon points="409.2,485.9 412.3,486.4 415.5,485.5 412.4,485.1" fill="#0027db"/>
<polygon points="371.2,483.1 374.3,485.0 377.6,484.2 374.4,482.3" fill="#005cff"/>
<polygon points="329.6,467.7 332.8,471.2 336.0,470.5 332.8,467.0" fill="#00ff9f"/>
<polygon points="415.5,485.5 418.7,485.7 421.9,484.8 418.7,484.7" fill="#002ecf"/>
<polygon points="364.9,481.7 368.0,483.9 371.2,483.1 368.1,481.0" fill="#0076ff"/>
<polygon points="421.9,484.8 425.0,484.7 428.2,483.9 425.1,484.0" fill="#0038c3"/>
<polygon points="358.5,480.1 361.6,482.5 364.9,481.7 361.7,479.4" fill="#0095ff"/>
<polygon points="428.2,483.9 431.4,483.6 434.6,482.7 431.4,483.1" fill="#0044b8"/>
<polygon points="323.0,464.6 326.3,468.4 329.6,467.7 326.3,463.9" fill="#00ff73"/>
<polygon points="352.1,478.3 355.3,480.9 358.5,480.1 355.3,477.5" fill="#00b8ff"/>
<polygon points="434.6,482.7 437.8,482.1 441.0,481.3 437.8,481.9" fill="#0051ac"/>
<polygon points="345.7,476.2 348.9,479.0 352.1,478.3 348.9,475.4" fill="#00e1ff"/>
<polygon points="441.0,481.3 444.2,480.4 447.4,479.6 444.2,480.5" fill="#005ea0"/>
<polygon points="339.3,473.8 342.4,476.9 345.7,476.2 342.5,473.1" fill="#00ffef"/>
<polygon points="332.8,471.2 336.0,474.5 339.3,473.8 336.0,470.5" fill="#00ffc6"/>
<polygon points="387.0,486.5 390.1,487.7 393.3,486.8 390.2,485.7" fill="#002ffb"/>
<polygon points="393.3,486.8 396.4,487.8 399.7,486.9 396.5,486.0" fill="#002af1"/>
<polygon points="380.7,485.9 383.8,487.3 387.0,486.5 383.9,485.1" fill="#003bff"/>
<polygon points="399.7,486.9 402.8,487.6 406.0,486.8 402.9,486.1" fill="#0029e6"/>
<polygon points="374.3,485.0 377.4,486.7 380.7,485.9 377.6,484.2" fill="#004bff"/>
<polygon points="406.0,486.8 409.1,487.2 412.3,486.4 409.2,485.9" fill="#002cdb"/>
<polygon points="368.0,483.9 371.1,485.8 374.3,485.0 371.2,483.1" fill="#0060ff"/>
<polygon points="326.3,468.4 329.5,471.9 332.8,471.2 329.6,467.7" fill="#00ff9d"/>
<polygon points="412.3,486.4 415.4,486.5 418.7,485.7 415.5,485.5" fill="#0033d0"/>
<polygon points="361.6,482.5 364.8,484.7 368.0,483.9 364.9,481.7" fill="#007aff"/>
<polygon points="418.7,485.7 421.8,485.6 425.0,484.7 421.9,484.8" fill="#003dc4"/>
<polygon points="355.3,480.9 358.4,483.3 361.6,482.5 358.5,480.1" fill="#0098ff"/>
<polygon points="425.0,484.7 428.2,484.4 431.4,483.6 428.2,483.9" fill="#0048b8"/>
<polygon points="348.9,479.0 352.0,481.7 355.3,480.9 352.1,478.3" fill="#00bcff"/>
<polygon points="431.4,483.6 434.5,482.9 437.8,482.1 434.6,482.7" fill="#0055ac"/>
<polygon points="342.4,476.9 345.6,479.8 348.9,479.0 345.7,476.2" fill="#00e4ff"/>
<polygon points="437.8,482.1 440.9,481.2 444.2,480.4 441.0,481.3" fill="#0063a0"/>
<polygon points="336.0,474.5 339.2,477.7 342.4,476.9 339.3,473.8" fill="#00ffec"/>
<polygon points="329.5,471.9 332.8,475.3 336.0,474.5 332.8,471.2" fill="#00ffc4"/>
<polygon points="383.8,487.3 386.9,488.5 390.1,487.7 387.0,486.5" fill="#0034fb"/>
<polygon points="390.1,487.7 393.2,488.6 396.4,487.8 393.3,486.8" fill="#002df1"/>
<polygon points="377.4,486.7 380.6,488.1 383.8,487.3 380.7,485.9" fill="#0040ff"/>
<polygon points="396.4,487.8 399.5,488.5 402.8,487.6 399.7,486.9" fill="#002de7"/>
<polygon points="371.1,485.8 374.2,487.5 377.4,486.7 374.3,485.0" fill="#004fff"/>
<polygon points="402.8,487.6 405.9,488.0 409.1,487.2 406.0,486.8" fill="#0031dc"/>
<polygon points="364.8,484.7 367.9,486.6 371.1,485.8 368.0,483.9" fill="#0064ff"/>
<polygon points="409.1,487.2 412.2,487.4 415.4,486.5 412.3,486.4" fill="#0038d0"/>
<polygon points="358.4,483.3 361.5,485.5 364.8,484.7 361.6,482.5" fill="#007dff"/>
<polygon points="415.4,486.5 418.6,486.4 421.8,485.6 418.7,485.7" fill="#0041c4"/>
<polygon points="352.0,481.7 355.2,484.1 358.4,483.3 355.3,480.9" fill="#009cff"/>
<polygon points="421.8,485.6 424.9,485.2 428.2,484.4 425.0,484.7" fill="#004db9"/>
<polygon points="345.6,479.8 348.8,482.5 352.0,481.7 348.9,479.0" fill="#00bfff"/>
<polygon points="428.2,484.4 431.3,483.8 434.5,482.9 431.4,483.6" fill="#0059ad"/>
<polygon points="339.2,477.7 342.4,480.6 345.6,479.8 342.4,476.9" fill="#00e7ff"/>
<polygon points="434.5,482.9 437.7,482.1 440.9,481.2 437.8,482.1" fill="#0067a1"/>
<polygon points="332.8,475.3 336.0,478.4 339.2,477.7 336.0,474.5" fill="#00ffea"/>
<polygon points="380.6,488.1 383.7,489.4 386.9,488.5 383.8,487.3" fill="#0038fc"/>
<polygon points="386.9,488.5 390.0,489.5 393.2,488.6 390.1,487.7" fill="#0032f2"/>
<polygon points="374.2,487.5 377.3,489.0 380.6,488.1 377.4,486.7" fill="#0044ff"/>
<polygon points="393.2,488.6 396.3,489.3 399.5,488.5 396.4,487.8" fill="#0032e7"/>
<polygon points="367.9,486.6 371.0,488.4 374.2,487.5 371.1,485.8" fill="#0053ff"/>
<polygon points="399.5,488.5 402.7,488.9 405.9,488.0 402.8,487.6" fill="#0036dc"/>
<polygon points="361.5,485.5 364.7,487.5 367.9,486.6 364.8,484.7" fill="#0067ff"/>
<polygon points="405.9,488.0 409.0,488.2 412.2,487.4 409.1,487.2" fill="#003dd1"/>
<polygon points="355.2,484.1 358.3,486.3 361.5,485.5 358.4,483.3" fill="#0081ff"/>
<polygon points="412.2,487.4 415.3,487.3 418.6,486.4 415.4,486.5" fill="#0046c5"/>
<polygon points="348.8,482.5 351.9,484.9 355.2,484.1 352.0,481.7" fill="#009fff"/>
<polygon points="418.6,486.4 421.7,486.1 424.9,485.2 421.8,485.6" fill="#0051b9"/>
<polygon points="342.4,480.6 345.6,483.3 348.8,482.5 345.6,479.8" fill="#00c2ff"/>
<polygon points="424.9,485.2 428.1,484.6 431.3,483.8 428.2,484.4" fill="#005ead"/>
<polygon points="336.0,478.4 339.2,481.4 342.4,480.6 339.2,477.7" fill="#00eaff"/>
<polygon points="431.3,483.8 434.5,482.9 437.7,482.1 434.5,482.9" fill="#006ca1"/>
<polygon points="377.3,489.0 380.4,490.2 383.7,489.4 380.6,488.1" fill="#003cfc"/>
<polygon points="371.0,488.4 374.1,489.8 377.3,489.0 374.2,487.5" fill="#0047ff"/>
<polygon points="383.7,489.4 386.8,490.3 390.0,489.5 386.9,488.5" fill="#0036f2"/>
<polygon points="364.7,487.5 367.8,489.2 371.0,488.4 367.9,486.6" fill="#0057ff"/>
<polygon points="390.0,489.5 393.1,490.2 396.3,489.3 393.2,488.6" fill="#0036e8"/>
<polygon points="358.3,486.3 361.4,488.3 364.7,487.5 361.5,485.5" fill="#006bff"/>
<polygon points="396.3,489.3 399.4,489.8 402.7,488.9 399.5,488.5" fill="#003add"/>
<polygon points="351.9,484.9 355.1,487.2 358.3,486.3 355.2,484.1" fill="#0084ff"/>
<polygon points="402.7,488.9 405.8,489.1 409.0,488.2 405.9,488.0" fill="#0041d1"/>
<polygon points="345.6,483.3 348.7,485.7 351.9,484.9 348.8,482.5" fill="#00a2ff"/>
<polygon points="409.0,488.2 412.1,488.1 415.3,487.3 412.2,487.4" fill="#004ac5"/>
<polygon points="339.2,481.4 342.3,484.1 345.6,483.3 342.4,480.6" fill="#00c4ff"/>
<polygon points="415.3,487.3 418.5,486.9 421.7,486.1 418.6,486.4" fill="#0055ba"/>
<polygon points="421.7,486.1 424.9,485.5 428.1,484.6 424.9,485.2" fill="#0062ae"/>
<polygon points="428.1,484.6 431.3,483.8 434.5,482.9 431.3,483.8" fill="#0070a2"/>
<polygon points="374.1,489.8 377.2,491.1 380.4,490.2 377.3,489.0" fill="#0040fd"/>
<polygon points="367.8,489.2 370.9,490.7 374.1,489.8 371.0,488.4" fill="#004bff"/>
<polygon points="380.4,490.2 383.6,491.2 386.8,490.3 383.7,489.4" fill="#003af3"/>
<polygon points="361.4,488.3 364.6,490.0 367.8,489.2 364.7,487.5" fill="#005aff"/>
<polygon points="386.8,490.3 389.9,491.0 393.1,490.2 390.0,489.5" fill="#003ae8"/>
<polygon points="355.1,487.2 358.2,489.1 361.4,488.3 358.3,486.3" fill="#006eff"/>
<polygon points="393.1,490.2 396.2,490.6 399.4,489.8 396.3,489.3" fill="#003edd"/>
<polygon points="348.7,485.7 351.8,488.0 355.1,487.2 351.9,484.9" fill="#0087ff"/>
<polygon points="399.4,489.8 402.6,489.9 405.8,489.1 402.7,488.9" fill="#0044d2"/>
<polygon points="342.3,484.1 345.5,486.6 348.7,485.7 345.6,483.3" fill="#00a4ff"/>
<polygon points="405.8,489.1 408.9,489.0 412.1,488.1 409.0,488.2" fill="#004ec6"/>
<polygon points="412.1,488.1 415.3,487.8 418.5,486.9 415.3,487.3" fill="#005aba"/>
<polygon points="418.5,486.9 421.6,486.3 424.9,485.5 421.7,486.1" fill="#0066ae"/>
<polygon points="424.9,485.5 428.0,484.6 431.3,483.8 428.1,484.6" fill="#0074a2"/>
<polygon points="370.9,490.7 374.0,491.9 377.2,491.1 374.1,489.8" fill="#0045fd"/>
<polygon points="364.6,490.0 367.7,491.6 370.9,490.7 367.8,489.2" fill="#004fff"/>
<polygon points="377.2,491.1 380.3,492.1 383.6,491.2 380.4,490.2" fill="#003ef3"/>
<polygon points="358.2,489.1 361.3,490.9 364.6,490.0 361.4,488.3" fill="#005dff"/>
<polygon points="383.6,491.2 386.7,491.9 389.9,491.0 386.8,490.3" fill="#003ee9"/>
<polygon points="351.8,488.0 355.0,490.0 358.2,489.1 355.1,487.2" fill="#0071ff"/>
<polygon points="389.9,491.0 393.0,491.5 396.2,490.6 393.1,490.2" fill="#0042de"/>
<polygon points="345.5,486.6 348.6,488.8 351.8,488.0 348.7,485.7" fill="#0089ff"/>
<polygon points="396.2,490.6 399.3,490.8 402.6,489.9 399.4,489.8" fill="#0049d2"/>
<polygon points="402.6,489.9 405.7,489.9 408.9,489.0 405.8,489.1" fill="#0053c7"/>
<polygon points="408.9,489.0 412.0,488.7 415.3,487.8 412.1,488.1" fill="#005ebb"/>
<polygon points="415.3,487.8 418.4,487.2 421.6,486.3 418.5,486.9" fill="#006aaf"/>
<polygon points="421.6,486.3 424.8,485.5 428.0,484.6 424.9,485.5" fill="#0077a3"/>
<polygon points="367.7,491.6 370.8,492.8 374.0,491.9 370.9,490.7" fill="#0048fe"/>
<polygon points="361.3,490.9 364.4,492.4 367.7,491.6 364.6,490.0" fill="#0052ff"/>
<polygon points="374.0,491.9 377.1,492.9 380.3,492.1 377.2,491.1" fill="#0042f4"/>
<polygon points="355.0,490.0 358.1,491.8 361.3,490.9 358.2,489.1" fill="#0060ff"/>
<polygon points="380.3,492.1 383.4,492.8 386.7,491.9 383.6,491.2" fill="#0042e9"/>
<polygon points="348.6,488.8 351.7,490.9 355.0,490.0 351.8,488.0" fill="#0074ff"/>
<polygon points="386.7,491.9 389.8,492.4 393.0,491.5 389.9,491.0" fill="#0046de"/>
<polygon points="393.0,491.5 396.1,491.7 399.3,490.8 396.2,490.6" fill="#004dd3"/>
<polygon points="399.3,490.8 402.5,490.8 405.7,489.9 402.6,489.9" fill="#0056c7"/>
<polygon points="405.7,489.9 408.8,489.6 412.0,488.7 408.9,489.0" fill="#0062bb"/>
<polygon points="412.0,488.7 415.2,488.1 418.4,487.2 415.3,487.8" fill="#006eaf"/>
<polygon points="418.4,487.2 421.6,486.4 424.8,485.5 421.6,486.3" fill="#007ca3"/>
<polygon points="364.4,492.4 367.5,493.7 370.8,492.8 367.7,491.6" fill="#004cff"/>
<polygon points="358.1,491.8 361.2,493.3 364.4,492.4 361.3,490.9" fill="#0055ff"/>
<polygon points="370.8,492.8 373.9,493.8 377.1,492.9 374.0,491.9" fill="#0046f5"/>
<polygon points="351.7,490.9 354.9,492.7 358.1,491.8 355.0,490.0" fill="#0063ff"/>
<polygon points="377.1,492.9 380.2,493.7 383.4,492.8 380.3,492.1" fill="#0046ea"/>
<polygon points="383.4,492.8 386.5,493.3 389.8,492.4 386.7,491.9" fill="#0049df"/>
<polygon points="389.8,492.4 392.9,492.6 396.1,491.7 393.0,491.5" fill="#0050d3"/>
<polygon points="396.1,491.7 399.2,491.7 402.5,490.8 399.3,490.8" fill="#005ac8"/>
<polygon points="402.5,490.8 405.6,490.5 408.8,489.6 405.7,489.9" fill="#0065bc"/>
<polygon points="408.8,489.6 412.0,489.0 415.2,488.1 412.0,488.7" fill="#0072b0"/>
<polygon points="415.2,488.1 418.3,487.2 421.6,486.4 418.4,487.2" fill="#007fa4"/>
<polygon points="361.2,493.3 364.3,494.6 367.5,493.7 364.4,492.4" fill="#004fff"/>
<polygon points="354.9,492.7 358.0,494.2 361.2,493.3 358.1,491.8" fill="#0058ff"/>
<polygon points="367.5,493.7 370.7,494.7 373.9,493.8 370.8,492.8" fill="#0049f5"/>
<polygon points="373.9,493.8 377.0,494.6 380.2,493.7 377.1,492.9" fill="#0049eb"/>
<polygon points="380.2,493.7 383.3,494.2 386.5,493.3 383.4,492.8" fill="#004ddf"/>
<polygon points="386.5,493.3 389.7,493.5 392.9,492.6 389.8,492.4" fill="#0054d4"/>
<polygon points="392.9,492.6 396.0,492.6 399.2,491.7 396.1,491.7" fill="#005dc8"/>
<polygon points="399.2,491.7 402.4,491.3 405.6,490.5 402.5,490.8" fill="#0069bc"/>
<polygon points="405.6,490.5 408.7,489.9 412.0,489.0 408.8,489.6" fill="#0075b0"/>
<polygon points="412.0,489.0 415.1,488.1 418.3,487.2 415.2,488.1" fill="#0083a4"/>
<polygon points="358.0,494.2 361.1,495.5 364.3,494.6 361.2,493.3" fill="#0051ff"/>
<polygon points="364.3,494.6 367.4,495.6 370.7,494.7 367.5,493.7" fill="#004cf6"/>
<polygon points="370.7,494.7 373.8,495.5 377.0,494.6 373.9,493.8" fill="#004deb"/>
<polygon points="377.0,494.6 380.1,495.1 383.3,494.2 380.2,493.7" fill="#0050e0"/>
<polygon points="383.3,494.2 386.4,494.4 389.7,493.5 386.5,493.3" fill="#0057d4"/>
<polygon points="389.7,493.5 392.8,493.5 396.0,492.6 392.9,492.6" fill="#0061c9"/>
<polygon points="396.0,492.6 399.1,492.2 402.4,491.3 399.2,491.7" fill="#006cbd"/>
<polygon points="402.4,491.3 405.5,490.8 408.7,489.9 405.6,490.5" fill="#0079b1"/>
<polygon points="408.7,489.9 411.9,489.0 415.1,488.1 412.0,489.0" fill="#0086a5"/>
<polygon points="361.1,495.5 364.2,496.6 367.4,495.6 364.3,494.6" fill="#004ff6"/>
<polygon points="367.4,495.6 370.5,496.4 373.8,495.5 370.7,494.7" fill="#004fec"/>
<polygon points="373.8,495.5 376.9,496.0 380.1,495.1 377.0,494.6" fill="#0053e0"/>
<polygon points="380.1,495.1 383.2,495.3 386.4,494.4 383.3,494.2" fill="#005ad5"/>
<polygon points="386.4,494.4 389.5,494.4 392.8,493.5 389.7,493.5" fill="#0064c9"/>
<polygon points="392.8,493.5 395.9,493.2 399.1,492.2 396.0,492.6" fill="#006fbd"/>
<polygon points="399.1,492.2 402.3,491.7 405.5,490.8 402.4,491.3" fill="#007cb1"/>
<polygon points="405.5,490.8 408.6,489.9 411.9,489.0 408.7,489.9" fill="#0089a5"/>
<polygon points="364.2,496.6 367.3,497.3 370.5,496.4 367.4,495.6" fill="#0051ec"/>
<polygon points="370.5,496.4 373.6,496.9 376.9,496.0 373.8,495.5" fill="#0056e1"/>
<polygon points="376.9,496.0 380.0,496.3 383.2,495.3 380.1,495.1" fill="#005dd5"/>
<polygon points="383.2,495.3 386.3,495.3 389.5,494.4 386.4,494.4" fill="#0067ca"/>
<polygon points="389.5,494.4 392.7,494.1 395.9,493.2 392.8,493.5" fill="#0073be"/>
<polygon points="395.9,493.2 399.0,492.6 402.3,491.7 399.1,492.2" fill="#007fb2"/>
<polygon points="402.3,491.7 405.4,490.8 408.6,489.9 405.5,490.8" fill="#008ca6"/>
<polygon points="367.3,497.3 370.4,497.9 373.6,496.9 370.5,496.4" fill="#0058e2"/>
<polygon points="373.6,496.9 376.7,497.2 380.0,496.3 376.9,496.0" fill="#0060d6"/>
<polygon points="380.0,496.3 383.1,496.2 386.3,495.3 383.2,495.3" fill="#006aca"/>
<polygon points="386.3,495.3 389.4,495.0 392.7,494.1 389.5,494.4" fill="#0076be"/>
<polygon points="392.7,494.1 395.8,493.5 399.0,492.6 395.9,493.2" fill="#0083b2"/>
<polygon points="399.0,492.6 402.2,491.7 405.4,490.8 402.3,491.7" fill="#0090a6"/>
<polygon points="370.4,497.9 373.5,498.1 376.7,497.2 373.6,496.9" fill="#0062d6"/>
<polygon points="376.7,497.2 379.9,497.2 383.1,496.2 380.0,496.3" fill="#006dcb"/>
<polygon points="383.1,496.2 386.2,496.0 389.4,495.0 386.3,495.3" fill="#0078bf"/>
<polygon points="389.4,495.0 392.6,494.4 395.8,493.5 392.7,494.1" fill="#0085b3"/>
<polygon points="395.8,493.5 398.9,492.7 402.2,491.7 399.0,492.6" fill="#0092a7"/>
<polygon points="373.5,498.1 376.6,498.1 379.9,497.2 376.7,497.2" fill="#0070cb"/>
<polygon points="379.9,497.2 383.0,496.9 386.2,496.0 383.1,496.2" fill="#007bbf"/>
<polygon points="386.2,496.0 389.3,495.4 392.6,494.4 389.4,495.0" fill="#0088b3"/>
<polygon points="392.6,494.4 395.7,493.6 398.9,492.7 395.8,493.5" fill="#0095a7"/>
<polygon points="376.6,498.1 379.7,497.9 383.0,496.9 379.9,497.2" fill="#007ec0"/>
<polygon points="383.0,496.9 386.1,496.3 389.3,495.4 386.2,496.0" fill="#008bb4"/>
<polygon points="389.3,495.4 392.5,494.5 395.7,493.6 392.6,494.4" fill="#0098a8"/>
<polygon points="379.7,497.9 382.9,497.3 386.1,496.3 383.0,496.9" fill="#008db4"/>
<polygon points="386.1,496.3 389.2,495.5 392.5,494.5 389.3,495.4" fill="#009ba8"/>
<polygon points="382.9,497.3 386.0,496.4 389.2,495.5 386.1,496.3" fill="#009da9"/>
</g>
<path d="M321.2,423.1L325.1,508.9L385.9,536.4L449.3,509.8" fill="none" stroke="#222" stroke-width="0.7"/>
<path d="M449.3,509.8L452.9,423.1" fill="none" stroke="#555" stroke-width="0.6"/>
<path d="M325.1,508.9l-1.3,1.3" stroke="#222" stroke-width="0.6"/>
<text x="317.3" y="516.2" font-size="7.6" fill="#1c1c1c" stroke="#1c1c1c" stroke-width="0.12" text-anchor="middle" font-weight="normal" textLength="8" lengthAdjust="spacingAndGlyphs">30</text>
<path d="M385.9,536.4l1.3,1.3" stroke="#222" stroke-width="0.6"/>
<text x="391.3" y="544.1" font-size="7.6" fill="#1c1c1c" stroke="#1c1c1c" stroke-width="0.12" text-anchor="middle" font-weight="normal" textLength="3.9" lengthAdjust="spacingAndGlyphs">2</text>
<path d="M340.3,515.8l-1.3,1.3" stroke="#222" stroke-width="0.6"/>
<text x="332.5" y="523.1" font-size="7.6" fill="#1c1c1c" stroke="#1c1c1c" stroke-width="0.12" text-anchor="middle" font-weight="normal" textLength="8" lengthAdjust="spacingAndGlyphs">40</text>
<path d="M401.7,529.8l1.3,1.3" stroke="#222" stroke-width="0.6"/>
<text x="407.1" y="537.5" font-size="7.6" fill="#1c1c1c" stroke="#1c1c1c" stroke-width="0.12" text-anchor="middle" font-weight="normal" textLength="3.9" lengthAdjust="spacingAndGlyphs">3</text>
<path d="M355.5,522.6l-1.3,1.3" stroke="#222" stroke-width="0.6"/>
<text x="347.7" y="529.9" font-size="7.6" fill="#1c1c1c" stroke="#1c1c1c" stroke-width="0.12" text-anchor="middle" font-weight="normal" textLength="8" lengthAdjust="spacingAndGlyphs">50</text>
<path d="M417.6,523.1l1.3,1.3" stroke="#222" stroke-width="0.6"/>
<text x="423.0" y="530.8" font-size="7.6" fill="#1c1c1c" stroke="#1c1c1c" stroke-width="0.12" text-anchor="middle" font-weight="normal" textLength="3.9" lengthAdjust="spacingAndGlyphs">4</text>
<path d="M370.7,529.5l-1.3,1.3" stroke="#222" stroke-width="0.6"/>
<text x="362.9" y="536.8" font-size="7.6" fill="#1c1c1c" stroke="#1c1c1c" stroke-width="0.12" text-anchor="middle" font-weight="normal" textLength="8" lengthAdjust="spacingAndGlyphs">60</text>
<path d="M433.5,516.5l1.3,1.3" stroke="#222" stroke-width="0.6"/>
<text x="438.9" y="524.2" font-size="7.6" fill="#1c1c1c" stroke="#1c1c1c" stroke-width="0.12" text-anchor="middle" font-weight="normal" textLength="3.9" lengthAdjust="spacingAndGlyphs">5</text>
<path d="M385.9,536.4l-1.3,1.3" stroke="#222" stroke-width="0.6"/>
<text x="378.1" y="543.7" font-size="7.6" fill="#1c1c1c" stroke="#1c1c1c" stroke-width="0.12" text-anchor="middle" font-weight="normal" textLength="8" lengthAdjust="spacingAndGlyphs">70</text>
<path d="M449.3,509.8l1.3,1.3" stroke="#222" stroke-width="0.6"/>
<text x="454.7" y="517.5" font-size="7.6" fill="#1c1c1c" stroke="#1c1c1c" stroke-width="0.12" text-anchor="middle" font-weight="normal" textLength="3.9" lengthAdjust="spacingAndGlyphs">6</text>
<path d="M324.1,488.1h-1.4" stroke="#222" stroke-width="0.6"/>
<text x="319.0" y="486.4" font-size="7.6" fill="#1c1c1c" stroke="#1c1c1c" stroke-width="0.12" text-anchor="middle" font-weight="normal" textLength="3.9" lengthAdjust="spacingAndGlyphs">1</text>
<path d="M323.4,471.8h-1.4" stroke="#222" stroke-width="0.6"/>
<text x="318.3" y="470.1" font-size="7.6" fill="#1c1c1c" stroke="#1c1c1c" stroke-width="0.12" text-anchor="middle" font-weight="normal" textLength="3.9" lengthAdjust="spacingAndGlyphs">2</text>
<path d="M322.6,455.6h-1.4" stroke="#222" stroke-width="0.6"/>
<text x="317.5" y="453.9" font-size="7.6" fill="#1c1c1c" stroke="#1c1c1c" stroke-width="0.12" text-anchor="middle" font-weight="normal" textLength="3.9" lengthAdjust="spacingAndGlyphs">3</text>
<path d="M321.9,439.3h-1.4" stroke="#222" stroke-width="0.6"/>
<text x="316.8" y="437.6" font-size="7.6" fill="#1c1c1c" stroke="#1c1c1c" stroke-width="0.12" text-anchor="middle" font-weight="normal" textLength="3.9" lengthAdjust="spacingAndGlyphs">4</text>
<path d="M321.2,423.1h-1.4" stroke="#222" stroke-width="0.6"/>
<text x="316.1" y="421.4" font-size="7.6" fill="#1c1c1c" stroke="#1c1c1c" stroke-width="0.12" text-anchor="middle" font-weight="normal" textLength="3.9" lengthAdjust="spacingAndGlyphs">5</text>
<text x="397.6" y="384.7" font-size="6.1" fill="#1c1c1c" stroke="#1c1c1c" stroke-width="0.12" text-anchor="middle" font-weight="normal" textLength="31.2" lengthAdjust="spacingAndGlyphs">3D Surface</text>
<text transform="translate(306.1,468.2) rotate(-90)" font-size="8.1" fill="#1a1a1a" stroke="#1a1a1a" stroke-width="0.12" text-anchor="middle" textLength="15.2" lengthAdjust="spacingAndGlyphs">TFCs</text>
<text x="305.5" y="538.6" font-size="7.8" fill="#1c1c1c" stroke="#1c1c1c" stroke-width="0.12" text-anchor="start" font-weight="normal" textLength="50.7" lengthAdjust="spacingAndGlyphs">X2 : Temp (°C)</text>
<text x="413.0" y="539.0" font-size="7.8" fill="#1c1c1c" stroke="#1c1c1c" stroke-width="0.12" text-anchor="start" font-weight="normal" textLength="57" lengthAdjust="spacingAndGlyphs">X3: Time (hours)</text>
<circle cx="323.0" cy="463.0" r="1.4" fill="#a00000" stroke="#500" stroke-width="0.4"/>
<circle cx="388.2" cy="450.9" r="1.4" fill="#a00000" stroke="#500" stroke-width="0.4"/>
<circle cx="450.6" cy="479.1" r="1.45" fill="#fff2f2" stroke="#903030" stroke-width="0.55"/>
<circle cx="386.0" cy="496.8" r="1.45" fill="#fff2f2" stroke="#903030" stroke-width="0.55"/>
<circle cx="387.1" cy="482.6" r="1.4" fill="#a00000" stroke="#500" stroke-width="0.4"/>
<text x="78.4" y="374.2" font-size="18.4" fill="#000" stroke="#000" stroke-width="0.3" text-anchor="start" font-weight="normal" textLength="13.2" lengthAdjust="spacingAndGlyphs">E.</text>
<text x="313.8" y="378.3" font-size="18.4" fill="#000" stroke="#000" stroke-width="0.3" text-anchor="start" font-weight="normal" textLength="11.3" lengthAdjust="spacingAndGlyphs">F.</text>
</svg></body></html>
